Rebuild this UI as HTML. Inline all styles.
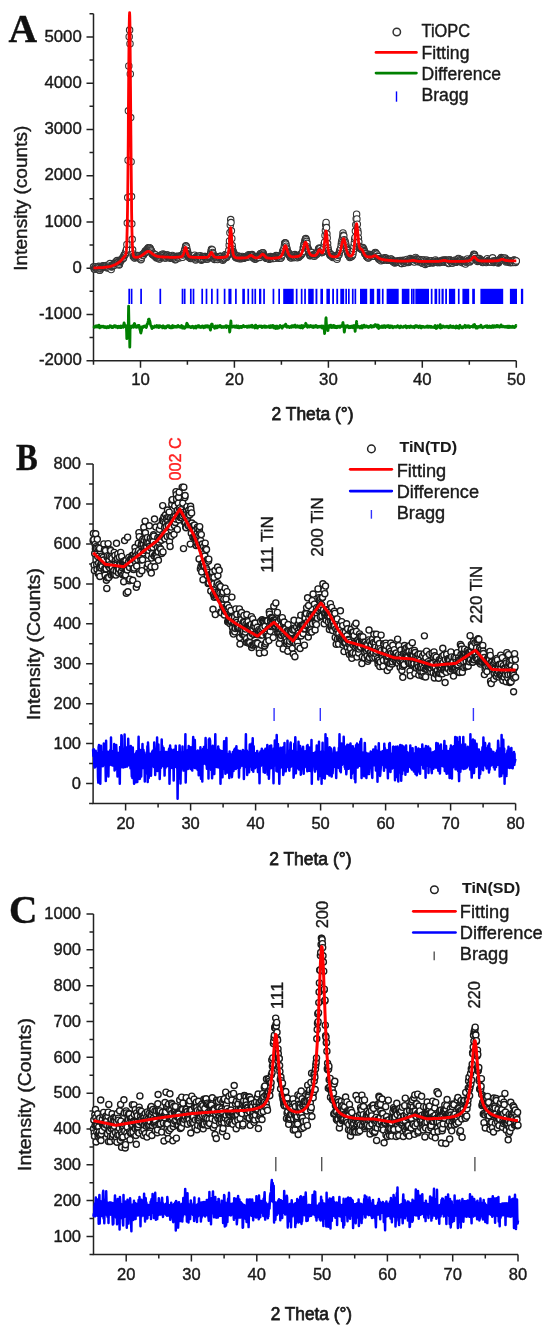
<!DOCTYPE html>
<html><head><meta charset="utf-8"><title>XRD Rietveld refinement</title>
<style>
html,body{margin:0;padding:0;background:#fff;}
svg{display:block;}
text{font-family:"Liberation Sans",Arial,sans-serif;stroke-width:0.4px;}
.ax{fill:none;stroke:#222;stroke-width:1.5;}
.oa circle{fill:#fff;stroke:#333;stroke-width:1.1;}
.ob circle{fill:#fff;stroke:#1a1a1a;stroke-width:1.35;}
.fitA{fill:none;stroke:#ff0000;stroke-width:2.8;stroke-linejoin:round;}
.fitB,.fitC{fill:none;stroke:#ff0000;stroke-width:3;stroke-linejoin:round;}
.difA{fill:none;stroke:#008000;stroke-width:2.8;stroke-linejoin:round;}
.difB{fill:none;stroke:#0000ff;stroke-width:2.5;stroke-linejoin:round;}
.bgA{stroke:#0000ff;stroke-width:1.7;}
</style></head>
<body><svg width="550" height="1330" viewBox="0 0 550 1330">
<rect width="550" height="1330" fill="#fff"/>
<g id="A"><path class="ax" d="M93.5,13.8V360.7H516.3"/><path class="ax" d="M86.5,360.7H93.5M86.5,314.5H93.5M86.5,268.2H93.5M86.5,221.9H93.5M86.5,175.7H93.5M86.5,129.4H93.5M86.5,83.2H93.5M86.5,36.9H93.5M89.5,337.6H93.5M89.5,291.3H93.5M89.5,245.1H93.5M89.5,198.8H93.5M89.5,152.5H93.5M89.5,106.3H93.5M89.5,60H93.5M89.5,13.8H93.5M140.5,360.7V367.7M234.4,360.7V367.7M328.4,360.7V367.7M422.3,360.7V367.7M516.3,360.7V367.7M93.5,360.7V364.7M187.4,360.7V364.7M281.4,360.7V364.7M375.3,360.7V364.7M469.3,360.7V364.7"/><text x="81.8" y="365.3" font-size="16.8" text-anchor="end" fill="#1a1a1a" stroke="#1a1a1a" >-2000</text><text x="81.8" y="319.1" font-size="16.8" text-anchor="end" fill="#1a1a1a" stroke="#1a1a1a" >-1000</text><text x="81.8" y="272.8" font-size="16.8" text-anchor="end" fill="#1a1a1a" stroke="#1a1a1a" >0</text><text x="81.8" y="226.5" font-size="16.8" text-anchor="end" fill="#1a1a1a" stroke="#1a1a1a" >1000</text><text x="81.8" y="180.3" font-size="16.8" text-anchor="end" fill="#1a1a1a" stroke="#1a1a1a" >2000</text><text x="81.8" y="134" font-size="16.8" text-anchor="end" fill="#1a1a1a" stroke="#1a1a1a" >3000</text><text x="81.8" y="87.8" font-size="16.8" text-anchor="end" fill="#1a1a1a" stroke="#1a1a1a" >4000</text><text x="81.8" y="41.5" font-size="16.8" text-anchor="end" fill="#1a1a1a" stroke="#1a1a1a" >5000</text><text x="140.5" y="384.8" font-size="16.8" text-anchor="middle" fill="#1a1a1a" stroke="#1a1a1a" >10</text><text x="234.4" y="384.8" font-size="16.8" text-anchor="middle" fill="#1a1a1a" stroke="#1a1a1a" >20</text><text x="328.4" y="384.8" font-size="16.8" text-anchor="middle" fill="#1a1a1a" stroke="#1a1a1a" >30</text><text x="422.3" y="384.8" font-size="16.8" text-anchor="middle" fill="#1a1a1a" stroke="#1a1a1a" >40</text><text x="516.3" y="384.8" font-size="16.8" text-anchor="middle" fill="#1a1a1a" stroke="#1a1a1a" >50</text><g class="oa"><circle cx="93.5" cy="267" r="3.2"/><circle cx="93.9" cy="266.8" r="3.2"/><circle cx="94.3" cy="269" r="3.2"/><circle cx="94.6" cy="268.9" r="3.2"/><circle cx="95" cy="269.1" r="3.2"/><circle cx="95.4" cy="267.7" r="3.2"/><circle cx="95.8" cy="266.7" r="3.2"/><circle cx="96.1" cy="266.8" r="3.2"/><circle cx="96.5" cy="268.1" r="3.2"/><circle cx="96.9" cy="268.7" r="3.2"/><circle cx="97.3" cy="268.4" r="3.2"/><circle cx="97.6" cy="268.3" r="3.2"/><circle cx="98" cy="267.8" r="3.2"/><circle cx="98.4" cy="267" r="3.2"/><circle cx="98.8" cy="266.3" r="3.2"/><circle cx="99.1" cy="267.2" r="3.2"/><circle cx="99.5" cy="270.3" r="3.2"/><circle cx="99.9" cy="270.3" r="3.2"/><circle cx="100.3" cy="269" r="3.2"/><circle cx="100.6" cy="268.3" r="3.2"/><circle cx="101" cy="267" r="3.2"/><circle cx="101.4" cy="267" r="3.2"/><circle cx="101.8" cy="266.5" r="3.2"/><circle cx="102.1" cy="266.3" r="3.2"/><circle cx="102.5" cy="266.6" r="3.2"/><circle cx="102.9" cy="266.4" r="3.2"/><circle cx="103.3" cy="266.1" r="3.2"/><circle cx="103.6" cy="265.9" r="3.2"/><circle cx="104" cy="266.9" r="3.2"/><circle cx="104.4" cy="266.7" r="3.2"/><circle cx="104.8" cy="265.7" r="3.2"/><circle cx="105.1" cy="265.9" r="3.2"/><circle cx="105.5" cy="266.5" r="3.2"/><circle cx="105.9" cy="267.1" r="3.2"/><circle cx="106.3" cy="265.4" r="3.2"/><circle cx="106.7" cy="266.3" r="3.2"/><circle cx="107" cy="266.2" r="3.2"/><circle cx="107.4" cy="268.1" r="3.2"/><circle cx="107.8" cy="267" r="3.2"/><circle cx="108.2" cy="267.5" r="3.2"/><circle cx="108.5" cy="266.5" r="3.2"/><circle cx="108.9" cy="267.5" r="3.2"/><circle cx="109.3" cy="265.7" r="3.2"/><circle cx="109.7" cy="265.1" r="3.2"/><circle cx="110" cy="263.6" r="3.2"/><circle cx="110.4" cy="265.7" r="3.2"/><circle cx="110.8" cy="267.2" r="3.2"/><circle cx="111.2" cy="269.5" r="3.2"/><circle cx="111.5" cy="267" r="3.2"/><circle cx="111.9" cy="266.4" r="3.2"/><circle cx="112.3" cy="265" r="3.2"/><circle cx="112.7" cy="266.3" r="3.2"/><circle cx="113" cy="265.4" r="3.2"/><circle cx="113.4" cy="265.3" r="3.2"/><circle cx="113.8" cy="264.8" r="3.2"/><circle cx="114.2" cy="264.6" r="3.2"/><circle cx="114.5" cy="265.2" r="3.2"/><circle cx="114.9" cy="264.1" r="3.2"/><circle cx="115.3" cy="262.7" r="3.2"/><circle cx="115.7" cy="262.1" r="3.2"/><circle cx="116" cy="263.3" r="3.2"/><circle cx="116.4" cy="262.5" r="3.2"/><circle cx="116.8" cy="261" r="3.2"/><circle cx="117.2" cy="260.6" r="3.2"/><circle cx="117.6" cy="261.7" r="3.2"/><circle cx="117.9" cy="263.3" r="3.2"/><circle cx="118.3" cy="262.3" r="3.2"/><circle cx="118.7" cy="264.3" r="3.2"/><circle cx="119.1" cy="265.1" r="3.2"/><circle cx="119.4" cy="264.3" r="3.2"/><circle cx="119.8" cy="262.8" r="3.2"/><circle cx="120.2" cy="261.4" r="3.2"/><circle cx="120.6" cy="260.5" r="3.2"/><circle cx="120.9" cy="259.7" r="3.2"/><circle cx="121.3" cy="260" r="3.2"/><circle cx="121.7" cy="259.2" r="3.2"/><circle cx="122.1" cy="259" r="3.2"/><circle cx="122.4" cy="258.8" r="3.2"/><circle cx="122.8" cy="257.8" r="3.2"/><circle cx="123.2" cy="258.4" r="3.2"/><circle cx="123.6" cy="257.7" r="3.2"/><circle cx="123.9" cy="255.9" r="3.2"/><circle cx="124.3" cy="254.9" r="3.2"/><circle cx="124.7" cy="255.1" r="3.2"/><circle cx="125.1" cy="254.4" r="3.2"/><circle cx="125.4" cy="253.1" r="3.2"/><circle cx="125.8" cy="252.5" r="3.2"/><circle cx="126.2" cy="250.5" r="3.2"/><circle cx="126.6" cy="249.2" r="3.2"/><circle cx="126.9" cy="244.4" r="3.2"/><circle cx="127.3" cy="223.1" r="3.2"/><circle cx="127.7" cy="197.6" r="3.2"/><circle cx="128.1" cy="160.2" r="3.2"/><circle cx="128.4" cy="110.8" r="3.2"/><circle cx="128.8" cy="65.9" r="3.2"/><circle cx="129.2" cy="36.7" r="3.2"/><circle cx="129.6" cy="30.1" r="3.2"/><circle cx="130" cy="43.7" r="3.2"/><circle cx="130.3" cy="73.9" r="3.2"/><circle cx="130.7" cy="117.6" r="3.2"/><circle cx="131.1" cy="161.7" r="3.2"/><circle cx="131.5" cy="196.6" r="3.2"/><circle cx="131.8" cy="223.8" r="3.2"/><circle cx="132.2" cy="239.3" r="3.2"/><circle cx="132.6" cy="249.8" r="3.2"/><circle cx="133" cy="254" r="3.2"/><circle cx="133.3" cy="256.4" r="3.2"/><circle cx="133.7" cy="256.4" r="3.2"/><circle cx="134.1" cy="257" r="3.2"/><circle cx="134.5" cy="257.7" r="3.2"/><circle cx="134.8" cy="258.1" r="3.2"/><circle cx="135.2" cy="256.9" r="3.2"/><circle cx="135.6" cy="255.9" r="3.2"/><circle cx="136" cy="255.5" r="3.2"/><circle cx="136.3" cy="257.2" r="3.2"/><circle cx="136.7" cy="256.7" r="3.2"/><circle cx="137.1" cy="257.1" r="3.2"/><circle cx="137.5" cy="255.6" r="3.2"/><circle cx="137.8" cy="257.3" r="3.2"/><circle cx="138.2" cy="256.3" r="3.2"/><circle cx="138.6" cy="256.4" r="3.2"/><circle cx="139" cy="255.9" r="3.2"/><circle cx="139.3" cy="256.9" r="3.2"/><circle cx="139.7" cy="258.2" r="3.2"/><circle cx="140.1" cy="258.1" r="3.2"/><circle cx="140.5" cy="259.1" r="3.2"/><circle cx="140.9" cy="259.8" r="3.2"/><circle cx="141.2" cy="258.9" r="3.2"/><circle cx="141.6" cy="257.2" r="3.2"/><circle cx="142" cy="254.9" r="3.2"/><circle cx="142.4" cy="254.5" r="3.2"/><circle cx="142.7" cy="255.1" r="3.2"/><circle cx="143.1" cy="254.8" r="3.2"/><circle cx="143.5" cy="255" r="3.2"/><circle cx="143.9" cy="253.4" r="3.2"/><circle cx="144.2" cy="253.4" r="3.2"/><circle cx="144.6" cy="252.9" r="3.2"/><circle cx="145" cy="251.7" r="3.2"/><circle cx="145.4" cy="251" r="3.2"/><circle cx="145.7" cy="251.1" r="3.2"/><circle cx="146.1" cy="251.9" r="3.2"/><circle cx="146.5" cy="251.6" r="3.2"/><circle cx="146.9" cy="249.7" r="3.2"/><circle cx="147.2" cy="249.5" r="3.2"/><circle cx="147.6" cy="249.4" r="3.2"/><circle cx="148" cy="248.3" r="3.2"/><circle cx="148.4" cy="247.8" r="3.2"/><circle cx="148.7" cy="248.4" r="3.2"/><circle cx="149.1" cy="247.9" r="3.2"/><circle cx="149.5" cy="247.9" r="3.2"/><circle cx="149.9" cy="247.9" r="3.2"/><circle cx="150.2" cy="248.8" r="3.2"/><circle cx="150.6" cy="250.1" r="3.2"/><circle cx="151" cy="250.2" r="3.2"/><circle cx="151.4" cy="251" r="3.2"/><circle cx="151.7" cy="252.2" r="3.2"/><circle cx="152.1" cy="254" r="3.2"/><circle cx="152.5" cy="254.3" r="3.2"/><circle cx="152.9" cy="254.3" r="3.2"/><circle cx="153.3" cy="253.5" r="3.2"/><circle cx="153.6" cy="254.7" r="3.2"/><circle cx="154" cy="255.1" r="3.2"/><circle cx="154.4" cy="255.9" r="3.2"/><circle cx="154.8" cy="254.5" r="3.2"/><circle cx="155.1" cy="254.9" r="3.2"/><circle cx="155.5" cy="255" r="3.2"/><circle cx="155.9" cy="256.9" r="3.2"/><circle cx="156.3" cy="257.3" r="3.2"/><circle cx="156.6" cy="258.1" r="3.2"/><circle cx="157" cy="257.1" r="3.2"/><circle cx="157.4" cy="257.4" r="3.2"/><circle cx="157.8" cy="257.3" r="3.2"/><circle cx="158.1" cy="256.9" r="3.2"/><circle cx="158.5" cy="258" r="3.2"/><circle cx="158.9" cy="258.3" r="3.2"/><circle cx="159.3" cy="258.9" r="3.2"/><circle cx="159.6" cy="257.8" r="3.2"/><circle cx="160" cy="258.8" r="3.2"/><circle cx="160.4" cy="257.4" r="3.2"/><circle cx="160.8" cy="256.3" r="3.2"/><circle cx="161.1" cy="255" r="3.2"/><circle cx="161.5" cy="254.9" r="3.2"/><circle cx="161.9" cy="255.3" r="3.2"/><circle cx="162.3" cy="255.1" r="3.2"/><circle cx="162.6" cy="254.8" r="3.2"/><circle cx="163" cy="254" r="3.2"/><circle cx="163.4" cy="254.8" r="3.2"/><circle cx="163.8" cy="255.4" r="3.2"/><circle cx="164.2" cy="256.7" r="3.2"/><circle cx="164.5" cy="257.5" r="3.2"/><circle cx="164.9" cy="257.5" r="3.2"/><circle cx="165.3" cy="257.9" r="3.2"/><circle cx="165.7" cy="258.1" r="3.2"/><circle cx="166" cy="256.9" r="3.2"/><circle cx="166.4" cy="255.4" r="3.2"/><circle cx="166.8" cy="255.3" r="3.2"/><circle cx="167.2" cy="255.6" r="3.2"/><circle cx="167.5" cy="255.1" r="3.2"/><circle cx="167.9" cy="255.5" r="3.2"/><circle cx="168.3" cy="257.2" r="3.2"/><circle cx="168.7" cy="256.7" r="3.2"/><circle cx="169" cy="256.5" r="3.2"/><circle cx="169.4" cy="256.3" r="3.2"/><circle cx="169.8" cy="257.2" r="3.2"/><circle cx="170.2" cy="258.3" r="3.2"/><circle cx="170.5" cy="257.6" r="3.2"/><circle cx="170.9" cy="257.5" r="3.2"/><circle cx="171.3" cy="257" r="3.2"/><circle cx="171.7" cy="256.6" r="3.2"/><circle cx="172" cy="256" r="3.2"/><circle cx="172.4" cy="255.4" r="3.2"/><circle cx="172.8" cy="256.4" r="3.2"/><circle cx="173.2" cy="256.9" r="3.2"/><circle cx="173.5" cy="257" r="3.2"/><circle cx="173.9" cy="257.2" r="3.2"/><circle cx="174.3" cy="258" r="3.2"/><circle cx="174.7" cy="258.6" r="3.2"/><circle cx="175" cy="259.5" r="3.2"/><circle cx="175.4" cy="259.7" r="3.2"/><circle cx="175.8" cy="259" r="3.2"/><circle cx="176.2" cy="259" r="3.2"/><circle cx="176.6" cy="257.5" r="3.2"/><circle cx="176.9" cy="256.2" r="3.2"/><circle cx="177.3" cy="256.6" r="3.2"/><circle cx="177.7" cy="256.7" r="3.2"/><circle cx="178.1" cy="257.6" r="3.2"/><circle cx="178.4" cy="258.1" r="3.2"/><circle cx="178.8" cy="256.6" r="3.2"/><circle cx="179.2" cy="256.6" r="3.2"/><circle cx="179.6" cy="256.5" r="3.2"/><circle cx="179.9" cy="257.7" r="3.2"/><circle cx="180.3" cy="256" r="3.2"/><circle cx="180.7" cy="255.9" r="3.2"/><circle cx="181.1" cy="256.2" r="3.2"/><circle cx="181.4" cy="256.1" r="3.2"/><circle cx="181.8" cy="256" r="3.2"/><circle cx="182.2" cy="257" r="3.2"/><circle cx="182.6" cy="257.3" r="3.2"/><circle cx="182.9" cy="255" r="3.2"/><circle cx="183.3" cy="253.7" r="3.2"/><circle cx="183.7" cy="253.6" r="3.2"/><circle cx="184.1" cy="252.9" r="3.2"/><circle cx="184.4" cy="251.6" r="3.2"/><circle cx="184.8" cy="250.1" r="3.2"/><circle cx="185.2" cy="248.7" r="3.2"/><circle cx="185.6" cy="246.6" r="3.2"/><circle cx="185.9" cy="245.7" r="3.2"/><circle cx="186.3" cy="246.4" r="3.2"/><circle cx="186.7" cy="248" r="3.2"/><circle cx="187.1" cy="250.4" r="3.2"/><circle cx="187.5" cy="251.6" r="3.2"/><circle cx="187.8" cy="253.8" r="3.2"/><circle cx="188.2" cy="254.3" r="3.2"/><circle cx="188.6" cy="254.6" r="3.2"/><circle cx="189" cy="255.8" r="3.2"/><circle cx="189.3" cy="257.4" r="3.2"/><circle cx="189.7" cy="257.7" r="3.2"/><circle cx="190.1" cy="257.8" r="3.2"/><circle cx="190.5" cy="258.3" r="3.2"/><circle cx="190.8" cy="258.5" r="3.2"/><circle cx="191.2" cy="257.6" r="3.2"/><circle cx="191.6" cy="257.7" r="3.2"/><circle cx="192" cy="256.1" r="3.2"/><circle cx="192.3" cy="257.2" r="3.2"/><circle cx="192.7" cy="257.6" r="3.2"/><circle cx="193.1" cy="258.4" r="3.2"/><circle cx="193.5" cy="258.2" r="3.2"/><circle cx="193.8" cy="257.5" r="3.2"/><circle cx="194.2" cy="256.7" r="3.2"/><circle cx="194.6" cy="255.2" r="3.2"/><circle cx="195" cy="257.7" r="3.2"/><circle cx="195.3" cy="258.5" r="3.2"/><circle cx="195.7" cy="260" r="3.2"/><circle cx="196.1" cy="259" r="3.2"/><circle cx="196.5" cy="257.8" r="3.2"/><circle cx="196.8" cy="256.2" r="3.2"/><circle cx="197.2" cy="257.5" r="3.2"/><circle cx="197.6" cy="256.6" r="3.2"/><circle cx="198" cy="258.3" r="3.2"/><circle cx="198.3" cy="256.9" r="3.2"/><circle cx="198.7" cy="257.2" r="3.2"/><circle cx="199.1" cy="256.6" r="3.2"/><circle cx="199.5" cy="256.6" r="3.2"/><circle cx="199.9" cy="256.5" r="3.2"/><circle cx="200.2" cy="255.8" r="3.2"/><circle cx="200.6" cy="257.2" r="3.2"/><circle cx="201" cy="258.4" r="3.2"/><circle cx="201.4" cy="260.2" r="3.2"/><circle cx="201.7" cy="259.4" r="3.2"/><circle cx="202.1" cy="258.9" r="3.2"/><circle cx="202.5" cy="256.5" r="3.2"/><circle cx="202.9" cy="256.8" r="3.2"/><circle cx="203.2" cy="257.2" r="3.2"/><circle cx="203.6" cy="258.8" r="3.2"/><circle cx="204" cy="256.8" r="3.2"/><circle cx="204.4" cy="256.9" r="3.2"/><circle cx="204.7" cy="256.5" r="3.2"/><circle cx="205.1" cy="256.9" r="3.2"/><circle cx="205.5" cy="256.6" r="3.2"/><circle cx="205.9" cy="257.6" r="3.2"/><circle cx="206.2" cy="259.1" r="3.2"/><circle cx="206.6" cy="259" r="3.2"/><circle cx="207" cy="258.8" r="3.2"/><circle cx="207.4" cy="257.9" r="3.2"/><circle cx="207.7" cy="259" r="3.2"/><circle cx="208.1" cy="258" r="3.2"/><circle cx="208.5" cy="257.6" r="3.2"/><circle cx="208.9" cy="257.1" r="3.2"/><circle cx="209.2" cy="256.8" r="3.2"/><circle cx="209.6" cy="256.8" r="3.2"/><circle cx="210" cy="256.4" r="3.2"/><circle cx="210.4" cy="255.3" r="3.2"/><circle cx="210.7" cy="253.2" r="3.2"/><circle cx="211.1" cy="250.9" r="3.2"/><circle cx="211.5" cy="249.3" r="3.2"/><circle cx="211.9" cy="249.7" r="3.2"/><circle cx="212.3" cy="249.9" r="3.2"/><circle cx="212.6" cy="252.4" r="3.2"/><circle cx="213" cy="253.5" r="3.2"/><circle cx="213.4" cy="255.2" r="3.2"/><circle cx="213.8" cy="256.8" r="3.2"/><circle cx="214.1" cy="258.4" r="3.2"/><circle cx="214.5" cy="259.4" r="3.2"/><circle cx="214.9" cy="258.8" r="3.2"/><circle cx="215.3" cy="257.2" r="3.2"/><circle cx="215.6" cy="257" r="3.2"/><circle cx="216" cy="256.8" r="3.2"/><circle cx="216.4" cy="257.4" r="3.2"/><circle cx="216.8" cy="257.8" r="3.2"/><circle cx="217.1" cy="259.3" r="3.2"/><circle cx="217.5" cy="259.5" r="3.2"/><circle cx="217.9" cy="258.1" r="3.2"/><circle cx="218.3" cy="257.1" r="3.2"/><circle cx="218.6" cy="257" r="3.2"/><circle cx="219" cy="256.9" r="3.2"/><circle cx="219.4" cy="257.4" r="3.2"/><circle cx="219.8" cy="256.5" r="3.2"/><circle cx="220.1" cy="256.4" r="3.2"/><circle cx="220.5" cy="256.3" r="3.2"/><circle cx="220.9" cy="256.6" r="3.2"/><circle cx="221.3" cy="258.3" r="3.2"/><circle cx="221.6" cy="258" r="3.2"/><circle cx="222" cy="259.1" r="3.2"/><circle cx="222.4" cy="258.7" r="3.2"/><circle cx="222.8" cy="260.3" r="3.2"/><circle cx="223.2" cy="259.2" r="3.2"/><circle cx="223.5" cy="258.6" r="3.2"/><circle cx="223.9" cy="257.6" r="3.2"/><circle cx="224.3" cy="257.5" r="3.2"/><circle cx="224.7" cy="258" r="3.2"/><circle cx="225" cy="256.2" r="3.2"/><circle cx="225.4" cy="254.7" r="3.2"/><circle cx="225.8" cy="254.4" r="3.2"/><circle cx="226.2" cy="255.7" r="3.2"/><circle cx="226.5" cy="257.4" r="3.2"/><circle cx="226.9" cy="256.2" r="3.2"/><circle cx="227.3" cy="255.8" r="3.2"/><circle cx="227.7" cy="254.7" r="3.2"/><circle cx="228" cy="254.6" r="3.2"/><circle cx="228.4" cy="253.2" r="3.2"/><circle cx="228.8" cy="250.3" r="3.2"/><circle cx="229.2" cy="245.1" r="3.2"/><circle cx="229.5" cy="240.9" r="3.2"/><circle cx="229.9" cy="232.7" r="3.2"/><circle cx="230.3" cy="225" r="3.2"/><circle cx="230.7" cy="219.6" r="3.2"/><circle cx="231" cy="222.6" r="3.2"/><circle cx="231.4" cy="230.8" r="3.2"/><circle cx="231.8" cy="238.5" r="3.2"/><circle cx="232.2" cy="245.6" r="3.2"/><circle cx="232.5" cy="249.1" r="3.2"/><circle cx="232.9" cy="251.2" r="3.2"/><circle cx="233.3" cy="252.1" r="3.2"/><circle cx="233.7" cy="252.8" r="3.2"/><circle cx="234" cy="253.7" r="3.2"/><circle cx="234.4" cy="254.4" r="3.2"/><circle cx="234.8" cy="255.3" r="3.2"/><circle cx="235.2" cy="256.2" r="3.2"/><circle cx="235.6" cy="257.1" r="3.2"/><circle cx="235.9" cy="257.5" r="3.2"/><circle cx="236.3" cy="257.2" r="3.2"/><circle cx="236.7" cy="258" r="3.2"/><circle cx="237.1" cy="257.6" r="3.2"/><circle cx="237.4" cy="257.3" r="3.2"/><circle cx="237.8" cy="256.1" r="3.2"/><circle cx="238.2" cy="256.2" r="3.2"/><circle cx="238.6" cy="257.4" r="3.2"/><circle cx="238.9" cy="258.3" r="3.2"/><circle cx="239.3" cy="258.7" r="3.2"/><circle cx="239.7" cy="257.9" r="3.2"/><circle cx="240.1" cy="256.5" r="3.2"/><circle cx="240.4" cy="256.9" r="3.2"/><circle cx="240.8" cy="257.6" r="3.2"/><circle cx="241.2" cy="258.7" r="3.2"/><circle cx="241.6" cy="257.4" r="3.2"/><circle cx="241.9" cy="257.9" r="3.2"/><circle cx="242.3" cy="256.4" r="3.2"/><circle cx="242.7" cy="257.8" r="3.2"/><circle cx="243.1" cy="257.3" r="3.2"/><circle cx="243.4" cy="258" r="3.2"/><circle cx="243.8" cy="258.2" r="3.2"/><circle cx="244.2" cy="257.7" r="3.2"/><circle cx="244.6" cy="257.6" r="3.2"/><circle cx="244.9" cy="257.2" r="3.2"/><circle cx="245.3" cy="257.3" r="3.2"/><circle cx="245.7" cy="257.6" r="3.2"/><circle cx="246.1" cy="256.4" r="3.2"/><circle cx="246.5" cy="257.1" r="3.2"/><circle cx="246.8" cy="256.8" r="3.2"/><circle cx="247.2" cy="256.9" r="3.2"/><circle cx="247.6" cy="256.7" r="3.2"/><circle cx="248" cy="255.4" r="3.2"/><circle cx="248.3" cy="256" r="3.2"/><circle cx="248.7" cy="254.7" r="3.2"/><circle cx="249.1" cy="256.1" r="3.2"/><circle cx="249.5" cy="255.7" r="3.2"/><circle cx="249.8" cy="256.7" r="3.2"/><circle cx="250.2" cy="254.8" r="3.2"/><circle cx="250.6" cy="254.9" r="3.2"/><circle cx="251" cy="254.7" r="3.2"/><circle cx="251.3" cy="255.8" r="3.2"/><circle cx="251.7" cy="255.6" r="3.2"/><circle cx="252.1" cy="254.6" r="3.2"/><circle cx="252.5" cy="255.3" r="3.2"/><circle cx="252.8" cy="255.8" r="3.2"/><circle cx="253.2" cy="257.2" r="3.2"/><circle cx="253.6" cy="258.3" r="3.2"/><circle cx="254" cy="257.8" r="3.2"/><circle cx="254.3" cy="256.8" r="3.2"/><circle cx="254.7" cy="257.6" r="3.2"/><circle cx="255.1" cy="259.3" r="3.2"/><circle cx="255.5" cy="258.5" r="3.2"/><circle cx="255.8" cy="258.8" r="3.2"/><circle cx="256.2" cy="257.9" r="3.2"/><circle cx="256.6" cy="257.6" r="3.2"/><circle cx="257" cy="257.1" r="3.2"/><circle cx="257.3" cy="257.6" r="3.2"/><circle cx="257.7" cy="256.2" r="3.2"/><circle cx="258.1" cy="256.4" r="3.2"/><circle cx="258.5" cy="256.3" r="3.2"/><circle cx="258.9" cy="257" r="3.2"/><circle cx="259.2" cy="257.2" r="3.2"/><circle cx="259.6" cy="257.4" r="3.2"/><circle cx="260" cy="255.8" r="3.2"/><circle cx="260.4" cy="253.8" r="3.2"/><circle cx="260.7" cy="253.7" r="3.2"/><circle cx="261.1" cy="255.1" r="3.2"/><circle cx="261.5" cy="255" r="3.2"/><circle cx="261.9" cy="255.1" r="3.2"/><circle cx="262.2" cy="253.5" r="3.2"/><circle cx="262.6" cy="252.8" r="3.2"/><circle cx="263" cy="252.8" r="3.2"/><circle cx="263.4" cy="254.1" r="3.2"/><circle cx="263.7" cy="255.3" r="3.2"/><circle cx="264.1" cy="255.9" r="3.2"/><circle cx="264.5" cy="256.3" r="3.2"/><circle cx="264.9" cy="257.1" r="3.2"/><circle cx="265.2" cy="257.2" r="3.2"/><circle cx="265.6" cy="257.2" r="3.2"/><circle cx="266" cy="258.2" r="3.2"/><circle cx="266.4" cy="258" r="3.2"/><circle cx="266.7" cy="257.7" r="3.2"/><circle cx="267.1" cy="258.1" r="3.2"/><circle cx="267.5" cy="258" r="3.2"/><circle cx="267.9" cy="257.9" r="3.2"/><circle cx="268.2" cy="257.6" r="3.2"/><circle cx="268.6" cy="258.4" r="3.2"/><circle cx="269" cy="259" r="3.2"/><circle cx="269.4" cy="259.3" r="3.2"/><circle cx="269.8" cy="258.6" r="3.2"/><circle cx="270.1" cy="257.4" r="3.2"/><circle cx="270.5" cy="256.5" r="3.2"/><circle cx="270.9" cy="256.7" r="3.2"/><circle cx="271.3" cy="257.5" r="3.2"/><circle cx="271.6" cy="258.2" r="3.2"/><circle cx="272" cy="257.7" r="3.2"/><circle cx="272.4" cy="258.4" r="3.2"/><circle cx="272.8" cy="257.7" r="3.2"/><circle cx="273.1" cy="257.7" r="3.2"/><circle cx="273.5" cy="258.6" r="3.2"/><circle cx="273.9" cy="257.3" r="3.2"/><circle cx="274.3" cy="256.8" r="3.2"/><circle cx="274.6" cy="257.2" r="3.2"/><circle cx="275" cy="257.9" r="3.2"/><circle cx="275.4" cy="258.3" r="3.2"/><circle cx="275.8" cy="256.5" r="3.2"/><circle cx="276.1" cy="255.5" r="3.2"/><circle cx="276.5" cy="256.1" r="3.2"/><circle cx="276.9" cy="256.1" r="3.2"/><circle cx="277.3" cy="256.1" r="3.2"/><circle cx="277.6" cy="257.1" r="3.2"/><circle cx="278" cy="257.6" r="3.2"/><circle cx="278.4" cy="258.1" r="3.2"/><circle cx="278.8" cy="257.5" r="3.2"/><circle cx="279.1" cy="257.8" r="3.2"/><circle cx="279.5" cy="258" r="3.2"/><circle cx="279.9" cy="257.8" r="3.2"/><circle cx="280.3" cy="257.9" r="3.2"/><circle cx="280.6" cy="257.9" r="3.2"/><circle cx="281" cy="258" r="3.2"/><circle cx="281.4" cy="256.7" r="3.2"/><circle cx="281.8" cy="255.3" r="3.2"/><circle cx="282.2" cy="254.8" r="3.2"/><circle cx="282.5" cy="252.6" r="3.2"/><circle cx="282.9" cy="251.1" r="3.2"/><circle cx="283.3" cy="250.2" r="3.2"/><circle cx="283.7" cy="250.9" r="3.2"/><circle cx="284" cy="248.5" r="3.2"/><circle cx="284.4" cy="245.9" r="3.2"/><circle cx="284.8" cy="242.9" r="3.2"/><circle cx="285.2" cy="243" r="3.2"/><circle cx="285.5" cy="243.1" r="3.2"/><circle cx="285.9" cy="244.2" r="3.2"/><circle cx="286.3" cy="246.2" r="3.2"/><circle cx="286.7" cy="247.9" r="3.2"/><circle cx="287" cy="249.2" r="3.2"/><circle cx="287.4" cy="251.2" r="3.2"/><circle cx="287.8" cy="251.9" r="3.2"/><circle cx="288.2" cy="252.6" r="3.2"/><circle cx="288.5" cy="253.4" r="3.2"/><circle cx="288.9" cy="253.9" r="3.2"/><circle cx="289.3" cy="255.2" r="3.2"/><circle cx="289.7" cy="255.3" r="3.2"/><circle cx="290" cy="256.1" r="3.2"/><circle cx="290.4" cy="257.4" r="3.2"/><circle cx="290.8" cy="257.5" r="3.2"/><circle cx="291.2" cy="258.1" r="3.2"/><circle cx="291.5" cy="257" r="3.2"/><circle cx="291.9" cy="256.1" r="3.2"/><circle cx="292.3" cy="255.2" r="3.2"/><circle cx="292.7" cy="255.7" r="3.2"/><circle cx="293" cy="255.5" r="3.2"/><circle cx="293.4" cy="256.5" r="3.2"/><circle cx="293.8" cy="257.6" r="3.2"/><circle cx="294.2" cy="257.6" r="3.2"/><circle cx="294.6" cy="257.1" r="3.2"/><circle cx="294.9" cy="254.6" r="3.2"/><circle cx="295.3" cy="255.8" r="3.2"/><circle cx="295.7" cy="256.4" r="3.2"/><circle cx="296.1" cy="256" r="3.2"/><circle cx="296.4" cy="255.8" r="3.2"/><circle cx="296.8" cy="256.7" r="3.2"/><circle cx="297.2" cy="257.8" r="3.2"/><circle cx="297.6" cy="255.6" r="3.2"/><circle cx="297.9" cy="256.2" r="3.2"/><circle cx="298.3" cy="256" r="3.2"/><circle cx="298.7" cy="257.2" r="3.2"/><circle cx="299.1" cy="256.7" r="3.2"/><circle cx="299.4" cy="256.3" r="3.2"/><circle cx="299.8" cy="255.4" r="3.2"/><circle cx="300.2" cy="255.1" r="3.2"/><circle cx="300.6" cy="255.1" r="3.2"/><circle cx="300.9" cy="255.3" r="3.2"/><circle cx="301.3" cy="254.2" r="3.2"/><circle cx="301.7" cy="253.7" r="3.2"/><circle cx="302.1" cy="252.7" r="3.2"/><circle cx="302.4" cy="252.9" r="3.2"/><circle cx="302.8" cy="251.5" r="3.2"/><circle cx="303.2" cy="247.9" r="3.2"/><circle cx="303.6" cy="247.1" r="3.2"/><circle cx="303.9" cy="244.5" r="3.2"/><circle cx="304.3" cy="244.3" r="3.2"/><circle cx="304.7" cy="241.8" r="3.2"/><circle cx="305.1" cy="240.2" r="3.2"/><circle cx="305.5" cy="239" r="3.2"/><circle cx="305.8" cy="238.6" r="3.2"/><circle cx="306.2" cy="239.7" r="3.2"/><circle cx="306.6" cy="241.3" r="3.2"/><circle cx="307" cy="243.3" r="3.2"/><circle cx="307.3" cy="246.7" r="3.2"/><circle cx="307.7" cy="248.2" r="3.2"/><circle cx="308.1" cy="248.8" r="3.2"/><circle cx="308.5" cy="250.1" r="3.2"/><circle cx="308.8" cy="251.5" r="3.2"/><circle cx="309.2" cy="253.4" r="3.2"/><circle cx="309.6" cy="254.1" r="3.2"/><circle cx="310" cy="255.4" r="3.2"/><circle cx="310.3" cy="255.8" r="3.2"/><circle cx="310.7" cy="255.3" r="3.2"/><circle cx="311.1" cy="253.6" r="3.2"/><circle cx="311.5" cy="252.3" r="3.2"/><circle cx="311.8" cy="252.7" r="3.2"/><circle cx="312.2" cy="255" r="3.2"/><circle cx="312.6" cy="255.5" r="3.2"/><circle cx="313" cy="255.3" r="3.2"/><circle cx="313.3" cy="255.4" r="3.2"/><circle cx="313.7" cy="255.7" r="3.2"/><circle cx="314.1" cy="255.6" r="3.2"/><circle cx="314.5" cy="256.3" r="3.2"/><circle cx="314.8" cy="255" r="3.2"/><circle cx="315.2" cy="254.5" r="3.2"/><circle cx="315.6" cy="253.5" r="3.2"/><circle cx="316" cy="253.4" r="3.2"/><circle cx="316.3" cy="254.4" r="3.2"/><circle cx="316.7" cy="254.2" r="3.2"/><circle cx="317.1" cy="253.2" r="3.2"/><circle cx="317.5" cy="252.5" r="3.2"/><circle cx="317.9" cy="252.3" r="3.2"/><circle cx="318.2" cy="250.8" r="3.2"/><circle cx="318.6" cy="248.8" r="3.2"/><circle cx="319" cy="249" r="3.2"/><circle cx="319.4" cy="248" r="3.2"/><circle cx="319.7" cy="249.5" r="3.2"/><circle cx="320.1" cy="248.6" r="3.2"/><circle cx="320.5" cy="250.9" r="3.2"/><circle cx="320.9" cy="251.1" r="3.2"/><circle cx="321.2" cy="252.5" r="3.2"/><circle cx="321.6" cy="251.3" r="3.2"/><circle cx="322" cy="252.7" r="3.2"/><circle cx="322.4" cy="251.6" r="3.2"/><circle cx="322.7" cy="252" r="3.2"/><circle cx="323.1" cy="251.5" r="3.2"/><circle cx="323.5" cy="250.6" r="3.2"/><circle cx="323.9" cy="247.2" r="3.2"/><circle cx="324.2" cy="243.9" r="3.2"/><circle cx="324.6" cy="242.2" r="3.2"/><circle cx="325" cy="235.5" r="3.2"/><circle cx="325.4" cy="230.5" r="3.2"/><circle cx="325.7" cy="225.1" r="3.2"/><circle cx="326.1" cy="222.4" r="3.2"/><circle cx="326.5" cy="227.6" r="3.2"/><circle cx="326.9" cy="233.8" r="3.2"/><circle cx="327.2" cy="238" r="3.2"/><circle cx="327.6" cy="243.6" r="3.2"/><circle cx="328" cy="247.8" r="3.2"/><circle cx="328.4" cy="250.3" r="3.2"/><circle cx="328.8" cy="252.4" r="3.2"/><circle cx="329.1" cy="252.9" r="3.2"/><circle cx="329.5" cy="253.1" r="3.2"/><circle cx="329.9" cy="254.8" r="3.2"/><circle cx="330.3" cy="255.6" r="3.2"/><circle cx="330.6" cy="254.9" r="3.2"/><circle cx="331" cy="254.8" r="3.2"/><circle cx="331.4" cy="254.7" r="3.2"/><circle cx="331.8" cy="255.2" r="3.2"/><circle cx="332.1" cy="256.4" r="3.2"/><circle cx="332.5" cy="256.8" r="3.2"/><circle cx="332.9" cy="257.5" r="3.2"/><circle cx="333.3" cy="256.2" r="3.2"/><circle cx="333.6" cy="256.8" r="3.2"/><circle cx="334" cy="257.3" r="3.2"/><circle cx="334.4" cy="256.8" r="3.2"/><circle cx="334.8" cy="256.5" r="3.2"/><circle cx="335.1" cy="256.3" r="3.2"/><circle cx="335.5" cy="256.4" r="3.2"/><circle cx="335.9" cy="256.5" r="3.2"/><circle cx="336.3" cy="257.2" r="3.2"/><circle cx="336.6" cy="258.4" r="3.2"/><circle cx="337" cy="259.2" r="3.2"/><circle cx="337.4" cy="257.3" r="3.2"/><circle cx="337.8" cy="255.2" r="3.2"/><circle cx="338.1" cy="254.7" r="3.2"/><circle cx="338.5" cy="254.7" r="3.2"/><circle cx="338.9" cy="254.7" r="3.2"/><circle cx="339.3" cy="252.8" r="3.2"/><circle cx="339.6" cy="251.3" r="3.2"/><circle cx="340" cy="249.9" r="3.2"/><circle cx="340.4" cy="250.1" r="3.2"/><circle cx="340.8" cy="248" r="3.2"/><circle cx="341.2" cy="244.9" r="3.2"/><circle cx="341.5" cy="242.5" r="3.2"/><circle cx="341.9" cy="241" r="3.2"/><circle cx="342.3" cy="239.2" r="3.2"/><circle cx="342.7" cy="236.8" r="3.2"/><circle cx="343" cy="232.9" r="3.2"/><circle cx="343.4" cy="235.2" r="3.2"/><circle cx="343.8" cy="235.8" r="3.2"/><circle cx="344.2" cy="239.7" r="3.2"/><circle cx="344.5" cy="241.5" r="3.2"/><circle cx="344.9" cy="241" r="3.2"/><circle cx="345.3" cy="242.5" r="3.2"/><circle cx="345.7" cy="243.9" r="3.2"/><circle cx="346" cy="245.9" r="3.2"/><circle cx="346.4" cy="247.8" r="3.2"/><circle cx="346.8" cy="249.4" r="3.2"/><circle cx="347.2" cy="250.5" r="3.2"/><circle cx="347.5" cy="252.6" r="3.2"/><circle cx="347.9" cy="253" r="3.2"/><circle cx="348.3" cy="255" r="3.2"/><circle cx="348.7" cy="255.2" r="3.2"/><circle cx="349" cy="255.7" r="3.2"/><circle cx="349.4" cy="255.6" r="3.2"/><circle cx="349.8" cy="257.6" r="3.2"/><circle cx="350.2" cy="257.1" r="3.2"/><circle cx="350.5" cy="256.6" r="3.2"/><circle cx="350.9" cy="256.5" r="3.2"/><circle cx="351.3" cy="255.6" r="3.2"/><circle cx="351.7" cy="256.5" r="3.2"/><circle cx="352.1" cy="255.4" r="3.2"/><circle cx="352.4" cy="255.2" r="3.2"/><circle cx="352.8" cy="254.3" r="3.2"/><circle cx="353.2" cy="251.7" r="3.2"/><circle cx="353.6" cy="249" r="3.2"/><circle cx="353.9" cy="246.2" r="3.2"/><circle cx="354.3" cy="243" r="3.2"/><circle cx="354.7" cy="238.9" r="3.2"/><circle cx="355.1" cy="237.5" r="3.2"/><circle cx="355.4" cy="231.1" r="3.2"/><circle cx="355.8" cy="224.7" r="3.2"/><circle cx="356.2" cy="218.7" r="3.2"/><circle cx="356.6" cy="214.2" r="3.2"/><circle cx="356.9" cy="218.9" r="3.2"/><circle cx="357.3" cy="224.2" r="3.2"/><circle cx="357.7" cy="230.3" r="3.2"/><circle cx="358.1" cy="232.9" r="3.2"/><circle cx="358.4" cy="237.9" r="3.2"/><circle cx="358.8" cy="241.8" r="3.2"/><circle cx="359.2" cy="246.3" r="3.2"/><circle cx="359.6" cy="247.4" r="3.2"/><circle cx="359.9" cy="248.3" r="3.2"/><circle cx="360.3" cy="248.4" r="3.2"/><circle cx="360.7" cy="248.3" r="3.2"/><circle cx="361.1" cy="248.3" r="3.2"/><circle cx="361.4" cy="249" r="3.2"/><circle cx="361.8" cy="249.6" r="3.2"/><circle cx="362.2" cy="249.8" r="3.2"/><circle cx="362.6" cy="249.3" r="3.2"/><circle cx="362.9" cy="247.6" r="3.2"/><circle cx="363.3" cy="249" r="3.2"/><circle cx="363.7" cy="249.1" r="3.2"/><circle cx="364.1" cy="250.6" r="3.2"/><circle cx="364.5" cy="251.6" r="3.2"/><circle cx="364.8" cy="253.7" r="3.2"/><circle cx="365.2" cy="253.1" r="3.2"/><circle cx="365.6" cy="254.2" r="3.2"/><circle cx="366" cy="253.6" r="3.2"/><circle cx="366.3" cy="255.3" r="3.2"/><circle cx="366.7" cy="256.4" r="3.2"/><circle cx="367.1" cy="257.1" r="3.2"/><circle cx="367.5" cy="257.1" r="3.2"/><circle cx="367.8" cy="257.5" r="3.2"/><circle cx="368.2" cy="258" r="3.2"/><circle cx="368.6" cy="257.7" r="3.2"/><circle cx="369" cy="256.7" r="3.2"/><circle cx="369.3" cy="254.5" r="3.2"/><circle cx="369.7" cy="254.4" r="3.2"/><circle cx="370.1" cy="254.9" r="3.2"/><circle cx="370.5" cy="255.8" r="3.2"/><circle cx="370.8" cy="254.7" r="3.2"/><circle cx="371.2" cy="254.9" r="3.2"/><circle cx="371.6" cy="255.1" r="3.2"/><circle cx="372" cy="255.5" r="3.2"/><circle cx="372.3" cy="255.3" r="3.2"/><circle cx="372.7" cy="256.1" r="3.2"/><circle cx="373.1" cy="255.4" r="3.2"/><circle cx="373.5" cy="255.9" r="3.2"/><circle cx="373.8" cy="256.2" r="3.2"/><circle cx="374.2" cy="255.9" r="3.2"/><circle cx="374.6" cy="254.2" r="3.2"/><circle cx="375" cy="252.8" r="3.2"/><circle cx="375.4" cy="252.4" r="3.2"/><circle cx="375.7" cy="253.3" r="3.2"/><circle cx="376.1" cy="254.7" r="3.2"/><circle cx="376.5" cy="254.9" r="3.2"/><circle cx="376.9" cy="254.2" r="3.2"/><circle cx="377.2" cy="256.3" r="3.2"/><circle cx="377.6" cy="256.2" r="3.2"/><circle cx="378" cy="256.9" r="3.2"/><circle cx="378.4" cy="256.6" r="3.2"/><circle cx="378.7" cy="258.9" r="3.2"/><circle cx="379.1" cy="258.8" r="3.2"/><circle cx="379.5" cy="259.4" r="3.2"/><circle cx="379.9" cy="259.1" r="3.2"/><circle cx="380.2" cy="259.7" r="3.2"/><circle cx="380.6" cy="259.4" r="3.2"/><circle cx="381" cy="260.8" r="3.2"/><circle cx="381.4" cy="259.3" r="3.2"/><circle cx="381.7" cy="259" r="3.2"/><circle cx="382.1" cy="258.4" r="3.2"/><circle cx="382.5" cy="259.1" r="3.2"/><circle cx="382.9" cy="260.1" r="3.2"/><circle cx="383.2" cy="260.2" r="3.2"/><circle cx="383.6" cy="259.8" r="3.2"/><circle cx="384" cy="259.4" r="3.2"/><circle cx="384.4" cy="258.1" r="3.2"/><circle cx="384.7" cy="257.7" r="3.2"/><circle cx="385.1" cy="258.3" r="3.2"/><circle cx="385.5" cy="258.7" r="3.2"/><circle cx="385.9" cy="258.4" r="3.2"/><circle cx="386.2" cy="258.3" r="3.2"/><circle cx="386.6" cy="259.4" r="3.2"/><circle cx="387" cy="260.1" r="3.2"/><circle cx="387.4" cy="259.9" r="3.2"/><circle cx="387.8" cy="259.8" r="3.2"/><circle cx="388.1" cy="259.9" r="3.2"/><circle cx="388.5" cy="260.2" r="3.2"/><circle cx="388.9" cy="260.2" r="3.2"/><circle cx="389.3" cy="260" r="3.2"/><circle cx="389.6" cy="260.2" r="3.2"/><circle cx="390" cy="260.1" r="3.2"/><circle cx="390.4" cy="260" r="3.2"/><circle cx="390.8" cy="259" r="3.2"/><circle cx="391.1" cy="259.5" r="3.2"/><circle cx="391.5" cy="259.2" r="3.2"/><circle cx="391.9" cy="260.6" r="3.2"/><circle cx="392.3" cy="260.2" r="3.2"/><circle cx="392.6" cy="261.2" r="3.2"/><circle cx="393" cy="261.3" r="3.2"/><circle cx="393.4" cy="261.5" r="3.2"/><circle cx="393.8" cy="261.3" r="3.2"/><circle cx="394.1" cy="262.5" r="3.2"/><circle cx="394.5" cy="262.1" r="3.2"/><circle cx="394.9" cy="263.1" r="3.2"/><circle cx="395.3" cy="262.2" r="3.2"/><circle cx="395.6" cy="261.9" r="3.2"/><circle cx="396" cy="261.5" r="3.2"/><circle cx="396.4" cy="261.3" r="3.2"/><circle cx="396.8" cy="261.2" r="3.2"/><circle cx="397.1" cy="262.1" r="3.2"/><circle cx="397.5" cy="261.6" r="3.2"/><circle cx="397.9" cy="261.6" r="3.2"/><circle cx="398.3" cy="261.3" r="3.2"/><circle cx="398.6" cy="261.4" r="3.2"/><circle cx="399" cy="262" r="3.2"/><circle cx="399.4" cy="261" r="3.2"/><circle cx="399.8" cy="261" r="3.2"/><circle cx="400.2" cy="260.4" r="3.2"/><circle cx="400.5" cy="261.3" r="3.2"/><circle cx="400.9" cy="261.4" r="3.2"/><circle cx="401.3" cy="263.4" r="3.2"/><circle cx="401.7" cy="262.4" r="3.2"/><circle cx="402" cy="263.4" r="3.2"/><circle cx="402.4" cy="261" r="3.2"/><circle cx="402.8" cy="261.4" r="3.2"/><circle cx="403.2" cy="260.3" r="3.2"/><circle cx="403.5" cy="260.9" r="3.2"/><circle cx="403.9" cy="262" r="3.2"/><circle cx="404.3" cy="262.9" r="3.2"/><circle cx="404.7" cy="262.8" r="3.2"/><circle cx="405" cy="261.4" r="3.2"/><circle cx="405.4" cy="260.6" r="3.2"/><circle cx="405.8" cy="261" r="3.2"/><circle cx="406.2" cy="261.1" r="3.2"/><circle cx="406.5" cy="261" r="3.2"/><circle cx="406.9" cy="259.5" r="3.2"/><circle cx="407.3" cy="261.1" r="3.2"/><circle cx="407.7" cy="261.9" r="3.2"/><circle cx="408" cy="262.6" r="3.2"/><circle cx="408.4" cy="261.5" r="3.2"/><circle cx="408.8" cy="262" r="3.2"/><circle cx="409.2" cy="261.7" r="3.2"/><circle cx="409.5" cy="261.4" r="3.2"/><circle cx="409.9" cy="259.8" r="3.2"/><circle cx="410.3" cy="258.6" r="3.2"/><circle cx="410.7" cy="259.8" r="3.2"/><circle cx="411.1" cy="260" r="3.2"/><circle cx="411.4" cy="261.4" r="3.2"/><circle cx="411.8" cy="260.7" r="3.2"/><circle cx="412.2" cy="260.6" r="3.2"/><circle cx="412.6" cy="260.5" r="3.2"/><circle cx="412.9" cy="259.6" r="3.2"/><circle cx="413.3" cy="260.4" r="3.2"/><circle cx="413.7" cy="260.7" r="3.2"/><circle cx="414.1" cy="261.5" r="3.2"/><circle cx="414.4" cy="262" r="3.2"/><circle cx="414.8" cy="259.9" r="3.2"/><circle cx="415.2" cy="259" r="3.2"/><circle cx="415.6" cy="257.5" r="3.2"/><circle cx="415.9" cy="259.1" r="3.2"/><circle cx="416.3" cy="259.3" r="3.2"/><circle cx="416.7" cy="260.5" r="3.2"/><circle cx="417.1" cy="259.5" r="3.2"/><circle cx="417.4" cy="260.6" r="3.2"/><circle cx="417.8" cy="261.3" r="3.2"/><circle cx="418.2" cy="261.7" r="3.2"/><circle cx="418.6" cy="261.4" r="3.2"/><circle cx="418.9" cy="260.1" r="3.2"/><circle cx="419.3" cy="259.4" r="3.2"/><circle cx="419.7" cy="259.7" r="3.2"/><circle cx="420.1" cy="261" r="3.2"/><circle cx="420.4" cy="261.8" r="3.2"/><circle cx="420.8" cy="261.4" r="3.2"/><circle cx="421.2" cy="260.9" r="3.2"/><circle cx="421.6" cy="260.1" r="3.2"/><circle cx="421.9" cy="261.6" r="3.2"/><circle cx="422.3" cy="263.2" r="3.2"/><circle cx="422.7" cy="263" r="3.2"/><circle cx="423.1" cy="261.7" r="3.2"/><circle cx="423.5" cy="259.9" r="3.2"/><circle cx="423.8" cy="260.2" r="3.2"/><circle cx="424.2" cy="261.4" r="3.2"/><circle cx="424.6" cy="263" r="3.2"/><circle cx="425" cy="263.6" r="3.2"/><circle cx="425.3" cy="264.4" r="3.2"/><circle cx="425.7" cy="263.2" r="3.2"/><circle cx="426.1" cy="262.6" r="3.2"/><circle cx="426.5" cy="260.1" r="3.2"/><circle cx="426.8" cy="261.2" r="3.2"/><circle cx="427.2" cy="262.2" r="3.2"/><circle cx="427.6" cy="263.2" r="3.2"/><circle cx="428" cy="261.6" r="3.2"/><circle cx="428.3" cy="262" r="3.2"/><circle cx="428.7" cy="262.7" r="3.2"/><circle cx="429.1" cy="263.3" r="3.2"/><circle cx="429.5" cy="261.9" r="3.2"/><circle cx="429.8" cy="261.1" r="3.2"/><circle cx="430.2" cy="261.3" r="3.2"/><circle cx="430.6" cy="261.7" r="3.2"/><circle cx="431" cy="261.4" r="3.2"/><circle cx="431.3" cy="262" r="3.2"/><circle cx="431.7" cy="260.7" r="3.2"/><circle cx="432.1" cy="262" r="3.2"/><circle cx="432.5" cy="262" r="3.2"/><circle cx="432.8" cy="263.1" r="3.2"/><circle cx="433.2" cy="262.4" r="3.2"/><circle cx="433.6" cy="261.9" r="3.2"/><circle cx="434" cy="261.4" r="3.2"/><circle cx="434.4" cy="262.3" r="3.2"/><circle cx="434.7" cy="261.4" r="3.2"/><circle cx="435.1" cy="261.1" r="3.2"/><circle cx="435.5" cy="259.9" r="3.2"/><circle cx="435.9" cy="261.2" r="3.2"/><circle cx="436.2" cy="261.4" r="3.2"/><circle cx="436.6" cy="261.4" r="3.2"/><circle cx="437" cy="262.1" r="3.2"/><circle cx="437.4" cy="262.6" r="3.2"/><circle cx="437.7" cy="262.6" r="3.2"/><circle cx="438.1" cy="261.8" r="3.2"/><circle cx="438.5" cy="262" r="3.2"/><circle cx="438.9" cy="261.5" r="3.2"/><circle cx="439.2" cy="262" r="3.2"/><circle cx="439.6" cy="262.4" r="3.2"/><circle cx="440" cy="262.4" r="3.2"/><circle cx="440.4" cy="261.7" r="3.2"/><circle cx="440.7" cy="262.1" r="3.2"/><circle cx="441.1" cy="261.5" r="3.2"/><circle cx="441.5" cy="260.6" r="3.2"/><circle cx="441.9" cy="261.8" r="3.2"/><circle cx="442.2" cy="260.4" r="3.2"/><circle cx="442.6" cy="261.6" r="3.2"/><circle cx="443" cy="260.9" r="3.2"/><circle cx="443.4" cy="260.9" r="3.2"/><circle cx="443.7" cy="260.1" r="3.2"/><circle cx="444.1" cy="260.6" r="3.2"/><circle cx="444.5" cy="262.2" r="3.2"/><circle cx="444.9" cy="261.6" r="3.2"/><circle cx="445.2" cy="261.4" r="3.2"/><circle cx="445.6" cy="260.1" r="3.2"/><circle cx="446" cy="260.4" r="3.2"/><circle cx="446.4" cy="260.4" r="3.2"/><circle cx="446.8" cy="261.5" r="3.2"/><circle cx="447.1" cy="261.3" r="3.2"/><circle cx="447.5" cy="260.3" r="3.2"/><circle cx="447.9" cy="260.8" r="3.2"/><circle cx="448.3" cy="262.3" r="3.2"/><circle cx="448.6" cy="263.5" r="3.2"/><circle cx="449" cy="263" r="3.2"/><circle cx="449.4" cy="260.3" r="3.2"/><circle cx="449.8" cy="260.1" r="3.2"/><circle cx="450.1" cy="259.9" r="3.2"/><circle cx="450.5" cy="261" r="3.2"/><circle cx="450.9" cy="260.7" r="3.2"/><circle cx="451.3" cy="262.1" r="3.2"/><circle cx="451.6" cy="261.4" r="3.2"/><circle cx="452" cy="262.9" r="3.2"/><circle cx="452.4" cy="262.2" r="3.2"/><circle cx="452.8" cy="262.9" r="3.2"/><circle cx="453.1" cy="261.6" r="3.2"/><circle cx="453.5" cy="261.2" r="3.2"/><circle cx="453.9" cy="261.4" r="3.2"/><circle cx="454.3" cy="261.1" r="3.2"/><circle cx="454.6" cy="260.5" r="3.2"/><circle cx="455" cy="260.2" r="3.2"/><circle cx="455.4" cy="260.9" r="3.2"/><circle cx="455.8" cy="262.2" r="3.2"/><circle cx="456.1" cy="262.3" r="3.2"/><circle cx="456.5" cy="261.8" r="3.2"/><circle cx="456.9" cy="261.1" r="3.2"/><circle cx="457.3" cy="261.3" r="3.2"/><circle cx="457.7" cy="260.1" r="3.2"/><circle cx="458" cy="260.7" r="3.2"/><circle cx="458.4" cy="258.5" r="3.2"/><circle cx="458.8" cy="258.9" r="3.2"/><circle cx="459.2" cy="260.3" r="3.2"/><circle cx="459.5" cy="260.8" r="3.2"/><circle cx="459.9" cy="260.6" r="3.2"/><circle cx="460.3" cy="260.3" r="3.2"/><circle cx="460.7" cy="259.4" r="3.2"/><circle cx="461" cy="260.6" r="3.2"/><circle cx="461.4" cy="261.7" r="3.2"/><circle cx="461.8" cy="262.5" r="3.2"/><circle cx="462.2" cy="261.8" r="3.2"/><circle cx="462.5" cy="261.7" r="3.2"/><circle cx="462.9" cy="262.8" r="3.2"/><circle cx="463.3" cy="261.7" r="3.2"/><circle cx="463.7" cy="261.4" r="3.2"/><circle cx="464" cy="261.3" r="3.2"/><circle cx="464.4" cy="260.2" r="3.2"/><circle cx="464.8" cy="261.1" r="3.2"/><circle cx="465.2" cy="261.5" r="3.2"/><circle cx="465.5" cy="264" r="3.2"/><circle cx="465.9" cy="262.1" r="3.2"/><circle cx="466.3" cy="261.9" r="3.2"/><circle cx="466.7" cy="261.3" r="3.2"/><circle cx="467" cy="260.8" r="3.2"/><circle cx="467.4" cy="259" r="3.2"/><circle cx="467.8" cy="260.7" r="3.2"/><circle cx="468.2" cy="260.7" r="3.2"/><circle cx="468.5" cy="261.4" r="3.2"/><circle cx="468.9" cy="260.4" r="3.2"/><circle cx="469.3" cy="260.4" r="3.2"/><circle cx="469.7" cy="262" r="3.2"/><circle cx="470.1" cy="261" r="3.2"/><circle cx="470.4" cy="260.7" r="3.2"/><circle cx="470.8" cy="258.9" r="3.2"/><circle cx="471.2" cy="259.5" r="3.2"/><circle cx="471.6" cy="259.4" r="3.2"/><circle cx="471.9" cy="259.8" r="3.2"/><circle cx="472.3" cy="257.6" r="3.2"/><circle cx="472.7" cy="257.8" r="3.2"/><circle cx="473.1" cy="257" r="3.2"/><circle cx="473.4" cy="257" r="3.2"/><circle cx="473.8" cy="254.2" r="3.2"/><circle cx="474.2" cy="254.4" r="3.2"/><circle cx="474.6" cy="255.1" r="3.2"/><circle cx="474.9" cy="256.5" r="3.2"/><circle cx="475.3" cy="258.8" r="3.2"/><circle cx="475.7" cy="258.4" r="3.2"/><circle cx="476.1" cy="259.2" r="3.2"/><circle cx="476.4" cy="258.6" r="3.2"/><circle cx="476.8" cy="260.1" r="3.2"/><circle cx="477.2" cy="260.5" r="3.2"/><circle cx="477.6" cy="261.4" r="3.2"/><circle cx="477.9" cy="260" r="3.2"/><circle cx="478.3" cy="260.8" r="3.2"/><circle cx="478.7" cy="259" r="3.2"/><circle cx="479.1" cy="260.2" r="3.2"/><circle cx="479.4" cy="258.6" r="3.2"/><circle cx="479.8" cy="260.6" r="3.2"/><circle cx="480.2" cy="259.8" r="3.2"/><circle cx="480.6" cy="261.1" r="3.2"/><circle cx="480.9" cy="260.1" r="3.2"/><circle cx="481.3" cy="260.7" r="3.2"/><circle cx="481.7" cy="261.3" r="3.2"/><circle cx="482.1" cy="261.1" r="3.2"/><circle cx="482.5" cy="262.3" r="3.2"/><circle cx="482.8" cy="262.6" r="3.2"/><circle cx="483.2" cy="262.2" r="3.2"/><circle cx="483.6" cy="262" r="3.2"/><circle cx="484" cy="260.7" r="3.2"/><circle cx="484.3" cy="260.4" r="3.2"/><circle cx="484.7" cy="260.9" r="3.2"/><circle cx="485.1" cy="261.2" r="3.2"/><circle cx="485.5" cy="261" r="3.2"/><circle cx="485.8" cy="261.3" r="3.2"/><circle cx="486.2" cy="262.6" r="3.2"/><circle cx="486.6" cy="261.7" r="3.2"/><circle cx="487" cy="260.6" r="3.2"/><circle cx="487.3" cy="258.7" r="3.2"/><circle cx="487.7" cy="261.1" r="3.2"/><circle cx="488.1" cy="261.6" r="3.2"/><circle cx="488.5" cy="261.3" r="3.2"/><circle cx="488.8" cy="260.9" r="3.2"/><circle cx="489.2" cy="260.1" r="3.2"/><circle cx="489.6" cy="261.1" r="3.2"/><circle cx="490" cy="262.1" r="3.2"/><circle cx="490.3" cy="261.6" r="3.2"/><circle cx="490.7" cy="262.1" r="3.2"/><circle cx="491.1" cy="261.1" r="3.2"/><circle cx="491.5" cy="262.2" r="3.2"/><circle cx="491.8" cy="259.5" r="3.2"/><circle cx="492.2" cy="259.4" r="3.2"/><circle cx="492.6" cy="257.8" r="3.2"/><circle cx="493" cy="261" r="3.2"/><circle cx="493.4" cy="261.4" r="3.2"/><circle cx="493.7" cy="262.5" r="3.2"/><circle cx="494.1" cy="261.6" r="3.2"/><circle cx="494.5" cy="262.2" r="3.2"/><circle cx="494.9" cy="261.7" r="3.2"/><circle cx="495.2" cy="261.1" r="3.2"/><circle cx="495.6" cy="260.9" r="3.2"/><circle cx="496" cy="261.3" r="3.2"/><circle cx="496.4" cy="261.9" r="3.2"/><circle cx="496.7" cy="261.8" r="3.2"/><circle cx="497.1" cy="261.2" r="3.2"/><circle cx="497.5" cy="262" r="3.2"/><circle cx="497.9" cy="262.1" r="3.2"/><circle cx="498.2" cy="263" r="3.2"/><circle cx="498.6" cy="262.4" r="3.2"/><circle cx="499" cy="261.4" r="3.2"/><circle cx="499.4" cy="260.6" r="3.2"/><circle cx="499.7" cy="259.6" r="3.2"/><circle cx="500.1" cy="259.9" r="3.2"/><circle cx="500.5" cy="259.3" r="3.2"/><circle cx="500.9" cy="258.5" r="3.2"/><circle cx="501.2" cy="257.6" r="3.2"/><circle cx="501.6" cy="258.6" r="3.2"/><circle cx="502" cy="259.3" r="3.2"/><circle cx="502.4" cy="259.7" r="3.2"/><circle cx="502.7" cy="258.6" r="3.2"/><circle cx="503.1" cy="258.6" r="3.2"/><circle cx="503.5" cy="258.6" r="3.2"/><circle cx="503.9" cy="259.1" r="3.2"/><circle cx="504.2" cy="258.8" r="3.2"/><circle cx="504.6" cy="258.2" r="3.2"/><circle cx="505" cy="258" r="3.2"/><circle cx="505.4" cy="259.1" r="3.2"/><circle cx="505.8" cy="260.6" r="3.2"/><circle cx="506.1" cy="261.9" r="3.2"/><circle cx="506.5" cy="261" r="3.2"/><circle cx="506.9" cy="261.2" r="3.2"/><circle cx="507.3" cy="260.2" r="3.2"/><circle cx="507.6" cy="260.6" r="3.2"/><circle cx="508" cy="260.8" r="3.2"/><circle cx="508.4" cy="260.7" r="3.2"/><circle cx="508.8" cy="262.3" r="3.2"/><circle cx="509.1" cy="261.8" r="3.2"/><circle cx="509.5" cy="261.1" r="3.2"/><circle cx="509.9" cy="261" r="3.2"/><circle cx="510.3" cy="262.1" r="3.2"/><circle cx="510.6" cy="262.7" r="3.2"/><circle cx="511" cy="261.9" r="3.2"/><circle cx="511.4" cy="261.4" r="3.2"/><circle cx="511.8" cy="261.8" r="3.2"/><circle cx="512.1" cy="261.4" r="3.2"/><circle cx="512.5" cy="261.5" r="3.2"/><circle cx="512.9" cy="262" r="3.2"/><circle cx="513.3" cy="262.6" r="3.2"/><circle cx="513.6" cy="260.4" r="3.2"/><circle cx="514" cy="260" r="3.2"/><circle cx="514.4" cy="260.3" r="3.2"/><circle cx="514.8" cy="261.8" r="3.2"/><circle cx="515.1" cy="262.1" r="3.2"/><circle cx="515.5" cy="262.4" r="3.2"/><circle cx="515.9" cy="261.1" r="3.2"/><circle cx="516.3" cy="260.9" r="3.2"/></g><polyline class="fitA" points="93.5,267.9 93.7,267.9 93.9,267.9 94.1,267.9 94.3,267.9 94.4,267.9 94.6,267.9 94.8,267.9 95,267.9 95.2,267.9 95.4,267.8 95.6,267.8 95.8,267.8 95.9,267.8 96.1,267.8 96.3,267.8 96.5,267.8 96.7,267.8 96.9,267.8 97.1,267.8 97.3,267.8 97.4,267.8 97.6,267.8 97.8,267.8 98,267.7 98.2,267.7 98.4,267.7 98.6,267.7 98.8,267.7 98.9,267.7 99.1,267.7 99.3,267.7 99.5,267.7 99.7,267.7 99.9,267.7 100.1,267.7 100.3,267.7 100.5,267.7 100.6,267.6 100.8,267.6 101,267.6 101.2,267.6 101.4,267.6 101.6,267.6 101.8,267.6 102,267.6 102.1,267.6 102.3,267.6 102.5,267.6 102.7,267.6 102.9,267.6 103.1,267.5 103.3,267.5 103.5,267.5 103.6,267.5 103.8,267.4 104,267.4 104.2,267.4 104.4,267.4 104.6,267.3 104.8,267.3 105,267.3 105.1,267.3 105.3,267.2 105.5,267.2 105.7,267.2 105.9,267.1 106.1,267.1 106.3,267.1 106.5,267.1 106.7,267 106.8,267 107,267 107.2,267 107.4,266.9 107.6,266.9 107.8,266.9 108,266.9 108.2,266.8 108.3,266.8 108.5,266.8 108.7,266.8 108.9,266.7 109.1,266.7 109.3,266.7 109.5,266.7 109.7,266.6 109.8,266.6 110,266.6 110.2,266.5 110.4,266.4 110.6,266.4 110.8,266.3 111,266.2 111.2,266.2 111.4,266.1 111.5,266 111.7,266 111.9,265.9 112.1,265.8 112.3,265.8 112.5,265.7 112.7,265.6 112.9,265.6 113,265.5 113.2,265.4 113.4,265.4 113.6,265.3 113.8,265.2 114,265.1 114.2,265.1 114.4,265 114.5,264.9 114.7,264.9 114.9,264.8 115.1,264.7 115.3,264.6 115.5,264.5 115.7,264.4 115.9,264.3 116,264.2 116.2,264 116.4,263.9 116.6,263.8 116.8,263.7 117,263.6 117.2,263.5 117.4,263.3 117.6,263.2 117.7,263.1 117.9,263 118.1,262.9 118.3,262.7 118.5,262.6 118.7,262.5 118.9,262.4 119.1,262.3 119.2,262.1 119.4,262 119.6,261.9 119.8,261.8 120,261.6 120.2,261.4 120.4,261.2 120.6,261 120.7,260.8 120.9,260.6 121.1,260.4 121.3,260.2 121.5,260 121.7,259.8 121.9,259.6 122.1,259.4 122.2,259.2 122.4,259 122.6,258.8 122.8,258.6 123,258.4 123.2,258.1 123.4,257.9 123.6,257.7 123.8,257.4 123.9,257.2 124.1,257 124.3,256.7 124.5,256.5 124.7,256.3 124.9,256.1 125.1,255.8 125.3,255.6 125.4,255.2 125.6,254.8 125.8,254.2 126,253.3 126.2,252 126.4,250.2 126.6,247.6 126.8,243.9 126.9,238.6 127.1,231.6 127.3,222.2 127.5,210.2 127.7,195.4 127.9,177.6 128.1,157 128.3,134.2 128.4,110.1 128.6,85.7 128.8,62.5 129,42 129.2,26.1 129.4,16 129.6,12.6 129.8,16.2 130,26.6 130.1,42.7 130.3,63.2 130.5,86.4 130.7,110.8 130.9,135 131.1,157.8 131.3,178.4 131.5,196.2 131.6,211.1 131.8,223.1 132,232.5 132.2,239.6 132.4,244.8 132.6,248.6 132.8,251.2 133,253.1 133.1,254.3 133.3,255.2 133.5,255.9 133.7,256.3 133.9,256.7 134.1,256.8 134.3,256.9 134.5,257 134.7,257.1 134.8,257.1 135,257.2 135.2,257.2 135.4,257.2 135.6,257.3 135.8,257.3 136,257.3 136.2,257.3 136.3,257.3 136.5,257.3 136.7,257.3 136.9,257.3 137.1,257.2 137.3,257.2 137.5,257.2 137.7,257.2 137.8,257.2 138,257.1 138.2,257.1 138.4,257.1 138.6,257 138.8,257 139,256.9 139.2,256.8 139.3,256.8 139.5,256.7 139.7,256.6 139.9,256.6 140.1,256.5 140.3,256.4 140.5,256.3 140.7,256.2 140.9,256.1 141,256 141.2,255.9 141.4,255.8 141.6,255.7 141.8,255.5 142,255.4 142.2,255.3 142.4,255.1 142.5,255 142.7,254.9 142.9,254.7 143.1,254.5 143.3,254.4 143.5,254.3 143.7,254.1 143.9,254 144,253.9 144.2,253.8 144.4,253.6 144.6,253.5 144.8,253.3 145,253.2 145.2,253 145.4,252.9 145.5,252.7 145.7,252.6 145.9,252.5 146.1,252.3 146.3,252.2 146.5,252 146.7,251.9 146.9,251.8 147.1,251.7 147.2,251.6 147.4,251.5 147.6,251.4 147.8,251.4 148,251.3 148.2,251.3 148.4,251.3 148.6,251.3 148.7,251.3 148.9,251.4 149.1,251.4 149.3,251.5 149.5,251.6 149.7,251.7 149.9,251.8 150.1,251.9 150.2,252 150.4,252.2 150.6,252.3 150.8,252.5 151,252.6 151.2,252.8 151.4,252.9 151.6,253.1 151.7,253.2 151.9,253.4 152.1,253.6 152.3,253.7 152.5,253.9 152.7,254 152.9,254.2 153.1,254.3 153.3,254.4 153.4,254.6 153.6,254.7 153.8,254.8 154,255 154.2,255.1 154.4,255.2 154.6,255.3 154.8,255.4 154.9,255.5 155.1,255.6 155.3,255.7 155.5,255.8 155.7,255.8 155.9,255.9 156.1,256 156.3,256 156.4,256.1 156.6,256.2 156.8,256.2 157,256.3 157.2,256.3 157.4,256.4 157.6,256.4 157.8,256.4 157.9,256.5 158.1,256.5 158.3,256.6 158.5,256.6 158.7,256.6 158.9,256.6 159.1,256.7 159.3,256.7 159.5,256.7 159.6,256.7 159.8,256.8 160,256.8 160.2,256.8 160.4,256.8 160.6,256.8 160.8,256.8 161,256.9 161.1,256.9 161.3,256.9 161.5,256.9 161.7,256.9 161.9,256.9 162.1,256.9 162.3,257 162.5,257 162.6,257 162.8,257 163,257 163.2,257 163.4,257 163.6,257 163.8,257 164,257.1 164.2,257.1 164.3,257.1 164.5,257.1 164.7,257.1 164.9,257.1 165.1,257.1 165.3,257.1 165.5,257.1 165.7,257.1 165.8,257.1 166,257.1 166.2,257.2 166.4,257.2 166.6,257.2 166.8,257.2 167,257.2 167.2,257.2 167.3,257.2 167.5,257.2 167.7,257.2 167.9,257.2 168.1,257.2 168.3,257.2 168.5,257.2 168.7,257.2 168.8,257.2 169,257.2 169.2,257.3 169.4,257.3 169.6,257.3 169.8,257.3 170,257.3 170.2,257.3 170.4,257.3 170.5,257.3 170.7,257.3 170.9,257.3 171.1,257.3 171.3,257.3 171.5,257.3 171.7,257.3 171.9,257.3 172,257.3 172.2,257.3 172.4,257.3 172.6,257.3 172.8,257.3 173,257.3 173.2,257.3 173.4,257.3 173.5,257.3 173.7,257.3 173.9,257.3 174.1,257.3 174.3,257.3 174.5,257.3 174.7,257.3 174.9,257.3 175,257.3 175.2,257.3 175.4,257.3 175.6,257.3 175.8,257.3 176,257.3 176.2,257.2 176.4,257.2 176.6,257.2 176.7,257.2 176.9,257.2 177.1,257.2 177.3,257.2 177.5,257.2 177.7,257.2 177.9,257.2 178.1,257.2 178.2,257.2 178.4,257.2 178.6,257.2 178.8,257.1 179,257.1 179.2,257.1 179.4,257.1 179.6,257.1 179.7,257.1 179.9,257 180.1,257 180.3,257 180.5,257 180.7,256.9 180.9,256.9 181.1,256.8 181.2,256.8 181.4,256.7 181.6,256.6 181.8,256.5 182,256.4 182.2,256.2 182.4,256 182.6,255.8 182.8,255.5 182.9,255.2 183.1,254.8 183.3,254.3 183.5,253.8 183.7,253.2 183.9,252.6 184.1,251.9 184.3,251.1 184.4,250.3 184.6,249.6 184.8,248.9 185,248.2 185.2,247.7 185.4,247.4 185.6,247.3 185.8,247.4 185.9,247.7 186.1,248.2 186.3,248.9 186.5,249.6 186.7,250.4 186.9,251.1 187.1,251.9 187.3,252.6 187.4,253.2 187.6,253.8 187.8,254.4 188,254.8 188.2,255.2 188.4,255.6 188.6,255.8 188.8,256.1 189,256.3 189.1,256.4 189.3,256.6 189.5,256.7 189.7,256.8 189.9,256.8 190.1,256.9 190.3,256.9 190.5,257 190.6,257 190.8,257.1 191,257.1 191.2,257.1 191.4,257.1 191.6,257.2 191.8,257.2 192,257.2 192.1,257.2 192.3,257.2 192.5,257.3 192.7,257.3 192.9,257.3 193.1,257.3 193.3,257.3 193.5,257.3 193.7,257.3 193.8,257.3 194,257.3 194.2,257.4 194.4,257.4 194.6,257.4 194.8,257.4 195,257.4 195.2,257.4 195.3,257.4 195.5,257.4 195.7,257.4 195.9,257.4 196.1,257.4 196.3,257.4 196.5,257.4 196.7,257.4 196.8,257.4 197,257.4 197.2,257.4 197.4,257.4 197.6,257.5 197.8,257.5 198,257.5 198.2,257.5 198.3,257.5 198.5,257.5 198.7,257.5 198.9,257.5 199.1,257.5 199.3,257.5 199.5,257.5 199.7,257.5 199.9,257.5 200,257.5 200.2,257.5 200.4,257.5 200.6,257.5 200.8,257.5 201,257.5 201.2,257.5 201.4,257.5 201.5,257.5 201.7,257.5 201.9,257.5 202.1,257.5 202.3,257.5 202.5,257.5 202.7,257.5 202.9,257.5 203,257.5 203.2,257.5 203.4,257.5 203.6,257.5 203.8,257.5 204,257.5 204.2,257.5 204.4,257.5 204.5,257.5 204.7,257.5 204.9,257.4 205.1,257.4 205.3,257.4 205.5,257.4 205.7,257.4 205.9,257.4 206.1,257.4 206.2,257.4 206.4,257.4 206.6,257.3 206.8,257.3 207,257.3 207.2,257.3 207.4,257.2 207.6,257.2 207.7,257.1 207.9,257 208.1,256.9 208.3,256.8 208.5,256.7 208.7,256.5 208.9,256.3 209.1,256.1 209.2,255.9 209.4,255.6 209.6,255.2 209.8,254.9 210,254.5 210.2,254.1 210.4,253.7 210.6,253.3 210.7,253 210.9,252.7 211.1,252.5 211.3,252.3 211.5,252.3 211.7,252.5 211.9,252.7 212.1,253 212.3,253.3 212.4,253.7 212.6,254.1 212.8,254.5 213,254.9 213.2,255.3 213.4,255.6 213.6,255.9 213.8,256.1 213.9,256.4 214.1,256.6 214.3,256.7 214.5,256.8 214.7,257 214.9,257.1 215.1,257.1 215.3,257.2 215.4,257.2 215.6,257.3 215.8,257.3 216,257.3 216.2,257.4 216.4,257.4 216.6,257.4 216.8,257.4 217,257.4 217.1,257.4 217.3,257.4 217.5,257.5 217.7,257.5 217.9,257.5 218.1,257.5 218.3,257.5 218.5,257.5 218.6,257.5 218.8,257.5 219,257.5 219.2,257.5 219.4,257.5 219.6,257.5 219.8,257.5 220,257.5 220.1,257.5 220.3,257.5 220.5,257.5 220.7,257.5 220.9,257.5 221.1,257.5 221.3,257.5 221.5,257.5 221.6,257.4 221.8,257.4 222,257.4 222.2,257.4 222.4,257.4 222.6,257.4 222.8,257.4 223,257.4 223.2,257.3 223.3,257.3 223.5,257.3 223.7,257.3 223.9,257.2 224.1,257.2 224.3,257.2 224.5,257.2 224.7,257.1 224.8,257.1 225,257 225.2,257 225.4,257 225.6,256.9 225.8,256.8 226,256.8 226.2,256.7 226.3,256.6 226.5,256.5 226.7,256.4 226.9,256.3 227.1,256.1 227.3,255.8 227.5,255.5 227.7,255.2 227.8,254.7 228,254 228.2,253.2 228.4,252.2 228.6,250.9 228.8,249.4 229,247.5 229.2,245.4 229.4,242.9 229.5,240.2 229.7,237.4 229.9,234.5 230.1,231.9 230.3,229.7 230.5,228.2 230.7,227.7 230.9,228.3 231,229.7 231.2,232 231.4,234.6 231.6,237.5 231.8,240.4 232,243.1 232.2,245.6 232.4,247.8 232.5,249.7 232.7,251.3 232.9,252.6 233.1,253.6 233.3,254.4 233.5,255.1 233.7,255.6 233.9,256 234,256.3 234.2,256.6 234.4,256.8 234.6,257 234.8,257.1 235,257.3 235.2,257.4 235.4,257.5 235.6,257.6 235.7,257.6 235.9,257.7 236.1,257.7 236.3,257.8 236.5,257.8 236.7,257.8 236.9,257.9 237.1,257.9 237.2,257.9 237.4,257.9 237.6,257.9 237.8,258 238,258 238.2,258 238.4,258 238.6,258 238.7,258 238.9,258 239.1,258 239.3,258 239.5,258 239.7,258 239.9,258 240.1,258 240.2,258 240.4,258 240.6,258 240.8,258 241,258 241.2,258 241.4,258 241.6,258 241.8,258 241.9,258 242.1,258 242.3,257.9 242.5,257.9 242.7,257.9 242.9,257.9 243.1,257.9 243.3,257.9 243.4,257.9 243.6,257.9 243.8,257.9 244,257.9 244.2,257.9 244.4,257.9 244.6,257.8 244.8,257.8 244.9,257.8 245.1,257.8 245.3,257.8 245.5,257.8 245.7,257.8 245.9,257.7 246.1,257.7 246.3,257.7 246.5,257.6 246.6,257.6 246.8,257.6 247,257.5 247.2,257.4 247.4,257.4 247.6,257.3 247.8,257.2 248,257.1 248.1,257 248.3,256.9 248.5,256.7 248.7,256.6 248.9,256.5 249.1,256.3 249.3,256.2 249.5,256 249.6,255.9 249.8,255.8 250,255.6 250.2,255.5 250.4,255.5 250.6,255.4 250.8,255.4 251,255.4 251.1,255.4 251.3,255.5 251.5,255.5 251.7,255.7 251.9,255.8 252.1,255.9 252.3,256 252.5,256.2 252.7,256.3 252.8,256.5 253,256.6 253.2,256.8 253.4,256.9 253.6,257 253.8,257.1 254,257.2 254.2,257.3 254.3,257.4 254.5,257.5 254.7,257.5 254.9,257.6 255.1,257.6 255.3,257.7 255.5,257.7 255.7,257.7 255.8,257.8 256,257.8 256.2,257.8 256.4,257.8 256.6,257.8 256.8,257.8 257,257.8 257.2,257.8 257.3,257.8 257.5,257.7 257.7,257.7 257.9,257.7 258.1,257.6 258.3,257.6 258.5,257.5 258.7,257.4 258.9,257.3 259,257.2 259.2,257.1 259.4,257 259.6,256.8 259.8,256.7 260,256.5 260.2,256.3 260.4,256.1 260.5,255.9 260.7,255.7 260.9,255.5 261.1,255.3 261.3,255.1 261.5,254.9 261.7,254.7 261.9,254.5 262,254.4 262.2,254.3 262.4,254.2 262.6,254.2 262.8,254.2 263,254.3 263.2,254.4 263.4,254.5 263.5,254.7 263.7,254.9 263.9,255.1 264.1,255.3 264.3,255.6 264.5,255.8 264.7,256 264.9,256.2 265.1,256.4 265.2,256.6 265.4,256.8 265.6,256.9 265.8,257.1 266,257.2 266.2,257.4 266.4,257.5 266.6,257.6 266.7,257.7 266.9,257.7 267.1,257.8 267.3,257.9 267.5,257.9 267.7,258 267.9,258 268.1,258 268.2,258.1 268.4,258.1 268.6,258.1 268.8,258.2 269,258.2 269.2,258.2 269.4,258.2 269.6,258.2 269.8,258.2 269.9,258.2 270.1,258.2 270.3,258.3 270.5,258.3 270.7,258.3 270.9,258.3 271.1,258.3 271.3,258.3 271.4,258.3 271.6,258.3 271.8,258.3 272,258.3 272.2,258.3 272.4,258.3 272.6,258.3 272.8,258.3 272.9,258.2 273.1,258.2 273.3,258.2 273.5,258.2 273.7,258.2 273.9,258.2 274.1,258.2 274.3,258.2 274.4,258.1 274.6,258.1 274.8,258.1 275,258.1 275.2,258.1 275.4,258.1 275.6,258 275.8,258 276,258 276.1,258 276.3,258 276.5,257.9 276.7,257.9 276.9,257.9 277.1,257.9 277.3,257.8 277.5,257.8 277.6,257.8 277.8,257.7 278,257.7 278.2,257.7 278.4,257.6 278.6,257.6 278.8,257.5 279,257.5 279.1,257.4 279.3,257.4 279.5,257.3 279.7,257.2 279.9,257.1 280.1,257 280.3,256.9 280.5,256.8 280.6,256.7 280.8,256.5 281,256.3 281.2,256.1 281.4,255.8 281.6,255.5 281.8,255.2 282,254.9 282.2,254.5 282.3,254 282.5,253.5 282.7,253 282.9,252.5 283.1,251.9 283.3,251.2 283.5,250.6 283.7,249.9 283.8,249.2 284,248.5 284.2,247.9 284.4,247.3 284.6,246.7 284.8,246.3 285,245.9 285.2,245.7 285.3,245.6 285.5,245.7 285.7,245.9 285.9,246.2 286.1,246.6 286.3,247.1 286.5,247.7 286.7,248.4 286.8,249 287,249.7 287.2,250.3 287.4,251 287.6,251.6 287.8,252.2 288,252.7 288.2,253.2 288.4,253.7 288.5,254.1 288.7,254.5 288.9,254.8 289.1,255.1 289.3,255.4 289.5,255.6 289.7,255.8 289.9,256 290,256.1 290.2,256.2 290.4,256.3 290.6,256.4 290.8,256.5 291,256.6 291.2,256.6 291.4,256.6 291.5,256.7 291.7,256.7 291.9,256.7 292.1,256.8 292.3,256.8 292.5,256.8 292.7,256.8 292.9,256.8 293,256.8 293.2,256.8 293.4,256.8 293.6,256.8 293.8,256.8 294,256.8 294.2,256.8 294.4,256.8 294.6,256.8 294.7,256.8 294.9,256.8 295.1,256.8 295.3,256.7 295.5,256.7 295.7,256.7 295.9,256.7 296.1,256.7 296.2,256.7 296.4,256.6 296.6,256.6 296.8,256.6 297,256.6 297.2,256.5 297.4,256.5 297.6,256.5 297.7,256.4 297.9,256.4 298.1,256.4 298.3,256.3 298.5,256.3 298.7,256.2 298.9,256.1 299.1,256.1 299.3,256 299.4,255.9 299.6,255.8 299.8,255.7 300,255.5 300.2,255.4 300.4,255.2 300.6,255 300.8,254.8 300.9,254.5 301.1,254.3 301.3,254 301.5,253.6 301.7,253.2 301.9,252.8 302.1,252.4 302.3,251.9 302.4,251.3 302.6,250.8 302.8,250.1 303,249.5 303.2,248.8 303.4,248.1 303.6,247.4 303.8,246.7 303.9,246 304.1,245.3 304.3,244.6 304.5,244 304.7,243.5 304.9,243 305.1,242.6 305.3,242.3 305.5,242.2 305.6,242.2 305.8,242.3 306,242.6 306.2,242.9 306.4,243.4 306.6,243.9 306.8,244.5 307,245.2 307.1,245.9 307.3,246.6 307.5,247.3 307.7,248 307.9,248.6 308.1,249.3 308.3,249.9 308.5,250.5 308.6,251.1 308.8,251.6 309,252.1 309.2,252.5 309.4,252.9 309.6,253.3 309.8,253.6 310,253.9 310.1,254.1 310.3,254.4 310.5,254.6 310.7,254.7 310.9,254.9 311.1,255 311.3,255.1 311.5,255.2 311.7,255.3 311.8,255.4 312,255.5 312.2,255.5 312.4,255.6 312.6,255.6 312.8,255.6 313,255.6 313.2,255.7 313.3,255.7 313.5,255.7 313.7,255.7 313.9,255.7 314.1,255.7 314.3,255.6 314.5,255.6 314.7,255.6 314.8,255.6 315,255.5 315.2,255.5 315.4,255.4 315.6,255.3 315.8,255.2 316,255.1 316.2,254.9 316.3,254.8 316.5,254.6 316.7,254.3 316.9,254.1 317.1,253.8 317.3,253.5 317.5,253.1 317.7,252.8 317.9,252.4 318,251.9 318.2,251.5 318.4,251.1 318.6,250.7 318.8,250.4 319,250.1 319.2,249.9 319.4,249.7 319.5,249.7 319.7,249.8 319.9,250 320.1,250.2 320.3,250.5 320.5,250.8 320.7,251.2 320.9,251.5 321,251.8 321.2,252.1 321.4,252.4 321.6,252.6 321.8,252.8 322,252.9 322.2,252.9 322.4,252.9 322.6,252.8 322.7,252.5 322.9,252.2 323.1,251.7 323.3,251.1 323.5,250.3 323.7,249.3 323.9,248.2 324.1,246.8 324.2,245.3 324.4,243.6 324.6,241.8 324.8,239.8 325,237.9 325.2,235.9 325.4,234.1 325.6,232.7 325.7,231.6 325.9,231 326.1,231 326.3,231.6 326.5,232.8 326.7,234.3 326.9,236.2 327.1,238.1 327.2,240.2 327.4,242.2 327.6,244.1 327.8,245.8 328,247.4 328.2,248.9 328.4,250.1 328.6,251.2 328.8,252.1 328.9,252.9 329.1,253.5 329.3,254 329.5,254.4 329.7,254.8 329.9,255.1 330.1,255.3 330.3,255.5 330.4,255.7 330.6,255.8 330.8,255.9 331,256 331.2,256.1 331.4,256.2 331.6,256.3 331.8,256.4 331.9,256.4 332.1,256.5 332.3,256.5 332.5,256.6 332.7,256.6 332.9,256.6 333.1,256.7 333.3,256.7 333.4,256.7 333.6,256.8 333.8,256.8 334,256.8 334.2,256.8 334.4,256.8 334.6,256.8 334.8,256.8 335,256.8 335.1,256.8 335.3,256.8 335.5,256.8 335.7,256.8 335.9,256.7 336.1,256.7 336.3,256.7 336.5,256.6 336.6,256.6 336.8,256.5 337,256.4 337.2,256.3 337.4,256.2 337.6,256.1 337.8,256 338,255.9 338.1,255.7 338.3,255.5 338.5,255.3 338.7,255 338.9,254.7 339.1,254.4 339.3,254 339.5,253.6 339.6,253.1 339.8,252.6 340,252.1 340.2,251.5 340.4,250.8 340.6,250.1 340.8,249.3 341,248.5 341.2,247.7 341.3,246.8 341.5,245.9 341.7,245 341.9,244.1 342.1,243.1 342.3,242.2 342.5,241.4 342.7,240.6 342.8,240 343,239.4 343.2,239 343.4,238.7 343.6,238.7 343.8,238.7 344,239 344.2,239.4 344.3,240 344.5,240.6 344.7,241.4 344.9,242.2 345.1,243.1 345.3,244.1 345.5,245 345.7,245.9 345.8,246.8 346,247.7 346.2,248.5 346.4,249.3 346.6,250.1 346.8,250.8 347,251.4 347.2,252 347.4,252.6 347.5,253.1 347.7,253.5 347.9,253.9 348.1,254.3 348.3,254.6 348.5,254.9 348.7,255.1 348.9,255.3 349,255.5 349.2,255.6 349.4,255.8 349.6,255.9 349.8,255.9 350,256 350.2,256 350.4,256 350.5,256 350.7,256 350.9,256 351.1,255.9 351.3,255.9 351.5,255.7 351.7,255.6 351.9,255.5 352.1,255.3 352.2,255 352.4,254.7 352.6,254.4 352.8,253.9 353,253.4 353.2,252.7 353.4,252 353.6,251.1 353.7,250 353.9,248.8 354.1,247.3 354.3,245.7 354.5,243.9 354.7,242 354.9,239.8 355.1,237.6 355.2,235.2 355.4,232.9 355.6,230.5 355.8,228.4 356,226.5 356.2,225 356.4,224.1 356.6,223.7 356.7,224 356.9,224.8 357.1,226.1 357.3,227.9 357.5,229.8 357.7,232 357.9,234.2 358.1,236.3 358.3,238.4 358.4,240.3 358.6,242 358.8,243.5 359,244.8 359.2,246 359.4,246.9 359.6,247.6 359.8,248.1 359.9,248.6 360.1,248.8 360.3,249 360.5,249.1 360.7,249.1 360.9,249.1 361.1,249.1 361.3,249.1 361.4,249.2 361.6,249.3 361.8,249.4 362,249.6 362.2,249.8 362.4,250.1 362.6,250.5 362.8,250.8 362.9,251.2 363.1,251.6 363.3,252.1 363.5,252.5 363.7,252.9 363.9,253.3 364.1,253.6 364.3,254 364.5,254.3 364.6,254.6 364.8,254.9 365,255.2 365.2,255.4 365.4,255.6 365.6,255.8 365.8,256 366,256.1 366.1,256.3 366.3,256.4 366.5,256.5 366.7,256.6 366.9,256.6 367.1,256.7 367.3,256.8 367.5,256.8 367.6,256.9 367.8,256.9 368,256.9 368.2,256.9 368.4,256.9 368.6,257 368.8,257 369,257 369.1,257 369.3,257 369.5,256.9 369.7,256.9 369.9,257 370.1,257 370.3,257 370.5,257 370.7,257 370.8,257 371,256.9 371.2,256.9 371.4,256.9 371.6,256.8 371.8,256.8 372,256.8 372.2,256.7 372.3,256.6 372.5,256.6 372.7,256.5 372.9,256.4 373.1,256.3 373.3,256.2 373.5,256.2 373.7,256.1 373.8,256 374,255.9 374.2,255.9 374.4,255.8 374.6,255.7 374.8,255.7 375,255.7 375.2,255.7 375.3,255.7 375.5,255.8 375.7,255.8 375.9,255.9 376.1,256 376.3,256.1 376.5,256.3 376.7,256.4 376.9,256.5 377,256.7 377.2,256.9 377.4,257 377.6,257.2 377.8,257.3 378,257.5 378.2,257.6 378.4,257.7 378.5,257.9 378.7,258 378.9,258.1 379.1,258.2 379.3,258.4 379.5,258.5 379.7,258.6 379.9,258.7 380,258.7 380.2,258.8 380.4,258.9 380.6,259 380.8,259 381,259.1 381.2,259.2 381.4,259.2 381.6,259.3 381.7,259.3 381.9,259.4 382.1,259.4 382.3,259.5 382.5,259.5 382.7,259.5 382.9,259.6 383.1,259.6 383.2,259.7 383.4,259.7 383.6,259.7 383.8,259.8 384,259.8 384.2,259.8 384.4,259.9 384.6,259.9 384.7,260 384.9,260 385.1,260 385.3,260 385.5,260 385.7,260 385.9,260.1 386.1,260.1 386.2,260.1 386.4,260.1 386.6,260.1 386.8,260.2 387,260.2 387.2,260.2 387.4,260.2 387.6,260.2 387.8,260.2 387.9,260.3 388.1,260.3 388.3,260.3 388.5,260.3 388.7,260.3 388.9,260.3 389.1,260.4 389.3,260.4 389.4,260.4 389.6,260.4 389.8,260.4 390,260.4 390.2,260.5 390.4,260.5 390.6,260.5 390.8,260.5 390.9,260.5 391.1,260.5 391.3,260.5 391.5,260.6 391.7,260.6 391.9,260.6 392.1,260.6 392.3,260.6 392.4,260.6 392.6,260.7 392.8,260.7 393,260.7 393.2,260.7 393.4,260.7 393.6,260.7 393.8,260.7 394,260.8 394.1,260.8 394.3,260.8 394.5,260.8 394.7,260.8 394.9,260.8 395.1,260.8 395.3,260.9 395.5,260.9 395.6,260.9 395.8,260.9 396,260.9 396.2,260.9 396.4,260.9 396.6,261 396.8,261 397,261 397.1,261 397.3,261 397.5,261 397.7,261 397.9,261.1 398.1,261.1 398.3,261.1 398.5,261.1 398.6,261.1 398.8,261.1 399,261.1 399.2,261.1 399.4,261.1 399.6,261.1 399.8,261.1 400,261.1 400.2,261.1 400.3,261.2 400.5,261.2 400.7,261.2 400.9,261.2 401.1,261.2 401.3,261.2 401.5,261.2 401.7,261.2 401.8,261.2 402,261.2 402.2,261.2 402.4,261.2 402.6,261.2 402.8,261.2 403,261.2 403.2,261.2 403.3,261.2 403.5,261.2 403.7,261.2 403.9,261.2 404.1,261.2 404.3,261.2 404.5,261.2 404.7,261.2 404.9,261.2 405,261.2 405.2,261.2 405.4,261.2 405.6,261.2 405.8,261.2 406,261.2 406.2,261.2 406.4,261.2 406.5,261.2 406.7,261.2 406.9,261.2 407.1,261.2 407.3,261.1 407.5,261.1 407.7,261.1 407.9,261.1 408,261.1 408.2,261.1 408.4,261.1 408.6,261.1 408.8,261 409,261 409.2,261 409.4,261 409.5,260.9 409.7,260.9 409.9,260.9 410.1,260.8 410.3,260.8 410.5,260.8 410.7,260.7 410.9,260.7 411.1,260.6 411.2,260.6 411.4,260.6 411.6,260.5 411.8,260.5 412,260.5 412.2,260.5 412.4,260.4 412.6,260.4 412.7,260.4 412.9,260.4 413.1,260.4 413.3,260.4 413.5,260.4 413.7,260.5 413.9,260.5 414.1,260.5 414.2,260.6 414.4,260.6 414.6,260.7 414.8,260.7 415,260.7 415.2,260.8 415.4,260.8 415.6,260.9 415.7,260.9 415.9,260.9 416.1,261 416.3,261 416.5,261 416.7,261.1 416.9,261.1 417.1,261.1 417.3,261.2 417.4,261.2 417.6,261.2 417.8,261.2 418,261.2 418.2,261.2 418.4,261.3 418.6,261.3 418.8,261.3 418.9,261.3 419.1,261.3 419.3,261.3 419.5,261.3 419.7,261.3 419.9,261.3 420.1,261.3 420.3,261.3 420.4,261.4 420.6,261.4 420.8,261.4 421,261.4 421.2,261.4 421.4,261.4 421.6,261.4 421.8,261.4 421.9,261.4 422.1,261.4 422.3,261.4 422.5,261.4 422.7,261.4 422.9,261.4 423.1,261.4 423.3,261.4 423.5,261.4 423.6,261.4 423.8,261.4 424,261.4 424.2,261.4 424.4,261.4 424.6,261.4 424.8,261.4 425,261.4 425.1,261.4 425.3,261.4 425.5,261.4 425.7,261.4 425.9,261.4 426.1,261.4 426.3,261.4 426.5,261.4 426.6,261.4 426.8,261.4 427,261.4 427.2,261.4 427.4,261.4 427.6,261.4 427.8,261.4 428,261.4 428.1,261.4 428.3,261.4 428.5,261.4 428.7,261.4 428.9,261.4 429.1,261.4 429.3,261.4 429.5,261.4 429.7,261.4 429.8,261.4 430,261.4 430.2,261.4 430.4,261.4 430.6,261.4 430.8,261.4 431,261.4 431.2,261.4 431.3,261.4 431.5,261.4 431.7,261.4 431.9,261.4 432.1,261.4 432.3,261.4 432.5,261.4 432.7,261.4 432.8,261.4 433,261.4 433.2,261.4 433.4,261.4 433.6,261.4 433.8,261.4 434,261.4 434.2,261.4 434.4,261.4 434.5,261.4 434.7,261.4 434.9,261.4 435.1,261.4 435.3,261.4 435.5,261.4 435.7,261.4 435.9,261.4 436,261.4 436.2,261.4 436.4,261.4 436.6,261.4 436.8,261.4 437,261.4 437.2,261.4 437.4,261.4 437.5,261.4 437.7,261.3 437.9,261.3 438.1,261.3 438.3,261.3 438.5,261.3 438.7,261.3 438.9,261.3 439,261.3 439.2,261.3 439.4,261.2 439.6,261.2 439.8,261.2 440,261.2 440.2,261.1 440.4,261.1 440.6,261.1 440.7,261.1 440.9,261 441.1,261 441.3,260.9 441.5,260.9 441.7,260.9 441.9,260.8 442.1,260.8 442.2,260.7 442.4,260.7 442.6,260.7 442.8,260.6 443,260.6 443.2,260.6 443.4,260.6 443.6,260.5 443.7,260.5 443.9,260.5 444.1,260.5 444.3,260.5 444.5,260.6 444.7,260.6 444.9,260.6 445.1,260.6 445.2,260.7 445.4,260.7 445.6,260.7 445.8,260.8 446,260.8 446.2,260.9 446.4,260.9 446.6,260.9 446.8,261 446.9,261 447.1,261.1 447.3,261.1 447.5,261.1 447.7,261.1 447.9,261.2 448.1,261.2 448.3,261.2 448.4,261.2 448.6,261.3 448.8,261.3 449,261.3 449.2,261.3 449.4,261.3 449.6,261.3 449.8,261.3 449.9,261.3 450.1,261.3 450.3,261.4 450.5,261.4 450.7,261.4 450.9,261.4 451.1,261.4 451.3,261.4 451.4,261.4 451.6,261.4 451.8,261.4 452,261.4 452.2,261.4 452.4,261.4 452.6,261.4 452.8,261.4 453,261.4 453.1,261.4 453.3,261.4 453.5,261.4 453.7,261.4 453.9,261.4 454.1,261.4 454.3,261.4 454.5,261.4 454.6,261.4 454.8,261.4 455,261.4 455.2,261.4 455.4,261.4 455.6,261.4 455.8,261.4 456,261.4 456.1,261.4 456.3,261.4 456.5,261.4 456.7,261.4 456.9,261.4 457.1,261.4 457.3,261.4 457.5,261.4 457.7,261.4 457.8,261.4 458,261.4 458.2,261.4 458.4,261.4 458.6,261.4 458.8,261.4 459,261.4 459.2,261.4 459.3,261.4 459.5,261.4 459.7,261.4 459.9,261.4 460.1,261.4 460.3,261.4 460.5,261.4 460.7,261.4 460.8,261.4 461,261.4 461.2,261.4 461.4,261.4 461.6,261.4 461.8,261.4 462,261.3 462.2,261.3 462.3,261.3 462.5,261.3 462.7,261.3 462.9,261.3 463.1,261.3 463.3,261.3 463.5,261.3 463.7,261.3 463.9,261.3 464,261.3 464.2,261.3 464.4,261.3 464.6,261.3 464.8,261.3 465,261.3 465.2,261.2 465.4,261.2 465.5,261.2 465.7,261.2 465.9,261.2 466.1,261.2 466.3,261.2 466.5,261.2 466.7,261.2 466.9,261.1 467,261.1 467.2,261.1 467.4,261.1 467.6,261.1 467.8,261.1 468,261 468.2,261 468.4,261 468.5,260.9 468.7,260.9 468.9,260.9 469.1,260.8 469.3,260.8 469.5,260.7 469.7,260.6 469.9,260.5 470.1,260.4 470.2,260.3 470.4,260.2 470.6,260.1 470.8,259.9 471,259.8 471.2,259.6 471.4,259.4 471.6,259.2 471.7,259 471.9,258.8 472.1,258.5 472.3,258.3 472.5,258.1 472.7,257.8 472.9,257.6 473.1,257.4 473.2,257.2 473.4,257.1 473.6,257 473.8,256.9 474,256.9 474.2,256.9 474.4,257 474.6,257.1 474.7,257.2 474.9,257.4 475.1,257.6 475.3,257.8 475.5,258 475.7,258.3 475.9,258.5 476.1,258.7 476.3,258.9 476.4,259.1 476.6,259.3 476.8,259.5 477,259.7 477.2,259.8 477.4,260 477.6,260.1 477.8,260.2 477.9,260.3 478.1,260.4 478.3,260.5 478.5,260.6 478.7,260.6 478.9,260.7 479.1,260.7 479.3,260.8 479.4,260.8 479.6,260.8 479.8,260.9 480,260.9 480.2,260.9 480.4,260.9 480.6,260.9 480.8,260.9 480.9,260.9 481.1,261 481.3,261 481.5,261 481.7,261 481.9,261 482.1,261 482.3,261 482.5,261 482.6,261 482.8,261 483,261 483.2,261 483.4,261 483.6,261 483.8,261 484,261 484.1,261 484.3,261 484.5,261 484.7,261 484.9,261 485.1,261 485.3,261 485.5,261 485.6,261 485.8,261 486,261 486.2,261 486.4,261 486.6,261 486.8,261 487,261 487.2,261 487.3,261 487.5,261 487.7,261 487.9,261 488.1,261 488.3,261 488.5,261 488.7,261 488.8,261 489,261 489.2,261 489.4,261 489.6,261 489.8,261 490,261 490.2,261 490.3,261 490.5,261 490.7,261 490.9,261 491.1,261 491.3,261 491.5,261 491.7,261 491.8,261 492,261 492.2,261 492.4,261 492.6,261 492.8,261 493,261 493.2,261 493.4,261 493.5,261 493.7,260.9 493.9,260.9 494.1,260.9 494.3,260.9 494.5,260.9 494.7,260.9 494.9,260.9 495,260.9 495.2,260.9 495.4,260.9 495.6,260.9 495.8,260.9 496,260.9 496.2,260.9 496.4,260.9 496.5,260.8 496.7,260.8 496.9,260.8 497.1,260.8 497.3,260.8 497.5,260.8 497.7,260.7 497.9,260.7 498,260.7 498.2,260.6 498.4,260.6 498.6,260.6 498.8,260.5 499,260.5 499.2,260.4 499.4,260.3 499.6,260.3 499.7,260.2 499.9,260.1 500.1,260 500.3,259.9 500.5,259.8 500.7,259.8 500.9,259.7 501.1,259.6 501.2,259.5 501.4,259.4 501.6,259.4 501.8,259.3 502,259.3 502.2,259.3 502.4,259.3 502.6,259.3 502.7,259.4 502.9,259.4 503.1,259.5 503.3,259.6 503.5,259.6 503.7,259.7 503.9,259.8 504.1,259.9 504.2,260 504.4,260.1 504.6,260.1 504.8,260.2 505,260.3 505.2,260.3 505.4,260.4 505.6,260.4 505.8,260.5 505.9,260.5 506.1,260.6 506.3,260.6 506.5,260.6 506.7,260.6 506.9,260.7 507.1,260.7 507.3,260.7 507.4,260.7 507.6,260.7 507.8,260.7 508,260.7 508.2,260.8 508.4,260.8 508.6,260.8 508.8,260.8 508.9,260.8 509.1,260.8 509.3,260.8 509.5,260.8 509.7,260.8 509.9,260.8 510.1,260.8 510.3,260.8 510.5,260.8 510.6,260.8 510.8,260.8 511,260.8 511.2,260.8 511.4,260.8 511.6,260.8 511.8,260.8 512,260.8 512.1,260.8 512.3,260.8 512.5,260.8 512.7,260.8 512.9,260.8 513.1,260.8 513.3,260.8 513.5,260.8 513.6,260.8 513.8,260.8 514,260.8 514.2,260.8 514.4,260.8 514.6,260.8 514.8,260.8 515,260.8 515.1,260.8 515.3,260.8 515.5,260.8 515.7,260.8 515.9,260.8 516.1,260.8 516.3,260.8"/><path class="bgA" d="M129.2,288.8V304M131.6,288.8V304M141.1,288.8V304M160.3,288.8V304M182.5,288.8V304M184.7,288.8V304M190.8,288.8V304M193.5,288.8V304M202.2,288.8V304M206.5,288.8V304M211.9,288.8V304M217.5,288.8V304M224.6,288.8V304M235.9,288.8V304"/><rect x="228.4" y="288.8" width="3.1" height="15.2" fill="#0000ff"/><rect x="242.3" y="288.8" width="2.6" height="15.2" fill="#0000ff"/><rect x="247.4" y="288.8" width="1.7" height="15.2" fill="#0000ff"/><rect x="251.6" y="288.8" width="1.7" height="15.2" fill="#0000ff"/><rect x="254.4" y="288.8" width="1.7" height="15.2" fill="#0000ff"/><rect x="259" y="288.8" width="2.3" height="15.2" fill="#0000ff"/><rect x="263.2" y="288.8" width="1.7" height="15.2" fill="#0000ff"/><rect x="272.6" y="288.8" width="1.7" height="15.2" fill="#0000ff"/><rect x="278.3" y="288.8" width="1.7" height="15.2" fill="#0000ff"/><rect x="283.2" y="288.8" width="10.5" height="15.2" fill="#0000ff"/><rect x="295.8" y="288.8" width="1.7" height="15.2" fill="#0000ff"/><rect x="300.8" y="288.8" width="1.7" height="15.2" fill="#0000ff"/><rect x="304.2" y="288.8" width="1.7" height="15.2" fill="#0000ff"/><rect x="308.2" y="288.8" width="5.5" height="15.2" fill="#0000ff"/><rect x="315.5" y="288.8" width="1.9" height="15.2" fill="#0000ff"/><rect x="320.4" y="288.8" width="2.6" height="15.2" fill="#0000ff"/><rect x="326.4" y="288.8" width="3.5" height="15.2" fill="#0000ff"/><rect x="332.2" y="288.8" width="1.8" height="15.2" fill="#0000ff"/><rect x="336.3" y="288.8" width="1.8" height="15.2" fill="#0000ff"/><rect x="340.3" y="288.8" width="3.9" height="15.2" fill="#0000ff"/><rect x="345.3" y="288.8" width="1.7" height="15.2" fill="#0000ff"/><rect x="348" y="288.8" width="1.7" height="15.2" fill="#0000ff"/><rect x="351.9" y="288.8" width="1.7" height="15.2" fill="#0000ff"/><rect x="354.5" y="288.8" width="1.7" height="15.2" fill="#0000ff"/><rect x="360" y="288.8" width="7.2" height="15.2" fill="#0000ff"/><rect x="369.8" y="288.8" width="4.4" height="15.2" fill="#0000ff"/><rect x="376.8" y="288.8" width="3.5" height="15.2" fill="#0000ff"/><rect x="381.9" y="288.8" width="1.7" height="15.2" fill="#0000ff"/><rect x="386.6" y="288.8" width="12.1" height="15.2" fill="#0000ff"/><rect x="401.8" y="288.8" width="7.6" height="15.2" fill="#0000ff"/><rect x="411" y="288.8" width="1.7" height="15.2" fill="#0000ff"/><rect x="412.9" y="288.8" width="1.7" height="15.2" fill="#0000ff"/><rect x="415.3" y="288.8" width="13.7" height="15.2" fill="#0000ff"/><rect x="430.8" y="288.8" width="1.7" height="15.2" fill="#0000ff"/><rect x="434.5" y="288.8" width="2.7" height="15.2" fill="#0000ff"/><rect x="438.5" y="288.8" width="1.7" height="15.2" fill="#0000ff"/><rect x="441.5" y="288.8" width="2.2" height="15.2" fill="#0000ff"/><rect x="445.2" y="288.8" width="1.8" height="15.2" fill="#0000ff"/><rect x="448.9" y="288.8" width="6.3" height="15.2" fill="#0000ff"/><rect x="457.9" y="288.8" width="1.7" height="15.2" fill="#0000ff"/><rect x="462.4" y="288.8" width="6.8" height="15.2" fill="#0000ff"/><rect x="472.2" y="288.8" width="2.7" height="15.2" fill="#0000ff"/><rect x="480.4" y="288.8" width="22.8" height="15.2" fill="#0000ff"/><rect x="509.9" y="288.8" width="7.1" height="15.2" fill="#0000ff"/><rect x="520.9" y="288.8" width="2.3" height="15.2" fill="#0000ff"/><polyline class="difA" points="93.5,326.8 93.7,327 93.9,326.7 94.1,327.1 94.3,327.1 94.4,327.4 94.6,327.2 94.8,326.8 95,327 95.2,326.5 95.4,326.3 95.6,325.9 95.8,326.4 95.9,326.8 96.1,326.6 96.3,326.6 96.5,326.9 96.7,326.7 96.9,326.5 97.1,325.7 97.3,326 97.4,326.1 97.6,327 97.8,327 98,327.1 98.2,327 98.4,327 98.6,326.6 98.8,325.4 98.9,325.1 99.1,325.4 99.3,326.5 99.5,327.1 99.7,327.8 99.9,327.4 100.1,326.8 100.3,326.5 100.5,327.1 100.6,327.2 100.8,326.9 101,326.6 101.2,326.3 101.4,326.4 101.6,326.4 101.8,327.1 102,327 102.1,326.6 102.3,326.2 102.5,326.3 102.7,326.5 102.9,326.5 103.1,326.3 103.3,326.3 103.5,326.2 103.6,326.6 103.8,326.7 104,327.4 104.2,327 104.4,327.5 104.6,327.1 104.8,327 105,326.7 105.1,326.7 105.3,327.3 105.5,327.5 105.7,327.3 105.9,327.1 106.1,326.7 106.3,327.3 106.5,327.2 106.7,327.8 106.8,327.3 107,326.9 107.2,326.9 107.4,326.9 107.6,326.6 107.8,326.4 108,326.6 108.2,327 108.3,326.9 108.5,326.9 108.7,327.6 108.9,327.2 109.1,327.2 109.3,326.6 109.5,327.2 109.7,326.6 109.8,326.4 110,325.8 110.2,326.2 110.4,326.3 110.6,326.3 110.8,326 111,326 111.2,326.3 111.4,326.8 111.5,327.1 111.7,327.4 111.9,327.1 112.1,327 112.3,327.3 112.5,327.5 112.7,327.1 112.9,326.5 113,327.1 113.2,327.4 113.4,327.1 113.6,326.4 113.8,326.5 114,326.2 114.2,325.7 114.4,325.6 114.5,325.9 114.7,326.4 114.9,326.1 115.1,325.9 115.3,325.8 115.5,326 115.7,326.6 115.9,327.2 116,327.2 116.2,326.6 116.4,326.3 116.6,326.2 116.8,326.5 117,326.6 117.2,326.5 117.4,326.9 117.6,327.5 117.7,327.8 117.9,327.8 118.1,326.7 118.3,326.6 118.5,326.3 118.7,327.3 118.9,327.2 119.1,327.3 119.2,326.5 119.4,326.3 119.6,326.3 119.8,326.6 120,327.7 120.2,327.7 120.4,327.4 120.6,326.3 120.7,326 120.9,326.4 121.1,327.1 121.3,327.6 121.5,327.5 121.7,326.5 121.9,326.8 122.1,326.6 122.2,327 122.4,326 122.6,326.5 122.8,326.9 123,327.1 123.2,327.1 123.4,327.2 123.6,326.9 123.8,325.6 123.9,323.8 124.1,322.9 124.3,323.5 124.5,325.1 124.7,326.4 124.9,326.6 125.1,326.6 125.3,326.4 125.4,326.5 125.6,326.1 125.8,325.6 126,325.8 126.2,326.3 126.4,327.4 126.6,331.7 126.8,338.6 126.9,338.6 127.1,331.1 127.3,327.3 127.5,326.2 127.7,326.9 127.9,326.8 128.1,327 128.3,325.5 128.4,316 128.6,306.1 128.8,316 129,325.9 129.2,326.8 129.4,328 129.6,336.7 129.8,347.1 130,336.8 130.1,327.3 130.3,326.1 130.5,326.6 130.7,327.1 130.9,327.9 131.1,327.8 131.3,327.4 131.5,326.6 131.6,326.4 131.8,326.7 132,326.4 132.2,326.2 132.4,325.8 132.6,326.2 132.8,326.5 133,326.3 133.1,326.8 133.3,326.9 133.5,327.3 133.7,326.6 133.9,325.6 134.1,324.8 134.3,323.6 134.5,323.4 134.7,323.8 134.8,325.5 135,326.5 135.2,326.8 135.4,326.9 135.6,326.4 135.8,327 136,326.6 136.2,327.2 136.3,326.8 136.5,327.2 136.7,327 136.9,326.6 137.1,326.4 137.3,325.7 137.5,326.3 137.7,326.6 137.8,327.2 138,327.2 138.2,326.3 138.4,326 138.6,325.5 138.8,325.9 139,325.4 139.2,325.7 139.3,325.9 139.5,327.3 139.7,328.5 139.9,329.5 140.1,330 140.3,330.6 140.5,331.9 140.7,332.7 140.9,333 141,332.4 141.2,331.4 141.4,331 141.6,329.5 141.8,328 142,327 142.2,326.6 142.4,327.8 142.5,327.6 142.7,327.3 142.9,327.1 143.1,326.8 143.3,327.2 143.5,327 143.7,326.9 143.9,326.6 144,326.1 144.2,325.9 144.4,326.2 144.6,326.2 144.8,326.1 145,326.4 145.2,326.6 145.4,326.7 145.5,325.9 145.7,325.9 145.9,326.6 146.1,326.9 146.3,327.6 146.5,327.1 146.7,326.1 146.9,324.9 147.1,324.2 147.2,324.4 147.4,324.3 147.6,324 147.8,322.9 148,321.9 148.2,320.9 148.4,319.7 148.6,319.3 148.7,319.1 148.9,319.5 149.1,319.1 149.3,319.2 149.5,320.1 149.7,320.9 149.9,321.8 150.1,322.2 150.2,323.5 150.4,324.2 150.6,324.9 150.8,325.4 151,326 151.2,326.5 151.4,326.1 151.6,327.2 151.7,327.6 151.9,328.6 152.1,327.8 152.3,327.6 152.5,327.2 152.7,326.8 152.9,327.1 153.1,327.3 153.3,327.6 153.4,327.4 153.6,327.1 153.8,326.9 154,326.7 154.2,327.4 154.4,327 154.6,326.6 154.8,325.9 154.9,326.4 155.1,326.6 155.3,326.4 155.5,326.5 155.7,326.7 155.9,326.7 156.1,326.7 156.3,326.7 156.4,327.2 156.6,326.9 156.8,326.4 157,325.5 157.2,326.1 157.4,326.5 157.6,327 157.8,326.4 157.9,326 158.1,326 158.3,325.8 158.5,326.2 158.7,326.8 158.9,327.6 159.1,327.4 159.3,326.9 159.5,326.4 159.6,326.2 159.8,325.8 160,326.4 160.2,325.9 160.4,326.6 160.6,326 160.8,326.9 161,326.5 161.1,326.9 161.3,326.4 161.5,326.3 161.7,326.4 161.9,326.6 162.1,326.7 162.3,327.1 162.5,327.3 162.6,327.9 162.8,327.5 163,326.5 163.2,325.8 163.4,326.1 163.6,327 163.8,326.9 164,326.8 164.2,327.1 164.3,327.7 164.5,327.9 164.7,327.7 164.9,327.2 165.1,326.8 165.3,327 165.5,327.3 165.7,327.7 165.8,327.6 166,327.9 166.2,327 166.4,326.7 166.6,326.1 166.8,326.4 167,326.4 167.2,326.4 167.3,326.5 167.5,326.3 167.7,325.8 167.9,325.9 168.1,326 168.3,326.5 168.5,326 168.7,325.6 168.8,326 169,326.8 169.2,327.4 169.4,327.5 169.6,327.1 169.8,326.5 170,327 170.2,327.2 170.4,327.8 170.5,326.9 170.7,326.6 170.9,326.5 171.1,326.8 171.3,327.4 171.5,327 171.7,327.4 171.9,327.5 172,327.8 172.2,326.9 172.4,325.8 172.6,325.6 172.8,326.3 173,327.1 173.2,327.4 173.4,326.8 173.5,327.2 173.7,327 173.9,327.2 174.1,326.7 174.3,326.6 174.5,326.2 174.7,326.3 174.9,326.9 175,327 175.2,327.1 175.4,326.7 175.6,326.5 175.8,326.8 176,326.5 176.2,327.2 176.4,326.5 176.6,326.6 176.7,326.3 176.9,327.2 177.1,326.6 177.3,327 177.5,326.3 177.7,326.4 177.9,325.7 178.1,325.4 178.2,326.1 178.4,326.4 178.6,326.9 178.8,326.4 179,326.2 179.2,326.2 179.4,326.6 179.6,327 179.7,326.5 179.9,326.6 180.1,326.6 180.3,327.4 180.5,326.7 180.7,327.2 180.9,327 181.1,327.4 181.2,326.8 181.4,326 181.6,325.5 181.8,325.8 182,325.9 182.2,326.7 182.4,327 182.6,328.2 182.8,327.7 182.9,327 183.1,327.2 183.3,327.1 183.5,327.4 183.7,326.6 183.9,327 184.1,327 184.3,327.6 184.4,328.3 184.6,328.3 184.8,328.2 185,327.2 185.2,326.7 185.4,326.7 185.6,326.8 185.8,327.3 185.9,327.2 186.1,326.9 186.3,326.1 186.5,324.7 186.7,323.6 186.9,323.2 187.1,323.9 187.3,323.8 187.4,323.9 187.6,324.4 187.8,326.1 188,327.1 188.2,327 188.4,326.4 188.6,326 188.8,325.9 189,326.4 189.1,326.6 189.3,326.8 189.5,326.7 189.7,326.8 189.9,326.6 190.1,327.2 190.3,327.3 190.5,327.5 190.6,327.3 190.8,327.2 191,327.5 191.2,327.3 191.4,327.4 191.6,327.1 191.8,327.1 192,326.6 192.1,326.5 192.3,326.2 192.5,326.5 192.7,326.8 192.9,327.1 193.1,326.9 193.3,326.8 193.5,327.1 193.7,328.1 193.8,327.9 194,327.6 194.2,326.9 194.4,327.1 194.6,327 194.8,327.1 195,327.3 195.2,327.2 195.3,326.8 195.5,326.2 195.7,326.7 195.9,327.5 196.1,328.1 196.3,327.6 196.5,326.9 196.7,326.4 196.8,326.9 197,327.2 197.2,327 197.4,326.6 197.6,326 197.8,326.5 198,326 198.2,325.8 198.3,326 198.5,326.5 198.7,327 198.9,325.6 199.1,326.1 199.3,326.1 199.5,327 199.7,326.6 199.9,327 200,327.3 200.2,327.2 200.4,327.4 200.6,326.7 200.8,327 201,326.7 201.2,327.4 201.4,327.2 201.5,327 201.7,327.1 201.9,327 202.1,326.5 202.3,325.9 202.5,325.9 202.7,326.2 202.9,326.8 203,326.6 203.2,327.3 203.4,327.5 203.6,327.8 203.8,327 204,326.5 204.2,326.1 204.4,326.4 204.5,326.4 204.7,326.4 204.9,326.2 205.1,326.3 205.3,326.7 205.5,327.2 205.7,326.9 205.9,326.1 206.1,325.7 206.2,326.6 206.4,326.6 206.6,326.6 206.8,326.1 207,326.6 207.2,326.9 207.4,326.3 207.6,325.8 207.7,326 207.9,326.6 208.1,327 208.3,326.3 208.5,327 208.7,326.8 208.9,326.7 209.1,326 209.2,326.3 209.4,326.5 209.6,326.5 209.8,327.2 210,328.6 210.2,329.6 210.4,330.1 210.6,329.7 210.7,329.1 210.9,327.9 211.1,326.8 211.3,325.2 211.5,324.2 211.7,324.2 211.9,324 212.1,324.4 212.3,324.2 212.4,325.5 212.6,325.9 212.8,326.6 213,326.6 213.2,326.4 213.4,326.5 213.6,326.5 213.8,326.8 213.9,326.7 214.1,327.5 214.3,327.4 214.5,328.2 214.7,328 214.9,328.2 215.1,327.2 215.3,326.5 215.4,326.1 215.6,326 215.8,326.4 216,326.3 216.2,326.6 216.4,326.1 216.6,327.2 216.8,327.4 217,327.9 217.1,327.2 217.3,327.7 217.5,327.2 217.7,326.9 217.9,325.9 218.1,326.3 218.3,326.2 218.5,326.6 218.6,326.2 218.8,326.6 219,326.5 219.2,326.8 219.4,326.8 219.6,326.4 219.8,325.9 220,325.5 220.1,325.5 220.3,325.8 220.5,326.1 220.7,325.8 220.9,326.2 221.1,326.5 221.3,327.1 221.5,327.4 221.6,327.3 221.8,327.4 222,327.2 222.2,327.3 222.4,327 222.6,326.8 222.8,326.6 223,326.5 223.2,326.6 223.3,327 223.5,327.3 223.7,327 223.9,327.2 224.1,327 224.3,327.2 224.5,326.8 224.7,327.2 224.8,327.2 225,326.8 225.2,326.3 225.4,326 225.6,326.4 225.8,326.1 226,325.9 226.2,325.8 226.3,327.2 226.5,327.5 226.7,326.7 226.9,325.9 227.1,326.2 227.3,326.5 227.5,326.7 227.7,326.2 227.8,326.5 228,326.8 228.2,326.9 228.4,326.8 228.6,326.4 228.8,326.2 229,326.7 229.2,326.5 229.4,327.4 229.5,330.2 229.7,332.1 229.9,331.1 230.1,328.5 230.3,327 230.5,325.5 230.7,322.6 230.9,320.9 231,322.3 231.2,324.7 231.4,325.7 231.6,326 231.8,325.9 232,326.6 232.2,326.8 232.4,327.1 232.5,326.5 232.7,327 232.9,326.5 233.1,326.9 233.3,326.3 233.5,326.7 233.7,326.1 233.9,326.4 234,326.8 234.2,327 234.4,326.6 234.6,326.1 234.8,326.3 235,326.7 235.2,327.4 235.4,326.8 235.6,327 235.7,326.4 235.9,326.8 236.1,326.2 236.3,326.1 236.5,325.8 236.7,326 236.9,326.2 237.1,327.2 237.2,327.2 237.4,327.6 237.6,327 237.8,326.7 238,326.3 238.2,325.9 238.4,326.4 238.6,326.3 238.7,326.8 238.9,327.5 239.1,327.9 239.3,327.8 239.5,327 239.7,326.7 239.9,326.7 240.1,326.5 240.2,326.3 240.4,326.3 240.6,326.4 240.8,327.2 241,327.2 241.2,327.5 241.4,326.4 241.6,326.5 241.8,326.9 241.9,327.3 242.1,326.6 242.3,326.2 242.5,326.3 242.7,326.9 242.9,326.8 243.1,326.3 243.3,325.7 243.4,325.5 243.6,326 243.8,326 244,326.1 244.2,326.1 244.4,326.8 244.6,326.9 244.8,326.8 244.9,326.8 245.1,326.6 245.3,326.6 245.5,326.4 245.7,326.6 245.9,326.7 246.1,326.8 246.3,326.7 246.5,326.6 246.6,326.3 246.8,326.6 247,327.3 247.2,327.4 247.4,327.2 247.6,326.1 247.8,326.4 248,326.7 248.1,326.4 248.3,326.3 248.5,326 248.7,327 248.9,326.9 249.1,327 249.3,326.6 249.5,326.4 249.6,326.7 249.8,326.9 250,327.1 250.2,326.1 250.4,325.7 250.6,326 250.8,326.1 251,326.5 251.1,326.4 251.3,326.8 251.5,327 251.7,326 251.9,325.7 252.1,325.3 252.3,326.4 252.5,327.2 252.7,327.1 252.8,326.7 253,326.5 253.2,326.7 253.4,326.7 253.6,326.6 253.8,327.1 254,327.1 254.2,327 254.3,326.2 254.5,326.6 254.7,327.4 254.9,328 255.1,327.7 255.3,326.4 255.5,325.2 255.7,325.2 255.8,326.3 256,327.2 256.2,327.1 256.4,326.5 256.6,326.4 256.8,326.1 257,326.5 257.2,327.3 257.3,328 257.5,328 257.7,326.7 257.9,326.4 258.1,326.5 258.3,327 258.5,326.7 258.7,326.2 258.9,326.3 259,326.3 259.2,326.2 259.4,326.5 259.6,326.6 259.8,326.5 260,326.1 260.2,326 260.4,326.1 260.5,326.3 260.7,326.7 260.9,326.6 261.1,326.7 261.3,326.3 261.5,326.1 261.7,326.6 261.9,327 262,327.6 262.2,327.2 262.4,327.1 262.6,326.9 262.8,326.5 263,326.5 263.2,326.3 263.4,326.7 263.5,327 263.7,326.6 263.9,327.1 264.1,326.5 264.3,327.1 264.5,326 264.7,327.3 264.9,327.3 265.1,327.4 265.2,326.5 265.4,326.1 265.6,326.6 265.8,326.8 266,327.4 266.2,326.9 266.4,326.6 266.6,326.5 266.7,326.7 266.9,326.9 267.1,326.9 267.3,327.1 267.5,327 267.7,327.1 267.9,327 268.1,327.1 268.2,326.6 268.4,326.6 268.6,326.3 268.8,326.4 269,325.9 269.2,326 269.4,326.2 269.6,326.8 269.8,327.2 269.9,327.7 270.1,327.3 270.3,326.9 270.5,326.2 270.7,325.6 270.9,325.6 271.1,326.1 271.3,326.9 271.4,326.8 271.6,327.3 271.8,326.6 272,326.9 272.2,326.3 272.4,327.1 272.6,326.5 272.8,326.5 272.9,325.5 273.1,325.9 273.3,326.6 273.5,327.5 273.7,327.9 273.9,326.9 274.1,326.8 274.3,326.7 274.4,327 274.6,326.7 274.8,326.3 275,326.6 275.2,327.3 275.4,327.9 275.6,328.5 275.8,327.4 276,326.7 276.1,326.1 276.3,326.4 276.5,326.4 276.7,326.1 276.9,326.1 277.1,326.1 277.3,326.2 277.5,327.1 277.6,328.3 277.8,327.9 278,327 278.2,326.9 278.4,327.3 278.6,327.7 278.8,327.1 279,328 279.1,327.5 279.3,327.3 279.5,326.2 279.7,326.1 279.9,325.7 280.1,325.4 280.3,325.7 280.5,326 280.6,326.8 280.8,326.7 281,326.8 281.2,327 281.4,326.8 281.6,326.5 281.8,327 282,327.9 282.2,328.2 282.3,327.8 282.5,326.8 282.7,326.7 282.9,326.1 283.1,326.2 283.3,325.8 283.5,326.1 283.7,326.2 283.8,326.5 284,326.2 284.2,326.2 284.4,325.8 284.6,325.8 284.8,326 285,326.1 285.2,326 285.3,325.1 285.5,324.2 285.7,324.1 285.9,325.1 286.1,326.3 286.3,326.8 286.5,326.6 286.7,327 286.8,326.8 287,327.2 287.2,326.5 287.4,326.6 287.6,326.1 287.8,326.4 288,326.3 288.2,326.4 288.4,326.7 288.5,326.8 288.7,327 288.9,326.8 289.1,327 289.3,327.2 289.5,327.6 289.7,327.4 289.9,326.8 290,326.5 290.2,326.4 290.4,326.8 290.6,326.4 290.8,326.6 291,326.3 291.2,327.3 291.4,327.4 291.5,327.2 291.7,326 291.9,325.7 292.1,326.3 292.3,326.5 292.5,326.7 292.7,326.1 292.9,326 293,325.6 293.2,326.3 293.4,326.4 293.6,326.7 293.8,326.5 294,327 294.2,326.9 294.4,326.7 294.6,326.3 294.7,326 294.9,325.1 295.1,325.4 295.3,325.3 295.5,326.6 295.7,326.6 295.9,327.3 296.1,326.7 296.2,326.6 296.4,326.2 296.6,326.6 296.8,326.4 297,326.6 297.2,326.4 297.4,325.9 297.6,325.8 297.7,326.1 297.9,327.2 298.1,326.9 298.3,326.7 298.5,326.6 298.7,327.1 298.9,327.1 299.1,327.2 299.3,326.3 299.4,326.4 299.6,326.1 299.8,326.8 300,327.3 300.2,327.7 300.4,327.8 300.6,327.2 300.8,327.2 300.9,326.5 301.1,326.4 301.3,325.6 301.5,325.7 301.7,325.9 301.9,325.6 302.1,325.9 302.3,326.4 302.4,327.9 302.6,328 302.8,327.1 303,326.3 303.2,325.8 303.4,326.2 303.6,326 303.8,326.3 303.9,326.6 304.1,326.6 304.3,326.8 304.5,326.1 304.7,325.7 304.9,325.4 305.1,325.7 305.3,325.3 305.5,324.5 305.6,323.6 305.8,323.3 306,323.7 306.2,324 306.4,325 306.6,325.6 306.8,326.2 307,326.4 307.1,326.7 307.3,326.9 307.5,327.3 307.7,327.2 307.9,326.8 308.1,326.3 308.3,326 308.5,326.3 308.6,326 308.8,326.4 309,326.1 309.2,326.4 309.4,326.5 309.6,327 309.8,326.9 310,326.6 310.1,326.3 310.3,325.6 310.5,325.4 310.7,325.5 310.9,326.2 311.1,326.6 311.3,326.7 311.5,326.8 311.7,326.8 311.8,326.8 312,327 312.2,326.7 312.4,327.2 312.6,326.6 312.8,326.7 313,325.9 313.2,326.8 313.3,327.2 313.5,327.4 313.7,327.2 313.9,326.5 314.1,326.8 314.3,327 314.5,327.1 314.7,326.6 314.8,326 315,326.1 315.2,326.3 315.4,326.8 315.6,326.4 315.8,326.1 316,325.5 316.2,326.4 316.3,326.5 316.5,327.1 316.7,326.4 316.9,326.6 317.1,326 317.3,326.2 317.5,326.4 317.7,327.1 317.9,327.4 318,327.2 318.2,327.1 318.4,326.5 318.6,326.8 318.8,326.7 319,326.7 319.2,326.3 319.4,326.4 319.5,326.8 319.7,327 319.9,326.5 320.1,326.7 320.3,326.8 320.5,327.1 320.7,326.6 320.9,326.2 321,326.3 321.2,326 321.4,326.2 321.6,326.2 321.8,327.3 322,327.6 322.2,328.1 322.4,327.5 322.6,327.2 322.7,326 322.9,325.9 323.1,326.7 323.3,327.1 323.5,327.1 323.7,327.2 323.9,327.4 324.1,327.8 324.2,328.5 324.4,331.5 324.6,333.5 324.8,331.9 325,327.9 325.2,326.5 325.4,326.3 325.6,325.7 325.7,322.4 325.9,318.2 326.1,317.8 326.3,321.7 326.5,325.4 326.7,326.9 326.9,327.1 327.1,326.4 327.2,326.2 327.4,327 327.6,328.7 327.8,330.6 328,330.5 328.2,328.4 328.4,327.1 328.6,326.4 328.8,326.6 328.9,326.4 329.1,325.6 329.3,325.4 329.5,326.1 329.7,327 329.9,327.3 330.1,326.8 330.3,326.8 330.4,325.8 330.6,325.7 330.8,325.1 331,326.1 331.2,326.4 331.4,326.3 331.6,326.6 331.8,326.5 331.9,327.6 332.1,326.6 332.3,327.1 332.5,326.7 332.7,327.3 332.9,327.3 333.1,326.5 333.3,326.5 333.4,325.4 333.6,326.4 333.8,326.8 334,327.3 334.2,327 334.4,325.6 334.6,326 334.8,326.6 335,327.7 335.1,327.3 335.3,326.6 335.5,326.6 335.7,326.8 335.9,326.8 336.1,326.3 336.3,326.3 336.5,326.5 336.6,327.7 336.8,327.8 337,327.7 337.2,326.9 337.4,326.6 337.6,326.2 337.8,326.3 338,326.6 338.1,327.1 338.3,326.9 338.5,326.9 338.7,326.7 338.9,326.2 339.1,326 339.3,326.6 339.5,327.2 339.6,326.6 339.8,326.5 340,326.7 340.2,327.3 340.4,327 340.6,326.7 340.8,326.6 341,326.3 341.2,325.6 341.3,325.8 341.5,325.8 341.7,326.4 341.9,325.3 342.1,325.9 342.3,325.8 342.5,325.9 342.7,324.4 342.8,322.8 343,322.6 343.2,324.2 343.4,325.8 343.6,326.4 343.8,326.8 344,328.3 344.2,331.3 344.3,332 344.5,331.3 344.7,328.7 344.9,327 345.1,325.9 345.3,326.3 345.5,326.6 345.7,326.9 345.8,327 346,327.3 346.2,327.1 346.4,326.9 346.6,326.6 346.8,326 347,325.6 347.2,325.6 347.4,326.5 347.5,326.2 347.7,326.4 347.9,325.8 348.1,326.5 348.3,326.5 348.5,327.6 348.7,327.5 348.9,327.8 349,327.4 349.2,326.7 349.4,326.9 349.6,326.7 349.8,327.3 350,326.6 350.2,326.3 350.4,326.7 350.5,327.1 350.7,327.6 350.9,326.9 351.1,326.4 351.3,326.3 351.5,326.7 351.7,327.3 351.9,327.1 352.1,326.4 352.2,325.9 352.4,326.3 352.6,327.1 352.8,327.4 353,327.7 353.2,326.9 353.4,326.7 353.6,326.2 353.7,326.1 353.9,326 354.1,325.5 354.3,326.1 354.5,325.9 354.7,327 354.9,329 355.1,331.4 355.2,331.2 355.4,328.6 355.6,326.8 355.8,326.5 356,326.5 356.2,325.2 356.4,322.8 356.6,321.3 356.7,322.7 356.9,324.8 357.1,325.8 357.3,326.6 357.5,327.2 357.7,327.3 357.9,327 358.1,326.7 358.3,326.7 358.4,326.5 358.6,326.4 358.8,326.4 359,327 359.2,327 359.4,327.3 359.6,327.5 359.8,327.3 359.9,327.9 360.1,327.5 360.3,327.4 360.5,326.4 360.7,326.8 360.9,327 361.1,327.7 361.3,327.5 361.4,327.1 361.6,326.5 361.8,325.8 362,326.6 362.2,327.3 362.4,328 362.6,327.2 362.8,326.3 362.9,325.7 363.1,326.1 363.3,326.5 363.5,326.9 363.7,325.9 363.9,325.8 364.1,325.2 364.3,326.2 364.5,325.8 364.6,326.7 364.8,326.8 365,327.1 365.2,326.9 365.4,326.9 365.6,327.1 365.8,327.1 366,326.4 366.1,326 366.3,326.3 366.5,326.2 366.7,326.6 366.9,326.2 367.1,326.8 367.3,326.5 367.5,326.3 367.6,326.4 367.8,326.6 368,327.3 368.2,326.5 368.4,326.8 368.6,326.7 368.8,327.5 369,327.2 369.1,326.6 369.3,326.5 369.5,326.6 369.7,326.9 369.9,326.4 370.1,326.3 370.3,326.7 370.5,326.7 370.7,326.7 370.8,325.5 371,326.2 371.2,326.4 371.4,327.1 371.6,327.3 371.8,327.3 372,326.9 372.2,326.2 372.3,326.8 372.5,326.8 372.7,326.9 372.9,325.9 373.1,326.3 373.3,326.3 373.5,326.6 373.7,326.5 373.8,326.9 374,326.5 374.2,326.2 374.4,325.5 374.6,325.3 374.8,325.1 375,324.8 375.2,325 375.3,324.7 375.5,324.7 375.7,324.7 375.9,325.7 376.1,325.8 376.3,326.2 376.5,325.9 376.7,326.6 376.9,326.9 377,327.1 377.2,327.3 377.4,327.3 377.6,326.6 377.8,325.8 378,325 378.2,325.9 378.4,326.8 378.5,327.9 378.7,328.5 378.9,327.6 379.1,326.8 379.3,325.9 379.5,326.1 379.7,326.4 379.9,326.5 380,326.4 380.2,326.8 380.4,326.9 380.6,327.2 380.8,327.4 381,327.6 381.2,327.4 381.4,326.8 381.6,327.2 381.7,327.1 381.9,327.1 382.1,326 382.3,326.4 382.5,326.3 382.7,326.9 382.9,327 383.1,327.5 383.2,327.3 383.4,326.8 383.6,326 383.8,325.8 384,326.3 384.2,326.6 384.4,326.4 384.6,325.7 384.7,325.7 384.9,326.6 385.1,327.2 385.3,327.5 385.5,327 385.7,327 385.9,326.9 386.1,326.7 386.2,326.3 386.4,326.2 386.6,326 386.8,326.4 387,326.1 387.2,326.6 387.4,326.3 387.6,326.7 387.8,325.9 387.9,325.8 388.1,325.6 388.3,326.2 388.5,326.6 388.7,326.6 388.9,326.9 389.1,327.1 389.3,327.5 389.4,326.6 389.6,325.9 389.8,325.9 390,326.5 390.2,327.5 390.4,327.2 390.6,326.8 390.8,325.8 390.9,326.3 391.1,326.2 391.3,326.8 391.5,326.7 391.7,327.1 391.9,327.3 392.1,326.9 392.3,326.8 392.4,326.2 392.6,326.5 392.8,327.1 393,327.8 393.2,327.5 393.4,327.4 393.6,327.3 393.8,327.2 394,327.2 394.1,326.7 394.3,326.8 394.5,326.5 394.7,326.8 394.9,327 395.1,327 395.3,327.1 395.5,326.9 395.6,326.8 395.8,327 396,327.3 396.2,326.6 396.4,326.7 396.6,326.4 396.8,326.7 397,326.1 397.1,326.2 397.3,326 397.5,325.7 397.7,325.6 397.9,326.6 398.1,327 398.3,326.9 398.5,326.6 398.6,327.1 398.8,327.2 399,327.1 399.2,326.6 399.4,327 399.6,327.8 399.8,327.8 400,327.4 400.2,326.4 400.3,326.7 400.5,326.1 400.7,326 400.9,326.1 401.1,326.5 401.3,326.7 401.5,326.4 401.7,326.6 401.8,327.1 402,327.3 402.2,327.2 402.4,326.7 402.6,327.1 402.8,326.9 403,327.4 403.2,327.2 403.3,327 403.5,326.8 403.7,326.5 403.9,326.8 404.1,326.3 404.3,326.9 404.5,326.8 404.7,326.9 404.9,326.2 405,326.4 405.2,326.4 405.4,326.2 405.6,325.8 405.8,326.4 406,327.1 406.2,327.6 406.4,327.7 406.5,327 406.7,327.2 406.9,326.3 407.1,326.7 407.3,326.5 407.5,327 407.7,327.2 407.9,327.1 408,326.5 408.2,326.5 408.4,326.6 408.6,327 408.8,326.5 409,326.3 409.2,326.4 409.4,327.2 409.5,327.4 409.7,327.5 409.9,327.2 410.1,326.7 410.3,326.2 410.5,326 410.7,326.3 410.9,325.9 411.1,326.4 411.2,326.4 411.4,327 411.6,326.6 411.8,326.7 412,326.7 412.2,326.6 412.4,327.3 412.6,327.1 412.7,327.1 412.9,326.7 413.1,327.1 413.3,326.7 413.5,326.7 413.7,326.5 413.9,327.3 414.1,327.2 414.2,327.3 414.4,327.7 414.6,326.8 414.8,326.8 415,326 415.2,326.8 415.4,326.2 415.6,326.1 415.7,325.7 415.9,325.8 416.1,325.7 416.3,326 416.5,326.1 416.7,326.9 416.9,326.6 417.1,326.7 417.3,326.1 417.4,326.8 417.6,326.6 417.8,326.9 418,326.3 418.2,327.3 418.4,327.1 418.6,327.5 418.8,327.2 418.9,327.3 419.1,326.6 419.3,326.4 419.5,326 419.7,325.9 419.9,326.4 420.1,326 420.3,326.8 420.4,326.5 420.6,327.1 420.8,327.6 421,327.9 421.2,328.1 421.4,327.7 421.6,327 421.8,326.3 421.9,326.2 422.1,326.4 422.3,326.6 422.5,326.5 422.7,326.6 422.9,326.9 423.1,326.6 423.3,326.8 423.5,326.6 423.6,326.7 423.8,326.6 424,326.8 424.2,327.3 424.4,327.4 424.6,327.3 424.8,327.1 425,327.1 425.1,327.1 425.3,326.8 425.5,326.7 425.7,326.7 425.9,326.7 426.1,327.2 426.3,326.7 426.5,326.6 426.6,326.3 426.8,326.2 427,326.1 427.2,326 427.4,326.8 427.6,327.1 427.8,327.2 428,326.3 428.1,326.7 428.3,326.5 428.5,326.7 428.7,326.2 428.9,326.9 429.1,327.2 429.3,327 429.5,326.4 429.7,326.1 429.8,326.1 430,326.3 430.2,326.4 430.4,327.3 430.6,327 430.8,326.9 431,326.4 431.2,327.2 431.3,327.4 431.5,327.4 431.7,326.9 431.9,326.9 432.1,327.4 432.3,327.2 432.5,327.1 432.7,326.9 432.8,327 433,327.1 433.2,327.1 433.4,327.2 433.6,327 433.8,327.3 434,327.5 434.2,327.5 434.4,327.1 434.5,326.7 434.7,326.1 434.9,325.8 435.1,325.5 435.3,326 435.5,326.3 435.7,326.9 435.9,327.6 436,328 436.2,328.5 436.4,328.2 436.6,328.3 436.8,327.9 437,327.5 437.2,327.2 437.4,326.6 437.5,326.3 437.7,325.8 437.9,325.9 438.1,326.1 438.3,326.5 438.5,326.7 438.7,326.8 438.9,326.7 439,326.7 439.2,327 439.4,327.4 439.6,327.5 439.8,326.6 440,325.7 440.2,324.6 440.4,325.6 440.6,326.2 440.7,328.1 440.9,327.9 441.1,327.1 441.3,325.9 441.5,325.9 441.7,326.6 441.9,327.4 442.1,327.5 442.2,327.5 442.4,327.3 442.6,326.9 442.8,326.7 443,326.4 443.2,326 443.4,326.1 443.6,326.4 443.7,326.8 443.9,326.6 444.1,326.6 444.3,326.9 444.5,327.2 444.7,327 444.9,327 445.1,326.6 445.2,327.2 445.4,326.7 445.6,326.8 445.8,326.4 446,326.6 446.2,326.9 446.4,326.3 446.6,326.4 446.8,326.6 446.9,327 447.1,326.5 447.3,326.2 447.5,326.3 447.7,326.3 447.9,326.7 448.1,326.9 448.3,327.6 448.4,327 448.6,327.4 448.8,327.4 449,327.7 449.2,326.9 449.4,326 449.6,325.9 449.8,326.2 449.9,326.3 450.1,326.1 450.3,325.6 450.5,325.7 450.7,325.9 450.9,326.7 451.1,327.3 451.3,326.9 451.4,326.4 451.6,326.7 451.8,327.3 452,327 452.2,326.3 452.4,326.3 452.6,327.3 452.8,327.4 453,327.5 453.1,326.2 453.3,326.2 453.5,326.2 453.7,326.9 453.9,326.9 454.1,326.8 454.3,326.8 454.5,327.1 454.6,327.5 454.8,327.3 455,327.2 455.2,326.9 455.4,327.4 455.6,327.5 455.8,328 456,327.3 456.1,326.7 456.3,325.9 456.5,326.3 456.7,326.5 456.9,327.1 457.1,327.5 457.3,327.2 457.5,327.1 457.7,326.7 457.8,327.3 458,327.7 458.2,327.9 458.4,327.4 458.6,326.3 458.8,326.9 459,327.6 459.2,328.2 459.3,327.1 459.5,326.2 459.7,325.5 459.9,325.3 460.1,325.8 460.3,326.6 460.5,326.9 460.7,326.8 460.8,326.5 461,326.9 461.2,327 461.4,326.7 461.6,326.9 461.8,327.3 462,327.8 462.2,327.5 462.3,327 462.5,326.8 462.7,327.5 462.9,327.7 463.1,327.3 463.3,326.7 463.5,326.7 463.7,326.7 463.9,326.8 464,326.3 464.2,326.6 464.4,326.3 464.6,326.2 464.8,325.6 465,325.3 465.2,325.9 465.4,327 465.5,327.5 465.7,327.3 465.9,326.7 466.1,326.6 466.3,326.5 466.5,327.2 466.7,327.2 466.9,327.1 467,326.1 467.2,325.8 467.4,326 467.6,326.9 467.8,327.1 468,327.1 468.2,326.8 468.4,326.8 468.5,326.6 468.7,326.4 468.9,325.8 469.1,326.2 469.3,326.9 469.5,327.4 469.7,327.5 469.9,327.1 470.1,327.2 470.2,327.1 470.4,326.8 470.6,326.6 470.8,326.3 471,326.3 471.2,326.3 471.4,326.4 471.6,326.4 471.7,326.6 471.9,326.5 472.1,326.8 472.3,326.2 472.5,326 472.7,326.2 472.9,326.5 473.1,327.2 473.2,326.4 473.4,326.2 473.6,324.8 473.8,324.7 474,325.1 474.2,325 474.4,324.8 474.6,324.4 474.7,325.2 474.9,325.6 475.1,326.7 475.3,326.6 475.5,327.6 475.7,327.5 475.9,328.1 476.1,327.2 476.3,326.6 476.4,326.3 476.6,326.3 476.8,326.6 477,327 477.2,327.5 477.4,328.1 477.6,327.4 477.8,327.2 477.9,326.9 478.1,326.6 478.3,326.4 478.5,326.5 478.7,326.6 478.9,326.9 479.1,326.7 479.3,326.4 479.4,326.6 479.6,326.6 479.8,327.1 480,326.7 480.2,326.4 480.4,326.7 480.6,326.4 480.8,326.1 480.9,325.1 481.1,325.5 481.3,326.3 481.5,327.2 481.7,327.2 481.9,327 482.1,326.7 482.3,327 482.5,327.7 482.6,327.8 482.8,327.6 483,327 483.2,327.4 483.4,327.4 483.6,327.4 483.8,327.3 484,327 484.1,326.9 484.3,326.5 484.5,326.6 484.7,326.7 484.9,326.7 485.1,326.7 485.3,326.4 485.5,326.1 485.6,326.3 485.8,326.3 486,326.2 486.2,326.6 486.4,327 486.6,327.3 486.8,326.9 487,326.2 487.2,325.8 487.3,325.9 487.5,326.5 487.7,327.3 487.9,327.5 488.1,327.1 488.3,327.2 488.5,326.7 488.7,327.3 488.8,326.9 489,327.1 489.2,326.3 489.4,326.1 489.6,325.9 489.8,326.2 490,327 490.2,326.5 490.3,327.4 490.5,326.9 490.7,327.3 490.9,327.1 491.1,327.5 491.3,327.3 491.5,327 491.7,326.2 491.8,326.4 492,326.3 492.2,326.1 492.4,326.3 492.6,325.6 492.8,326.5 493,326.7 493.2,327.5 493.4,327.2 493.5,327.2 493.7,327.2 493.9,326.9 494.1,326.4 494.3,325.8 494.5,326.2 494.7,326.4 494.9,327 495,327.1 495.2,326.9 495.4,326.8 495.6,327 495.8,326.6 496,326.1 496.2,325.8 496.4,326.4 496.5,326.9 496.7,326.3 496.9,326.4 497.1,325.5 497.3,326.4 497.5,326.7 497.7,326.8 497.9,326.6 498,325.6 498.2,326.1 498.4,326.2 498.6,326.4 498.8,326.6 499,326.4 499.2,326.7 499.4,327.2 499.6,327.2 499.7,327.3 499.9,326.7 500.1,326.6 500.3,326.8 500.5,326.4 500.7,326.2 500.9,325 501.1,324.8 501.2,324.8 501.4,325.7 501.6,326.1 501.8,326.8 502,326.6 502.2,326.8 502.4,326.6 502.6,326.8 502.7,326.7 502.9,326.5 503.1,326.9 503.3,326.6 503.5,326.7 503.7,326.2 503.9,326.6 504.1,326.9 504.2,326.9 504.4,327.1 504.6,327 504.8,327.1 505,326.7 505.2,326.3 505.4,326.3 505.6,326.7 505.8,327 505.9,327.1 506.1,327.3 506.3,327 506.5,326.9 506.7,326.9 506.9,326.6 507.1,326.1 507.3,326.1 507.4,326.6 507.6,327.5 507.8,326.8 508,327.2 508.2,326.8 508.4,326.9 508.6,326.1 508.8,326.9 508.9,327.2 509.1,327.6 509.3,326.8 509.5,326.5 509.7,326.2 509.9,326.3 510.1,326.7 510.3,326.9 510.5,327.2 510.6,327 510.8,327.3 511,326.9 511.2,326.7 511.4,327 511.6,327 511.8,327.3 512,327.2 512.1,327 512.3,326.8 512.5,326.3 512.7,326.7 512.9,326.7 513.1,327.4 513.3,327.1 513.5,327.3 513.6,326.7 513.8,327 514,327.1 514.2,327.5 514.4,327.5 514.6,326.8 514.8,326.6 515,326.8 515.1,327.1 515.3,327.1 515.5,326.5 515.7,326.4 515.9,325.4 516.1,325.8 516.3,325.9"/><text x="271.6" y="419.5" font-size="18" fill="#1a1a1a" stroke="#1a1a1a" textLength="82" lengthAdjust="spacingAndGlyphs" style="stroke-width:0.75px">2 Theta (°)</text><text x="27.2" y="198.2" font-size="18" text-anchor="middle" fill="#1a1a1a" stroke="#1a1a1a" textLength="145" lengthAdjust="spacingAndGlyphs" transform="rotate(-90 27.2 198.2)" >Intensity (counts)</text><text x="8.4" y="42.4" font-size="40" fill="#111" stroke="#111" font-weight="bold" textLength="28.6" lengthAdjust="spacingAndGlyphs" style="font-family:'Liberation Serif',serif">A</text><circle cx="396.8" cy="32" r="3.7" fill="none" stroke="#333" stroke-width="1.5"/><path d="M376,52.4H416.4" stroke="#ff0000" stroke-width="2.7" stroke-linecap="round"/><path d="M376,73.1H416.4" stroke="#008000" stroke-width="2.7" stroke-linecap="round"/><path d="M396.5,91.4V101.7" stroke="#0000ff" stroke-width="1.4"/><text x="421.5" y="37.3" font-size="17.6" fill="#1a1a1a" stroke="#1a1a1a" textLength="48.5" lengthAdjust="spacingAndGlyphs" >TiOPC</text><text x="421.5" y="58.7" font-size="17.6" fill="#1a1a1a" stroke="#1a1a1a" >Fitting</text><text x="421.5" y="80.3" font-size="17.6" fill="#1a1a1a" stroke="#1a1a1a" textLength="79.4" lengthAdjust="spacingAndGlyphs" >Difference</text><text x="421.5" y="101" font-size="17.6" fill="#1a1a1a" stroke="#1a1a1a" >Bragg</text></g><g id="B"><path class="ax" d="M93.1,464V803.6H515.6"/><path class="ax" d="M86.1,783.6H93.1M86.1,743.6H93.1M86.1,703.7H93.1M86.1,663.8H93.1M86.1,623.8H93.1M86.1,583.9H93.1M86.1,543.9H93.1M86.1,503.9H93.1M86.1,464H93.1M89.1,803.6H93.1M89.1,763.6H93.1M89.1,723.7H93.1M89.1,683.7H93.1M89.1,643.8H93.1M89.1,603.8H93.1M89.1,563.9H93.1M89.1,523.9H93.1M89.1,484H93.1M125.6,803.6V810.6M190.6,803.6V810.6M255.6,803.6V810.6M320.6,803.6V810.6M385.6,803.6V810.6M450.6,803.6V810.6M515.6,803.6V810.6M158.1,803.6V807.6M223.1,803.6V807.6M288.1,803.6V807.6M353.1,803.6V807.6M418.1,803.6V807.6M483.1,803.6V807.6"/><text x="81" y="788.8" font-size="16.5" text-anchor="end" fill="#1a1a1a" stroke="#1a1a1a" >0</text><text x="81" y="748.9" font-size="16.5" text-anchor="end" fill="#1a1a1a" stroke="#1a1a1a" >100</text><text x="81" y="708.9" font-size="16.5" text-anchor="end" fill="#1a1a1a" stroke="#1a1a1a" >200</text><text x="81" y="669" font-size="16.5" text-anchor="end" fill="#1a1a1a" stroke="#1a1a1a" >300</text><text x="81" y="629" font-size="16.5" text-anchor="end" fill="#1a1a1a" stroke="#1a1a1a" >400</text><text x="81" y="589.1" font-size="16.5" text-anchor="end" fill="#1a1a1a" stroke="#1a1a1a" >500</text><text x="81" y="549.1" font-size="16.5" text-anchor="end" fill="#1a1a1a" stroke="#1a1a1a" >600</text><text x="81" y="509.1" font-size="16.5" text-anchor="end" fill="#1a1a1a" stroke="#1a1a1a" >700</text><text x="81" y="469.2" font-size="16.5" text-anchor="end" fill="#1a1a1a" stroke="#1a1a1a" >800</text><text x="125.6" y="828.5" font-size="16.5" text-anchor="middle" fill="#1a1a1a" stroke="#1a1a1a" >20</text><text x="190.6" y="828.5" font-size="16.5" text-anchor="middle" fill="#1a1a1a" stroke="#1a1a1a" >30</text><text x="255.6" y="828.5" font-size="16.5" text-anchor="middle" fill="#1a1a1a" stroke="#1a1a1a" >40</text><text x="320.6" y="828.5" font-size="16.5" text-anchor="middle" fill="#1a1a1a" stroke="#1a1a1a" >50</text><text x="385.6" y="828.5" font-size="16.5" text-anchor="middle" fill="#1a1a1a" stroke="#1a1a1a" >60</text><text x="450.6" y="828.5" font-size="16.5" text-anchor="middle" fill="#1a1a1a" stroke="#1a1a1a" >70</text><text x="515.6" y="828.5" font-size="16.5" text-anchor="middle" fill="#1a1a1a" stroke="#1a1a1a" >80</text><g class="ob"><circle cx="93.1" cy="540.5" r="3.05"/><circle cx="93.4" cy="533.5" r="3.05"/><circle cx="93.8" cy="539.7" r="3.05"/><circle cx="94.1" cy="565.1" r="3.05"/><circle cx="94.4" cy="570.4" r="3.05"/><circle cx="94.7" cy="553.4" r="3.05"/><circle cx="95.1" cy="544.4" r="3.05"/><circle cx="95.4" cy="548.8" r="3.05"/><circle cx="95.7" cy="533.8" r="3.05"/><circle cx="96" cy="546.6" r="3.05"/><circle cx="96.4" cy="548.2" r="3.05"/><circle cx="96.7" cy="564.7" r="3.05"/><circle cx="97" cy="569.4" r="3.05"/><circle cx="97.3" cy="539.3" r="3.05"/><circle cx="97.7" cy="556.4" r="3.05"/><circle cx="98" cy="547.8" r="3.05"/><circle cx="98.3" cy="573.7" r="3.05"/><circle cx="98.6" cy="563" r="3.05"/><circle cx="99" cy="573.3" r="3.05"/><circle cx="99.3" cy="567.6" r="3.05"/><circle cx="99.6" cy="548.4" r="3.05"/><circle cx="99.9" cy="576.4" r="3.05"/><circle cx="100.3" cy="565.7" r="3.05"/><circle cx="100.6" cy="557.9" r="3.05"/><circle cx="100.9" cy="567.8" r="3.05"/><circle cx="101.2" cy="563.3" r="3.05"/><circle cx="101.6" cy="563.3" r="3.05"/><circle cx="101.9" cy="556.2" r="3.05"/><circle cx="102.2" cy="566.3" r="3.05"/><circle cx="102.5" cy="558.5" r="3.05"/><circle cx="102.9" cy="561.3" r="3.05"/><circle cx="103.2" cy="557.4" r="3.05"/><circle cx="103.5" cy="560" r="3.05"/><circle cx="103.8" cy="543.9" r="3.05"/><circle cx="104.2" cy="570.8" r="3.05"/><circle cx="104.5" cy="549.8" r="3.05"/><circle cx="104.8" cy="568.4" r="3.05"/><circle cx="105.1" cy="575" r="3.05"/><circle cx="105.5" cy="550.5" r="3.05"/><circle cx="105.8" cy="569.3" r="3.05"/><circle cx="106.1" cy="568.8" r="3.05"/><circle cx="106.4" cy="580.2" r="3.05"/><circle cx="106.8" cy="588.4" r="3.05"/><circle cx="107.1" cy="557.3" r="3.05"/><circle cx="107.4" cy="577.8" r="3.05"/><circle cx="107.7" cy="555.7" r="3.05"/><circle cx="108.1" cy="543.6" r="3.05"/><circle cx="108.4" cy="566" r="3.05"/><circle cx="108.7" cy="577.5" r="3.05"/><circle cx="109" cy="560.3" r="3.05"/><circle cx="109.4" cy="556.1" r="3.05"/><circle cx="109.7" cy="567.8" r="3.05"/><circle cx="110" cy="564.7" r="3.05"/><circle cx="110.3" cy="549.7" r="3.05"/><circle cx="110.7" cy="550.6" r="3.05"/><circle cx="111" cy="556.9" r="3.05"/><circle cx="111.3" cy="574.9" r="3.05"/><circle cx="111.6" cy="565.7" r="3.05"/><circle cx="112" cy="558.3" r="3.05"/><circle cx="112.3" cy="567.6" r="3.05"/><circle cx="112.6" cy="572.2" r="3.05"/><circle cx="112.9" cy="574" r="3.05"/><circle cx="113.3" cy="572.5" r="3.05"/><circle cx="113.6" cy="573" r="3.05"/><circle cx="113.9" cy="570.5" r="3.05"/><circle cx="114.2" cy="552.4" r="3.05"/><circle cx="114.6" cy="574.6" r="3.05"/><circle cx="114.9" cy="555.4" r="3.05"/><circle cx="115.2" cy="560.8" r="3.05"/><circle cx="115.5" cy="564" r="3.05"/><circle cx="115.9" cy="575" r="3.05"/><circle cx="116.2" cy="570.9" r="3.05"/><circle cx="116.5" cy="543.3" r="3.05"/><circle cx="116.8" cy="564.6" r="3.05"/><circle cx="117.2" cy="559.7" r="3.05"/><circle cx="117.5" cy="558.3" r="3.05"/><circle cx="117.8" cy="553.9" r="3.05"/><circle cx="118.1" cy="568.6" r="3.05"/><circle cx="118.5" cy="572.9" r="3.05"/><circle cx="118.8" cy="566.7" r="3.05"/><circle cx="119.1" cy="569" r="3.05"/><circle cx="119.4" cy="557.2" r="3.05"/><circle cx="119.8" cy="564" r="3.05"/><circle cx="120.1" cy="563.5" r="3.05"/><circle cx="120.4" cy="564.6" r="3.05"/><circle cx="120.7" cy="552.4" r="3.05"/><circle cx="121.1" cy="572.5" r="3.05"/><circle cx="121.4" cy="571.8" r="3.05"/><circle cx="121.7" cy="556.4" r="3.05"/><circle cx="122" cy="567.6" r="3.05"/><circle cx="122.4" cy="562.4" r="3.05"/><circle cx="122.7" cy="574.8" r="3.05"/><circle cx="123" cy="566.3" r="3.05"/><circle cx="123.3" cy="561.7" r="3.05"/><circle cx="123.7" cy="581.7" r="3.05"/><circle cx="124" cy="574.4" r="3.05"/><circle cx="124.3" cy="561.5" r="3.05"/><circle cx="124.6" cy="540.5" r="3.05"/><circle cx="125" cy="560.5" r="3.05"/><circle cx="125.3" cy="566.2" r="3.05"/><circle cx="125.6" cy="574.9" r="3.05"/><circle cx="125.9" cy="560.5" r="3.05"/><circle cx="126.3" cy="593.2" r="3.05"/><circle cx="126.6" cy="565.1" r="3.05"/><circle cx="126.9" cy="568" r="3.05"/><circle cx="127.2" cy="569.9" r="3.05"/><circle cx="127.6" cy="537.2" r="3.05"/><circle cx="127.9" cy="591.8" r="3.05"/><circle cx="128.2" cy="563.5" r="3.05"/><circle cx="128.5" cy="562.2" r="3.05"/><circle cx="128.9" cy="557.4" r="3.05"/><circle cx="129.2" cy="580.8" r="3.05"/><circle cx="129.5" cy="567.6" r="3.05"/><circle cx="129.8" cy="579.2" r="3.05"/><circle cx="130.2" cy="563.2" r="3.05"/><circle cx="130.5" cy="559.2" r="3.05"/><circle cx="130.8" cy="559.3" r="3.05"/><circle cx="131.1" cy="563.2" r="3.05"/><circle cx="131.5" cy="558.5" r="3.05"/><circle cx="131.8" cy="558.4" r="3.05"/><circle cx="132.1" cy="555.5" r="3.05"/><circle cx="132.4" cy="559.6" r="3.05"/><circle cx="132.8" cy="580.3" r="3.05"/><circle cx="133.1" cy="568.9" r="3.05"/><circle cx="133.4" cy="555.2" r="3.05"/><circle cx="133.7" cy="569.5" r="3.05"/><circle cx="134.1" cy="568" r="3.05"/><circle cx="134.4" cy="557.1" r="3.05"/><circle cx="134.7" cy="558.7" r="3.05"/><circle cx="135" cy="547.5" r="3.05"/><circle cx="135.4" cy="551.7" r="3.05"/><circle cx="135.7" cy="562.5" r="3.05"/><circle cx="136" cy="555.8" r="3.05"/><circle cx="136.3" cy="587.3" r="3.05"/><circle cx="136.7" cy="566" r="3.05"/><circle cx="137" cy="558.1" r="3.05"/><circle cx="137.3" cy="584.2" r="3.05"/><circle cx="137.6" cy="559.7" r="3.05"/><circle cx="138" cy="552.7" r="3.05"/><circle cx="138.3" cy="543.2" r="3.05"/><circle cx="138.6" cy="550.4" r="3.05"/><circle cx="138.9" cy="532.6" r="3.05"/><circle cx="139.3" cy="536.6" r="3.05"/><circle cx="139.6" cy="573.7" r="3.05"/><circle cx="139.9" cy="556.8" r="3.05"/><circle cx="140.2" cy="555.7" r="3.05"/><circle cx="140.6" cy="552.5" r="3.05"/><circle cx="140.9" cy="560.1" r="3.05"/><circle cx="141.2" cy="545.8" r="3.05"/><circle cx="141.5" cy="544" r="3.05"/><circle cx="141.9" cy="570.7" r="3.05"/><circle cx="142.2" cy="541.1" r="3.05"/><circle cx="142.5" cy="559.8" r="3.05"/><circle cx="142.8" cy="539.2" r="3.05"/><circle cx="143.2" cy="544.8" r="3.05"/><circle cx="143.5" cy="552.9" r="3.05"/><circle cx="143.8" cy="527.3" r="3.05"/><circle cx="144.1" cy="540.2" r="3.05"/><circle cx="144.5" cy="550.2" r="3.05"/><circle cx="144.8" cy="547.3" r="3.05"/><circle cx="145.1" cy="521.1" r="3.05"/><circle cx="145.4" cy="532.8" r="3.05"/><circle cx="145.8" cy="538.1" r="3.05"/><circle cx="146.1" cy="546.7" r="3.05"/><circle cx="146.4" cy="542.3" r="3.05"/><circle cx="146.7" cy="547" r="3.05"/><circle cx="147.1" cy="566.9" r="3.05"/><circle cx="147.4" cy="537.6" r="3.05"/><circle cx="147.7" cy="543" r="3.05"/><circle cx="148" cy="564.1" r="3.05"/><circle cx="148.4" cy="555.3" r="3.05"/><circle cx="148.7" cy="550.3" r="3.05"/><circle cx="149" cy="543.1" r="3.05"/><circle cx="149.3" cy="525.8" r="3.05"/><circle cx="149.7" cy="546.3" r="3.05"/><circle cx="150" cy="569.8" r="3.05"/><circle cx="150.3" cy="538.1" r="3.05"/><circle cx="150.6" cy="547.8" r="3.05"/><circle cx="151" cy="566.7" r="3.05"/><circle cx="151.3" cy="573" r="3.05"/><circle cx="151.6" cy="558" r="3.05"/><circle cx="151.9" cy="540.1" r="3.05"/><circle cx="152.3" cy="553.7" r="3.05"/><circle cx="152.6" cy="536.9" r="3.05"/><circle cx="152.9" cy="547.4" r="3.05"/><circle cx="153.2" cy="541.5" r="3.05"/><circle cx="153.6" cy="534.8" r="3.05"/><circle cx="153.9" cy="536.1" r="3.05"/><circle cx="154.2" cy="555.9" r="3.05"/><circle cx="154.5" cy="519" r="3.05"/><circle cx="154.9" cy="566.8" r="3.05"/><circle cx="155.2" cy="544.5" r="3.05"/><circle cx="155.5" cy="554.5" r="3.05"/><circle cx="155.8" cy="527" r="3.05"/><circle cx="156.2" cy="557.6" r="3.05"/><circle cx="156.5" cy="553.9" r="3.05"/><circle cx="156.8" cy="555" r="3.05"/><circle cx="157.1" cy="557.7" r="3.05"/><circle cx="157.5" cy="547.5" r="3.05"/><circle cx="157.8" cy="537.8" r="3.05"/><circle cx="158.1" cy="551.7" r="3.05"/><circle cx="158.4" cy="560.3" r="3.05"/><circle cx="158.8" cy="542.3" r="3.05"/><circle cx="159.1" cy="539" r="3.05"/><circle cx="159.4" cy="529.3" r="3.05"/><circle cx="159.7" cy="547.9" r="3.05"/><circle cx="160.1" cy="539.7" r="3.05"/><circle cx="160.4" cy="525.5" r="3.05"/><circle cx="160.7" cy="549" r="3.05"/><circle cx="161" cy="537.3" r="3.05"/><circle cx="161.4" cy="540.2" r="3.05"/><circle cx="161.7" cy="553.4" r="3.05"/><circle cx="162" cy="536.3" r="3.05"/><circle cx="162.3" cy="520.2" r="3.05"/><circle cx="162.7" cy="505.6" r="3.05"/><circle cx="163" cy="551.9" r="3.05"/><circle cx="163.3" cy="521.3" r="3.05"/><circle cx="163.6" cy="518.6" r="3.05"/><circle cx="164" cy="516.8" r="3.05"/><circle cx="164.3" cy="537.4" r="3.05"/><circle cx="164.6" cy="527.4" r="3.05"/><circle cx="164.9" cy="538.8" r="3.05"/><circle cx="165.3" cy="523.4" r="3.05"/><circle cx="165.6" cy="514.8" r="3.05"/><circle cx="165.9" cy="532.9" r="3.05"/><circle cx="166.2" cy="526.5" r="3.05"/><circle cx="166.6" cy="517.9" r="3.05"/><circle cx="166.9" cy="519.3" r="3.05"/><circle cx="167.2" cy="536.6" r="3.05"/><circle cx="167.5" cy="510" r="3.05"/><circle cx="167.9" cy="521" r="3.05"/><circle cx="168.2" cy="524.8" r="3.05"/><circle cx="168.5" cy="525.9" r="3.05"/><circle cx="168.8" cy="516.9" r="3.05"/><circle cx="169.2" cy="512.1" r="3.05"/><circle cx="169.5" cy="541.4" r="3.05"/><circle cx="169.8" cy="535.7" r="3.05"/><circle cx="170.1" cy="546.4" r="3.05"/><circle cx="170.5" cy="517.6" r="3.05"/><circle cx="170.8" cy="517.9" r="3.05"/><circle cx="171.1" cy="527" r="3.05"/><circle cx="171.4" cy="536.3" r="3.05"/><circle cx="171.8" cy="504.2" r="3.05"/><circle cx="172.1" cy="499.9" r="3.05"/><circle cx="172.4" cy="499.6" r="3.05"/><circle cx="172.7" cy="519.3" r="3.05"/><circle cx="173.1" cy="517.6" r="3.05"/><circle cx="173.4" cy="517.1" r="3.05"/><circle cx="173.7" cy="520.3" r="3.05"/><circle cx="174" cy="534.3" r="3.05"/><circle cx="174.4" cy="525.6" r="3.05"/><circle cx="174.7" cy="506.1" r="3.05"/><circle cx="175" cy="516.5" r="3.05"/><circle cx="175.3" cy="522.4" r="3.05"/><circle cx="175.7" cy="518.9" r="3.05"/><circle cx="176" cy="491.6" r="3.05"/><circle cx="176.3" cy="494.6" r="3.05"/><circle cx="176.6" cy="499.2" r="3.05"/><circle cx="177" cy="511.2" r="3.05"/><circle cx="177.3" cy="529.4" r="3.05"/><circle cx="177.6" cy="510" r="3.05"/><circle cx="177.9" cy="516.5" r="3.05"/><circle cx="178.3" cy="503.2" r="3.05"/><circle cx="178.6" cy="497.2" r="3.05"/><circle cx="178.9" cy="519.9" r="3.05"/><circle cx="179.2" cy="492.2" r="3.05"/><circle cx="179.6" cy="508.8" r="3.05"/><circle cx="179.9" cy="507.9" r="3.05"/><circle cx="180.2" cy="517.4" r="3.05"/><circle cx="180.5" cy="512.9" r="3.05"/><circle cx="180.9" cy="509.7" r="3.05"/><circle cx="181.2" cy="514.3" r="3.05"/><circle cx="181.5" cy="516.5" r="3.05"/><circle cx="181.8" cy="517.8" r="3.05"/><circle cx="182.2" cy="487.2" r="3.05"/><circle cx="182.5" cy="515.8" r="3.05"/><circle cx="182.8" cy="503.1" r="3.05"/><circle cx="183.1" cy="512.5" r="3.05"/><circle cx="183.5" cy="548.6" r="3.05"/><circle cx="183.8" cy="487.2" r="3.05"/><circle cx="184.1" cy="514.4" r="3.05"/><circle cx="184.4" cy="522" r="3.05"/><circle cx="184.8" cy="497.5" r="3.05"/><circle cx="185.1" cy="495.5" r="3.05"/><circle cx="185.4" cy="523" r="3.05"/><circle cx="185.7" cy="526.7" r="3.05"/><circle cx="186.1" cy="527.7" r="3.05"/><circle cx="186.4" cy="511.7" r="3.05"/><circle cx="186.7" cy="514.4" r="3.05"/><circle cx="187" cy="506.6" r="3.05"/><circle cx="187.4" cy="518.6" r="3.05"/><circle cx="187.7" cy="524.1" r="3.05"/><circle cx="188" cy="516.1" r="3.05"/><circle cx="188.3" cy="525.7" r="3.05"/><circle cx="188.7" cy="510.3" r="3.05"/><circle cx="189" cy="514.1" r="3.05"/><circle cx="189.3" cy="512.9" r="3.05"/><circle cx="189.6" cy="514.9" r="3.05"/><circle cx="190" cy="526.7" r="3.05"/><circle cx="190.3" cy="544.1" r="3.05"/><circle cx="190.6" cy="506.3" r="3.05"/><circle cx="190.9" cy="509.2" r="3.05"/><circle cx="191.3" cy="533.3" r="3.05"/><circle cx="191.6" cy="512.9" r="3.05"/><circle cx="191.9" cy="523" r="3.05"/><circle cx="192.2" cy="526.5" r="3.05"/><circle cx="192.6" cy="526.3" r="3.05"/><circle cx="192.9" cy="537.3" r="3.05"/><circle cx="193.2" cy="529" r="3.05"/><circle cx="193.5" cy="527.3" r="3.05"/><circle cx="193.9" cy="526.1" r="3.05"/><circle cx="194.2" cy="537.1" r="3.05"/><circle cx="194.5" cy="525" r="3.05"/><circle cx="194.8" cy="537.7" r="3.05"/><circle cx="195.2" cy="537.3" r="3.05"/><circle cx="195.5" cy="530.7" r="3.05"/><circle cx="195.8" cy="538" r="3.05"/><circle cx="196.1" cy="545.6" r="3.05"/><circle cx="196.5" cy="540" r="3.05"/><circle cx="196.8" cy="542.7" r="3.05"/><circle cx="197.1" cy="533.1" r="3.05"/><circle cx="197.4" cy="527.1" r="3.05"/><circle cx="197.8" cy="528.8" r="3.05"/><circle cx="198.1" cy="545" r="3.05"/><circle cx="198.4" cy="542" r="3.05"/><circle cx="198.7" cy="535.3" r="3.05"/><circle cx="199.1" cy="558.9" r="3.05"/><circle cx="199.4" cy="530" r="3.05"/><circle cx="199.7" cy="526.6" r="3.05"/><circle cx="200" cy="533.8" r="3.05"/><circle cx="200.4" cy="568.9" r="3.05"/><circle cx="200.7" cy="540.6" r="3.05"/><circle cx="201" cy="566.5" r="3.05"/><circle cx="201.3" cy="534.6" r="3.05"/><circle cx="201.7" cy="571.9" r="3.05"/><circle cx="202" cy="563.8" r="3.05"/><circle cx="202.3" cy="544" r="3.05"/><circle cx="202.6" cy="565.6" r="3.05"/><circle cx="203" cy="579.7" r="3.05"/><circle cx="203.3" cy="563.2" r="3.05"/><circle cx="203.6" cy="546.6" r="3.05"/><circle cx="203.9" cy="566.3" r="3.05"/><circle cx="204.3" cy="566.3" r="3.05"/><circle cx="204.6" cy="553" r="3.05"/><circle cx="204.9" cy="556" r="3.05"/><circle cx="205.2" cy="543.1" r="3.05"/><circle cx="205.6" cy="548.6" r="3.05"/><circle cx="205.9" cy="563" r="3.05"/><circle cx="206.2" cy="568.2" r="3.05"/><circle cx="206.5" cy="549.5" r="3.05"/><circle cx="206.9" cy="569.9" r="3.05"/><circle cx="207.2" cy="575.5" r="3.05"/><circle cx="207.5" cy="559.5" r="3.05"/><circle cx="207.8" cy="572.2" r="3.05"/><circle cx="208.2" cy="583.5" r="3.05"/><circle cx="208.5" cy="561.1" r="3.05"/><circle cx="208.8" cy="559.1" r="3.05"/><circle cx="209.1" cy="582.8" r="3.05"/><circle cx="209.5" cy="574.9" r="3.05"/><circle cx="209.8" cy="577.1" r="3.05"/><circle cx="210.1" cy="574.8" r="3.05"/><circle cx="210.4" cy="578.8" r="3.05"/><circle cx="210.8" cy="591" r="3.05"/><circle cx="211.1" cy="575.9" r="3.05"/><circle cx="211.4" cy="580.8" r="3.05"/><circle cx="211.7" cy="577" r="3.05"/><circle cx="212.1" cy="572.6" r="3.05"/><circle cx="212.4" cy="572.1" r="3.05"/><circle cx="212.7" cy="577.2" r="3.05"/><circle cx="213" cy="609.3" r="3.05"/><circle cx="213.4" cy="594.3" r="3.05"/><circle cx="213.7" cy="583.9" r="3.05"/><circle cx="214" cy="577.4" r="3.05"/><circle cx="214.3" cy="597.3" r="3.05"/><circle cx="214.7" cy="595.4" r="3.05"/><circle cx="215" cy="570.5" r="3.05"/><circle cx="215.3" cy="614.5" r="3.05"/><circle cx="215.6" cy="592.6" r="3.05"/><circle cx="216" cy="596.6" r="3.05"/><circle cx="216.3" cy="594.6" r="3.05"/><circle cx="216.6" cy="594.6" r="3.05"/><circle cx="216.9" cy="585.2" r="3.05"/><circle cx="217.3" cy="582.7" r="3.05"/><circle cx="217.6" cy="567" r="3.05"/><circle cx="217.9" cy="575.6" r="3.05"/><circle cx="218.2" cy="594.5" r="3.05"/><circle cx="218.6" cy="592" r="3.05"/><circle cx="218.9" cy="584.8" r="3.05"/><circle cx="219.2" cy="570.3" r="3.05"/><circle cx="219.5" cy="598.1" r="3.05"/><circle cx="219.9" cy="593" r="3.05"/><circle cx="220.2" cy="599.3" r="3.05"/><circle cx="220.5" cy="586.5" r="3.05"/><circle cx="220.8" cy="611.9" r="3.05"/><circle cx="221.2" cy="597.9" r="3.05"/><circle cx="221.5" cy="612.7" r="3.05"/><circle cx="221.8" cy="597.8" r="3.05"/><circle cx="222.1" cy="593.4" r="3.05"/><circle cx="222.5" cy="605.5" r="3.05"/><circle cx="222.8" cy="604.5" r="3.05"/><circle cx="223.1" cy="592.1" r="3.05"/><circle cx="223.4" cy="604.7" r="3.05"/><circle cx="223.8" cy="599.2" r="3.05"/><circle cx="224.1" cy="607.6" r="3.05"/><circle cx="224.4" cy="614.9" r="3.05"/><circle cx="224.7" cy="610.9" r="3.05"/><circle cx="225.1" cy="588.2" r="3.05"/><circle cx="225.4" cy="611.2" r="3.05"/><circle cx="225.7" cy="608.9" r="3.05"/><circle cx="226" cy="599.1" r="3.05"/><circle cx="226.4" cy="607.6" r="3.05"/><circle cx="226.7" cy="606.9" r="3.05"/><circle cx="227" cy="591.6" r="3.05"/><circle cx="227.3" cy="605" r="3.05"/><circle cx="227.7" cy="621.7" r="3.05"/><circle cx="228" cy="608.9" r="3.05"/><circle cx="228.3" cy="621.4" r="3.05"/><circle cx="228.6" cy="619.9" r="3.05"/><circle cx="229" cy="607.6" r="3.05"/><circle cx="229.3" cy="617.1" r="3.05"/><circle cx="229.6" cy="620.7" r="3.05"/><circle cx="229.9" cy="623.5" r="3.05"/><circle cx="230.3" cy="617.4" r="3.05"/><circle cx="230.6" cy="621.5" r="3.05"/><circle cx="230.9" cy="610.5" r="3.05"/><circle cx="231.2" cy="617.8" r="3.05"/><circle cx="231.6" cy="621.4" r="3.05"/><circle cx="231.9" cy="597.1" r="3.05"/><circle cx="232.2" cy="617.8" r="3.05"/><circle cx="232.5" cy="627.5" r="3.05"/><circle cx="232.9" cy="632.4" r="3.05"/><circle cx="233.2" cy="631.7" r="3.05"/><circle cx="233.5" cy="634.1" r="3.05"/><circle cx="233.8" cy="622.9" r="3.05"/><circle cx="234.2" cy="622.5" r="3.05"/><circle cx="234.5" cy="617.2" r="3.05"/><circle cx="234.8" cy="631.8" r="3.05"/><circle cx="235.1" cy="627.2" r="3.05"/><circle cx="235.5" cy="628.4" r="3.05"/><circle cx="235.8" cy="608.9" r="3.05"/><circle cx="236.1" cy="622.5" r="3.05"/><circle cx="236.4" cy="620.1" r="3.05"/><circle cx="236.8" cy="614.3" r="3.05"/><circle cx="237.1" cy="622.3" r="3.05"/><circle cx="237.4" cy="625" r="3.05"/><circle cx="237.7" cy="628.5" r="3.05"/><circle cx="238.1" cy="627.5" r="3.05"/><circle cx="238.4" cy="625.4" r="3.05"/><circle cx="238.7" cy="627.4" r="3.05"/><circle cx="239" cy="627.5" r="3.05"/><circle cx="239.4" cy="608.9" r="3.05"/><circle cx="239.7" cy="637.5" r="3.05"/><circle cx="240" cy="644.1" r="3.05"/><circle cx="240.3" cy="622.9" r="3.05"/><circle cx="240.7" cy="614.4" r="3.05"/><circle cx="241" cy="628.9" r="3.05"/><circle cx="241.3" cy="619.5" r="3.05"/><circle cx="241.6" cy="612.5" r="3.05"/><circle cx="242" cy="629.1" r="3.05"/><circle cx="242.3" cy="625.5" r="3.05"/><circle cx="242.6" cy="634.6" r="3.05"/><circle cx="242.9" cy="633.2" r="3.05"/><circle cx="243.3" cy="631.4" r="3.05"/><circle cx="243.6" cy="621.7" r="3.05"/><circle cx="243.9" cy="615.4" r="3.05"/><circle cx="244.2" cy="622.5" r="3.05"/><circle cx="244.6" cy="636.1" r="3.05"/><circle cx="244.9" cy="635.5" r="3.05"/><circle cx="245.2" cy="632.1" r="3.05"/><circle cx="245.5" cy="629.1" r="3.05"/><circle cx="245.9" cy="624.3" r="3.05"/><circle cx="246.2" cy="642.3" r="3.05"/><circle cx="246.5" cy="638.7" r="3.05"/><circle cx="246.8" cy="614.5" r="3.05"/><circle cx="247.2" cy="626" r="3.05"/><circle cx="247.5" cy="626.6" r="3.05"/><circle cx="247.8" cy="642.3" r="3.05"/><circle cx="248.1" cy="621.7" r="3.05"/><circle cx="248.5" cy="626" r="3.05"/><circle cx="248.8" cy="643.3" r="3.05"/><circle cx="249.1" cy="641.5" r="3.05"/><circle cx="249.4" cy="625.8" r="3.05"/><circle cx="249.8" cy="642.6" r="3.05"/><circle cx="250.1" cy="626.5" r="3.05"/><circle cx="250.4" cy="636.3" r="3.05"/><circle cx="250.7" cy="626.3" r="3.05"/><circle cx="251.1" cy="624.4" r="3.05"/><circle cx="251.4" cy="616.6" r="3.05"/><circle cx="251.7" cy="647.4" r="3.05"/><circle cx="252" cy="645.1" r="3.05"/><circle cx="252.4" cy="633.8" r="3.05"/><circle cx="252.7" cy="618.9" r="3.05"/><circle cx="253" cy="629" r="3.05"/><circle cx="253.3" cy="644.9" r="3.05"/><circle cx="253.7" cy="626" r="3.05"/><circle cx="254" cy="634.5" r="3.05"/><circle cx="254.3" cy="623.3" r="3.05"/><circle cx="254.6" cy="644" r="3.05"/><circle cx="255" cy="626.7" r="3.05"/><circle cx="255.3" cy="623" r="3.05"/><circle cx="255.6" cy="643.1" r="3.05"/><circle cx="255.9" cy="633.8" r="3.05"/><circle cx="256.3" cy="631.5" r="3.05"/><circle cx="256.6" cy="633.7" r="3.05"/><circle cx="256.9" cy="642.8" r="3.05"/><circle cx="257.2" cy="627.3" r="3.05"/><circle cx="257.6" cy="643.3" r="3.05"/><circle cx="257.9" cy="634.7" r="3.05"/><circle cx="258.2" cy="631.1" r="3.05"/><circle cx="258.5" cy="631.9" r="3.05"/><circle cx="258.9" cy="629.6" r="3.05"/><circle cx="259.2" cy="649.6" r="3.05"/><circle cx="259.5" cy="653.2" r="3.05"/><circle cx="259.8" cy="632" r="3.05"/><circle cx="260.2" cy="630.7" r="3.05"/><circle cx="260.5" cy="621.5" r="3.05"/><circle cx="260.8" cy="635" r="3.05"/><circle cx="261.1" cy="634.2" r="3.05"/><circle cx="261.5" cy="645.2" r="3.05"/><circle cx="261.8" cy="628.9" r="3.05"/><circle cx="262.1" cy="619.8" r="3.05"/><circle cx="262.4" cy="635.1" r="3.05"/><circle cx="262.8" cy="627.5" r="3.05"/><circle cx="263.1" cy="621.1" r="3.05"/><circle cx="263.4" cy="620.8" r="3.05"/><circle cx="263.7" cy="622.6" r="3.05"/><circle cx="264.1" cy="621.6" r="3.05"/><circle cx="264.4" cy="652.6" r="3.05"/><circle cx="264.7" cy="645.8" r="3.05"/><circle cx="265" cy="626.3" r="3.05"/><circle cx="265.4" cy="643.8" r="3.05"/><circle cx="265.7" cy="620.6" r="3.05"/><circle cx="266" cy="633.7" r="3.05"/><circle cx="266.3" cy="642" r="3.05"/><circle cx="266.7" cy="620.6" r="3.05"/><circle cx="267" cy="633.5" r="3.05"/><circle cx="267.3" cy="636.1" r="3.05"/><circle cx="267.6" cy="620.9" r="3.05"/><circle cx="268" cy="629" r="3.05"/><circle cx="268.3" cy="637.3" r="3.05"/><circle cx="268.6" cy="636.1" r="3.05"/><circle cx="268.9" cy="640.6" r="3.05"/><circle cx="269.3" cy="611.8" r="3.05"/><circle cx="269.6" cy="614.2" r="3.05"/><circle cx="269.9" cy="625.2" r="3.05"/><circle cx="270.2" cy="631.3" r="3.05"/><circle cx="270.6" cy="620.8" r="3.05"/><circle cx="270.9" cy="626.5" r="3.05"/><circle cx="271.2" cy="617.5" r="3.05"/><circle cx="271.5" cy="618.6" r="3.05"/><circle cx="271.9" cy="623.4" r="3.05"/><circle cx="272.2" cy="626.1" r="3.05"/><circle cx="272.5" cy="618" r="3.05"/><circle cx="272.8" cy="623.1" r="3.05"/><circle cx="273.2" cy="637.6" r="3.05"/><circle cx="273.5" cy="620" r="3.05"/><circle cx="273.8" cy="606.2" r="3.05"/><circle cx="274.1" cy="625.6" r="3.05"/><circle cx="274.5" cy="620.2" r="3.05"/><circle cx="274.8" cy="625.8" r="3.05"/><circle cx="275.1" cy="620.7" r="3.05"/><circle cx="275.4" cy="626.2" r="3.05"/><circle cx="275.8" cy="602.9" r="3.05"/><circle cx="276.1" cy="620" r="3.05"/><circle cx="276.4" cy="624.2" r="3.05"/><circle cx="276.7" cy="621.9" r="3.05"/><circle cx="277.1" cy="624.2" r="3.05"/><circle cx="277.4" cy="612.4" r="3.05"/><circle cx="277.7" cy="631.8" r="3.05"/><circle cx="278" cy="633.1" r="3.05"/><circle cx="278.4" cy="621.5" r="3.05"/><circle cx="278.7" cy="628.5" r="3.05"/><circle cx="279" cy="632.5" r="3.05"/><circle cx="279.3" cy="643.5" r="3.05"/><circle cx="279.7" cy="627.8" r="3.05"/><circle cx="280" cy="633" r="3.05"/><circle cx="280.3" cy="618.9" r="3.05"/><circle cx="280.6" cy="638" r="3.05"/><circle cx="281" cy="625.3" r="3.05"/><circle cx="281.3" cy="629.7" r="3.05"/><circle cx="281.6" cy="635.4" r="3.05"/><circle cx="281.9" cy="618.8" r="3.05"/><circle cx="282.3" cy="617.6" r="3.05"/><circle cx="282.6" cy="633" r="3.05"/><circle cx="282.9" cy="632.5" r="3.05"/><circle cx="283.2" cy="648.9" r="3.05"/><circle cx="283.6" cy="623.4" r="3.05"/><circle cx="283.9" cy="632.9" r="3.05"/><circle cx="284.2" cy="622" r="3.05"/><circle cx="284.5" cy="635.8" r="3.05"/><circle cx="284.9" cy="627.8" r="3.05"/><circle cx="285.2" cy="628.9" r="3.05"/><circle cx="285.5" cy="628.8" r="3.05"/><circle cx="285.8" cy="637.1" r="3.05"/><circle cx="286.2" cy="639.2" r="3.05"/><circle cx="286.5" cy="643.5" r="3.05"/><circle cx="286.8" cy="632.7" r="3.05"/><circle cx="287.1" cy="641.7" r="3.05"/><circle cx="287.5" cy="630.8" r="3.05"/><circle cx="287.8" cy="651.2" r="3.05"/><circle cx="288.1" cy="624.5" r="3.05"/><circle cx="288.4" cy="631.7" r="3.05"/><circle cx="288.8" cy="635.7" r="3.05"/><circle cx="289.1" cy="643.2" r="3.05"/><circle cx="289.4" cy="643.8" r="3.05"/><circle cx="289.7" cy="641.2" r="3.05"/><circle cx="290.1" cy="632.3" r="3.05"/><circle cx="290.4" cy="636.3" r="3.05"/><circle cx="290.7" cy="635" r="3.05"/><circle cx="291" cy="631.1" r="3.05"/><circle cx="291.4" cy="633.8" r="3.05"/><circle cx="291.7" cy="632.5" r="3.05"/><circle cx="292" cy="640" r="3.05"/><circle cx="292.3" cy="648.3" r="3.05"/><circle cx="292.7" cy="628.9" r="3.05"/><circle cx="293" cy="630" r="3.05"/><circle cx="293.3" cy="654" r="3.05"/><circle cx="293.6" cy="641.5" r="3.05"/><circle cx="294" cy="620.3" r="3.05"/><circle cx="294.3" cy="628.3" r="3.05"/><circle cx="294.6" cy="629.7" r="3.05"/><circle cx="294.9" cy="656.7" r="3.05"/><circle cx="295.3" cy="640.5" r="3.05"/><circle cx="295.6" cy="643.3" r="3.05"/><circle cx="295.9" cy="637.4" r="3.05"/><circle cx="296.2" cy="636.9" r="3.05"/><circle cx="296.6" cy="627.1" r="3.05"/><circle cx="296.9" cy="639.6" r="3.05"/><circle cx="297.2" cy="636.6" r="3.05"/><circle cx="297.5" cy="642.2" r="3.05"/><circle cx="297.9" cy="646.4" r="3.05"/><circle cx="298.2" cy="630.5" r="3.05"/><circle cx="298.5" cy="624" r="3.05"/><circle cx="298.8" cy="633" r="3.05"/><circle cx="299.2" cy="620.4" r="3.05"/><circle cx="299.5" cy="635.5" r="3.05"/><circle cx="299.8" cy="627" r="3.05"/><circle cx="300.1" cy="648.4" r="3.05"/><circle cx="300.5" cy="627.6" r="3.05"/><circle cx="300.8" cy="615.2" r="3.05"/><circle cx="301.1" cy="635.9" r="3.05"/><circle cx="301.4" cy="625.1" r="3.05"/><circle cx="301.8" cy="625.5" r="3.05"/><circle cx="302.1" cy="631.2" r="3.05"/><circle cx="302.4" cy="626" r="3.05"/><circle cx="302.7" cy="629.3" r="3.05"/><circle cx="303.1" cy="633.5" r="3.05"/><circle cx="303.4" cy="627" r="3.05"/><circle cx="303.7" cy="628.9" r="3.05"/><circle cx="304" cy="625.1" r="3.05"/><circle cx="304.4" cy="645.2" r="3.05"/><circle cx="304.7" cy="628.6" r="3.05"/><circle cx="305" cy="615.1" r="3.05"/><circle cx="305.3" cy="618.2" r="3.05"/><circle cx="305.7" cy="612.9" r="3.05"/><circle cx="306" cy="623.8" r="3.05"/><circle cx="306.3" cy="613.6" r="3.05"/><circle cx="306.6" cy="607.7" r="3.05"/><circle cx="307" cy="626.1" r="3.05"/><circle cx="307.3" cy="622.3" r="3.05"/><circle cx="307.6" cy="597.8" r="3.05"/><circle cx="307.9" cy="624.7" r="3.05"/><circle cx="308.3" cy="637.1" r="3.05"/><circle cx="308.6" cy="605.5" r="3.05"/><circle cx="308.9" cy="617.7" r="3.05"/><circle cx="309.2" cy="632.2" r="3.05"/><circle cx="309.6" cy="629.8" r="3.05"/><circle cx="309.9" cy="614.4" r="3.05"/><circle cx="310.2" cy="630.2" r="3.05"/><circle cx="310.5" cy="624.3" r="3.05"/><circle cx="310.9" cy="629.9" r="3.05"/><circle cx="311.2" cy="615.3" r="3.05"/><circle cx="311.5" cy="616.1" r="3.05"/><circle cx="311.8" cy="632" r="3.05"/><circle cx="312.2" cy="600.7" r="3.05"/><circle cx="312.5" cy="623.7" r="3.05"/><circle cx="312.8" cy="618" r="3.05"/><circle cx="313.1" cy="594" r="3.05"/><circle cx="313.5" cy="615" r="3.05"/><circle cx="313.8" cy="617.8" r="3.05"/><circle cx="314.1" cy="617.7" r="3.05"/><circle cx="314.4" cy="604.1" r="3.05"/><circle cx="314.8" cy="616.9" r="3.05"/><circle cx="315.1" cy="629.9" r="3.05"/><circle cx="315.4" cy="623" r="3.05"/><circle cx="315.7" cy="616.3" r="3.05"/><circle cx="316.1" cy="611.3" r="3.05"/><circle cx="316.4" cy="624.6" r="3.05"/><circle cx="316.7" cy="607.6" r="3.05"/><circle cx="317" cy="613.2" r="3.05"/><circle cx="317.4" cy="618.2" r="3.05"/><circle cx="317.7" cy="610.3" r="3.05"/><circle cx="318" cy="588.9" r="3.05"/><circle cx="318.3" cy="610.2" r="3.05"/><circle cx="318.7" cy="607.8" r="3.05"/><circle cx="319" cy="597.6" r="3.05"/><circle cx="319.3" cy="607.4" r="3.05"/><circle cx="319.6" cy="600.5" r="3.05"/><circle cx="320" cy="600.4" r="3.05"/><circle cx="320.3" cy="616.8" r="3.05"/><circle cx="320.6" cy="598.4" r="3.05"/><circle cx="320.9" cy="609.6" r="3.05"/><circle cx="321.3" cy="607.5" r="3.05"/><circle cx="321.6" cy="604.6" r="3.05"/><circle cx="321.9" cy="615.9" r="3.05"/><circle cx="322.2" cy="597.7" r="3.05"/><circle cx="322.6" cy="597.3" r="3.05"/><circle cx="322.9" cy="583.8" r="3.05"/><circle cx="323.2" cy="611.1" r="3.05"/><circle cx="323.5" cy="609.8" r="3.05"/><circle cx="323.9" cy="590.2" r="3.05"/><circle cx="324.2" cy="623.8" r="3.05"/><circle cx="324.5" cy="613.5" r="3.05"/><circle cx="324.8" cy="593.7" r="3.05"/><circle cx="325.2" cy="616.4" r="3.05"/><circle cx="325.5" cy="586" r="3.05"/><circle cx="325.8" cy="613.8" r="3.05"/><circle cx="326.1" cy="620" r="3.05"/><circle cx="326.5" cy="609.7" r="3.05"/><circle cx="326.8" cy="610.3" r="3.05"/><circle cx="327.1" cy="615.8" r="3.05"/><circle cx="327.4" cy="615.7" r="3.05"/><circle cx="327.8" cy="610.5" r="3.05"/><circle cx="328.1" cy="616.4" r="3.05"/><circle cx="328.4" cy="621.9" r="3.05"/><circle cx="328.7" cy="613.2" r="3.05"/><circle cx="329.1" cy="614.9" r="3.05"/><circle cx="329.4" cy="629.4" r="3.05"/><circle cx="329.7" cy="612.1" r="3.05"/><circle cx="330" cy="616.7" r="3.05"/><circle cx="330.4" cy="603.6" r="3.05"/><circle cx="330.7" cy="621.2" r="3.05"/><circle cx="331" cy="627.1" r="3.05"/><circle cx="331.3" cy="625.3" r="3.05"/><circle cx="331.7" cy="607.4" r="3.05"/><circle cx="332" cy="614.1" r="3.05"/><circle cx="332.3" cy="620.3" r="3.05"/><circle cx="332.6" cy="630.4" r="3.05"/><circle cx="333" cy="625.7" r="3.05"/><circle cx="333.3" cy="621" r="3.05"/><circle cx="333.6" cy="616.6" r="3.05"/><circle cx="333.9" cy="626.3" r="3.05"/><circle cx="334.3" cy="611.3" r="3.05"/><circle cx="334.6" cy="625.9" r="3.05"/><circle cx="334.9" cy="613.4" r="3.05"/><circle cx="335.2" cy="637.4" r="3.05"/><circle cx="335.6" cy="619.7" r="3.05"/><circle cx="335.9" cy="628.9" r="3.05"/><circle cx="336.2" cy="644.3" r="3.05"/><circle cx="336.5" cy="620.9" r="3.05"/><circle cx="336.9" cy="632.8" r="3.05"/><circle cx="337.2" cy="618.9" r="3.05"/><circle cx="337.5" cy="638.9" r="3.05"/><circle cx="337.8" cy="630" r="3.05"/><circle cx="338.2" cy="626.9" r="3.05"/><circle cx="338.5" cy="644.1" r="3.05"/><circle cx="338.8" cy="633.4" r="3.05"/><circle cx="339.1" cy="626.3" r="3.05"/><circle cx="339.5" cy="638.6" r="3.05"/><circle cx="339.8" cy="637.7" r="3.05"/><circle cx="340.1" cy="625.2" r="3.05"/><circle cx="340.4" cy="610.8" r="3.05"/><circle cx="340.8" cy="638.6" r="3.05"/><circle cx="341.1" cy="629.6" r="3.05"/><circle cx="341.4" cy="639.4" r="3.05"/><circle cx="341.7" cy="621.6" r="3.05"/><circle cx="342.1" cy="639.7" r="3.05"/><circle cx="342.4" cy="633.4" r="3.05"/><circle cx="342.7" cy="625.6" r="3.05"/><circle cx="343" cy="645" r="3.05"/><circle cx="343.4" cy="631.8" r="3.05"/><circle cx="343.7" cy="639.2" r="3.05"/><circle cx="344" cy="651.6" r="3.05"/><circle cx="344.3" cy="642.8" r="3.05"/><circle cx="344.7" cy="638.3" r="3.05"/><circle cx="345" cy="643.2" r="3.05"/><circle cx="345.3" cy="632" r="3.05"/><circle cx="345.6" cy="642.5" r="3.05"/><circle cx="346" cy="638.4" r="3.05"/><circle cx="346.3" cy="636.6" r="3.05"/><circle cx="346.6" cy="623.8" r="3.05"/><circle cx="346.9" cy="635.8" r="3.05"/><circle cx="347.3" cy="647.5" r="3.05"/><circle cx="347.6" cy="628.8" r="3.05"/><circle cx="347.9" cy="640.4" r="3.05"/><circle cx="348.2" cy="639.5" r="3.05"/><circle cx="348.6" cy="651.5" r="3.05"/><circle cx="348.9" cy="644.3" r="3.05"/><circle cx="349.2" cy="640" r="3.05"/><circle cx="349.5" cy="654.6" r="3.05"/><circle cx="349.9" cy="645.1" r="3.05"/><circle cx="350.2" cy="642.2" r="3.05"/><circle cx="350.5" cy="648.4" r="3.05"/><circle cx="350.8" cy="631.2" r="3.05"/><circle cx="351.2" cy="629.3" r="3.05"/><circle cx="351.5" cy="653.6" r="3.05"/><circle cx="351.8" cy="658.3" r="3.05"/><circle cx="352.1" cy="654.1" r="3.05"/><circle cx="352.5" cy="632.2" r="3.05"/><circle cx="352.8" cy="652.8" r="3.05"/><circle cx="353.1" cy="645" r="3.05"/><circle cx="353.4" cy="632.1" r="3.05"/><circle cx="353.8" cy="637.8" r="3.05"/><circle cx="354.1" cy="635.7" r="3.05"/><circle cx="354.4" cy="642.8" r="3.05"/><circle cx="354.7" cy="625.6" r="3.05"/><circle cx="355.1" cy="647.2" r="3.05"/><circle cx="355.4" cy="653.5" r="3.05"/><circle cx="355.7" cy="642.9" r="3.05"/><circle cx="356" cy="623.3" r="3.05"/><circle cx="356.4" cy="631.4" r="3.05"/><circle cx="356.7" cy="646.2" r="3.05"/><circle cx="357" cy="657.1" r="3.05"/><circle cx="357.3" cy="643.8" r="3.05"/><circle cx="357.7" cy="640.3" r="3.05"/><circle cx="358" cy="639.6" r="3.05"/><circle cx="358.3" cy="645.5" r="3.05"/><circle cx="358.6" cy="652.9" r="3.05"/><circle cx="359" cy="649.1" r="3.05"/><circle cx="359.3" cy="641.7" r="3.05"/><circle cx="359.6" cy="633.9" r="3.05"/><circle cx="359.9" cy="636.9" r="3.05"/><circle cx="360.3" cy="647.1" r="3.05"/><circle cx="360.6" cy="647" r="3.05"/><circle cx="360.9" cy="636" r="3.05"/><circle cx="361.2" cy="636.9" r="3.05"/><circle cx="361.6" cy="641.6" r="3.05"/><circle cx="361.9" cy="663.5" r="3.05"/><circle cx="362.2" cy="656.8" r="3.05"/><circle cx="362.5" cy="640.1" r="3.05"/><circle cx="362.9" cy="636.9" r="3.05"/><circle cx="363.2" cy="642.3" r="3.05"/><circle cx="363.5" cy="645.3" r="3.05"/><circle cx="363.8" cy="646.3" r="3.05"/><circle cx="364.2" cy="643.5" r="3.05"/><circle cx="364.5" cy="657.9" r="3.05"/><circle cx="364.8" cy="652.2" r="3.05"/><circle cx="365.1" cy="642.3" r="3.05"/><circle cx="365.5" cy="649.3" r="3.05"/><circle cx="365.8" cy="648.4" r="3.05"/><circle cx="366.1" cy="647.5" r="3.05"/><circle cx="366.4" cy="644.5" r="3.05"/><circle cx="366.8" cy="651.7" r="3.05"/><circle cx="367.1" cy="656" r="3.05"/><circle cx="367.4" cy="645.4" r="3.05"/><circle cx="367.7" cy="661.3" r="3.05"/><circle cx="368.1" cy="649.3" r="3.05"/><circle cx="368.4" cy="659.2" r="3.05"/><circle cx="368.7" cy="639.9" r="3.05"/><circle cx="369" cy="630" r="3.05"/><circle cx="369.4" cy="657.6" r="3.05"/><circle cx="369.7" cy="641.6" r="3.05"/><circle cx="370" cy="652.6" r="3.05"/><circle cx="370.3" cy="653.7" r="3.05"/><circle cx="370.7" cy="652.6" r="3.05"/><circle cx="371" cy="646.4" r="3.05"/><circle cx="371.3" cy="644.5" r="3.05"/><circle cx="371.6" cy="654.9" r="3.05"/><circle cx="372" cy="654.5" r="3.05"/><circle cx="372.3" cy="641.2" r="3.05"/><circle cx="372.6" cy="639.2" r="3.05"/><circle cx="372.9" cy="658.1" r="3.05"/><circle cx="373.3" cy="652.6" r="3.05"/><circle cx="373.6" cy="642.5" r="3.05"/><circle cx="373.9" cy="634.3" r="3.05"/><circle cx="374.2" cy="648.6" r="3.05"/><circle cx="374.6" cy="646.8" r="3.05"/><circle cx="374.9" cy="657.5" r="3.05"/><circle cx="375.2" cy="643" r="3.05"/><circle cx="375.5" cy="647.2" r="3.05"/><circle cx="375.9" cy="653.8" r="3.05"/><circle cx="376.2" cy="651.2" r="3.05"/><circle cx="376.5" cy="634.3" r="3.05"/><circle cx="376.8" cy="639.8" r="3.05"/><circle cx="377.2" cy="639.9" r="3.05"/><circle cx="377.5" cy="658.5" r="3.05"/><circle cx="377.8" cy="661.1" r="3.05"/><circle cx="378.1" cy="663.9" r="3.05"/><circle cx="378.5" cy="647.2" r="3.05"/><circle cx="378.8" cy="661" r="3.05"/><circle cx="379.1" cy="660.2" r="3.05"/><circle cx="379.4" cy="643.5" r="3.05"/><circle cx="379.8" cy="666.5" r="3.05"/><circle cx="380.1" cy="648.6" r="3.05"/><circle cx="380.4" cy="661.9" r="3.05"/><circle cx="380.7" cy="652" r="3.05"/><circle cx="381.1" cy="635.1" r="3.05"/><circle cx="381.4" cy="650.4" r="3.05"/><circle cx="381.7" cy="655.1" r="3.05"/><circle cx="382" cy="654.9" r="3.05"/><circle cx="382.4" cy="655.1" r="3.05"/><circle cx="382.7" cy="657.6" r="3.05"/><circle cx="383" cy="666.3" r="3.05"/><circle cx="383.3" cy="660.3" r="3.05"/><circle cx="383.7" cy="643.6" r="3.05"/><circle cx="384" cy="644.6" r="3.05"/><circle cx="384.3" cy="649.3" r="3.05"/><circle cx="384.6" cy="654.5" r="3.05"/><circle cx="385" cy="649.6" r="3.05"/><circle cx="385.3" cy="652.5" r="3.05"/><circle cx="385.6" cy="650" r="3.05"/><circle cx="385.9" cy="643.1" r="3.05"/><circle cx="386.3" cy="645.4" r="3.05"/><circle cx="386.6" cy="657.4" r="3.05"/><circle cx="386.9" cy="661.5" r="3.05"/><circle cx="387.2" cy="670.5" r="3.05"/><circle cx="387.6" cy="660.7" r="3.05"/><circle cx="387.9" cy="656" r="3.05"/><circle cx="388.2" cy="656.4" r="3.05"/><circle cx="388.5" cy="655.8" r="3.05"/><circle cx="388.9" cy="652.6" r="3.05"/><circle cx="389.2" cy="648.3" r="3.05"/><circle cx="389.5" cy="667.2" r="3.05"/><circle cx="389.8" cy="663.3" r="3.05"/><circle cx="390.2" cy="663.4" r="3.05"/><circle cx="390.5" cy="651.2" r="3.05"/><circle cx="390.8" cy="643" r="3.05"/><circle cx="391.1" cy="654.9" r="3.05"/><circle cx="391.5" cy="653.3" r="3.05"/><circle cx="391.8" cy="660.4" r="3.05"/><circle cx="392.1" cy="663.9" r="3.05"/><circle cx="392.4" cy="661.8" r="3.05"/><circle cx="392.8" cy="645.3" r="3.05"/><circle cx="393.1" cy="657.4" r="3.05"/><circle cx="393.4" cy="658.8" r="3.05"/><circle cx="393.7" cy="652.7" r="3.05"/><circle cx="394.1" cy="656.8" r="3.05"/><circle cx="394.4" cy="649.6" r="3.05"/><circle cx="394.7" cy="657.5" r="3.05"/><circle cx="395" cy="655.4" r="3.05"/><circle cx="395.4" cy="653.8" r="3.05"/><circle cx="395.7" cy="661.9" r="3.05"/><circle cx="396" cy="660.5" r="3.05"/><circle cx="396.3" cy="653" r="3.05"/><circle cx="396.7" cy="656.7" r="3.05"/><circle cx="397" cy="661.8" r="3.05"/><circle cx="397.3" cy="657.7" r="3.05"/><circle cx="397.6" cy="639.2" r="3.05"/><circle cx="398" cy="659" r="3.05"/><circle cx="398.3" cy="663.4" r="3.05"/><circle cx="398.6" cy="654.7" r="3.05"/><circle cx="398.9" cy="645.7" r="3.05"/><circle cx="399.3" cy="659.2" r="3.05"/><circle cx="399.6" cy="659.6" r="3.05"/><circle cx="399.9" cy="661" r="3.05"/><circle cx="400.2" cy="667.4" r="3.05"/><circle cx="400.6" cy="658.7" r="3.05"/><circle cx="400.9" cy="650" r="3.05"/><circle cx="401.2" cy="654.9" r="3.05"/><circle cx="401.5" cy="657.2" r="3.05"/><circle cx="401.9" cy="670.4" r="3.05"/><circle cx="402.2" cy="660.7" r="3.05"/><circle cx="402.5" cy="666.3" r="3.05"/><circle cx="402.8" cy="677.3" r="3.05"/><circle cx="403.2" cy="662.6" r="3.05"/><circle cx="403.5" cy="653.8" r="3.05"/><circle cx="403.8" cy="665.2" r="3.05"/><circle cx="404.1" cy="664.5" r="3.05"/><circle cx="404.5" cy="645.5" r="3.05"/><circle cx="404.8" cy="653.4" r="3.05"/><circle cx="405.1" cy="649.1" r="3.05"/><circle cx="405.4" cy="648.8" r="3.05"/><circle cx="405.8" cy="653.6" r="3.05"/><circle cx="406.1" cy="658.8" r="3.05"/><circle cx="406.4" cy="655.1" r="3.05"/><circle cx="406.7" cy="647.8" r="3.05"/><circle cx="407.1" cy="656.6" r="3.05"/><circle cx="407.4" cy="657.4" r="3.05"/><circle cx="407.7" cy="657.1" r="3.05"/><circle cx="408" cy="651.9" r="3.05"/><circle cx="408.4" cy="662.3" r="3.05"/><circle cx="408.7" cy="646.4" r="3.05"/><circle cx="409" cy="651.7" r="3.05"/><circle cx="409.3" cy="663.4" r="3.05"/><circle cx="409.7" cy="645.8" r="3.05"/><circle cx="410" cy="671.1" r="3.05"/><circle cx="410.3" cy="675.7" r="3.05"/><circle cx="410.6" cy="654.4" r="3.05"/><circle cx="411" cy="664.4" r="3.05"/><circle cx="411.3" cy="663.4" r="3.05"/><circle cx="411.6" cy="655.1" r="3.05"/><circle cx="411.9" cy="651" r="3.05"/><circle cx="412.3" cy="642.7" r="3.05"/><circle cx="412.6" cy="655.6" r="3.05"/><circle cx="412.9" cy="664.4" r="3.05"/><circle cx="413.2" cy="655" r="3.05"/><circle cx="413.6" cy="661.8" r="3.05"/><circle cx="413.9" cy="663.5" r="3.05"/><circle cx="414.2" cy="651.7" r="3.05"/><circle cx="414.5" cy="650.4" r="3.05"/><circle cx="414.9" cy="673.4" r="3.05"/><circle cx="415.2" cy="652.5" r="3.05"/><circle cx="415.5" cy="659" r="3.05"/><circle cx="415.8" cy="656.4" r="3.05"/><circle cx="416.2" cy="667.5" r="3.05"/><circle cx="416.5" cy="668.1" r="3.05"/><circle cx="416.8" cy="664.1" r="3.05"/><circle cx="417.1" cy="656.8" r="3.05"/><circle cx="417.5" cy="662.1" r="3.05"/><circle cx="417.8" cy="663.6" r="3.05"/><circle cx="418.1" cy="654.5" r="3.05"/><circle cx="418.4" cy="667" r="3.05"/><circle cx="418.8" cy="675.1" r="3.05"/><circle cx="419.1" cy="658.1" r="3.05"/><circle cx="419.4" cy="670.1" r="3.05"/><circle cx="419.7" cy="660.4" r="3.05"/><circle cx="420.1" cy="654" r="3.05"/><circle cx="420.4" cy="668.1" r="3.05"/><circle cx="420.7" cy="666.2" r="3.05"/><circle cx="421" cy="672" r="3.05"/><circle cx="421.4" cy="662.8" r="3.05"/><circle cx="421.7" cy="668" r="3.05"/><circle cx="422" cy="675.7" r="3.05"/><circle cx="422.3" cy="664.5" r="3.05"/><circle cx="422.7" cy="655.8" r="3.05"/><circle cx="423" cy="672" r="3.05"/><circle cx="423.3" cy="661.5" r="3.05"/><circle cx="423.6" cy="668.1" r="3.05"/><circle cx="424" cy="676.5" r="3.05"/><circle cx="424.3" cy="653.6" r="3.05"/><circle cx="424.6" cy="660.3" r="3.05"/><circle cx="424.9" cy="662.7" r="3.05"/><circle cx="425.3" cy="669.1" r="3.05"/><circle cx="425.6" cy="676.9" r="3.05"/><circle cx="425.9" cy="657.6" r="3.05"/><circle cx="426.2" cy="669" r="3.05"/><circle cx="426.6" cy="651.2" r="3.05"/><circle cx="426.9" cy="669.3" r="3.05"/><circle cx="427.2" cy="666.8" r="3.05"/><circle cx="427.5" cy="665.5" r="3.05"/><circle cx="427.9" cy="666.3" r="3.05"/><circle cx="428.2" cy="661.6" r="3.05"/><circle cx="428.5" cy="665.2" r="3.05"/><circle cx="428.8" cy="663.8" r="3.05"/><circle cx="429.2" cy="669" r="3.05"/><circle cx="429.5" cy="654.4" r="3.05"/><circle cx="429.8" cy="664.5" r="3.05"/><circle cx="430.1" cy="667.4" r="3.05"/><circle cx="430.5" cy="664.6" r="3.05"/><circle cx="430.8" cy="672" r="3.05"/><circle cx="431.1" cy="668.3" r="3.05"/><circle cx="431.4" cy="663.8" r="3.05"/><circle cx="431.8" cy="663.7" r="3.05"/><circle cx="432.1" cy="653.3" r="3.05"/><circle cx="432.4" cy="666.1" r="3.05"/><circle cx="432.7" cy="663.3" r="3.05"/><circle cx="433.1" cy="672.6" r="3.05"/><circle cx="433.4" cy="657.1" r="3.05"/><circle cx="433.7" cy="667.5" r="3.05"/><circle cx="434" cy="651.9" r="3.05"/><circle cx="434.4" cy="677.9" r="3.05"/><circle cx="434.7" cy="655.8" r="3.05"/><circle cx="435" cy="667.1" r="3.05"/><circle cx="435.3" cy="667.1" r="3.05"/><circle cx="435.7" cy="673.4" r="3.05"/><circle cx="436" cy="661.2" r="3.05"/><circle cx="436.3" cy="657.1" r="3.05"/><circle cx="436.6" cy="674.6" r="3.05"/><circle cx="437" cy="663.8" r="3.05"/><circle cx="437.3" cy="670.4" r="3.05"/><circle cx="437.6" cy="663.3" r="3.05"/><circle cx="437.9" cy="663.3" r="3.05"/><circle cx="438.3" cy="674" r="3.05"/><circle cx="438.6" cy="678.2" r="3.05"/><circle cx="438.9" cy="666.5" r="3.05"/><circle cx="439.2" cy="659.8" r="3.05"/><circle cx="439.6" cy="673.6" r="3.05"/><circle cx="439.9" cy="665.5" r="3.05"/><circle cx="440.2" cy="660.9" r="3.05"/><circle cx="440.5" cy="669.7" r="3.05"/><circle cx="440.9" cy="673.5" r="3.05"/><circle cx="441.2" cy="667.8" r="3.05"/><circle cx="441.5" cy="659.6" r="3.05"/><circle cx="441.8" cy="665.2" r="3.05"/><circle cx="442.2" cy="656.1" r="3.05"/><circle cx="442.5" cy="673.8" r="3.05"/><circle cx="442.8" cy="648.3" r="3.05"/><circle cx="443.1" cy="662.7" r="3.05"/><circle cx="443.5" cy="669.9" r="3.05"/><circle cx="443.8" cy="655.1" r="3.05"/><circle cx="444.1" cy="668.1" r="3.05"/><circle cx="444.4" cy="669.7" r="3.05"/><circle cx="444.8" cy="668.2" r="3.05"/><circle cx="445.1" cy="682.5" r="3.05"/><circle cx="445.4" cy="659.7" r="3.05"/><circle cx="445.7" cy="666" r="3.05"/><circle cx="446.1" cy="667.9" r="3.05"/><circle cx="446.4" cy="672.3" r="3.05"/><circle cx="446.7" cy="654.3" r="3.05"/><circle cx="447" cy="665.1" r="3.05"/><circle cx="447.4" cy="667.6" r="3.05"/><circle cx="447.7" cy="659" r="3.05"/><circle cx="448" cy="668.5" r="3.05"/><circle cx="448.3" cy="668.4" r="3.05"/><circle cx="448.7" cy="658.4" r="3.05"/><circle cx="449" cy="659.5" r="3.05"/><circle cx="449.3" cy="660.3" r="3.05"/><circle cx="449.6" cy="660.2" r="3.05"/><circle cx="450" cy="664.4" r="3.05"/><circle cx="450.3" cy="671" r="3.05"/><circle cx="450.6" cy="664.9" r="3.05"/><circle cx="450.9" cy="651.9" r="3.05"/><circle cx="451.3" cy="666.3" r="3.05"/><circle cx="451.6" cy="656.9" r="3.05"/><circle cx="451.9" cy="669" r="3.05"/><circle cx="452.2" cy="661.9" r="3.05"/><circle cx="452.6" cy="669" r="3.05"/><circle cx="452.9" cy="662.4" r="3.05"/><circle cx="453.2" cy="667.6" r="3.05"/><circle cx="453.5" cy="676.1" r="3.05"/><circle cx="453.9" cy="666.2" r="3.05"/><circle cx="454.2" cy="657.2" r="3.05"/><circle cx="454.5" cy="668.4" r="3.05"/><circle cx="454.8" cy="667.5" r="3.05"/><circle cx="455.2" cy="666.9" r="3.05"/><circle cx="455.5" cy="667" r="3.05"/><circle cx="455.8" cy="657.9" r="3.05"/><circle cx="456.1" cy="662.4" r="3.05"/><circle cx="456.5" cy="665" r="3.05"/><circle cx="456.8" cy="671.1" r="3.05"/><circle cx="457.1" cy="652.7" r="3.05"/><circle cx="457.4" cy="663.6" r="3.05"/><circle cx="457.8" cy="664.7" r="3.05"/><circle cx="458.1" cy="671" r="3.05"/><circle cx="458.4" cy="657.8" r="3.05"/><circle cx="458.7" cy="660.1" r="3.05"/><circle cx="459.1" cy="661.4" r="3.05"/><circle cx="459.4" cy="672.6" r="3.05"/><circle cx="459.7" cy="672.2" r="3.05"/><circle cx="460" cy="663.1" r="3.05"/><circle cx="460.4" cy="644.4" r="3.05"/><circle cx="460.7" cy="661.1" r="3.05"/><circle cx="461" cy="654.5" r="3.05"/><circle cx="461.3" cy="646" r="3.05"/><circle cx="461.7" cy="649.3" r="3.05"/><circle cx="462" cy="657.9" r="3.05"/><circle cx="462.3" cy="672.2" r="3.05"/><circle cx="462.6" cy="656.9" r="3.05"/><circle cx="463" cy="653.5" r="3.05"/><circle cx="463.3" cy="655.3" r="3.05"/><circle cx="463.6" cy="661.6" r="3.05"/><circle cx="463.9" cy="667.5" r="3.05"/><circle cx="464.3" cy="653.4" r="3.05"/><circle cx="464.6" cy="649.1" r="3.05"/><circle cx="464.9" cy="657.2" r="3.05"/><circle cx="465.2" cy="658.5" r="3.05"/><circle cx="465.6" cy="654.3" r="3.05"/><circle cx="465.9" cy="666.8" r="3.05"/><circle cx="466.2" cy="661.3" r="3.05"/><circle cx="466.5" cy="656.8" r="3.05"/><circle cx="466.9" cy="666.3" r="3.05"/><circle cx="467.2" cy="650.6" r="3.05"/><circle cx="467.5" cy="655.3" r="3.05"/><circle cx="467.8" cy="650.4" r="3.05"/><circle cx="468.2" cy="666.2" r="3.05"/><circle cx="468.5" cy="652.7" r="3.05"/><circle cx="468.8" cy="661.6" r="3.05"/><circle cx="469.1" cy="652.1" r="3.05"/><circle cx="469.5" cy="661.7" r="3.05"/><circle cx="469.8" cy="652" r="3.05"/><circle cx="470.1" cy="635.7" r="3.05"/><circle cx="470.4" cy="659.5" r="3.05"/><circle cx="470.8" cy="650.8" r="3.05"/><circle cx="471.1" cy="649.9" r="3.05"/><circle cx="471.4" cy="644.5" r="3.05"/><circle cx="471.7" cy="647.1" r="3.05"/><circle cx="472.1" cy="646.3" r="3.05"/><circle cx="472.4" cy="662.2" r="3.05"/><circle cx="472.7" cy="655.5" r="3.05"/><circle cx="473" cy="662" r="3.05"/><circle cx="473.4" cy="659.6" r="3.05"/><circle cx="473.7" cy="641" r="3.05"/><circle cx="474" cy="652.7" r="3.05"/><circle cx="474.3" cy="659.7" r="3.05"/><circle cx="474.7" cy="653" r="3.05"/><circle cx="475" cy="642.7" r="3.05"/><circle cx="475.3" cy="656.7" r="3.05"/><circle cx="475.6" cy="652.8" r="3.05"/><circle cx="476" cy="657.6" r="3.05"/><circle cx="476.3" cy="658.3" r="3.05"/><circle cx="476.6" cy="647.9" r="3.05"/><circle cx="476.9" cy="641.7" r="3.05"/><circle cx="477.3" cy="657.2" r="3.05"/><circle cx="477.6" cy="640.1" r="3.05"/><circle cx="477.9" cy="659.4" r="3.05"/><circle cx="478.2" cy="638.8" r="3.05"/><circle cx="478.6" cy="651.9" r="3.05"/><circle cx="478.9" cy="639.4" r="3.05"/><circle cx="479.2" cy="662.2" r="3.05"/><circle cx="479.5" cy="648.4" r="3.05"/><circle cx="479.9" cy="648" r="3.05"/><circle cx="480.2" cy="662.7" r="3.05"/><circle cx="480.5" cy="664.1" r="3.05"/><circle cx="480.8" cy="657.6" r="3.05"/><circle cx="481.2" cy="662.2" r="3.05"/><circle cx="481.5" cy="649.3" r="3.05"/><circle cx="481.8" cy="661.3" r="3.05"/><circle cx="482.1" cy="659.2" r="3.05"/><circle cx="482.5" cy="657.7" r="3.05"/><circle cx="482.8" cy="645.4" r="3.05"/><circle cx="483.1" cy="651" r="3.05"/><circle cx="483.4" cy="653.5" r="3.05"/><circle cx="483.8" cy="659.2" r="3.05"/><circle cx="484.1" cy="657.5" r="3.05"/><circle cx="484.4" cy="674.5" r="3.05"/><circle cx="484.7" cy="662.3" r="3.05"/><circle cx="485.1" cy="668.8" r="3.05"/><circle cx="485.4" cy="661.3" r="3.05"/><circle cx="485.7" cy="662.7" r="3.05"/><circle cx="486" cy="666.8" r="3.05"/><circle cx="486.4" cy="662.2" r="3.05"/><circle cx="486.7" cy="662" r="3.05"/><circle cx="487" cy="671.5" r="3.05"/><circle cx="487.3" cy="659" r="3.05"/><circle cx="487.7" cy="661.8" r="3.05"/><circle cx="488" cy="665.8" r="3.05"/><circle cx="488.3" cy="662.4" r="3.05"/><circle cx="488.6" cy="656.7" r="3.05"/><circle cx="489" cy="657.9" r="3.05"/><circle cx="489.3" cy="659.7" r="3.05"/><circle cx="489.6" cy="664.8" r="3.05"/><circle cx="489.9" cy="651.4" r="3.05"/><circle cx="490.3" cy="655.4" r="3.05"/><circle cx="490.6" cy="681.2" r="3.05"/><circle cx="490.9" cy="662.4" r="3.05"/><circle cx="491.2" cy="683.5" r="3.05"/><circle cx="491.6" cy="662" r="3.05"/><circle cx="491.9" cy="662.2" r="3.05"/><circle cx="492.2" cy="668.6" r="3.05"/><circle cx="492.5" cy="669.2" r="3.05"/><circle cx="492.9" cy="665.9" r="3.05"/><circle cx="493.2" cy="664.1" r="3.05"/><circle cx="493.5" cy="667.7" r="3.05"/><circle cx="493.8" cy="679.1" r="3.05"/><circle cx="494.2" cy="673.2" r="3.05"/><circle cx="494.5" cy="662.1" r="3.05"/><circle cx="494.8" cy="668.3" r="3.05"/><circle cx="495.1" cy="669.1" r="3.05"/><circle cx="495.5" cy="660.4" r="3.05"/><circle cx="495.8" cy="671.2" r="3.05"/><circle cx="496.1" cy="675.8" r="3.05"/><circle cx="496.4" cy="676.3" r="3.05"/><circle cx="496.8" cy="658.4" r="3.05"/><circle cx="497.1" cy="673.5" r="3.05"/><circle cx="497.4" cy="659.9" r="3.05"/><circle cx="497.7" cy="668.8" r="3.05"/><circle cx="498.1" cy="671" r="3.05"/><circle cx="498.4" cy="666.3" r="3.05"/><circle cx="498.7" cy="671.7" r="3.05"/><circle cx="499" cy="677.1" r="3.05"/><circle cx="499.4" cy="664.3" r="3.05"/><circle cx="499.7" cy="664.6" r="3.05"/><circle cx="500" cy="674.2" r="3.05"/><circle cx="500.3" cy="675.3" r="3.05"/><circle cx="500.7" cy="655.1" r="3.05"/><circle cx="501" cy="667.9" r="3.05"/><circle cx="501.3" cy="664" r="3.05"/><circle cx="501.6" cy="675.3" r="3.05"/><circle cx="502" cy="676.1" r="3.05"/><circle cx="502.3" cy="657.7" r="3.05"/><circle cx="502.6" cy="678.4" r="3.05"/><circle cx="502.9" cy="680.4" r="3.05"/><circle cx="503.3" cy="665.7" r="3.05"/><circle cx="503.6" cy="671.3" r="3.05"/><circle cx="503.9" cy="676.6" r="3.05"/><circle cx="504.2" cy="677.3" r="3.05"/><circle cx="504.6" cy="668" r="3.05"/><circle cx="504.9" cy="668.8" r="3.05"/><circle cx="505.2" cy="671.1" r="3.05"/><circle cx="505.5" cy="674.5" r="3.05"/><circle cx="505.9" cy="661.1" r="3.05"/><circle cx="506.2" cy="681.7" r="3.05"/><circle cx="506.5" cy="662.9" r="3.05"/><circle cx="506.8" cy="652.6" r="3.05"/><circle cx="507.2" cy="672.4" r="3.05"/><circle cx="507.5" cy="666.7" r="3.05"/><circle cx="507.8" cy="677.9" r="3.05"/><circle cx="508.1" cy="674.8" r="3.05"/><circle cx="508.5" cy="654.6" r="3.05"/><circle cx="508.8" cy="665.9" r="3.05"/><circle cx="509.1" cy="662" r="3.05"/><circle cx="509.4" cy="663.7" r="3.05"/><circle cx="509.8" cy="682.5" r="3.05"/><circle cx="510.1" cy="681.6" r="3.05"/><circle cx="510.4" cy="674.3" r="3.05"/><circle cx="510.7" cy="665.2" r="3.05"/><circle cx="511.1" cy="681.7" r="3.05"/><circle cx="511.4" cy="665.7" r="3.05"/><circle cx="511.7" cy="670.1" r="3.05"/><circle cx="512" cy="660" r="3.05"/><circle cx="512.4" cy="672.4" r="3.05"/><circle cx="512.7" cy="674.9" r="3.05"/><circle cx="513" cy="673.6" r="3.05"/><circle cx="513.3" cy="673.3" r="3.05"/><circle cx="513.7" cy="675.4" r="3.05"/><circle cx="514" cy="678.1" r="3.05"/><circle cx="514.3" cy="668.3" r="3.05"/><circle cx="514.6" cy="653.7" r="3.05"/><circle cx="515" cy="666.9" r="3.05"/><circle cx="515.3" cy="659.5" r="3.05"/><circle cx="515.6" cy="677.3" r="3.05"/></g><g class="ob"><circle cx="424.4" cy="635.8" r="3.0"/><circle cx="513.6" cy="691.7" r="3.0"/></g><polyline class="fitB" points="93.1,552.7 93.4,553 93.8,553.3 94.1,553.6 94.4,553.9 94.7,554.2 95.1,554.5 95.4,554.8 95.7,555.2 96,555.5 96.4,555.8 96.7,556.1 97,556.4 97.3,556.7 97.7,557 98,557.3 98.3,557.6 98.6,557.9 99,558.2 99.3,558.5 99.6,558.9 99.9,559.2 100.3,559.5 100.6,559.8 100.9,560.1 101.2,560.4 101.6,560.7 101.9,561 102.2,561.3 102.5,561.6 102.9,561.9 103.2,562.2 103.5,562.5 103.8,562.9 104.2,563.2 104.5,563.5 104.8,563.8 105.1,564.1 105.5,564.3 105.8,564.3 106.1,564.4 106.4,564.4 106.8,564.5 107.1,564.5 107.4,564.5 107.7,564.6 108.1,564.6 108.4,564.7 108.7,564.7 109,564.8 109.4,564.8 109.7,564.8 110,564.9 110.3,564.9 110.7,565 111,565 111.3,565.1 111.6,565.1 112,565.1 112.3,565.2 112.6,565.2 112.9,565.3 113.3,565.3 113.6,565.3 113.9,565.4 114.2,565.4 114.6,565.5 114.9,565.5 115.2,565.6 115.5,565.6 115.9,565.6 116.2,565.7 116.5,565.7 116.8,565.8 117.2,565.8 117.5,565.9 117.8,565.9 118.1,565.9 118.5,566 118.8,566 119.1,566.1 119.4,566.1 119.8,566.1 120.1,566.2 120.4,566.2 120.7,566.3 121.1,566.3 121.4,566.4 121.7,566.4 122,566.4 122.4,566.5 122.7,566.5 123,566.6 123.3,566.6 123.7,566.7 124,566.5 124.3,566.3 124.6,566 125,565.8 125.3,565.5 125.6,565.3 125.9,565 126.3,564.7 126.6,564.5 126.9,564.2 127.2,564 127.6,563.7 127.9,563.5 128.2,563.2 128.5,563 128.9,562.7 129.2,562.5 129.5,562.2 129.8,562 130.2,561.7 130.5,561.4 130.8,561.2 131.1,560.9 131.5,560.7 131.8,560.4 132.1,560.2 132.4,559.9 132.8,559.7 133.1,559.4 133.4,559.2 133.7,558.9 134.1,558.7 134.4,558.4 134.7,558.2 135,557.9 135.4,557.6 135.7,557.4 136,557.1 136.3,556.9 136.7,556.6 137,556.4 137.3,556.1 137.6,555.9 138,555.6 138.3,555.4 138.6,555.1 138.9,554.9 139.3,554.6 139.6,554.3 139.9,554.1 140.2,553.8 140.6,553.6 140.9,553.3 141.2,553.1 141.5,552.8 141.9,552.6 142.2,552.3 142.5,552.1 142.8,551.8 143.2,551.6 143.5,551.3 143.8,551.1 144.1,550.8 144.5,550.5 144.8,550.3 145.1,550 145.4,549.8 145.8,549.5 146.1,549.3 146.4,549 146.7,548.8 147.1,548.5 147.4,548.3 147.7,548 148,547.8 148.4,547.5 148.7,547.3 149,547 149.3,546.7 149.7,546.5 150,546.2 150.3,546 150.6,545.7 151,545.5 151.3,545.2 151.6,545 151.9,544.7 152.3,544.5 152.6,544.2 152.9,544 153.2,543.7 153.6,543.4 153.9,543.2 154.2,542.9 154.5,542.7 154.9,542.4 155.2,542.2 155.5,541.9 155.8,541.7 156.2,541.4 156.5,541.2 156.8,540.9 157.1,540.7 157.5,540.4 157.8,540.1 158.1,539.6 158.4,539.2 158.8,538.8 159.1,538.4 159.4,538 159.7,537.6 160.1,537.1 160.4,536.7 160.7,536.3 161,535.9 161.4,535.5 161.7,535.1 162,534.6 162.3,534.2 162.7,533.8 163,533.4 163.3,533 163.6,532.6 164,532.1 164.3,531.7 164.6,531.3 164.9,530.9 165.3,530.5 165.6,530.1 165.9,529.7 166.2,529.2 166.6,528.8 166.9,528.4 167.2,528 167.5,527.6 167.9,527.2 168.2,526.7 168.5,526.3 168.8,525.8 169.2,525.3 169.5,524.8 169.8,524.4 170.1,523.9 170.5,523.4 170.8,522.9 171.1,522.4 171.4,521.9 171.8,521.4 172.1,520.9 172.4,520.4 172.7,519.9 173.1,519.5 173.4,519 173.7,518.5 174,518 174.4,517.5 174.7,517 175,516.5 175.3,516 175.7,515.5 176,515 176.3,514.5 176.6,514.1 177,513.6 177.3,513.1 177.6,512.6 177.9,512.1 178.3,511.6 178.6,511.1 178.9,510.6 179.2,510.1 179.6,509.6 179.9,509.1 180.2,509.8 180.5,510.4 180.9,511 181.2,511.6 181.5,512.2 181.8,512.8 182.2,513.4 182.5,514 182.8,514.6 183.1,515.2 183.5,515.8 183.8,516.4 184.1,517.1 184.4,517.7 184.8,518.3 185.1,518.9 185.4,519.5 185.7,520.1 186.1,520.7 186.4,521.3 186.7,521.9 187,522.5 187.4,523.1 187.7,523.7 188,524.4 188.3,525 188.7,525.6 189,526.2 189.3,526.8 189.6,527.4 190,528 190.3,528.6 190.6,529.2 190.9,529.8 191.3,530.4 191.6,531 191.9,531.7 192.2,532.3 192.6,532.9 192.9,533.5 193.2,534.1 193.5,534.7 193.9,535.3 194.2,535.9 194.5,536.8 194.8,537.6 195.2,538.5 195.5,539.4 195.8,540.2 196.1,541.1 196.5,541.9 196.8,542.8 197.1,543.7 197.4,544.5 197.8,545.4 198.1,546.3 198.4,547.1 198.7,548 199.1,548.8 199.4,549.7 199.7,550.6 200,551.5 200.4,552.6 200.7,553.7 201,554.7 201.3,555.8 201.7,556.9 202,557.9 202.3,559 202.6,560.1 203,561.2 203.3,562.2 203.6,563.3 203.9,564.4 204.3,565.4 204.6,566.5 204.9,567.6 205.2,568.7 205.6,569.7 205.9,570.8 206.2,571.9 206.5,572.9 206.9,574 207.2,575.1 207.5,576.2 207.8,577.2 208.2,578.3 208.5,579.4 208.8,580.4 209.1,581.5 209.5,582.6 209.8,583.6 210.1,584.7 210.4,585.8 210.8,586.8 211.1,587.4 211.4,588 211.7,588.6 212.1,589.2 212.4,589.8 212.7,590.4 213,591 213.4,591.6 213.7,592.2 214,592.8 214.3,593.4 214.7,594 215,594.6 215.3,595.2 215.6,595.8 216,596.4 216.3,597 216.6,597.6 216.9,598.2 217.3,598.8 217.6,599.4 217.9,600 218.2,600.6 218.6,601.2 218.9,601.8 219.2,602.4 219.5,603 219.9,603.6 220.2,604.2 220.5,604.8 220.8,605.4 221.2,606 221.5,606.6 221.8,607.2 222.1,607.8 222.5,608.4 222.8,609 223.1,609.6 223.4,610.2 223.8,610.8 224.1,611.4 224.4,612 224.7,612.6 225.1,613.2 225.4,613.8 225.7,614.4 226,615 226.4,615.6 226.7,616.2 227,616.8 227.3,617.4 227.7,617.6 228,617.9 228.3,618.1 228.6,618.4 229,618.6 229.3,618.8 229.6,619.1 229.9,619.3 230.3,619.5 230.6,619.8 230.9,620 231.2,620.2 231.6,620.5 231.9,620.7 232.2,621 232.5,621.2 232.9,621.4 233.2,621.7 233.5,621.9 233.8,622.1 234.2,622.4 234.5,622.6 234.8,622.9 235.1,623.1 235.5,623.3 235.8,623.6 236.1,623.8 236.4,624 236.8,624.2 237.1,624.4 237.4,624.6 237.7,624.7 238.1,624.9 238.4,625.1 238.7,625.3 239,625.5 239.4,625.7 239.7,625.9 240,626.1 240.3,626.3 240.7,626.4 241,626.6 241.3,626.8 241.6,627 242,627.2 242.3,627.4 242.6,627.6 242.9,627.8 243.3,628 243.6,628.1 243.9,628.3 244.2,628.5 244.6,628.7 244.9,628.9 245.2,629.1 245.5,629.3 245.9,629.5 246.2,629.7 246.5,629.8 246.8,630 247.2,630.2 247.5,630.4 247.8,630.6 248.1,630.8 248.5,631 248.8,631.2 249.1,631.4 249.4,631.5 249.8,631.7 250.1,631.9 250.4,632.1 250.7,632.3 251.1,632.5 251.4,632.7 251.7,632.9 252,633.1 252.4,633.2 252.7,633.4 253,633.6 253.3,633.8 253.7,634 254,634.2 254.3,634.4 254.6,634.6 255,634.7 255.3,634.9 255.6,635.1 255.9,635.3 256.3,635.5 256.6,635.7 256.9,635.9 257.2,636.1 257.6,636.1 257.9,635.8 258.2,635.5 258.5,635.3 258.9,635 259.2,634.7 259.5,634.4 259.8,634.2 260.2,633.9 260.5,633.6 260.8,633.3 261.1,633.1 261.5,632.8 261.8,632.5 262.1,632.2 262.4,632 262.8,631.7 263.1,631.4 263.4,631.1 263.7,630.9 264.1,630.6 264.4,630.3 264.7,630 265,629.8 265.4,629.5 265.7,629.2 266,628.9 266.3,628.7 266.7,628.4 267,628.1 267.3,627.8 267.6,627.6 268,627.3 268.3,627 268.6,626.8 268.9,626.5 269.3,626.2 269.6,625.9 269.9,625.7 270.2,625.4 270.6,625.1 270.9,624.8 271.2,624.6 271.5,624.3 271.9,624 272.2,623.7 272.5,623.5 272.8,623.2 273.2,622.9 273.5,622.6 273.8,622.4 274.1,622.3 274.5,622.7 274.8,623 275.1,623.3 275.4,623.6 275.8,623.9 276.1,624.3 276.4,624.6 276.7,624.9 277.1,625.2 277.4,625.5 277.7,625.9 278,626.2 278.4,626.5 278.7,626.8 279,627.2 279.3,627.5 279.7,627.8 280,628.1 280.3,628.4 280.6,628.8 281,629.1 281.3,629.4 281.6,629.7 281.9,630 282.3,630.4 282.6,630.7 282.9,631 283.2,631.3 283.6,631.7 283.9,632 284.2,632.3 284.5,632.6 284.9,632.9 285.2,633.3 285.5,633.6 285.8,633.9 286.2,634.2 286.5,634.5 286.8,634.9 287.1,635.2 287.5,635.5 287.8,635.8 288.1,636.2 288.4,636.5 288.8,636.8 289.1,637.1 289.4,637.4 289.7,637.8 290.1,638.1 290.4,638.4 290.7,638.7 291,639 291.4,639.4 291.7,639.7 292,640 292.3,640.3 292.7,640.7 293,641 293.3,640.5 293.6,640.1 294,639.7 294.3,639.2 294.6,638.8 294.9,638.3 295.3,637.9 295.6,637.4 295.9,637 296.2,636.6 296.6,636.1 296.9,635.7 297.2,635.2 297.5,634.8 297.9,634.4 298.2,633.9 298.5,633.5 298.8,633 299.2,632.6 299.5,632.2 299.8,631.7 300.1,631.3 300.5,630.8 300.8,630.4 301.1,629.9 301.4,629.5 301.8,629.1 302.1,628.6 302.4,628.2 302.7,627.7 303.1,627.3 303.4,626.9 303.7,626.4 304,626 304.4,625.5 304.7,625.1 305,624.7 305.3,624.2 305.7,623.8 306,623.3 306.3,622.9 306.6,622.4 307,622 307.3,621.6 307.6,621.1 307.9,620.7 308.3,620.2 308.6,619.8 308.9,619.4 309.2,618.9 309.6,618.5 309.9,618 310.2,617.6 310.5,617.1 310.9,616.7 311.2,616.3 311.5,615.8 311.8,615.4 312.2,614.9 312.5,614.5 312.8,614.1 313.1,613.6 313.5,613.2 313.8,612.7 314.1,612.3 314.4,611.9 314.8,611.4 315.1,611 315.4,610.5 315.7,610.1 316.1,609.6 316.4,609.2 316.7,608.8 317,608.3 317.4,607.9 317.7,607.4 318,607 318.3,606.6 318.7,606.1 319,605.7 319.3,605.2 319.6,604.8 320,604.3 320.3,603.9 320.6,603.5 320.9,603 321.3,603.4 321.6,603.8 321.9,604.2 322.2,604.6 322.6,605 322.9,605.4 323.2,605.8 323.5,606.3 323.9,606.7 324.2,607.1 324.5,607.5 324.8,607.9 325.2,608.3 325.5,608.7 325.8,609.1 326.1,609.5 326.5,609.9 326.8,610.3 327.1,610.7 327.4,611.1 327.8,611.5 328.1,611.9 328.4,612.5 328.7,613.1 329.1,613.7 329.4,614.2 329.7,614.8 330,615.4 330.4,616 330.7,616.5 331,617.1 331.3,617.7 331.7,618.3 332,618.8 332.3,619.4 332.6,620 333,620.6 333.3,621.1 333.6,621.7 333.9,622.3 334.3,622.9 334.6,623.5 334.9,624 335.2,624.6 335.6,625.2 335.9,625.8 336.2,626.3 336.5,626.9 336.9,627.5 337.2,628.1 337.5,628.6 337.8,629.2 338.2,629.8 338.5,630.2 338.8,630.6 339.1,631.1 339.5,631.5 339.8,631.9 340.1,632.3 340.4,632.8 340.8,633.2 341.1,633.6 341.4,634.1 341.7,634.5 342.1,634.9 342.4,635.3 342.7,635.8 343,636.2 343.4,636.6 343.7,637 344,637.5 344.3,637.9 344.7,638.3 345,638.7 345.3,639.2 345.6,639.6 346,640 346.3,640.4 346.6,640.9 346.9,641.3 347.3,641.5 347.6,641.5 347.9,641.6 348.2,641.7 348.6,641.8 348.9,641.9 349.2,642 349.5,642.1 349.9,642.2 350.2,642.3 350.5,642.4 350.8,642.5 351.2,642.6 351.5,642.7 351.8,642.8 352.1,642.9 352.5,643 352.8,643.1 353.1,643.2 353.4,643.2 353.8,643.3 354.1,643.4 354.4,643.5 354.7,643.6 355.1,643.7 355.4,643.8 355.7,643.9 356,644 356.4,644.1 356.7,644.2 357,644.3 357.3,644.4 357.7,644.5 358,644.6 358.3,644.7 358.6,644.8 359,644.9 359.3,644.9 359.6,645 359.9,645.1 360.3,645.2 360.6,645.3 360.9,645.4 361.2,645.5 361.6,645.6 361.9,645.7 362.2,645.8 362.5,645.9 362.9,646 363.2,646.1 363.5,646.2 363.8,646.3 364.2,646.4 364.5,646.6 364.8,646.7 365.1,646.8 365.5,647 365.8,647.1 366.1,647.2 366.4,647.4 366.8,647.5 367.1,647.6 367.4,647.8 367.7,647.9 368.1,648 368.4,648.1 368.7,648.3 369,648.4 369.4,648.5 369.7,648.7 370,648.8 370.3,648.9 370.7,649.1 371,649.2 371.3,649.3 371.6,649.5 372,649.6 372.3,649.7 372.6,649.9 372.9,650 373.3,650.1 373.6,650.3 373.9,650.4 374.2,650.5 374.6,650.7 374.9,650.8 375.2,650.9 375.5,651 375.9,651.2 376.2,651.3 376.5,651.4 376.8,651.6 377.2,651.7 377.5,651.8 377.8,651.9 378.1,652 378.5,652.1 378.8,652.3 379.1,652.4 379.4,652.5 379.8,652.6 380.1,652.7 380.4,652.8 380.7,653 381.1,653.1 381.4,653.2 381.7,653.3 382,653.4 382.4,653.5 382.7,653.7 383,653.8 383.3,653.9 383.7,654 384,654.1 384.3,654.2 384.6,654.4 385,654.5 385.3,654.6 385.6,654.7 385.9,654.8 386.3,654.9 386.6,655.1 386.9,655.2 387.2,655.3 387.6,655.4 387.9,655.5 388.2,655.7 388.5,655.8 388.9,655.9 389.2,656 389.5,656.1 389.8,656.2 390.2,656.4 390.5,656.5 390.8,656.6 391.1,656.7 391.5,656.8 391.8,656.9 392.1,657.1 392.4,657.2 392.8,657.3 393.1,657.4 393.4,657.5 393.7,657.6 394.1,657.8 394.4,657.8 394.7,657.8 395,657.8 395.4,657.8 395.7,657.9 396,657.9 396.3,657.9 396.7,657.9 397,658 397.3,658 397.6,658 398,658 398.3,658 398.6,658.1 398.9,658.1 399.3,658.1 399.6,658.1 399.9,658.1 400.2,658.2 400.6,658.2 400.9,658.2 401.2,658.2 401.5,658.3 401.9,658.3 402.2,658.3 402.5,658.3 402.8,658.3 403.2,658.4 403.5,658.4 403.8,658.4 404.1,658.4 404.5,658.5 404.8,658.5 405.1,658.5 405.4,658.5 405.8,658.5 406.1,658.6 406.4,658.6 406.7,658.6 407.1,658.6 407.4,658.6 407.7,658.7 408,658.7 408.4,658.7 408.7,658.7 409,658.8 409.3,658.8 409.7,658.8 410,658.8 410.3,658.8 410.6,658.9 411,658.9 411.3,658.9 411.6,658.9 411.9,659 412.3,659 412.6,659.1 412.9,659.2 413.2,659.3 413.6,659.4 413.9,659.5 414.2,659.6 414.5,659.7 414.9,659.8 415.2,659.9 415.5,660 415.8,660.1 416.2,660.2 416.5,660.3 416.8,660.4 417.1,660.5 417.5,660.6 417.8,660.7 418.1,660.8 418.4,660.9 418.8,661 419.1,661.1 419.4,661.2 419.7,661.3 420.1,661.4 420.4,661.5 420.7,661.6 421,661.7 421.4,661.8 421.7,661.9 422,662 422.3,662.1 422.7,662.2 423,662.3 423.3,662.4 423.6,662.5 424,662.6 424.3,662.7 424.6,662.8 424.9,662.9 425.3,663 425.6,663.1 425.9,663.2 426.2,663.3 426.6,663.4 426.9,663.5 427.2,663.6 427.5,663.7 427.9,663.8 428.2,663.9 428.5,664 428.8,664.1 429.2,664.2 429.5,664.3 429.8,664.4 430.1,664.5 430.5,664.6 430.8,664.7 431.1,664.8 431.4,664.9 431.8,665 432.1,665.1 432.4,665.2 432.7,665.3 433.1,665.3 433.4,665.3 433.7,665.3 434,665.3 434.4,665.2 434.7,665.2 435,665.2 435.3,665.1 435.7,665.1 436,665.1 436.3,665.1 436.6,665 437,665 437.3,665 437.6,664.9 437.9,664.9 438.3,664.9 438.6,664.9 438.9,664.8 439.2,664.8 439.6,664.8 439.9,664.7 440.2,664.7 440.5,664.7 440.9,664.7 441.2,664.6 441.5,664.6 441.8,664.6 442.2,664.5 442.5,664.5 442.8,664.5 443.1,664.5 443.5,664.4 443.8,664.4 444.1,664.4 444.4,664.3 444.8,664.3 445.1,664.3 445.4,664.3 445.7,664.2 446.1,664.2 446.4,664.2 446.7,664.1 447,664.1 447.4,664.1 447.7,664.1 448,664 448.3,664 448.7,664 449,663.9 449.3,663.9 449.6,663.9 450,663.9 450.3,663.8 450.6,663.8 450.9,663.8 451.3,663.7 451.6,663.7 451.9,663.7 452.2,663.7 452.6,663.6 452.9,663.6 453.2,663.6 453.5,663.5 453.9,663.5 454.2,663.5 454.5,663.5 454.8,663.4 455.2,663.4 455.5,663.4 455.8,663.4 456.1,663.1 456.5,662.9 456.8,662.7 457.1,662.5 457.4,662.3 457.8,662 458.1,661.8 458.4,661.6 458.7,661.4 459.1,661.2 459.4,661 459.7,660.7 460,660.5 460.4,660.3 460.7,660.1 461,659.9 461.3,659.7 461.7,659.4 462,659.2 462.3,659 462.6,658.8 463,658.6 463.3,658.3 463.6,658.1 463.9,657.9 464.3,657.7 464.6,657.5 464.9,657.3 465.2,657 465.6,656.8 465.9,656.6 466.2,656.4 466.5,656.2 466.9,656 467.2,655.7 467.5,655.5 467.8,655.3 468.2,655.1 468.5,654.9 468.8,654.6 469.1,654.4 469.5,654.2 469.8,654 470.1,653.8 470.4,653.6 470.8,653.3 471.1,653.1 471.4,652.9 471.7,652.7 472.1,652.5 472.4,652.3 472.7,652 473,651.8 473.4,651.6 473.7,651.4 474,651.2 474.3,651 474.7,650.7 475,650.5 475.3,650.3 475.6,650.3 476,650.7 476.3,651.1 476.6,651.5 476.9,651.8 477.3,652.2 477.6,652.6 477.9,653 478.2,653.4 478.6,653.8 478.9,654.1 479.2,654.5 479.5,654.9 479.9,655.3 480.2,655.7 480.5,656 480.8,656.4 481.2,656.8 481.5,657.2 481.8,657.6 482.1,658 482.5,658.3 482.8,658.7 483.1,659.1 483.4,659.5 483.8,659.9 484.1,660.3 484.4,660.6 484.7,661 485.1,661.4 485.4,661.8 485.7,662.2 486,662.5 486.4,662.9 486.7,663.3 487,663.7 487.3,664.1 487.7,664.5 488,664.8 488.3,665.2 488.6,665.6 489,666 489.3,666.4 489.6,666.7 489.9,667.1 490.3,667.5 490.6,667.9 490.9,668.3 491.2,668.7 491.6,669 491.9,669.3 492.2,669.4 492.5,669.4 492.9,669.4 493.2,669.4 493.5,669.5 493.8,669.5 494.2,669.5 494.5,669.5 494.8,669.5 495.1,669.6 495.5,669.6 495.8,669.6 496.1,669.6 496.4,669.7 496.8,669.7 497.1,669.7 497.4,669.7 497.7,669.7 498.1,669.8 498.4,669.8 498.7,669.8 499,669.8 499.4,669.8 499.7,669.9 500,669.9 500.3,669.9 500.7,669.9 501,670 501.3,670 501.6,670 502,670 502.3,670 502.6,670.1 502.9,670.1 503.3,670.1 503.6,670.1 503.9,670.1 504.2,670.1 504.6,670.1 504.9,670.1 505.2,670.1 505.5,670.1 505.9,670.1 506.2,670.1 506.5,670.1 506.8,670.1 507.2,670.1 507.5,670.1 507.8,670.1 508.1,670.1 508.5,670.1 508.8,670.1 509.1,670.1 509.4,670.1 509.8,670.1 510.1,670.1 510.4,670.1 510.7,670.1 511.1,670.1 511.4,670.1 511.7,670.1 512,670.1 512.4,670.1 512.7,670.1 513,670.1 513.3,670.1 513.7,670.1 514,670.1 514.3,670.1 514.6,670.1 515,670.1 515.3,670.1 515.6,670.1"/><polygon points="93.1,750.7 95,751 97,751.8 98.9,752.5 100.8,753.2 102.7,752.3 104.7,750.6 106.6,750.2 108.5,750.8 110.5,751.6 112.4,750.8 114.3,750.1 116.3,751.4 118.2,751.8 120.1,751.2 122,751.6 124,752 125.9,754.5 127.8,754.4 129.8,755.7 131.7,754.1 133.6,754.1 135.5,752.1 137.5,751.8 139.4,750.8 141.3,753.4 143.3,754 145.2,753.9 147.1,751.4 149,752.4 151,752.8 152.9,753.8 154.8,753.1 156.8,751.7 158.7,751.5 160.6,750.8 162.6,751 164.5,750.8 166.4,750.8 168.3,751.5 170.3,750.9 172.2,752 174.1,752 176.1,750.8 178,751.1 179.9,750.4 181.8,751.5 183.8,750.7 185.7,749.6 187.6,749 189.6,749.5 191.5,751.3 193.4,751.5 195.3,750.6 197.3,750 199.2,750.6 201.1,749.8 203.1,749.1 205,749.7 206.9,750.1 208.9,751.9 210.8,751.1 212.7,752.4 214.6,752.5 216.6,752.8 218.5,750.9 220.4,749.3 222.4,750.3 224.3,751.9 226.2,752.4 228.1,753 230.1,752.7 232,753.4 233.9,750.4 235.9,749.3 237.8,749.5 239.7,751 241.7,751.9 243.6,750.2 245.5,750.2 247.4,750.3 249.4,751.4 251.3,751.1 253.2,751 255.2,752.3 257.1,752.2 259,752.5 260.9,750.3 262.9,749.7 264.8,749.3 266.7,749.8 268.7,750.7 270.6,749.7 272.5,750.3 274.4,749.5 276.4,751.7 278.3,751.3 280.2,753.5 282.2,754.1 284.1,754.8 286,754 288,752 289.9,749.6 291.8,749.5 293.7,750.3 295.7,752.2 297.6,750.9 299.5,750.5 301.5,750.9 303.4,750.7 305.3,750.1 307.2,750.8 309.2,751.6 311.1,752 313,752 315,751.7 316.9,752.5 318.8,750.7 320.7,750.7 322.7,749.8 324.6,751.3 326.5,751.6 328.5,753.5 330.4,754 332.3,753.6 334.3,753.7 336.2,751.9 338.1,753.8 340,751.1 342,752.7 343.9,750.4 345.8,750.9 347.8,751.6 349.7,751.1 351.6,749.9 353.5,748.6 355.5,750 357.4,751.5 359.3,752.3 361.3,751 363.2,751.4 365.1,750.5 367,752.3 369,752.4 370.9,753.5 372.8,751.6 374.8,751.2 376.7,749.1 378.6,750.2 380.6,750.7 382.5,751.9 384.4,752.5 386.3,751.8 388.3,751.9 390.2,751.6 392.1,752.9 394.1,753.3 396,751.5 397.9,750.8 399.8,751.1 401.8,752.3 403.7,750.4 405.6,750.7 407.6,751.2 409.5,753.1 411.4,753.4 413.4,752.5 415.3,752 417.2,750.3 419.1,751.7 421.1,751.2 423,751.8 424.9,751.2 426.9,752.7 428.8,753.3 430.7,751.9 432.6,751.4 434.6,750 436.5,751.2 438.4,751.2 440.4,751.9 442.3,751.3 444.2,751.2 446.1,750.8 448.1,751.4 450,750 451.9,749.2 453.9,748.9 455.8,750.5 457.7,752.5 459.7,751.9 461.6,750.5 463.5,749.3 465.4,749.7 467.4,749.9 469.3,749 471.2,748.6 473.2,749.8 475.1,749.2 477,751.2 478.9,749.9 480.9,750.9 482.8,748.9 484.7,748 486.7,747.1 488.6,748.9 490.5,752.3 492.4,752.9 494.4,752.8 496.3,751.2 498.2,751.2 500.2,751.8 502.1,753.7 504,754.3 506,752.7 507.9,750.9 509.8,751.2 511.7,752 513.7,753.2 515.6,753.2 515.6,765.6 513.7,766.4 511.7,766.3 509.8,766.6 507.9,764.8 506,764.5 504,765 502.1,765.4 500.2,765.7 498.2,766 496.3,766 494.4,765.1 492.4,765.9 490.5,767.3 488.6,767.1 486.7,767.7 484.7,766.4 482.8,766 480.9,765.2 478.9,765 477,768 475.1,767.7 473.2,770.7 471.2,768.1 469.3,768 467.4,765.3 465.4,767.6 463.5,768.4 461.6,770 459.7,767 457.7,766.9 455.8,766.4 453.9,767.3 451.9,765.7 450,765.2 448.1,767 446.1,767.8 444.2,768 442.3,767.2 440.4,766.8 438.4,764.8 436.5,765.6 434.6,766.5 432.6,767.9 430.7,767.7 428.8,766.2 426.9,765.2 424.9,764.1 423,765.1 421.1,766.2 419.1,767 417.2,766.9 415.3,768 413.4,768.5 411.4,770 409.5,767.9 407.6,767.1 405.6,764.9 403.7,765.9 401.8,765.7 399.8,765.7 397.9,765.1 396,765.4 394.1,768.6 392.1,769.9 390.2,769 388.3,766.6 386.3,764.4 384.4,764.9 382.5,765.9 380.6,768.3 378.6,767.1 376.7,764.6 374.8,764.2 372.8,764 370.9,765.8 369,766 367,769.3 365.1,769.7 363.2,769.1 361.3,767.6 359.3,767.1 357.4,766.9 355.5,766.9 353.5,767.2 351.6,767.3 349.7,767.3 347.8,766.6 345.8,766 343.9,764.8 342,766.2 340,768.4 338.1,769.3 336.2,767.1 334.3,765.2 332.3,765 330.4,768.1 328.5,769.1 326.5,769.6 324.6,769.2 322.7,769.7 320.7,768.6 318.8,768.3 316.9,766.3 315,766 313,765.1 311.1,765.1 309.2,766.1 307.2,765.6 305.3,768.4 303.4,769 301.5,768.4 299.5,766.5 297.6,766.2 295.7,766.6 293.7,766.3 291.8,767.5 289.9,768.6 288,768.2 286,767.6 284.1,766.3 282.2,766.8 280.2,764.5 278.3,765.4 276.4,765.4 274.4,766.7 272.5,766.2 270.6,767.2 268.7,767.4 266.7,766.7 264.8,765.6 262.9,765.7 260.9,767.2 259,769 257.1,768.4 255.2,767.3 253.2,765.8 251.3,766.9 249.4,768.9 247.4,769 245.5,768.3 243.6,766.6 241.7,766.8 239.7,767 237.8,767.9 235.9,768.6 233.9,769.4 232,770.2 230.1,767.6 228.1,766.4 226.2,764.4 224.3,767.5 222.4,767.9 220.4,768.7 218.5,768.4 216.6,768.2 214.6,767.7 212.7,765.6 210.8,765.8 208.9,766 206.9,767.2 205,764.7 203.1,765.1 201.1,765.6 199.2,767.6 197.3,768.6 195.3,769.5 193.4,768.7 191.5,767.3 189.6,765.6 187.6,765.7 185.7,766.7 183.8,766.2 181.8,767.8 179.9,765.8 178,766.7 176.1,766.7 174.1,768.4 172.2,768.3 170.3,767.7 168.3,767 166.4,767.1 164.5,768.2 162.6,767.3 160.6,766.1 158.7,765.1 156.8,767.2 154.8,767.8 152.9,764.7 151,761.6 149,761.5 147.1,762.4 145.2,764.3 143.3,766 141.3,767.8 139.4,767.9 137.5,766.7 135.5,767.7 133.6,767.2 131.7,765.9 129.8,765.2 127.8,765.5 125.9,767.7 124,766.4 122,768.4 120.1,767.9 118.2,769.5 116.3,766.9 114.3,766.8 112.4,765.6 110.5,765.4 108.5,764.6 106.6,764.5 104.7,765.8 102.7,766.4 100.8,767.8 98.9,765.9 97,765 95,764.4 93.1,765.9" fill="#0000ff"/><polyline class="difB" points="93.1,749.1 93.4,756 93.8,749.3 94.1,754.8 94.4,766.2 94.7,767.6 95.1,755 95.4,763.9 95.7,750.8 96,766.4 96.4,759.5 96.7,754.1 97,756.4 97.3,756.1 97.7,756.6 98,777.3 98.3,782.6 98.6,747.1 99,744.9 99.3,751 99.6,749.3 99.9,762.3 100.3,783.8 100.6,762.6 100.9,745.8 101.2,762.8 101.6,763.1 101.9,752 102.2,763.6 102.5,762.4 102.9,766.3 103.2,761.3 103.5,754.7 103.8,743.5 104.2,744.1 104.5,763.6 104.8,760.8 105.1,752.5 105.5,763.3 105.8,781.1 106.1,740.7 106.4,768.8 106.8,757.5 107.1,760 107.4,757.5 107.7,763.2 108.1,757.4 108.4,776.4 108.7,757.4 109,765.8 109.4,761.8 109.7,751.6 110,759.1 110.3,750.1 110.7,762.2 111,737.5 111.3,764.5 111.6,764.9 112,762.7 112.3,754.3 112.6,765.4 112.9,751.1 113.3,762 113.6,756.7 113.9,764.7 114.2,744.1 114.6,770.4 114.9,769.8 115.2,748.5 115.5,759.4 115.9,752.1 116.2,744.9 116.5,751.1 116.8,766.5 117.2,758.3 117.5,776.5 117.8,763.8 118.1,765.2 118.5,767.3 118.8,766.9 119.1,760 119.4,756.2 119.8,783.8 120.1,747 120.4,762.2 120.7,761 121.1,754.5 121.4,735.3 121.7,736 122,765 122.4,748.8 122.7,755.7 123,759.1 123.3,767.5 123.7,762.6 124,753.8 124.3,756.7 124.6,734.6 125,767 125.3,758.5 125.6,758.1 125.9,747.2 126.3,756.6 126.6,753.1 126.9,766.6 127.2,754.4 127.6,761.9 127.9,753.7 128.2,738.7 128.5,750.4 128.9,765.3 129.2,764.1 129.5,759.4 129.8,754 130.2,752.2 130.5,768.3 130.8,746 131.1,758 131.5,767 131.8,776.4 132.1,769 132.4,777.9 132.8,747.6 133.1,757.6 133.4,755 133.7,770.7 134.1,783.8 134.4,760.8 134.7,762.4 135,763.1 135.4,759.6 135.7,761 136,782.2 136.3,757.7 136.7,751.2 137,761.5 137.3,782.1 137.6,760.4 138,768.2 138.3,755.4 138.6,736.7 138.9,774.9 139.3,779 139.6,751.4 139.9,778.8 140.2,750.1 140.6,759.3 140.9,765.9 141.2,776.4 141.5,763.4 141.9,763.1 142.2,755.6 142.5,744.1 142.8,767.9 143.2,750.9 143.5,750 143.8,764.9 144.1,765.7 144.5,752.4 144.8,781.6 145.1,756.1 145.4,773.7 145.8,764.4 146.1,759.1 146.4,765.8 146.7,764.3 147.1,762.3 147.4,746.3 147.7,781.9 148,742.6 148.4,750.4 148.7,778.1 149,753.9 149.3,764 149.7,769.3 150,758.5 150.3,754 150.6,755.1 151,775.7 151.3,767.2 151.6,766.3 151.9,755 152.3,751.4 152.6,761.8 152.9,750.5 153.2,757.8 153.6,754.7 153.9,767 154.2,742.6 154.5,748.8 154.9,754.1 155.2,775.1 155.5,753.9 155.8,751.3 156.2,753.2 156.5,769.4 156.8,765.8 157.1,737.6 157.5,770.9 157.8,769.6 158.1,755.9 158.4,744.4 158.8,760.1 159.1,755.7 159.4,752.5 159.7,778.9 160.1,766.7 160.4,764.9 160.7,762.6 161,767.8 161.4,761.2 161.7,739.6 162,756.8 162.3,746.1 162.7,758.3 163,757.2 163.3,759.2 163.6,748.1 164,763.6 164.3,760.6 164.6,775.6 164.9,752.2 165.3,768.3 165.6,752.7 165.9,753.4 166.2,757.5 166.6,759.6 166.9,766.4 167.2,764.2 167.5,764.3 167.9,752.3 168.2,755.3 168.5,761.4 168.8,750.2 169.2,748.6 169.5,783.8 169.8,767.7 170.1,745.6 170.5,752.7 170.8,762.9 171.1,752.1 171.4,749.5 171.8,750.2 172.1,768 172.4,764.6 172.7,752.9 173.1,757.1 173.4,755.4 173.7,780.5 174,749.7 174.4,759.4 174.7,766.3 175,763.3 175.3,766.5 175.7,745.7 176,766.8 176.3,754.7 176.6,765.5 177,768 177.3,761.5 177.6,798.8 177.9,768.4 178.3,778.6 178.6,755.2 178.9,770.7 179.2,758 179.6,745.4 179.9,753.1 180.2,753.7 180.5,783.4 180.9,761.5 181.2,753.7 181.5,758.9 181.8,757.8 182.2,767.3 182.5,746.6 182.8,768.4 183.1,762.7 183.5,770.6 183.8,755 184.1,753.9 184.4,761.9 184.8,764.6 185.1,760.7 185.4,734.2 185.7,782.5 186.1,762.3 186.4,751.6 186.7,757.2 187,762.6 187.4,757.8 187.7,764 188,769 188.3,764.1 188.7,746 189,750.7 189.3,763.8 189.6,758.9 190,757.7 190.3,751.4 190.6,769 190.9,747.3 191.3,765.6 191.6,753.1 191.9,755.2 192.2,770.6 192.6,753.5 192.9,747.2 193.2,737 193.5,753.1 193.9,762.3 194.2,760.7 194.5,746.3 194.8,740 195.2,754.3 195.5,757.9 195.8,752.1 196.1,753.1 196.5,759.6 196.8,765.8 197.1,765.6 197.4,769.7 197.8,750.6 198.1,757 198.4,751.3 198.7,775.2 199.1,760.9 199.4,759 199.7,755.9 200,766.4 200.4,747.3 200.7,766.8 201,778.8 201.3,770.7 201.7,763.1 202,753.4 202.3,781.6 202.6,760.2 203,749.1 203.3,749.2 203.6,760.9 203.9,747.1 204.3,760.1 204.6,755.4 204.9,761.4 205.2,759.2 205.6,738.1 205.9,752.5 206.2,750.1 206.5,761.3 206.9,768.8 207.2,762.6 207.5,756 207.8,766.1 208.2,749.7 208.5,778.5 208.8,739.5 209.1,760.4 209.5,738.5 209.8,739.4 210.1,740.9 210.4,759.2 210.8,753 211.1,769.9 211.4,757 211.7,759.3 212.1,778.2 212.4,767.7 212.7,745.7 213,771.2 213.4,749.4 213.7,758.9 214,760.8 214.3,773.9 214.7,754.8 215,752.4 215.3,734.2 215.6,761.3 216,765 216.3,752.9 216.6,757.8 216.9,764.6 217.3,750.6 217.6,756.9 217.9,756.4 218.2,746.6 218.6,767 218.9,749.3 219.2,766 219.5,754.7 219.9,759.6 220.2,760.5 220.5,783.8 220.8,761.4 221.2,769.8 221.5,760.5 221.8,761.5 222.1,754.1 222.5,777.3 222.8,761.5 223.1,750.9 223.4,768.7 223.8,757.3 224.1,741.3 224.4,757.4 224.7,753.6 225.1,763 225.4,773.7 225.7,766.8 226,753.4 226.4,737.9 226.7,771.9 227,768.6 227.3,761.7 227.7,772.6 228,760 228.3,755.2 228.6,757.7 229,763.5 229.3,777.9 229.6,751.5 229.9,766.6 230.3,758.9 230.6,764.7 230.9,769 231.2,765.7 231.6,765.3 231.9,777.2 232.2,773.6 232.5,757.1 232.9,751.9 233.2,760.9 233.5,771 233.8,762 234.2,750.1 234.5,766 234.8,748.7 235.1,763.4 235.5,759.7 235.8,768.9 236.1,755.6 236.4,746.3 236.8,764.4 237.1,756.4 237.4,767.8 237.7,756.3 238.1,755.1 238.4,750.7 238.7,762.9 239,777.4 239.4,758 239.7,760.5 240,767.8 240.3,751 240.7,762.6 241,757.3 241.3,758.9 241.6,754.2 242,752.5 242.3,765.5 242.6,755.6 242.9,749.9 243.3,751.1 243.6,751.4 243.9,779 244.2,765.5 244.6,760.4 244.9,761.6 245.2,765.8 245.5,758.9 245.9,734.2 246.2,763.7 246.5,762.3 246.8,750.5 247.2,774.9 247.5,768.3 247.8,770.7 248.1,758.7 248.5,768.7 248.8,762.9 249.1,772.2 249.4,757.5 249.8,744.5 250.1,760.9 250.4,764.3 250.7,759.9 251.1,761.3 251.4,750.3 251.7,743.6 252,770 252.4,756.3 252.7,738.2 253,752.7 253.3,771.8 253.7,746.2 254,766.3 254.3,766.2 254.6,762.7 255,768.2 255.3,758.2 255.6,756.7 255.9,753.3 256.3,756 256.6,756.8 256.9,756.4 257.2,750.9 257.6,755.9 257.9,772.1 258.2,772 258.5,766.6 258.9,761.4 259.2,757.5 259.5,783.2 259.8,760.3 260.2,754.8 260.5,751.4 260.8,762.5 261.1,763.4 261.5,755 261.8,748.8 262.1,751.2 262.4,759.5 262.8,756 263.1,755 263.4,765.5 263.7,772.1 264.1,770.2 264.4,755.6 264.7,752.5 265,772.8 265.4,748.8 265.7,756.2 266,760.7 266.3,764.5 266.7,759.9 267,768.5 267.3,744.9 267.6,774.5 268,759.8 268.3,768.1 268.6,752.3 268.9,778.8 269.3,767.7 269.6,765.6 269.9,746.1 270.2,752 270.6,753.3 270.9,768.2 271.2,745.4 271.5,765.7 271.9,757 272.2,753.9 272.5,761.4 272.8,763.3 273.2,758.9 273.5,783.3 273.8,748.5 274.1,763.6 274.5,765.3 274.8,740.6 275.1,754.7 275.4,752.8 275.8,750.4 276.1,745 276.4,771.1 276.7,735 277.1,754.3 277.4,771.5 277.7,757.5 278,744 278.4,766.7 278.7,758.2 279,765.5 279.3,783.8 279.7,766.2 280,768.3 280.3,767.4 280.6,747.7 281,761 281.3,750 281.6,752.1 281.9,765.9 282.3,764.9 282.6,767.9 282.9,747.6 283.2,775 283.6,772.7 283.9,755.9 284.2,763.6 284.5,743 284.9,769 285.2,759.9 285.5,758.7 285.8,771.2 286.2,760.5 286.5,757.6 286.8,761.2 287.1,764.4 287.5,740.7 287.8,761.1 288.1,766.6 288.4,757.1 288.8,751 289.1,769.1 289.4,770.7 289.7,751.7 290.1,760.6 290.4,744.1 290.7,742.5 291,763.3 291.4,763.9 291.7,759.9 292,757.9 292.3,751.9 292.7,759.2 293,752.3 293.3,756 293.6,777.7 294,771.1 294.3,743.8 294.6,755.4 294.9,768.7 295.3,737.3 295.6,745.6 295.9,773.2 296.2,760.3 296.6,755.9 296.9,762.3 297.2,768.2 297.5,751.8 297.9,761.3 298.2,761.3 298.5,741.7 298.8,759.3 299.2,769.6 299.5,759.9 299.8,752.6 300.1,745.9 300.5,754.8 300.8,774.8 301.1,769.6 301.4,764.5 301.8,766.6 302.1,753.4 302.4,767.7 302.7,748.8 303.1,746.7 303.4,759.2 303.7,773.8 304,751.6 304.4,754.8 304.7,762 305,763.2 305.3,762 305.7,766.1 306,763.4 306.3,751.6 306.6,764.3 307,745.9 307.3,771.3 307.6,745.1 307.9,752 308.3,756.8 308.6,764.3 308.9,770.7 309.2,747.5 309.6,761.5 309.9,769.9 310.2,755.3 310.5,771.1 310.9,755.6 311.2,756.9 311.5,739.9 311.8,783.8 312.2,753.1 312.5,762.7 312.8,757.9 313.1,757.4 313.5,757.8 313.8,760 314.1,756.9 314.4,765.4 314.8,770.7 315.1,771.6 315.4,755 315.7,751.8 316.1,755.9 316.4,768.9 316.7,745.4 317,766 317.4,767.5 317.7,764.6 318,755.2 318.3,779.5 318.7,771.2 319,741.8 319.3,767.5 319.6,770.9 320,770 320.3,776.1 320.6,758.5 320.9,762.7 321.3,754.4 321.6,783.8 321.9,752.1 322.2,765.6 322.6,742.7 322.9,777.8 323.2,756.6 323.5,768.3 323.9,769.5 324.2,761.3 324.5,760 324.8,778.5 325.2,765.5 325.5,734.2 325.8,764.4 326.1,745.9 326.5,773.6 326.8,759.4 327.1,738.2 327.4,753.9 327.8,768.7 328.1,773.9 328.4,755.5 328.7,762.9 329.1,762.2 329.4,775.4 329.7,747.3 330,773.4 330.4,760.7 330.7,759.5 331,748.4 331.3,766.9 331.7,776.6 332,757.9 332.3,762.8 332.6,773.5 333,765.9 333.3,758 333.6,752.7 333.9,749.9 334.3,747.8 334.6,751.6 334.9,766.8 335.2,759.1 335.6,762 335.9,768.2 336.2,778 336.5,762.5 336.9,752.4 337.2,767.4 337.5,752.3 337.8,763.7 338.2,757 338.5,760.1 338.8,748 339.1,763.1 339.5,734.2 339.8,755.2 340.1,771 340.4,761.5 340.8,772.2 341.1,761 341.4,765.1 341.7,743.4 342.1,747.2 342.4,753.6 342.7,762.9 343,756.6 343.4,760.9 343.7,736.7 344,753.6 344.3,755.4 344.7,766.9 345,766.9 345.3,769.1 345.6,758.5 346,746.4 346.3,774.2 346.6,769 346.9,766.6 347.3,744.7 347.6,748.3 347.9,754.1 348.2,761.6 348.6,768.8 348.9,745 349.2,767.8 349.5,757.1 349.9,754.2 350.2,761.6 350.5,743.5 350.8,753.6 351.2,778 351.5,752 351.8,774 352.1,773.2 352.5,757.8 352.8,746.2 353.1,755 353.4,760.3 353.8,759.9 354.1,759.7 354.4,760.9 354.7,778.9 355.1,748.5 355.4,782.3 355.7,762.7 356,745.2 356.4,752.7 356.7,766.3 357,743.4 357.3,745.1 357.7,767.4 358,760 358.3,759.5 358.6,761.5 359,759.8 359.3,757.7 359.6,744.5 359.9,758 360.3,741.4 360.6,763.8 360.9,761.2 361.2,738.9 361.6,778 361.9,765.4 362.2,764.7 362.5,755.3 362.9,754 363.2,771.3 363.5,756.2 363.8,773.4 364.2,776.3 364.5,755.4 364.8,742.9 365.1,752.7 365.5,765.4 365.8,765 366.1,758 366.4,778 366.8,762.3 367.1,766.9 367.4,757.2 367.7,754.6 368.1,773.9 368.4,755.3 368.7,768.3 369,773.9 369.4,756.2 369.7,756.9 370,760.6 370.3,754 370.7,751.6 371,752.3 371.3,755.3 371.6,768.4 372,774.4 372.3,777.9 372.6,752.2 372.9,761.1 373.3,749.4 373.6,757 373.9,765.2 374.2,764.1 374.6,755 374.9,761 375.2,758.5 375.5,746.6 375.9,770.4 376.2,757 376.5,755.8 376.8,759.4 377.2,754.9 377.5,781.7 377.8,753.3 378.1,759.2 378.5,756.6 378.8,743.3 379.1,761 379.4,759 379.8,762.9 380.1,775.9 380.4,772.5 380.7,768.7 381.1,760.2 381.4,760.2 381.7,756.8 382,753.5 382.4,751.3 382.7,762.1 383,750.9 383.3,764.3 383.7,761.5 384,770.8 384.3,743.8 384.6,753.9 385,748.2 385.3,764.2 385.6,755 385.9,766.2 386.3,767.5 386.6,756.3 386.9,764.5 387.2,750.2 387.6,767.1 387.9,778.3 388.2,755.1 388.5,754.9 388.9,768.2 389.2,743.7 389.5,752.6 389.8,743.1 390.2,756.1 390.5,771.9 390.8,755 391.1,760.3 391.5,758.1 391.8,755 392.1,759.2 392.4,761.9 392.8,767.6 393.1,746.8 393.4,746.6 393.7,758 394.1,758.9 394.4,760.1 394.7,759.9 395,780.3 395.4,763.3 395.7,746.8 396,756.1 396.3,747.7 396.7,762.9 397,777.1 397.3,753.4 397.6,746.6 398,753.3 398.3,781.6 398.6,762.1 398.9,752.2 399.3,772.4 399.6,763 399.9,767.4 400.2,745 400.6,771.6 400.9,755.1 401.2,780.7 401.5,762.7 401.9,745.5 402.2,773.9 402.5,747.8 402.8,750 403.2,754.3 403.5,746.6 403.8,758.2 404.1,754.8 404.5,770.4 404.8,765.6 405.1,754.4 405.4,774.8 405.8,754.9 406.1,745.5 406.4,765.9 406.7,766.9 407.1,754.9 407.4,752.3 407.7,771.8 408,761.9 408.4,754.9 408.7,759 409,754.4 409.3,756.9 409.7,755.7 410,761.1 410.3,745.5 410.6,761.4 411,755.7 411.3,762.7 411.6,758.8 411.9,769.5 412.3,758.6 412.6,748.2 412.9,762 413.2,764.5 413.6,769.2 413.9,771.5 414.2,766.6 414.5,765.5 414.9,756.4 415.2,758.2 415.5,773.9 415.8,747 416.2,766.4 416.5,755 416.8,775.3 417.1,773.5 417.5,750.2 417.8,755 418.1,758.8 418.4,748.4 418.8,752.2 419.1,768.2 419.4,771.8 419.7,752.2 420.1,773.7 420.4,749.3 420.7,757.3 421,762.7 421.4,755.5 421.7,759.5 422,760 422.3,744.5 422.7,754.9 423,755.5 423.3,768.4 423.6,750.9 424,752.8 424.3,764.8 424.6,764.2 424.9,748.5 425.3,760 425.6,777.7 425.9,745.9 426.2,764.4 426.6,753.7 426.9,750.2 427.2,753.2 427.5,761.6 427.9,766.1 428.2,746.4 428.5,772.9 428.8,752.7 429.2,753.8 429.5,758.2 429.8,766.6 430.1,748.5 430.5,754.8 430.8,761.7 431.1,756 431.4,769.8 431.8,773.2 432.1,758.7 432.4,760.5 432.7,752.4 433.1,753.7 433.4,768.7 433.7,754.2 434,758.5 434.4,765.2 434.7,753.9 435,756.7 435.3,759.2 435.7,767.4 436,762.7 436.3,742.9 436.6,762.3 437,767.7 437.3,762.7 437.6,760.2 437.9,743.5 438.3,770.8 438.6,764.9 438.9,746.1 439.2,753.8 439.6,764.3 439.9,773.5 440.2,766.9 440.5,745.7 440.9,744.5 441.2,762.4 441.5,751.4 441.8,757.9 442.2,751 442.5,763.6 442.8,753.9 443.1,761.6 443.5,757.3 443.8,761.2 444.1,749.1 444.4,740.9 444.8,770.9 445.1,753.2 445.4,756.9 445.7,766.4 446.1,745.9 446.4,772.8 446.7,773.8 447,752.5 447.4,767.2 447.7,762.9 448,751 448.3,760.7 448.7,773.5 449,765.3 449.3,759.7 449.6,778 450,769.8 450.3,748.5 450.6,759.5 450.9,745.6 451.3,757.4 451.6,754.4 451.9,778.6 452.2,754.8 452.6,766.3 452.9,767.6 453.2,747.4 453.5,746.3 453.9,756.8 454.2,758.1 454.5,749.2 454.8,766.5 455.2,736.9 455.5,769.2 455.8,760 456.1,769.3 456.5,760.2 456.8,737.6 457.1,752.8 457.4,753.2 457.8,742 458.1,770.9 458.4,757.5 458.7,766.4 459.1,781.1 459.4,749.3 459.7,737 460,753.8 460.4,771.7 460.7,744.6 461,767.8 461.3,751 461.7,752.4 462,759.4 462.3,748.4 462.6,758.8 463,753.9 463.3,737.1 463.6,769 463.9,762.7 464.3,765.4 464.6,760 464.9,763.2 465.2,744.4 465.6,768.6 465.9,751.2 466.2,751.8 466.5,753.1 466.9,767.6 467.2,750.8 467.5,760.3 467.8,746.8 468.2,752.6 468.5,751.3 468.8,762.6 469.1,757 469.5,747.8 469.8,758.8 470.1,769.4 470.4,734.2 470.8,768.3 471.1,759.4 471.4,770.2 471.7,777.6 472.1,767.2 472.4,752.7 472.7,743.9 473,739.6 473.4,753.2 473.7,741.7 474,772.9 474.3,766.8 474.7,740.5 475,750.1 475.3,762.4 475.6,763.6 476,753.5 476.3,751.6 476.6,743.7 476.9,758.5 477.3,754 477.6,758.6 477.9,749.6 478.2,750.3 478.6,763.9 478.9,749.4 479.2,778.1 479.5,757.2 479.9,763.7 480.2,774.2 480.5,768.5 480.8,769.3 481.2,762.5 481.5,756.8 481.8,765.2 482.1,755.2 482.5,747.3 482.8,766.5 483.1,770.2 483.4,737.6 483.8,757.7 484.1,763.5 484.4,764.5 484.7,755.7 485.1,743 485.4,748.9 485.7,754.5 486,759.9 486.4,766.6 486.7,768.5 487,753.2 487.3,761.4 487.7,754.6 488,748.9 488.3,745.5 488.6,762.6 489,772.5 489.3,743.5 489.6,769.8 489.9,758.5 490.3,760.6 490.6,748.9 490.9,749.7 491.2,750.3 491.6,761.4 491.9,759.1 492.2,751.8 492.5,764 492.9,754.9 493.2,756.9 493.5,751.9 493.8,767.3 494.2,766.8 494.5,754.3 494.8,769.6 495.1,761.6 495.5,766.3 495.8,765.7 496.1,767 496.4,755.2 496.8,759 497.1,750.4 497.4,757.9 497.7,757 498.1,740.8 498.4,745 498.7,761.5 499,758.3 499.4,748.3 499.7,776.4 500,760.8 500.3,762.5 500.7,770.8 501,760.1 501.3,775.9 501.6,735 502,759.8 502.3,758.9 502.6,773.3 502.9,757.2 503.3,739.7 503.6,761.3 503.9,750 504.2,748.5 504.6,783.8 504.9,763.1 505.2,761.9 505.5,766.1 505.9,773 506.2,766.5 506.5,775.9 506.8,756 507.2,754 507.5,750.6 507.8,762.1 508.1,767.4 508.5,746.8 508.8,760.8 509.1,755.8 509.4,748.7 509.8,767.9 510.1,757.7 510.4,748.8 510.7,757.5 511.1,760.7 511.4,747.9 511.7,767.1 512,767.9 512.4,756.2 512.7,768.3 513,759.8 513.3,765 513.7,762.6 514,752.1 514.3,754.6 514.6,762.5 515,761.2 515.3,759.2 515.6,758.7"/><path d="M274.1,708V721M320.3,708V721M473.4,708V721" stroke="#3333ff" stroke-width="1.4"/><text x="269.2" y="864.5" font-size="18" fill="#1a1a1a" stroke="#1a1a1a" textLength="82.3" lengthAdjust="spacingAndGlyphs" style="stroke-width:0.75px">2 Theta (°)</text><text x="40" y="644.1" font-size="17.5" text-anchor="middle" fill="#1a1a1a" stroke="#1a1a1a" textLength="152" lengthAdjust="spacingAndGlyphs" transform="rotate(-90 40 644.1)" >Intensity (Counts)</text><text x="15.9" y="470.3" font-size="38" fill="#111" stroke="#111" font-weight="bold" textLength="21.8" lengthAdjust="spacingAndGlyphs" style="font-family:'Liberation Serif',serif">B</text><text x="181.5" y="480.6" font-size="17" fill="#ff2020" stroke="#ff2020" textLength="43.4" lengthAdjust="spacingAndGlyphs" transform="rotate(-90 181.5 480.6)" >002 C</text><text x="273.2" y="572.8" font-size="17" fill="#1a1a1a" stroke="#1a1a1a" textLength="56.6" lengthAdjust="spacingAndGlyphs" transform="rotate(-90 273.2 572.8)" >111 TiN</text><text x="322.9" y="556.8" font-size="17" fill="#1a1a1a" stroke="#1a1a1a" textLength="59.4" lengthAdjust="spacingAndGlyphs" transform="rotate(-90 322.9 556.8)" >200 TiN</text><text x="482.5" y="623.6" font-size="17" fill="#1a1a1a" stroke="#1a1a1a" textLength="57.8" lengthAdjust="spacingAndGlyphs" transform="rotate(-90 482.5 623.6)" >220 TiN</text><circle cx="371.4" cy="448.9" r="3.8" fill="none" stroke="#222" stroke-width="1.5"/><path d="M350.2,469.3H391.8" stroke="#ff0000" stroke-width="2.7" stroke-linecap="round"/><path d="M350.2,491.1H391.8" stroke="#0000ff" stroke-width="2.7" stroke-linecap="round"/><path d="M371.4,510V518.7" stroke="#3333ff" stroke-width="1.4"/><text x="399.4" y="452.1" font-size="15.3" fill="#1a1a1a" stroke="#1a1a1a" font-weight="bold" textLength="57.6" lengthAdjust="spacingAndGlyphs" style="stroke-width:0.1px">TiN(TD)</text><text x="396.7" y="476.5" font-size="18.2" fill="#1a1a1a" stroke="#1a1a1a" >Fitting</text><text x="396.7" y="498.4" font-size="18.2" fill="#1a1a1a" stroke="#1a1a1a" textLength="82.3" lengthAdjust="spacingAndGlyphs" >Difference</text><text x="396.7" y="519.2" font-size="18.2" fill="#1a1a1a" stroke="#1a1a1a" >Bragg</text></g><g id="C"><path class="ax" d="M93.5,914V1254.4H518"/><path class="ax" d="M86.5,1236.5H93.5M86.5,1200.6H93.5M86.5,1164.8H93.5M86.5,1129H93.5M86.5,1093.2H93.5M86.5,1057.3H93.5M86.5,1021.5H93.5M86.5,985.7H93.5M86.5,949.8H93.5M86.5,914H93.5M89.5,1254.4H93.5M89.5,1218.6H93.5M89.5,1182.7H93.5M89.5,1146.9H93.5M89.5,1111.1H93.5M89.5,1075.2H93.5M89.5,1039.4H93.5M89.5,1003.6H93.5M89.5,967.7H93.5M89.5,931.9H93.5M126.2,1254.4V1261.4M191.4,1254.4V1261.4M256.8,1254.4V1261.4M322.1,1254.4V1261.4M387.4,1254.4V1261.4M452.7,1254.4V1261.4M518,1254.4V1261.4M158.8,1254.4V1258.4M224.1,1254.4V1258.4M289.4,1254.4V1258.4M354.7,1254.4V1258.4M420,1254.4V1258.4M485.3,1254.4V1258.4"/><text x="81" y="1241.7" font-size="16.5" text-anchor="end" fill="#1a1a1a" stroke="#1a1a1a" >100</text><text x="81" y="1205.8" font-size="16.5" text-anchor="end" fill="#1a1a1a" stroke="#1a1a1a" >200</text><text x="81" y="1170" font-size="16.5" text-anchor="end" fill="#1a1a1a" stroke="#1a1a1a" >300</text><text x="81" y="1134.2" font-size="16.5" text-anchor="end" fill="#1a1a1a" stroke="#1a1a1a" >400</text><text x="81" y="1098.4" font-size="16.5" text-anchor="end" fill="#1a1a1a" stroke="#1a1a1a" >500</text><text x="81" y="1062.5" font-size="16.5" text-anchor="end" fill="#1a1a1a" stroke="#1a1a1a" >600</text><text x="81" y="1026.7" font-size="16.5" text-anchor="end" fill="#1a1a1a" stroke="#1a1a1a" >700</text><text x="81" y="990.9" font-size="16.5" text-anchor="end" fill="#1a1a1a" stroke="#1a1a1a" >800</text><text x="81" y="955" font-size="16.5" text-anchor="end" fill="#1a1a1a" stroke="#1a1a1a" >900</text><text x="81" y="919.2" font-size="16.5" text-anchor="end" fill="#1a1a1a" stroke="#1a1a1a" >1000</text><text x="126.2" y="1280.2" font-size="16.5" text-anchor="middle" fill="#1a1a1a" stroke="#1a1a1a" >20</text><text x="191.4" y="1280.2" font-size="16.5" text-anchor="middle" fill="#1a1a1a" stroke="#1a1a1a" >30</text><text x="256.8" y="1280.2" font-size="16.5" text-anchor="middle" fill="#1a1a1a" stroke="#1a1a1a" >40</text><text x="322.1" y="1280.2" font-size="16.5" text-anchor="middle" fill="#1a1a1a" stroke="#1a1a1a" >50</text><text x="387.4" y="1280.2" font-size="16.5" text-anchor="middle" fill="#1a1a1a" stroke="#1a1a1a" >60</text><text x="452.7" y="1280.2" font-size="16.5" text-anchor="middle" fill="#1a1a1a" stroke="#1a1a1a" >70</text><text x="518" y="1280.2" font-size="16.5" text-anchor="middle" fill="#1a1a1a" stroke="#1a1a1a" >80</text><g class="ob"><circle cx="93.5" cy="1128.8" r="3.05"/><circle cx="93.8" cy="1120" r="3.05"/><circle cx="94.2" cy="1132.9" r="3.05"/><circle cx="94.5" cy="1136.2" r="3.05"/><circle cx="94.8" cy="1114.8" r="3.05"/><circle cx="95.1" cy="1125.5" r="3.05"/><circle cx="95.5" cy="1109.6" r="3.05"/><circle cx="95.8" cy="1117.5" r="3.05"/><circle cx="96.1" cy="1141.9" r="3.05"/><circle cx="96.4" cy="1125.3" r="3.05"/><circle cx="96.8" cy="1132.1" r="3.05"/><circle cx="97.1" cy="1124.9" r="3.05"/><circle cx="97.4" cy="1120.6" r="3.05"/><circle cx="97.7" cy="1113.8" r="3.05"/><circle cx="98.1" cy="1136.4" r="3.05"/><circle cx="98.4" cy="1134.1" r="3.05"/><circle cx="98.7" cy="1126.8" r="3.05"/><circle cx="99.1" cy="1133.7" r="3.05"/><circle cx="99.4" cy="1131.8" r="3.05"/><circle cx="99.7" cy="1118.3" r="3.05"/><circle cx="100" cy="1139" r="3.05"/><circle cx="100.4" cy="1135.5" r="3.05"/><circle cx="100.7" cy="1100" r="3.05"/><circle cx="101" cy="1140.5" r="3.05"/><circle cx="101.3" cy="1134.1" r="3.05"/><circle cx="101.7" cy="1122.6" r="3.05"/><circle cx="102" cy="1130.7" r="3.05"/><circle cx="102.3" cy="1119.5" r="3.05"/><circle cx="102.6" cy="1124.6" r="3.05"/><circle cx="103" cy="1114.7" r="3.05"/><circle cx="103.3" cy="1124.9" r="3.05"/><circle cx="103.6" cy="1112.4" r="3.05"/><circle cx="103.9" cy="1123.4" r="3.05"/><circle cx="104.3" cy="1125.2" r="3.05"/><circle cx="104.6" cy="1127.3" r="3.05"/><circle cx="104.9" cy="1122.4" r="3.05"/><circle cx="105.3" cy="1117.8" r="3.05"/><circle cx="105.6" cy="1124.4" r="3.05"/><circle cx="105.9" cy="1116.1" r="3.05"/><circle cx="106.2" cy="1117.9" r="3.05"/><circle cx="106.6" cy="1121.3" r="3.05"/><circle cx="106.9" cy="1125.3" r="3.05"/><circle cx="107.2" cy="1133.1" r="3.05"/><circle cx="107.5" cy="1133.9" r="3.05"/><circle cx="107.9" cy="1116.2" r="3.05"/><circle cx="108.2" cy="1112.2" r="3.05"/><circle cx="108.5" cy="1141.6" r="3.05"/><circle cx="108.8" cy="1104.4" r="3.05"/><circle cx="109.2" cy="1127.2" r="3.05"/><circle cx="109.5" cy="1130.9" r="3.05"/><circle cx="109.8" cy="1126.1" r="3.05"/><circle cx="110.2" cy="1141.4" r="3.05"/><circle cx="110.5" cy="1136.4" r="3.05"/><circle cx="110.8" cy="1119.8" r="3.05"/><circle cx="111.1" cy="1128.5" r="3.05"/><circle cx="111.5" cy="1119.4" r="3.05"/><circle cx="111.8" cy="1126.1" r="3.05"/><circle cx="112.1" cy="1113.8" r="3.05"/><circle cx="112.4" cy="1136.7" r="3.05"/><circle cx="112.8" cy="1126.2" r="3.05"/><circle cx="113.1" cy="1134.5" r="3.05"/><circle cx="113.4" cy="1128.4" r="3.05"/><circle cx="113.7" cy="1119.8" r="3.05"/><circle cx="114.1" cy="1117.6" r="3.05"/><circle cx="114.4" cy="1126.2" r="3.05"/><circle cx="114.7" cy="1121.3" r="3.05"/><circle cx="115" cy="1140.5" r="3.05"/><circle cx="115.4" cy="1132.6" r="3.05"/><circle cx="115.7" cy="1117.8" r="3.05"/><circle cx="116" cy="1117.5" r="3.05"/><circle cx="116.4" cy="1137.6" r="3.05"/><circle cx="116.7" cy="1121.9" r="3.05"/><circle cx="117" cy="1142.2" r="3.05"/><circle cx="117.3" cy="1113.5" r="3.05"/><circle cx="117.7" cy="1135" r="3.05"/><circle cx="118" cy="1131" r="3.05"/><circle cx="118.3" cy="1118.2" r="3.05"/><circle cx="118.6" cy="1120.2" r="3.05"/><circle cx="119" cy="1134.8" r="3.05"/><circle cx="119.3" cy="1128.2" r="3.05"/><circle cx="119.6" cy="1110.8" r="3.05"/><circle cx="119.9" cy="1123.2" r="3.05"/><circle cx="120.3" cy="1140.3" r="3.05"/><circle cx="120.6" cy="1104.4" r="3.05"/><circle cx="120.9" cy="1121.2" r="3.05"/><circle cx="121.3" cy="1132.4" r="3.05"/><circle cx="121.6" cy="1147.3" r="3.05"/><circle cx="121.9" cy="1137.7" r="3.05"/><circle cx="122.2" cy="1134.6" r="3.05"/><circle cx="122.6" cy="1127.5" r="3.05"/><circle cx="122.9" cy="1137" r="3.05"/><circle cx="123.2" cy="1125.7" r="3.05"/><circle cx="123.5" cy="1126.3" r="3.05"/><circle cx="123.9" cy="1099.8" r="3.05"/><circle cx="124.2" cy="1113" r="3.05"/><circle cx="124.5" cy="1124.3" r="3.05"/><circle cx="124.8" cy="1131.2" r="3.05"/><circle cx="125.2" cy="1147.9" r="3.05"/><circle cx="125.5" cy="1144.7" r="3.05"/><circle cx="125.8" cy="1122.5" r="3.05"/><circle cx="126.2" cy="1110.9" r="3.05"/><circle cx="126.5" cy="1112.9" r="3.05"/><circle cx="126.8" cy="1133.2" r="3.05"/><circle cx="127.1" cy="1127" r="3.05"/><circle cx="127.5" cy="1121.1" r="3.05"/><circle cx="127.8" cy="1136" r="3.05"/><circle cx="128.1" cy="1116.8" r="3.05"/><circle cx="128.4" cy="1119.6" r="3.05"/><circle cx="128.8" cy="1114" r="3.05"/><circle cx="129.1" cy="1113.6" r="3.05"/><circle cx="129.4" cy="1114.1" r="3.05"/><circle cx="129.7" cy="1131.7" r="3.05"/><circle cx="130.1" cy="1139.7" r="3.05"/><circle cx="130.4" cy="1118.8" r="3.05"/><circle cx="130.7" cy="1133.2" r="3.05"/><circle cx="131" cy="1132.6" r="3.05"/><circle cx="131.4" cy="1119.9" r="3.05"/><circle cx="131.7" cy="1125.5" r="3.05"/><circle cx="132" cy="1117.8" r="3.05"/><circle cx="132.4" cy="1104.7" r="3.05"/><circle cx="132.7" cy="1124.9" r="3.05"/><circle cx="133" cy="1132.1" r="3.05"/><circle cx="133.3" cy="1121.3" r="3.05"/><circle cx="133.7" cy="1121.6" r="3.05"/><circle cx="134" cy="1104.9" r="3.05"/><circle cx="134.3" cy="1114.6" r="3.05"/><circle cx="134.6" cy="1122.3" r="3.05"/><circle cx="135" cy="1128" r="3.05"/><circle cx="135.3" cy="1109.5" r="3.05"/><circle cx="135.6" cy="1129.1" r="3.05"/><circle cx="135.9" cy="1135.5" r="3.05"/><circle cx="136.3" cy="1144.3" r="3.05"/><circle cx="136.6" cy="1112.9" r="3.05"/><circle cx="136.9" cy="1122.4" r="3.05"/><circle cx="137.3" cy="1115.8" r="3.05"/><circle cx="137.6" cy="1128.8" r="3.05"/><circle cx="137.9" cy="1132" r="3.05"/><circle cx="138.2" cy="1127.2" r="3.05"/><circle cx="138.6" cy="1124.6" r="3.05"/><circle cx="138.9" cy="1133.1" r="3.05"/><circle cx="139.2" cy="1107.2" r="3.05"/><circle cx="139.5" cy="1110.3" r="3.05"/><circle cx="139.9" cy="1095.9" r="3.05"/><circle cx="140.2" cy="1121.7" r="3.05"/><circle cx="140.5" cy="1116.5" r="3.05"/><circle cx="140.8" cy="1112.1" r="3.05"/><circle cx="141.2" cy="1119.4" r="3.05"/><circle cx="141.5" cy="1111.4" r="3.05"/><circle cx="141.8" cy="1122.5" r="3.05"/><circle cx="142.1" cy="1131.3" r="3.05"/><circle cx="142.5" cy="1122.5" r="3.05"/><circle cx="142.8" cy="1116" r="3.05"/><circle cx="143.1" cy="1117.9" r="3.05"/><circle cx="143.5" cy="1135.5" r="3.05"/><circle cx="143.8" cy="1129.6" r="3.05"/><circle cx="144.1" cy="1117.4" r="3.05"/><circle cx="144.4" cy="1124.9" r="3.05"/><circle cx="144.8" cy="1120.7" r="3.05"/><circle cx="145.1" cy="1113.6" r="3.05"/><circle cx="145.4" cy="1133.5" r="3.05"/><circle cx="145.7" cy="1119.8" r="3.05"/><circle cx="146.1" cy="1123.2" r="3.05"/><circle cx="146.4" cy="1126.2" r="3.05"/><circle cx="146.7" cy="1117.3" r="3.05"/><circle cx="147" cy="1137.1" r="3.05"/><circle cx="147.4" cy="1111.9" r="3.05"/><circle cx="147.7" cy="1124.6" r="3.05"/><circle cx="148" cy="1119.1" r="3.05"/><circle cx="148.4" cy="1121.2" r="3.05"/><circle cx="148.7" cy="1125.8" r="3.05"/><circle cx="149" cy="1113.5" r="3.05"/><circle cx="149.3" cy="1133.2" r="3.05"/><circle cx="149.7" cy="1124.7" r="3.05"/><circle cx="150" cy="1121.4" r="3.05"/><circle cx="150.3" cy="1117.6" r="3.05"/><circle cx="150.6" cy="1108" r="3.05"/><circle cx="151" cy="1114.6" r="3.05"/><circle cx="151.3" cy="1106.6" r="3.05"/><circle cx="151.6" cy="1115.9" r="3.05"/><circle cx="151.9" cy="1135.4" r="3.05"/><circle cx="152.3" cy="1125.5" r="3.05"/><circle cx="152.6" cy="1111.7" r="3.05"/><circle cx="152.9" cy="1109.5" r="3.05"/><circle cx="153.2" cy="1118.3" r="3.05"/><circle cx="153.6" cy="1123.2" r="3.05"/><circle cx="153.9" cy="1120.3" r="3.05"/><circle cx="154.2" cy="1122.1" r="3.05"/><circle cx="154.6" cy="1122.3" r="3.05"/><circle cx="154.9" cy="1110.9" r="3.05"/><circle cx="155.2" cy="1130.8" r="3.05"/><circle cx="155.5" cy="1120.9" r="3.05"/><circle cx="155.9" cy="1114" r="3.05"/><circle cx="156.2" cy="1125.6" r="3.05"/><circle cx="156.5" cy="1111.1" r="3.05"/><circle cx="156.8" cy="1126.7" r="3.05"/><circle cx="157.2" cy="1132.7" r="3.05"/><circle cx="157.5" cy="1129.8" r="3.05"/><circle cx="157.8" cy="1103.8" r="3.05"/><circle cx="158.1" cy="1094.5" r="3.05"/><circle cx="158.5" cy="1110.9" r="3.05"/><circle cx="158.8" cy="1123.7" r="3.05"/><circle cx="159.1" cy="1124.6" r="3.05"/><circle cx="159.5" cy="1116.1" r="3.05"/><circle cx="159.8" cy="1111.8" r="3.05"/><circle cx="160.1" cy="1110.9" r="3.05"/><circle cx="160.4" cy="1124" r="3.05"/><circle cx="160.8" cy="1115.5" r="3.05"/><circle cx="161.1" cy="1117.9" r="3.05"/><circle cx="161.4" cy="1115.8" r="3.05"/><circle cx="161.7" cy="1132.1" r="3.05"/><circle cx="162.1" cy="1116" r="3.05"/><circle cx="162.4" cy="1112.3" r="3.05"/><circle cx="162.7" cy="1118.8" r="3.05"/><circle cx="163" cy="1119.7" r="3.05"/><circle cx="163.4" cy="1123.1" r="3.05"/><circle cx="163.7" cy="1116.3" r="3.05"/><circle cx="164" cy="1140.9" r="3.05"/><circle cx="164.4" cy="1115.6" r="3.05"/><circle cx="164.7" cy="1117.7" r="3.05"/><circle cx="165" cy="1102.5" r="3.05"/><circle cx="165.3" cy="1113.1" r="3.05"/><circle cx="165.7" cy="1111.8" r="3.05"/><circle cx="166" cy="1092.2" r="3.05"/><circle cx="166.3" cy="1123.8" r="3.05"/><circle cx="166.6" cy="1107" r="3.05"/><circle cx="167" cy="1129" r="3.05"/><circle cx="167.3" cy="1133.1" r="3.05"/><circle cx="167.6" cy="1124.1" r="3.05"/><circle cx="167.9" cy="1107.5" r="3.05"/><circle cx="168.3" cy="1138.7" r="3.05"/><circle cx="168.6" cy="1104.2" r="3.05"/><circle cx="168.9" cy="1130.6" r="3.05"/><circle cx="169.2" cy="1117.5" r="3.05"/><circle cx="169.6" cy="1109.8" r="3.05"/><circle cx="169.9" cy="1093.8" r="3.05"/><circle cx="170.2" cy="1119.3" r="3.05"/><circle cx="170.6" cy="1128.6" r="3.05"/><circle cx="170.9" cy="1110.5" r="3.05"/><circle cx="171.2" cy="1119.1" r="3.05"/><circle cx="171.5" cy="1103.3" r="3.05"/><circle cx="171.9" cy="1113.4" r="3.05"/><circle cx="172.2" cy="1104.7" r="3.05"/><circle cx="172.5" cy="1118.1" r="3.05"/><circle cx="172.8" cy="1140.8" r="3.05"/><circle cx="173.2" cy="1126.6" r="3.05"/><circle cx="173.5" cy="1123.4" r="3.05"/><circle cx="173.8" cy="1106.6" r="3.05"/><circle cx="174.1" cy="1111.3" r="3.05"/><circle cx="174.5" cy="1111.9" r="3.05"/><circle cx="174.8" cy="1121.1" r="3.05"/><circle cx="175.1" cy="1111.9" r="3.05"/><circle cx="175.5" cy="1106.5" r="3.05"/><circle cx="175.8" cy="1119.8" r="3.05"/><circle cx="176.1" cy="1113.6" r="3.05"/><circle cx="176.4" cy="1138.2" r="3.05"/><circle cx="176.8" cy="1114.5" r="3.05"/><circle cx="177.1" cy="1125.3" r="3.05"/><circle cx="177.4" cy="1117" r="3.05"/><circle cx="177.7" cy="1116.5" r="3.05"/><circle cx="178.1" cy="1114.7" r="3.05"/><circle cx="178.4" cy="1125.3" r="3.05"/><circle cx="178.7" cy="1114" r="3.05"/><circle cx="179" cy="1117.2" r="3.05"/><circle cx="179.4" cy="1118.4" r="3.05"/><circle cx="179.7" cy="1100.1" r="3.05"/><circle cx="180" cy="1122.2" r="3.05"/><circle cx="180.3" cy="1128.6" r="3.05"/><circle cx="180.7" cy="1121.2" r="3.05"/><circle cx="181" cy="1107.1" r="3.05"/><circle cx="181.3" cy="1127.6" r="3.05"/><circle cx="181.7" cy="1097.2" r="3.05"/><circle cx="182" cy="1108.8" r="3.05"/><circle cx="182.3" cy="1120.3" r="3.05"/><circle cx="182.6" cy="1109.5" r="3.05"/><circle cx="183" cy="1103.2" r="3.05"/><circle cx="183.3" cy="1119.1" r="3.05"/><circle cx="183.6" cy="1123.1" r="3.05"/><circle cx="183.9" cy="1116.7" r="3.05"/><circle cx="184.3" cy="1113.6" r="3.05"/><circle cx="184.6" cy="1119.6" r="3.05"/><circle cx="184.9" cy="1115.8" r="3.05"/><circle cx="185.2" cy="1116.5" r="3.05"/><circle cx="185.6" cy="1111.3" r="3.05"/><circle cx="185.9" cy="1109.3" r="3.05"/><circle cx="186.2" cy="1097.7" r="3.05"/><circle cx="186.6" cy="1109.1" r="3.05"/><circle cx="186.9" cy="1119.6" r="3.05"/><circle cx="187.2" cy="1111.5" r="3.05"/><circle cx="187.5" cy="1124.2" r="3.05"/><circle cx="187.9" cy="1116.9" r="3.05"/><circle cx="188.2" cy="1117.9" r="3.05"/><circle cx="188.5" cy="1102.9" r="3.05"/><circle cx="188.8" cy="1113.7" r="3.05"/><circle cx="189.2" cy="1119.7" r="3.05"/><circle cx="189.5" cy="1104.2" r="3.05"/><circle cx="189.8" cy="1100.8" r="3.05"/><circle cx="190.1" cy="1109.8" r="3.05"/><circle cx="190.5" cy="1122.9" r="3.05"/><circle cx="190.8" cy="1133" r="3.05"/><circle cx="191.1" cy="1110.8" r="3.05"/><circle cx="191.5" cy="1110.2" r="3.05"/><circle cx="191.8" cy="1096.2" r="3.05"/><circle cx="192.1" cy="1116.2" r="3.05"/><circle cx="192.4" cy="1121.9" r="3.05"/><circle cx="192.8" cy="1114.8" r="3.05"/><circle cx="193.1" cy="1116.7" r="3.05"/><circle cx="193.4" cy="1116.7" r="3.05"/><circle cx="193.7" cy="1123.1" r="3.05"/><circle cx="194.1" cy="1099.2" r="3.05"/><circle cx="194.4" cy="1106.6" r="3.05"/><circle cx="194.7" cy="1107.4" r="3.05"/><circle cx="195" cy="1127.7" r="3.05"/><circle cx="195.4" cy="1120.1" r="3.05"/><circle cx="195.7" cy="1112.2" r="3.05"/><circle cx="196" cy="1107.3" r="3.05"/><circle cx="196.3" cy="1102.2" r="3.05"/><circle cx="196.7" cy="1107.6" r="3.05"/><circle cx="197" cy="1129.7" r="3.05"/><circle cx="197.3" cy="1110.7" r="3.05"/><circle cx="197.7" cy="1125.3" r="3.05"/><circle cx="198" cy="1119.8" r="3.05"/><circle cx="198.3" cy="1119.7" r="3.05"/><circle cx="198.6" cy="1101.3" r="3.05"/><circle cx="199" cy="1120.2" r="3.05"/><circle cx="199.3" cy="1117.9" r="3.05"/><circle cx="199.6" cy="1111.4" r="3.05"/><circle cx="199.9" cy="1106.1" r="3.05"/><circle cx="200.3" cy="1116.2" r="3.05"/><circle cx="200.6" cy="1126.4" r="3.05"/><circle cx="200.9" cy="1108.1" r="3.05"/><circle cx="201.2" cy="1113" r="3.05"/><circle cx="201.6" cy="1114.2" r="3.05"/><circle cx="201.9" cy="1103.9" r="3.05"/><circle cx="202.2" cy="1124.7" r="3.05"/><circle cx="202.6" cy="1115.4" r="3.05"/><circle cx="202.9" cy="1105.7" r="3.05"/><circle cx="203.2" cy="1128.8" r="3.05"/><circle cx="203.5" cy="1124.7" r="3.05"/><circle cx="203.9" cy="1099.2" r="3.05"/><circle cx="204.2" cy="1124.1" r="3.05"/><circle cx="204.5" cy="1114.4" r="3.05"/><circle cx="204.8" cy="1108.5" r="3.05"/><circle cx="205.2" cy="1099.7" r="3.05"/><circle cx="205.5" cy="1100.7" r="3.05"/><circle cx="205.8" cy="1117.7" r="3.05"/><circle cx="206.1" cy="1098.8" r="3.05"/><circle cx="206.5" cy="1103.7" r="3.05"/><circle cx="206.8" cy="1123.1" r="3.05"/><circle cx="207.1" cy="1118.5" r="3.05"/><circle cx="207.4" cy="1103.2" r="3.05"/><circle cx="207.8" cy="1125.4" r="3.05"/><circle cx="208.1" cy="1104.7" r="3.05"/><circle cx="208.4" cy="1112.3" r="3.05"/><circle cx="208.8" cy="1122.5" r="3.05"/><circle cx="209.1" cy="1119.4" r="3.05"/><circle cx="209.4" cy="1105.7" r="3.05"/><circle cx="209.7" cy="1123.5" r="3.05"/><circle cx="210.1" cy="1105.9" r="3.05"/><circle cx="210.4" cy="1106.3" r="3.05"/><circle cx="210.7" cy="1110" r="3.05"/><circle cx="211" cy="1105.8" r="3.05"/><circle cx="211.4" cy="1105.1" r="3.05"/><circle cx="211.7" cy="1111.2" r="3.05"/><circle cx="212" cy="1118.7" r="3.05"/><circle cx="212.3" cy="1097.8" r="3.05"/><circle cx="212.7" cy="1109.9" r="3.05"/><circle cx="213" cy="1112.9" r="3.05"/><circle cx="213.3" cy="1127.7" r="3.05"/><circle cx="213.7" cy="1110.8" r="3.05"/><circle cx="214" cy="1108.8" r="3.05"/><circle cx="214.3" cy="1109.9" r="3.05"/><circle cx="214.6" cy="1125" r="3.05"/><circle cx="215" cy="1134.5" r="3.05"/><circle cx="215.3" cy="1120.3" r="3.05"/><circle cx="215.6" cy="1115.1" r="3.05"/><circle cx="215.9" cy="1114.5" r="3.05"/><circle cx="216.3" cy="1138.5" r="3.05"/><circle cx="216.6" cy="1100.3" r="3.05"/><circle cx="216.9" cy="1102" r="3.05"/><circle cx="217.2" cy="1106.6" r="3.05"/><circle cx="217.6" cy="1112.2" r="3.05"/><circle cx="217.9" cy="1118.5" r="3.05"/><circle cx="218.2" cy="1105.5" r="3.05"/><circle cx="218.5" cy="1101.4" r="3.05"/><circle cx="218.9" cy="1107.8" r="3.05"/><circle cx="219.2" cy="1116.4" r="3.05"/><circle cx="219.5" cy="1123" r="3.05"/><circle cx="219.9" cy="1112.4" r="3.05"/><circle cx="220.2" cy="1119.4" r="3.05"/><circle cx="220.5" cy="1099.7" r="3.05"/><circle cx="220.8" cy="1110.8" r="3.05"/><circle cx="221.2" cy="1122" r="3.05"/><circle cx="221.5" cy="1119.2" r="3.05"/><circle cx="221.8" cy="1108.9" r="3.05"/><circle cx="222.1" cy="1111.4" r="3.05"/><circle cx="222.5" cy="1131.8" r="3.05"/><circle cx="222.8" cy="1101.7" r="3.05"/><circle cx="223.1" cy="1128.4" r="3.05"/><circle cx="223.4" cy="1119.6" r="3.05"/><circle cx="223.8" cy="1099.8" r="3.05"/><circle cx="224.1" cy="1122.7" r="3.05"/><circle cx="224.4" cy="1098.8" r="3.05"/><circle cx="224.8" cy="1117.4" r="3.05"/><circle cx="225.1" cy="1118" r="3.05"/><circle cx="225.4" cy="1107.1" r="3.05"/><circle cx="225.7" cy="1092.2" r="3.05"/><circle cx="226.1" cy="1115.3" r="3.05"/><circle cx="226.4" cy="1104.7" r="3.05"/><circle cx="226.7" cy="1136.2" r="3.05"/><circle cx="227" cy="1108.7" r="3.05"/><circle cx="227.4" cy="1120.5" r="3.05"/><circle cx="227.7" cy="1100.4" r="3.05"/><circle cx="228" cy="1123.2" r="3.05"/><circle cx="228.3" cy="1111.5" r="3.05"/><circle cx="228.7" cy="1113.5" r="3.05"/><circle cx="229" cy="1096.2" r="3.05"/><circle cx="229.3" cy="1115.1" r="3.05"/><circle cx="229.7" cy="1122.2" r="3.05"/><circle cx="230" cy="1114.8" r="3.05"/><circle cx="230.3" cy="1112.3" r="3.05"/><circle cx="230.6" cy="1111.8" r="3.05"/><circle cx="231" cy="1110" r="3.05"/><circle cx="231.3" cy="1094.6" r="3.05"/><circle cx="231.6" cy="1123.3" r="3.05"/><circle cx="231.9" cy="1100" r="3.05"/><circle cx="232.3" cy="1114" r="3.05"/><circle cx="232.6" cy="1121.8" r="3.05"/><circle cx="232.9" cy="1124.3" r="3.05"/><circle cx="233.2" cy="1113.9" r="3.05"/><circle cx="233.6" cy="1093.4" r="3.05"/><circle cx="233.9" cy="1112.6" r="3.05"/><circle cx="234.2" cy="1085.5" r="3.05"/><circle cx="234.5" cy="1118.4" r="3.05"/><circle cx="234.9" cy="1115.6" r="3.05"/><circle cx="235.2" cy="1121.2" r="3.05"/><circle cx="235.5" cy="1103.8" r="3.05"/><circle cx="235.9" cy="1116.2" r="3.05"/><circle cx="236.2" cy="1128.7" r="3.05"/><circle cx="236.5" cy="1101.2" r="3.05"/><circle cx="236.8" cy="1112.3" r="3.05"/><circle cx="237.2" cy="1115.4" r="3.05"/><circle cx="237.5" cy="1114.7" r="3.05"/><circle cx="237.8" cy="1120.2" r="3.05"/><circle cx="238.1" cy="1104.1" r="3.05"/><circle cx="238.5" cy="1109.3" r="3.05"/><circle cx="238.8" cy="1125.1" r="3.05"/><circle cx="239.1" cy="1098.7" r="3.05"/><circle cx="239.4" cy="1111.4" r="3.05"/><circle cx="239.8" cy="1096.8" r="3.05"/><circle cx="240.1" cy="1118.4" r="3.05"/><circle cx="240.4" cy="1109" r="3.05"/><circle cx="240.8" cy="1110.7" r="3.05"/><circle cx="241.1" cy="1109.1" r="3.05"/><circle cx="241.4" cy="1109.6" r="3.05"/><circle cx="241.7" cy="1112.9" r="3.05"/><circle cx="242.1" cy="1113.6" r="3.05"/><circle cx="242.4" cy="1103.4" r="3.05"/><circle cx="242.7" cy="1125.8" r="3.05"/><circle cx="243" cy="1124.1" r="3.05"/><circle cx="243.4" cy="1101.6" r="3.05"/><circle cx="243.7" cy="1100.7" r="3.05"/><circle cx="244" cy="1105.9" r="3.05"/><circle cx="244.3" cy="1095.6" r="3.05"/><circle cx="244.7" cy="1095.8" r="3.05"/><circle cx="245" cy="1109" r="3.05"/><circle cx="245.3" cy="1105.7" r="3.05"/><circle cx="245.6" cy="1109.8" r="3.05"/><circle cx="246" cy="1097.1" r="3.05"/><circle cx="246.3" cy="1101" r="3.05"/><circle cx="246.6" cy="1105" r="3.05"/><circle cx="247" cy="1116.9" r="3.05"/><circle cx="247.3" cy="1113.4" r="3.05"/><circle cx="247.6" cy="1107.2" r="3.05"/><circle cx="247.9" cy="1107.8" r="3.05"/><circle cx="248.3" cy="1110.4" r="3.05"/><circle cx="248.6" cy="1097.1" r="3.05"/><circle cx="248.9" cy="1118.6" r="3.05"/><circle cx="249.2" cy="1118.1" r="3.05"/><circle cx="249.6" cy="1097.1" r="3.05"/><circle cx="249.9" cy="1112.1" r="3.05"/><circle cx="250.2" cy="1125.3" r="3.05"/><circle cx="250.5" cy="1099.4" r="3.05"/><circle cx="250.9" cy="1104.9" r="3.05"/><circle cx="251.2" cy="1099.7" r="3.05"/><circle cx="251.5" cy="1107.7" r="3.05"/><circle cx="251.9" cy="1104.1" r="3.05"/><circle cx="252.2" cy="1116.4" r="3.05"/><circle cx="252.5" cy="1106.6" r="3.05"/><circle cx="252.8" cy="1113" r="3.05"/><circle cx="253.2" cy="1115" r="3.05"/><circle cx="253.5" cy="1120.4" r="3.05"/><circle cx="253.8" cy="1112.2" r="3.05"/><circle cx="254.1" cy="1122.3" r="3.05"/><circle cx="254.5" cy="1103" r="3.05"/><circle cx="254.8" cy="1119.9" r="3.05"/><circle cx="255.1" cy="1109.4" r="3.05"/><circle cx="255.4" cy="1115.1" r="3.05"/><circle cx="255.8" cy="1106.3" r="3.05"/><circle cx="256.1" cy="1105.6" r="3.05"/><circle cx="256.4" cy="1101.8" r="3.05"/><circle cx="256.8" cy="1110.3" r="3.05"/><circle cx="257.1" cy="1109.6" r="3.05"/><circle cx="257.4" cy="1097.1" r="3.05"/><circle cx="257.7" cy="1109.2" r="3.05"/><circle cx="258.1" cy="1094" r="3.05"/><circle cx="258.4" cy="1128.6" r="3.05"/><circle cx="258.7" cy="1118.9" r="3.05"/><circle cx="259" cy="1103.3" r="3.05"/><circle cx="259.4" cy="1104.1" r="3.05"/><circle cx="259.7" cy="1102.5" r="3.05"/><circle cx="260" cy="1116.2" r="3.05"/><circle cx="260.3" cy="1114.2" r="3.05"/><circle cx="260.7" cy="1107.1" r="3.05"/><circle cx="261" cy="1112.5" r="3.05"/><circle cx="261.3" cy="1100.5" r="3.05"/><circle cx="261.6" cy="1101.1" r="3.05"/><circle cx="262" cy="1119.5" r="3.05"/><circle cx="262.3" cy="1104.8" r="3.05"/><circle cx="262.6" cy="1093.7" r="3.05"/><circle cx="263" cy="1098.9" r="3.05"/><circle cx="263.3" cy="1111.4" r="3.05"/><circle cx="263.6" cy="1102.9" r="3.05"/><circle cx="263.9" cy="1096.8" r="3.05"/><circle cx="264.3" cy="1087.3" r="3.05"/><circle cx="264.6" cy="1102.1" r="3.05"/><circle cx="264.9" cy="1086.1" r="3.05"/><circle cx="265.2" cy="1106.2" r="3.05"/><circle cx="265.6" cy="1107.1" r="3.05"/><circle cx="265.9" cy="1095.1" r="3.05"/><circle cx="266.2" cy="1103.3" r="3.05"/><circle cx="266.5" cy="1079" r="3.05"/><circle cx="266.9" cy="1107.5" r="3.05"/><circle cx="267.2" cy="1094.8" r="3.05"/><circle cx="267.5" cy="1110.3" r="3.05"/><circle cx="267.9" cy="1092.5" r="3.05"/><circle cx="268.2" cy="1079" r="3.05"/><circle cx="268.5" cy="1092.3" r="3.05"/><circle cx="268.8" cy="1079.2" r="3.05"/><circle cx="269.2" cy="1095.8" r="3.05"/><circle cx="269.5" cy="1081.2" r="3.05"/><circle cx="269.8" cy="1095.6" r="3.05"/><circle cx="270.1" cy="1089.7" r="3.05"/><circle cx="270.5" cy="1082.7" r="3.05"/><circle cx="270.8" cy="1087" r="3.05"/><circle cx="271.1" cy="1082.7" r="3.05"/><circle cx="271.4" cy="1074.7" r="3.05"/><circle cx="271.8" cy="1059.9" r="3.05"/><circle cx="272.1" cy="1072.6" r="3.05"/><circle cx="272.4" cy="1066.2" r="3.05"/><circle cx="272.7" cy="1057.9" r="3.05"/><circle cx="273.1" cy="1064.5" r="3.05"/><circle cx="273.4" cy="1043.4" r="3.05"/><circle cx="273.7" cy="1041.2" r="3.05"/><circle cx="274.1" cy="1037.5" r="3.05"/><circle cx="274.4" cy="1035.2" r="3.05"/><circle cx="274.7" cy="1027.8" r="3.05"/><circle cx="275" cy="1026.8" r="3.05"/><circle cx="275.4" cy="1028" r="3.05"/><circle cx="275.7" cy="1018.1" r="3.05"/><circle cx="276" cy="1024.2" r="3.05"/><circle cx="276.3" cy="1026.2" r="3.05"/><circle cx="276.7" cy="1022.4" r="3.05"/><circle cx="277" cy="1032.3" r="3.05"/><circle cx="277.3" cy="1038.9" r="3.05"/><circle cx="277.6" cy="1040.2" r="3.05"/><circle cx="278" cy="1048.9" r="3.05"/><circle cx="278.3" cy="1053.6" r="3.05"/><circle cx="278.6" cy="1066.9" r="3.05"/><circle cx="279" cy="1058.4" r="3.05"/><circle cx="279.3" cy="1058.6" r="3.05"/><circle cx="279.6" cy="1065.5" r="3.05"/><circle cx="279.9" cy="1071.4" r="3.05"/><circle cx="280.3" cy="1079.4" r="3.05"/><circle cx="280.6" cy="1088.8" r="3.05"/><circle cx="280.9" cy="1077" r="3.05"/><circle cx="281.2" cy="1080.7" r="3.05"/><circle cx="281.6" cy="1083.2" r="3.05"/><circle cx="281.9" cy="1084.6" r="3.05"/><circle cx="282.2" cy="1094.7" r="3.05"/><circle cx="282.5" cy="1083.2" r="3.05"/><circle cx="282.9" cy="1098.6" r="3.05"/><circle cx="283.2" cy="1095.9" r="3.05"/><circle cx="283.5" cy="1101.1" r="3.05"/><circle cx="283.8" cy="1103.9" r="3.05"/><circle cx="284.2" cy="1105.3" r="3.05"/><circle cx="284.5" cy="1105.7" r="3.05"/><circle cx="284.8" cy="1101.9" r="3.05"/><circle cx="285.2" cy="1100.4" r="3.05"/><circle cx="285.5" cy="1091.5" r="3.05"/><circle cx="285.8" cy="1091.7" r="3.05"/><circle cx="286.1" cy="1105.7" r="3.05"/><circle cx="286.5" cy="1118.4" r="3.05"/><circle cx="286.8" cy="1097.7" r="3.05"/><circle cx="287.1" cy="1113" r="3.05"/><circle cx="287.4" cy="1098.1" r="3.05"/><circle cx="287.8" cy="1111.4" r="3.05"/><circle cx="288.1" cy="1104" r="3.05"/><circle cx="288.4" cy="1119.3" r="3.05"/><circle cx="288.7" cy="1124.3" r="3.05"/><circle cx="289.1" cy="1107.3" r="3.05"/><circle cx="289.4" cy="1118.8" r="3.05"/><circle cx="289.7" cy="1119.3" r="3.05"/><circle cx="290.1" cy="1118" r="3.05"/><circle cx="290.4" cy="1114.8" r="3.05"/><circle cx="290.7" cy="1103.8" r="3.05"/><circle cx="291" cy="1108.2" r="3.05"/><circle cx="291.4" cy="1110.3" r="3.05"/><circle cx="291.7" cy="1114.6" r="3.05"/><circle cx="292" cy="1106.9" r="3.05"/><circle cx="292.3" cy="1108.9" r="3.05"/><circle cx="292.7" cy="1102.1" r="3.05"/><circle cx="293" cy="1098.9" r="3.05"/><circle cx="293.3" cy="1129.9" r="3.05"/><circle cx="293.6" cy="1118.9" r="3.05"/><circle cx="294" cy="1113.3" r="3.05"/><circle cx="294.3" cy="1103.8" r="3.05"/><circle cx="294.6" cy="1114.5" r="3.05"/><circle cx="295" cy="1129.5" r="3.05"/><circle cx="295.3" cy="1106.5" r="3.05"/><circle cx="295.6" cy="1116.1" r="3.05"/><circle cx="295.9" cy="1124.3" r="3.05"/><circle cx="296.3" cy="1114.5" r="3.05"/><circle cx="296.6" cy="1119.1" r="3.05"/><circle cx="296.9" cy="1118.4" r="3.05"/><circle cx="297.2" cy="1116.7" r="3.05"/><circle cx="297.6" cy="1124" r="3.05"/><circle cx="297.9" cy="1094.9" r="3.05"/><circle cx="298.2" cy="1134.5" r="3.05"/><circle cx="298.5" cy="1100.3" r="3.05"/><circle cx="298.9" cy="1104.3" r="3.05"/><circle cx="299.2" cy="1107.2" r="3.05"/><circle cx="299.5" cy="1112.9" r="3.05"/><circle cx="299.8" cy="1095.8" r="3.05"/><circle cx="300.2" cy="1104.9" r="3.05"/><circle cx="300.5" cy="1107.6" r="3.05"/><circle cx="300.8" cy="1116.1" r="3.05"/><circle cx="301.2" cy="1091.1" r="3.05"/><circle cx="301.5" cy="1112.9" r="3.05"/><circle cx="301.8" cy="1128.4" r="3.05"/><circle cx="302.1" cy="1098.8" r="3.05"/><circle cx="302.5" cy="1117.8" r="3.05"/><circle cx="302.8" cy="1105.9" r="3.05"/><circle cx="303.1" cy="1103.9" r="3.05"/><circle cx="303.4" cy="1121.4" r="3.05"/><circle cx="303.8" cy="1127.3" r="3.05"/><circle cx="304.1" cy="1102.8" r="3.05"/><circle cx="304.4" cy="1101.2" r="3.05"/><circle cx="304.7" cy="1101" r="3.05"/><circle cx="305.1" cy="1110.3" r="3.05"/><circle cx="305.4" cy="1104.4" r="3.05"/><circle cx="305.7" cy="1102.1" r="3.05"/><circle cx="306.1" cy="1120.9" r="3.05"/><circle cx="306.4" cy="1110" r="3.05"/><circle cx="306.7" cy="1111" r="3.05"/><circle cx="307" cy="1101.5" r="3.05"/><circle cx="307.4" cy="1125.4" r="3.05"/><circle cx="307.7" cy="1085.2" r="3.05"/><circle cx="308" cy="1092.9" r="3.05"/><circle cx="308.3" cy="1096.1" r="3.05"/><circle cx="308.7" cy="1096.3" r="3.05"/><circle cx="309" cy="1100.9" r="3.05"/><circle cx="309.3" cy="1091.8" r="3.05"/><circle cx="309.6" cy="1090" r="3.05"/><circle cx="310" cy="1099.9" r="3.05"/><circle cx="310.3" cy="1102.8" r="3.05"/><circle cx="310.6" cy="1109.9" r="3.05"/><circle cx="310.9" cy="1082.4" r="3.05"/><circle cx="311.3" cy="1107.4" r="3.05"/><circle cx="311.6" cy="1073.3" r="3.05"/><circle cx="311.9" cy="1116.5" r="3.05"/><circle cx="312.3" cy="1091.5" r="3.05"/><circle cx="312.6" cy="1088.2" r="3.05"/><circle cx="312.9" cy="1094.1" r="3.05"/><circle cx="313.2" cy="1097.8" r="3.05"/><circle cx="313.6" cy="1092.2" r="3.05"/><circle cx="313.9" cy="1074.2" r="3.05"/><circle cx="314.2" cy="1081" r="3.05"/><circle cx="314.5" cy="1074.7" r="3.05"/><circle cx="314.9" cy="1077.2" r="3.05"/><circle cx="315.2" cy="1089.5" r="3.05"/><circle cx="315.5" cy="1068.9" r="3.05"/><circle cx="315.8" cy="1064.9" r="3.05"/><circle cx="316.2" cy="1062.3" r="3.05"/><circle cx="316.5" cy="1057.9" r="3.05"/><circle cx="316.8" cy="1038.8" r="3.05"/><circle cx="317.2" cy="1029.6" r="3.05"/><circle cx="317.5" cy="1023.3" r="3.05"/><circle cx="317.8" cy="1013.8" r="3.05"/><circle cx="318.1" cy="1021.7" r="3.05"/><circle cx="318.5" cy="1012.6" r="3.05"/><circle cx="318.8" cy="1002.6" r="3.05"/><circle cx="319.1" cy="992" r="3.05"/><circle cx="319.4" cy="982.9" r="3.05"/><circle cx="319.8" cy="970" r="3.05"/><circle cx="320.1" cy="970.2" r="3.05"/><circle cx="320.4" cy="955.5" r="3.05"/><circle cx="320.7" cy="952.5" r="3.05"/><circle cx="321.1" cy="944.5" r="3.05"/><circle cx="321.4" cy="938.1" r="3.05"/><circle cx="321.7" cy="938.5" r="3.05"/><circle cx="322.1" cy="939.7" r="3.05"/><circle cx="322.4" cy="943.6" r="3.05"/><circle cx="322.7" cy="947.6" r="3.05"/><circle cx="323" cy="955.8" r="3.05"/><circle cx="323.4" cy="962" r="3.05"/><circle cx="323.7" cy="971.2" r="3.05"/><circle cx="324" cy="989.9" r="3.05"/><circle cx="324.3" cy="989.2" r="3.05"/><circle cx="324.7" cy="1001" r="3.05"/><circle cx="325" cy="1000.2" r="3.05"/><circle cx="325.3" cy="1025.2" r="3.05"/><circle cx="325.6" cy="1035.8" r="3.05"/><circle cx="326" cy="1037.2" r="3.05"/><circle cx="326.3" cy="1042.7" r="3.05"/><circle cx="326.6" cy="1042.5" r="3.05"/><circle cx="326.9" cy="1051.2" r="3.05"/><circle cx="327.3" cy="1068.7" r="3.05"/><circle cx="327.6" cy="1063.3" r="3.05"/><circle cx="327.9" cy="1069.8" r="3.05"/><circle cx="328.3" cy="1088.2" r="3.05"/><circle cx="328.6" cy="1069.1" r="3.05"/><circle cx="328.9" cy="1066.2" r="3.05"/><circle cx="329.2" cy="1079.7" r="3.05"/><circle cx="329.6" cy="1087.4" r="3.05"/><circle cx="329.9" cy="1086.8" r="3.05"/><circle cx="330.2" cy="1078.4" r="3.05"/><circle cx="330.5" cy="1097.2" r="3.05"/><circle cx="330.9" cy="1089.7" r="3.05"/><circle cx="331.2" cy="1090.7" r="3.05"/><circle cx="331.5" cy="1089.6" r="3.05"/><circle cx="331.8" cy="1093.4" r="3.05"/><circle cx="332.2" cy="1088.9" r="3.05"/><circle cx="332.5" cy="1099.2" r="3.05"/><circle cx="332.8" cy="1100.1" r="3.05"/><circle cx="333.2" cy="1100.1" r="3.05"/><circle cx="333.5" cy="1093.1" r="3.05"/><circle cx="333.8" cy="1113.9" r="3.05"/><circle cx="334.1" cy="1083.9" r="3.05"/><circle cx="334.5" cy="1113.3" r="3.05"/><circle cx="334.8" cy="1081.3" r="3.05"/><circle cx="335.1" cy="1099.4" r="3.05"/><circle cx="335.4" cy="1105.5" r="3.05"/><circle cx="335.8" cy="1111.5" r="3.05"/><circle cx="336.1" cy="1106" r="3.05"/><circle cx="336.4" cy="1119.3" r="3.05"/><circle cx="336.7" cy="1111.8" r="3.05"/><circle cx="337.1" cy="1120.3" r="3.05"/><circle cx="337.4" cy="1103" r="3.05"/><circle cx="337.7" cy="1099.7" r="3.05"/><circle cx="338" cy="1119.1" r="3.05"/><circle cx="338.4" cy="1102" r="3.05"/><circle cx="338.7" cy="1114.5" r="3.05"/><circle cx="339" cy="1105.1" r="3.05"/><circle cx="339.4" cy="1127.9" r="3.05"/><circle cx="339.7" cy="1114.7" r="3.05"/><circle cx="340" cy="1123.3" r="3.05"/><circle cx="340.3" cy="1114.8" r="3.05"/><circle cx="340.7" cy="1117" r="3.05"/><circle cx="341" cy="1119.3" r="3.05"/><circle cx="341.3" cy="1101.3" r="3.05"/><circle cx="341.6" cy="1106" r="3.05"/><circle cx="342" cy="1118" r="3.05"/><circle cx="342.3" cy="1120.7" r="3.05"/><circle cx="342.6" cy="1119.5" r="3.05"/><circle cx="342.9" cy="1105.5" r="3.05"/><circle cx="343.3" cy="1118.5" r="3.05"/><circle cx="343.6" cy="1110.3" r="3.05"/><circle cx="343.9" cy="1118.9" r="3.05"/><circle cx="344.3" cy="1114.2" r="3.05"/><circle cx="344.6" cy="1106.7" r="3.05"/><circle cx="344.9" cy="1101" r="3.05"/><circle cx="345.2" cy="1113.9" r="3.05"/><circle cx="345.6" cy="1097" r="3.05"/><circle cx="345.9" cy="1120.9" r="3.05"/><circle cx="346.2" cy="1114.7" r="3.05"/><circle cx="346.5" cy="1120.3" r="3.05"/><circle cx="346.9" cy="1101.9" r="3.05"/><circle cx="347.2" cy="1122.6" r="3.05"/><circle cx="347.5" cy="1110.7" r="3.05"/><circle cx="347.8" cy="1111.8" r="3.05"/><circle cx="348.2" cy="1112.8" r="3.05"/><circle cx="348.5" cy="1129.7" r="3.05"/><circle cx="348.8" cy="1124.4" r="3.05"/><circle cx="349.1" cy="1114.5" r="3.05"/><circle cx="349.5" cy="1104.4" r="3.05"/><circle cx="349.8" cy="1110.7" r="3.05"/><circle cx="350.1" cy="1130.6" r="3.05"/><circle cx="350.5" cy="1135.9" r="3.05"/><circle cx="350.8" cy="1110.1" r="3.05"/><circle cx="351.1" cy="1120.6" r="3.05"/><circle cx="351.4" cy="1121.2" r="3.05"/><circle cx="351.8" cy="1112.6" r="3.05"/><circle cx="352.1" cy="1131.7" r="3.05"/><circle cx="352.4" cy="1125.2" r="3.05"/><circle cx="352.7" cy="1126.2" r="3.05"/><circle cx="353.1" cy="1119.4" r="3.05"/><circle cx="353.4" cy="1122.2" r="3.05"/><circle cx="353.7" cy="1124" r="3.05"/><circle cx="354" cy="1131.5" r="3.05"/><circle cx="354.4" cy="1128.4" r="3.05"/><circle cx="354.7" cy="1129.6" r="3.05"/><circle cx="355" cy="1131.5" r="3.05"/><circle cx="355.4" cy="1120.5" r="3.05"/><circle cx="355.7" cy="1132" r="3.05"/><circle cx="356" cy="1095.6" r="3.05"/><circle cx="356.3" cy="1118.6" r="3.05"/><circle cx="356.7" cy="1124.9" r="3.05"/><circle cx="357" cy="1124.1" r="3.05"/><circle cx="357.3" cy="1116.2" r="3.05"/><circle cx="357.6" cy="1121.8" r="3.05"/><circle cx="358" cy="1099.5" r="3.05"/><circle cx="358.3" cy="1132.1" r="3.05"/><circle cx="358.6" cy="1121.9" r="3.05"/><circle cx="358.9" cy="1123.1" r="3.05"/><circle cx="359.3" cy="1128.1" r="3.05"/><circle cx="359.6" cy="1115.4" r="3.05"/><circle cx="359.9" cy="1130.7" r="3.05"/><circle cx="360.3" cy="1124.8" r="3.05"/><circle cx="360.6" cy="1107.7" r="3.05"/><circle cx="360.9" cy="1113.5" r="3.05"/><circle cx="361.2" cy="1109.7" r="3.05"/><circle cx="361.6" cy="1109.8" r="3.05"/><circle cx="361.9" cy="1095.2" r="3.05"/><circle cx="362.2" cy="1100.6" r="3.05"/><circle cx="362.5" cy="1125.7" r="3.05"/><circle cx="362.9" cy="1118.9" r="3.05"/><circle cx="363.2" cy="1114.7" r="3.05"/><circle cx="363.5" cy="1106.5" r="3.05"/><circle cx="363.8" cy="1122" r="3.05"/><circle cx="364.2" cy="1121.4" r="3.05"/><circle cx="364.5" cy="1099.9" r="3.05"/><circle cx="364.8" cy="1128.6" r="3.05"/><circle cx="365.1" cy="1126.8" r="3.05"/><circle cx="365.5" cy="1120" r="3.05"/><circle cx="365.8" cy="1118.1" r="3.05"/><circle cx="366.1" cy="1125.4" r="3.05"/><circle cx="366.5" cy="1115.2" r="3.05"/><circle cx="366.8" cy="1122.5" r="3.05"/><circle cx="367.1" cy="1111.4" r="3.05"/><circle cx="367.4" cy="1124.8" r="3.05"/><circle cx="367.8" cy="1114.2" r="3.05"/><circle cx="368.1" cy="1116" r="3.05"/><circle cx="368.4" cy="1120.1" r="3.05"/><circle cx="368.7" cy="1116.7" r="3.05"/><circle cx="369.1" cy="1112.4" r="3.05"/><circle cx="369.4" cy="1126" r="3.05"/><circle cx="369.7" cy="1119.5" r="3.05"/><circle cx="370" cy="1133.9" r="3.05"/><circle cx="370.4" cy="1107.6" r="3.05"/><circle cx="370.7" cy="1116.4" r="3.05"/><circle cx="371" cy="1117.7" r="3.05"/><circle cx="371.4" cy="1110.7" r="3.05"/><circle cx="371.7" cy="1115.9" r="3.05"/><circle cx="372" cy="1123.9" r="3.05"/><circle cx="372.3" cy="1106.2" r="3.05"/><circle cx="372.7" cy="1131" r="3.05"/><circle cx="373" cy="1105.2" r="3.05"/><circle cx="373.3" cy="1105.3" r="3.05"/><circle cx="373.6" cy="1108.4" r="3.05"/><circle cx="374" cy="1120.6" r="3.05"/><circle cx="374.3" cy="1132.8" r="3.05"/><circle cx="374.6" cy="1119.5" r="3.05"/><circle cx="374.9" cy="1131.5" r="3.05"/><circle cx="375.3" cy="1120.9" r="3.05"/><circle cx="375.6" cy="1127.6" r="3.05"/><circle cx="375.9" cy="1123.3" r="3.05"/><circle cx="376.2" cy="1117.4" r="3.05"/><circle cx="376.6" cy="1140.4" r="3.05"/><circle cx="376.9" cy="1121.5" r="3.05"/><circle cx="377.2" cy="1128" r="3.05"/><circle cx="377.6" cy="1106" r="3.05"/><circle cx="377.9" cy="1119.2" r="3.05"/><circle cx="378.2" cy="1103.9" r="3.05"/><circle cx="378.5" cy="1120.1" r="3.05"/><circle cx="378.9" cy="1096.2" r="3.05"/><circle cx="379.2" cy="1124.1" r="3.05"/><circle cx="379.5" cy="1097.3" r="3.05"/><circle cx="379.8" cy="1103.1" r="3.05"/><circle cx="380.2" cy="1117.6" r="3.05"/><circle cx="380.5" cy="1104.4" r="3.05"/><circle cx="380.8" cy="1111.1" r="3.05"/><circle cx="381.1" cy="1122" r="3.05"/><circle cx="381.5" cy="1128.5" r="3.05"/><circle cx="381.8" cy="1113.5" r="3.05"/><circle cx="382.1" cy="1099" r="3.05"/><circle cx="382.5" cy="1125.2" r="3.05"/><circle cx="382.8" cy="1113.7" r="3.05"/><circle cx="383.1" cy="1125.9" r="3.05"/><circle cx="383.4" cy="1129.9" r="3.05"/><circle cx="383.8" cy="1118.4" r="3.05"/><circle cx="384.1" cy="1142.8" r="3.05"/><circle cx="384.4" cy="1122.8" r="3.05"/><circle cx="384.7" cy="1123" r="3.05"/><circle cx="385.1" cy="1123.2" r="3.05"/><circle cx="385.4" cy="1122.8" r="3.05"/><circle cx="385.7" cy="1106.7" r="3.05"/><circle cx="386" cy="1134.9" r="3.05"/><circle cx="386.4" cy="1117.9" r="3.05"/><circle cx="386.7" cy="1116.5" r="3.05"/><circle cx="387" cy="1121.2" r="3.05"/><circle cx="387.4" cy="1136.5" r="3.05"/><circle cx="387.7" cy="1120.5" r="3.05"/><circle cx="388" cy="1130.9" r="3.05"/><circle cx="388.3" cy="1100.2" r="3.05"/><circle cx="388.7" cy="1120.1" r="3.05"/><circle cx="389" cy="1129.1" r="3.05"/><circle cx="389.3" cy="1123" r="3.05"/><circle cx="389.6" cy="1135.3" r="3.05"/><circle cx="390" cy="1130.9" r="3.05"/><circle cx="390.3" cy="1122.9" r="3.05"/><circle cx="390.6" cy="1130.1" r="3.05"/><circle cx="390.9" cy="1128.7" r="3.05"/><circle cx="391.3" cy="1122.7" r="3.05"/><circle cx="391.6" cy="1136.1" r="3.05"/><circle cx="391.9" cy="1117.2" r="3.05"/><circle cx="392.2" cy="1116.8" r="3.05"/><circle cx="392.6" cy="1118.3" r="3.05"/><circle cx="392.9" cy="1111.7" r="3.05"/><circle cx="393.2" cy="1128.8" r="3.05"/><circle cx="393.6" cy="1107.7" r="3.05"/><circle cx="393.9" cy="1129.5" r="3.05"/><circle cx="394.2" cy="1118.6" r="3.05"/><circle cx="394.5" cy="1109.3" r="3.05"/><circle cx="394.9" cy="1109.7" r="3.05"/><circle cx="395.2" cy="1117.2" r="3.05"/><circle cx="395.5" cy="1111.2" r="3.05"/><circle cx="395.8" cy="1123.4" r="3.05"/><circle cx="396.2" cy="1136.5" r="3.05"/><circle cx="396.5" cy="1110.5" r="3.05"/><circle cx="396.8" cy="1103.3" r="3.05"/><circle cx="397.1" cy="1114.6" r="3.05"/><circle cx="397.5" cy="1124.2" r="3.05"/><circle cx="397.8" cy="1121.5" r="3.05"/><circle cx="398.1" cy="1109.8" r="3.05"/><circle cx="398.5" cy="1128.7" r="3.05"/><circle cx="398.8" cy="1135.5" r="3.05"/><circle cx="399.1" cy="1121.4" r="3.05"/><circle cx="399.4" cy="1111.3" r="3.05"/><circle cx="399.8" cy="1108.4" r="3.05"/><circle cx="400.1" cy="1113" r="3.05"/><circle cx="400.4" cy="1121" r="3.05"/><circle cx="400.7" cy="1117.6" r="3.05"/><circle cx="401.1" cy="1121" r="3.05"/><circle cx="401.4" cy="1110.8" r="3.05"/><circle cx="401.7" cy="1122.1" r="3.05"/><circle cx="402" cy="1125.1" r="3.05"/><circle cx="402.4" cy="1107.3" r="3.05"/><circle cx="402.7" cy="1123.2" r="3.05"/><circle cx="403" cy="1120.6" r="3.05"/><circle cx="403.3" cy="1136.4" r="3.05"/><circle cx="403.7" cy="1116.2" r="3.05"/><circle cx="404" cy="1115.8" r="3.05"/><circle cx="404.3" cy="1127.6" r="3.05"/><circle cx="404.7" cy="1105.7" r="3.05"/><circle cx="405" cy="1120.4" r="3.05"/><circle cx="405.3" cy="1098.2" r="3.05"/><circle cx="405.6" cy="1130.4" r="3.05"/><circle cx="406" cy="1126.5" r="3.05"/><circle cx="406.3" cy="1115" r="3.05"/><circle cx="406.6" cy="1133.6" r="3.05"/><circle cx="406.9" cy="1111.6" r="3.05"/><circle cx="407.3" cy="1117.4" r="3.05"/><circle cx="407.6" cy="1126" r="3.05"/><circle cx="407.9" cy="1133.1" r="3.05"/><circle cx="408.2" cy="1125.6" r="3.05"/><circle cx="408.6" cy="1125.4" r="3.05"/><circle cx="408.9" cy="1118.4" r="3.05"/><circle cx="409.2" cy="1136.1" r="3.05"/><circle cx="409.6" cy="1110.5" r="3.05"/><circle cx="409.9" cy="1105.6" r="3.05"/><circle cx="410.2" cy="1117.5" r="3.05"/><circle cx="410.5" cy="1116" r="3.05"/><circle cx="410.9" cy="1105.3" r="3.05"/><circle cx="411.2" cy="1127.9" r="3.05"/><circle cx="411.5" cy="1118.5" r="3.05"/><circle cx="411.8" cy="1102.2" r="3.05"/><circle cx="412.2" cy="1111.3" r="3.05"/><circle cx="412.5" cy="1100" r="3.05"/><circle cx="412.8" cy="1124.2" r="3.05"/><circle cx="413.1" cy="1107.2" r="3.05"/><circle cx="413.5" cy="1124.3" r="3.05"/><circle cx="413.8" cy="1111.2" r="3.05"/><circle cx="414.1" cy="1097.7" r="3.05"/><circle cx="414.4" cy="1134.3" r="3.05"/><circle cx="414.8" cy="1094.9" r="3.05"/><circle cx="415.1" cy="1126" r="3.05"/><circle cx="415.4" cy="1111" r="3.05"/><circle cx="415.8" cy="1115.9" r="3.05"/><circle cx="416.1" cy="1104.2" r="3.05"/><circle cx="416.4" cy="1116.6" r="3.05"/><circle cx="416.7" cy="1103.8" r="3.05"/><circle cx="417.1" cy="1123.7" r="3.05"/><circle cx="417.4" cy="1113.8" r="3.05"/><circle cx="417.7" cy="1094.2" r="3.05"/><circle cx="418" cy="1132.8" r="3.05"/><circle cx="418.4" cy="1131.2" r="3.05"/><circle cx="418.7" cy="1112.6" r="3.05"/><circle cx="419" cy="1106" r="3.05"/><circle cx="419.3" cy="1113.2" r="3.05"/><circle cx="419.7" cy="1116.7" r="3.05"/><circle cx="420" cy="1110.9" r="3.05"/><circle cx="420.3" cy="1120.4" r="3.05"/><circle cx="420.7" cy="1127.5" r="3.05"/><circle cx="421" cy="1117.2" r="3.05"/><circle cx="421.3" cy="1123.5" r="3.05"/><circle cx="421.6" cy="1096.3" r="3.05"/><circle cx="422" cy="1115.2" r="3.05"/><circle cx="422.3" cy="1123.2" r="3.05"/><circle cx="422.6" cy="1120.6" r="3.05"/><circle cx="422.9" cy="1127.6" r="3.05"/><circle cx="423.3" cy="1130" r="3.05"/><circle cx="423.6" cy="1106.7" r="3.05"/><circle cx="423.9" cy="1116.8" r="3.05"/><circle cx="424.2" cy="1123.9" r="3.05"/><circle cx="424.6" cy="1114" r="3.05"/><circle cx="424.9" cy="1136.9" r="3.05"/><circle cx="425.2" cy="1122.8" r="3.05"/><circle cx="425.6" cy="1128.1" r="3.05"/><circle cx="425.9" cy="1113.9" r="3.05"/><circle cx="426.2" cy="1107.1" r="3.05"/><circle cx="426.5" cy="1113.1" r="3.05"/><circle cx="426.9" cy="1122" r="3.05"/><circle cx="427.2" cy="1102.1" r="3.05"/><circle cx="427.5" cy="1111.9" r="3.05"/><circle cx="427.8" cy="1113.2" r="3.05"/><circle cx="428.2" cy="1112.9" r="3.05"/><circle cx="428.5" cy="1129.7" r="3.05"/><circle cx="428.8" cy="1107.3" r="3.05"/><circle cx="429.1" cy="1110.5" r="3.05"/><circle cx="429.5" cy="1106.1" r="3.05"/><circle cx="429.8" cy="1120.2" r="3.05"/><circle cx="430.1" cy="1113.1" r="3.05"/><circle cx="430.4" cy="1125.1" r="3.05"/><circle cx="430.8" cy="1127.8" r="3.05"/><circle cx="431.1" cy="1125.7" r="3.05"/><circle cx="431.4" cy="1112.7" r="3.05"/><circle cx="431.8" cy="1136.1" r="3.05"/><circle cx="432.1" cy="1121.3" r="3.05"/><circle cx="432.4" cy="1120.9" r="3.05"/><circle cx="432.7" cy="1101.2" r="3.05"/><circle cx="433.1" cy="1116.6" r="3.05"/><circle cx="433.4" cy="1118.2" r="3.05"/><circle cx="433.7" cy="1121.4" r="3.05"/><circle cx="434" cy="1132" r="3.05"/><circle cx="434.4" cy="1118.1" r="3.05"/><circle cx="434.7" cy="1108" r="3.05"/><circle cx="435" cy="1115.4" r="3.05"/><circle cx="435.3" cy="1137.8" r="3.05"/><circle cx="435.7" cy="1102.4" r="3.05"/><circle cx="436" cy="1119.1" r="3.05"/><circle cx="436.3" cy="1118.6" r="3.05"/><circle cx="436.7" cy="1121.9" r="3.05"/><circle cx="437" cy="1091.8" r="3.05"/><circle cx="437.3" cy="1121.9" r="3.05"/><circle cx="437.6" cy="1128" r="3.05"/><circle cx="438" cy="1131.5" r="3.05"/><circle cx="438.3" cy="1093.7" r="3.05"/><circle cx="438.6" cy="1115.5" r="3.05"/><circle cx="438.9" cy="1113.4" r="3.05"/><circle cx="439.3" cy="1122.1" r="3.05"/><circle cx="439.6" cy="1111" r="3.05"/><circle cx="439.9" cy="1116.8" r="3.05"/><circle cx="440.2" cy="1117.4" r="3.05"/><circle cx="440.6" cy="1125.4" r="3.05"/><circle cx="440.9" cy="1110.7" r="3.05"/><circle cx="441.2" cy="1110" r="3.05"/><circle cx="441.5" cy="1143.1" r="3.05"/><circle cx="441.9" cy="1115.6" r="3.05"/><circle cx="442.2" cy="1130.7" r="3.05"/><circle cx="442.5" cy="1128.4" r="3.05"/><circle cx="442.9" cy="1116" r="3.05"/><circle cx="443.2" cy="1123.8" r="3.05"/><circle cx="443.5" cy="1110.8" r="3.05"/><circle cx="443.8" cy="1110.9" r="3.05"/><circle cx="444.2" cy="1111.9" r="3.05"/><circle cx="444.5" cy="1118.2" r="3.05"/><circle cx="444.8" cy="1104.9" r="3.05"/><circle cx="445.1" cy="1110.2" r="3.05"/><circle cx="445.5" cy="1111.5" r="3.05"/><circle cx="445.8" cy="1143.5" r="3.05"/><circle cx="446.1" cy="1109.2" r="3.05"/><circle cx="446.4" cy="1115.2" r="3.05"/><circle cx="446.8" cy="1105.7" r="3.05"/><circle cx="447.1" cy="1099.5" r="3.05"/><circle cx="447.4" cy="1115.5" r="3.05"/><circle cx="447.8" cy="1124.5" r="3.05"/><circle cx="448.1" cy="1115.2" r="3.05"/><circle cx="448.4" cy="1113.9" r="3.05"/><circle cx="448.7" cy="1113.2" r="3.05"/><circle cx="449.1" cy="1113.1" r="3.05"/><circle cx="449.4" cy="1121.6" r="3.05"/><circle cx="449.7" cy="1139.1" r="3.05"/><circle cx="450" cy="1127.6" r="3.05"/><circle cx="450.4" cy="1108.6" r="3.05"/><circle cx="450.7" cy="1112.3" r="3.05"/><circle cx="451" cy="1115.1" r="3.05"/><circle cx="451.3" cy="1125.6" r="3.05"/><circle cx="451.7" cy="1130.8" r="3.05"/><circle cx="452" cy="1120.9" r="3.05"/><circle cx="452.3" cy="1106.6" r="3.05"/><circle cx="452.7" cy="1117" r="3.05"/><circle cx="453" cy="1104.1" r="3.05"/><circle cx="453.3" cy="1116" r="3.05"/><circle cx="453.6" cy="1119.7" r="3.05"/><circle cx="454" cy="1104.7" r="3.05"/><circle cx="454.3" cy="1124.8" r="3.05"/><circle cx="454.6" cy="1118.4" r="3.05"/><circle cx="454.9" cy="1114.2" r="3.05"/><circle cx="455.3" cy="1122" r="3.05"/><circle cx="455.6" cy="1119" r="3.05"/><circle cx="455.9" cy="1121.8" r="3.05"/><circle cx="456.2" cy="1123.8" r="3.05"/><circle cx="456.6" cy="1116.9" r="3.05"/><circle cx="456.9" cy="1120" r="3.05"/><circle cx="457.2" cy="1099.9" r="3.05"/><circle cx="457.5" cy="1118.1" r="3.05"/><circle cx="457.9" cy="1097.5" r="3.05"/><circle cx="458.2" cy="1108" r="3.05"/><circle cx="458.5" cy="1122.2" r="3.05"/><circle cx="458.9" cy="1108.6" r="3.05"/><circle cx="459.2" cy="1115.6" r="3.05"/><circle cx="459.5" cy="1112.4" r="3.05"/><circle cx="459.8" cy="1132.4" r="3.05"/><circle cx="460.2" cy="1110.7" r="3.05"/><circle cx="460.5" cy="1130.7" r="3.05"/><circle cx="460.8" cy="1102.3" r="3.05"/><circle cx="461.1" cy="1100.6" r="3.05"/><circle cx="461.5" cy="1110.4" r="3.05"/><circle cx="461.8" cy="1119" r="3.05"/><circle cx="462.1" cy="1137.2" r="3.05"/><circle cx="462.4" cy="1113.6" r="3.05"/><circle cx="462.8" cy="1104" r="3.05"/><circle cx="463.1" cy="1109.4" r="3.05"/><circle cx="463.4" cy="1102.1" r="3.05"/><circle cx="463.8" cy="1102.6" r="3.05"/><circle cx="464.1" cy="1100.5" r="3.05"/><circle cx="464.4" cy="1100.5" r="3.05"/><circle cx="464.7" cy="1112" r="3.05"/><circle cx="465.1" cy="1117.1" r="3.05"/><circle cx="465.4" cy="1118.2" r="3.05"/><circle cx="465.7" cy="1092.4" r="3.05"/><circle cx="466" cy="1105.8" r="3.05"/><circle cx="466.4" cy="1104.7" r="3.05"/><circle cx="466.7" cy="1116.2" r="3.05"/><circle cx="467" cy="1108.8" r="3.05"/><circle cx="467.3" cy="1099.6" r="3.05"/><circle cx="467.7" cy="1104.5" r="3.05"/><circle cx="468" cy="1100.3" r="3.05"/><circle cx="468.3" cy="1088" r="3.05"/><circle cx="468.6" cy="1080.9" r="3.05"/><circle cx="469" cy="1077.3" r="3.05"/><circle cx="469.3" cy="1089.8" r="3.05"/><circle cx="469.6" cy="1095.8" r="3.05"/><circle cx="470" cy="1087.2" r="3.05"/><circle cx="470.3" cy="1084.4" r="3.05"/><circle cx="470.6" cy="1073.5" r="3.05"/><circle cx="470.9" cy="1083.7" r="3.05"/><circle cx="471.3" cy="1068.7" r="3.05"/><circle cx="471.6" cy="1080.1" r="3.05"/><circle cx="471.9" cy="1070.1" r="3.05"/><circle cx="472.2" cy="1064.2" r="3.05"/><circle cx="472.6" cy="1052.7" r="3.05"/><circle cx="472.9" cy="1053.7" r="3.05"/><circle cx="473.2" cy="1047" r="3.05"/><circle cx="473.5" cy="1035.3" r="3.05"/><circle cx="473.9" cy="1041.2" r="3.05"/><circle cx="474.2" cy="1031.4" r="3.05"/><circle cx="474.5" cy="1032" r="3.05"/><circle cx="474.9" cy="1029.4" r="3.05"/><circle cx="475.2" cy="1027.2" r="3.05"/><circle cx="475.5" cy="1034.5" r="3.05"/><circle cx="475.8" cy="1035.1" r="3.05"/><circle cx="476.2" cy="1041.4" r="3.05"/><circle cx="476.5" cy="1040.7" r="3.05"/><circle cx="476.8" cy="1053.2" r="3.05"/><circle cx="477.1" cy="1055.9" r="3.05"/><circle cx="477.5" cy="1050.2" r="3.05"/><circle cx="477.8" cy="1054.4" r="3.05"/><circle cx="478.1" cy="1070.9" r="3.05"/><circle cx="478.4" cy="1069.4" r="3.05"/><circle cx="478.8" cy="1067.5" r="3.05"/><circle cx="479.1" cy="1080.7" r="3.05"/><circle cx="479.4" cy="1078.7" r="3.05"/><circle cx="479.7" cy="1089.1" r="3.05"/><circle cx="480.1" cy="1089.6" r="3.05"/><circle cx="480.4" cy="1089.1" r="3.05"/><circle cx="480.7" cy="1089" r="3.05"/><circle cx="481.1" cy="1086.3" r="3.05"/><circle cx="481.4" cy="1078.7" r="3.05"/><circle cx="481.7" cy="1094.5" r="3.05"/><circle cx="482" cy="1105.6" r="3.05"/><circle cx="482.4" cy="1104.3" r="3.05"/><circle cx="482.7" cy="1102.3" r="3.05"/><circle cx="483" cy="1104.2" r="3.05"/><circle cx="483.3" cy="1113.9" r="3.05"/><circle cx="483.7" cy="1096.1" r="3.05"/><circle cx="484" cy="1122.7" r="3.05"/><circle cx="484.3" cy="1113.6" r="3.05"/><circle cx="484.6" cy="1104.7" r="3.05"/><circle cx="485" cy="1115" r="3.05"/><circle cx="485.3" cy="1128" r="3.05"/><circle cx="485.6" cy="1097" r="3.05"/><circle cx="486" cy="1107.1" r="3.05"/><circle cx="486.3" cy="1097.8" r="3.05"/><circle cx="486.6" cy="1106.2" r="3.05"/><circle cx="486.9" cy="1113.7" r="3.05"/><circle cx="487.3" cy="1104.2" r="3.05"/><circle cx="487.6" cy="1096.4" r="3.05"/><circle cx="487.9" cy="1112.4" r="3.05"/><circle cx="488.2" cy="1102.5" r="3.05"/><circle cx="488.6" cy="1102.3" r="3.05"/><circle cx="488.9" cy="1119.3" r="3.05"/><circle cx="489.2" cy="1115.8" r="3.05"/><circle cx="489.5" cy="1109" r="3.05"/><circle cx="489.9" cy="1129.3" r="3.05"/><circle cx="490.2" cy="1124.2" r="3.05"/><circle cx="490.5" cy="1111.4" r="3.05"/><circle cx="490.9" cy="1122.3" r="3.05"/><circle cx="491.2" cy="1110.7" r="3.05"/><circle cx="491.5" cy="1113" r="3.05"/><circle cx="491.8" cy="1122.4" r="3.05"/><circle cx="492.2" cy="1108.2" r="3.05"/><circle cx="492.5" cy="1127.7" r="3.05"/><circle cx="492.8" cy="1107.1" r="3.05"/><circle cx="493.1" cy="1114.6" r="3.05"/><circle cx="493.5" cy="1132" r="3.05"/><circle cx="493.8" cy="1098" r="3.05"/><circle cx="494.1" cy="1104.4" r="3.05"/><circle cx="494.4" cy="1113.9" r="3.05"/><circle cx="494.8" cy="1106" r="3.05"/><circle cx="495.1" cy="1108.1" r="3.05"/><circle cx="495.4" cy="1123.3" r="3.05"/><circle cx="495.7" cy="1114" r="3.05"/><circle cx="496.1" cy="1098.5" r="3.05"/><circle cx="496.4" cy="1100.6" r="3.05"/><circle cx="496.7" cy="1117.1" r="3.05"/><circle cx="497.1" cy="1119.2" r="3.05"/><circle cx="497.4" cy="1127.9" r="3.05"/><circle cx="497.7" cy="1122.2" r="3.05"/><circle cx="498" cy="1109.3" r="3.05"/><circle cx="498.4" cy="1116.5" r="3.05"/><circle cx="498.7" cy="1117.8" r="3.05"/><circle cx="499" cy="1125.5" r="3.05"/><circle cx="499.3" cy="1119.6" r="3.05"/><circle cx="499.7" cy="1119.1" r="3.05"/><circle cx="500" cy="1104.2" r="3.05"/><circle cx="500.3" cy="1112.2" r="3.05"/><circle cx="500.6" cy="1102.6" r="3.05"/><circle cx="501" cy="1111.2" r="3.05"/><circle cx="501.3" cy="1114.8" r="3.05"/><circle cx="501.6" cy="1099" r="3.05"/><circle cx="502" cy="1109.6" r="3.05"/><circle cx="502.3" cy="1114.7" r="3.05"/><circle cx="502.6" cy="1127.3" r="3.05"/><circle cx="502.9" cy="1121" r="3.05"/><circle cx="503.3" cy="1123.4" r="3.05"/><circle cx="503.6" cy="1113.7" r="3.05"/><circle cx="503.9" cy="1102.2" r="3.05"/><circle cx="504.2" cy="1104.6" r="3.05"/><circle cx="504.6" cy="1122.1" r="3.05"/><circle cx="504.9" cy="1093.4" r="3.05"/><circle cx="505.2" cy="1121" r="3.05"/><circle cx="505.5" cy="1112" r="3.05"/><circle cx="505.9" cy="1117.9" r="3.05"/><circle cx="506.2" cy="1130.1" r="3.05"/><circle cx="506.5" cy="1122.6" r="3.05"/><circle cx="506.8" cy="1125.1" r="3.05"/><circle cx="507.2" cy="1122.8" r="3.05"/><circle cx="507.5" cy="1123.4" r="3.05"/><circle cx="507.8" cy="1123.5" r="3.05"/><circle cx="508.2" cy="1139.8" r="3.05"/><circle cx="508.5" cy="1120.8" r="3.05"/><circle cx="508.8" cy="1133.5" r="3.05"/><circle cx="509.1" cy="1114.4" r="3.05"/><circle cx="509.5" cy="1127.8" r="3.05"/><circle cx="509.8" cy="1131.4" r="3.05"/><circle cx="510.1" cy="1122.6" r="3.05"/><circle cx="510.4" cy="1123" r="3.05"/><circle cx="510.8" cy="1102.3" r="3.05"/><circle cx="511.1" cy="1115.2" r="3.05"/><circle cx="511.4" cy="1115.8" r="3.05"/><circle cx="511.7" cy="1127.6" r="3.05"/><circle cx="512.1" cy="1113.8" r="3.05"/><circle cx="512.4" cy="1118.7" r="3.05"/><circle cx="512.7" cy="1116.5" r="3.05"/><circle cx="513.1" cy="1105.8" r="3.05"/><circle cx="513.4" cy="1118.6" r="3.05"/><circle cx="513.7" cy="1112.4" r="3.05"/><circle cx="514" cy="1107.3" r="3.05"/><circle cx="514.4" cy="1125" r="3.05"/><circle cx="514.7" cy="1112.8" r="3.05"/><circle cx="515" cy="1122.1" r="3.05"/><circle cx="515.3" cy="1110.1" r="3.05"/><circle cx="515.7" cy="1125.3" r="3.05"/><circle cx="516" cy="1119.1" r="3.05"/><circle cx="516.3" cy="1123.4" r="3.05"/><circle cx="516.6" cy="1116.2" r="3.05"/><circle cx="517" cy="1119.6" r="3.05"/><circle cx="517.3" cy="1125.8" r="3.05"/><circle cx="517.6" cy="1112.3" r="3.05"/><circle cx="518" cy="1125.2" r="3.05"/></g><polyline class="fitC" points="93.5,1120.6 93.8,1120.7 94.2,1120.8 94.5,1120.8 94.8,1120.9 95.1,1121 95.5,1121.1 95.8,1121.1 96.1,1121.2 96.4,1121.3 96.8,1121.3 97.1,1121.4 97.4,1121.5 97.7,1121.5 98.1,1121.6 98.4,1121.7 98.7,1121.7 99.1,1121.8 99.4,1121.9 99.7,1121.9 100,1122 100.4,1122.1 100.7,1122.1 101,1122.2 101.3,1122.3 101.7,1122.3 102,1122.4 102.3,1122.5 102.6,1122.6 103,1122.6 103.3,1122.7 103.6,1122.8 103.9,1122.8 104.3,1122.9 104.6,1123 104.9,1123 105.3,1123.1 105.6,1123.2 105.9,1123.2 106.2,1123.3 106.6,1123.4 106.9,1123.4 107.2,1123.5 107.5,1123.6 107.9,1123.6 108.2,1123.7 108.5,1123.8 108.8,1123.8 109.2,1123.9 109.5,1124 109.8,1124.1 110.2,1124.1 110.5,1124.2 110.8,1124.3 111.1,1124.3 111.5,1124.4 111.8,1124.5 112.1,1124.5 112.4,1124.6 112.8,1124.7 113.1,1124.7 113.4,1124.8 113.7,1124.9 114.1,1124.9 114.4,1125 114.7,1125.1 115,1125.1 115.4,1125.2 115.7,1125.3 116,1125.2 116.4,1125.2 116.7,1125.1 117,1125.1 117.3,1125 117.7,1124.9 118,1124.9 118.3,1124.8 118.6,1124.8 119,1124.7 119.3,1124.7 119.6,1124.6 119.9,1124.6 120.3,1124.5 120.6,1124.5 120.9,1124.4 121.3,1124.3 121.6,1124.3 121.9,1124.2 122.2,1124.2 122.6,1124.1 122.9,1124.1 123.2,1124 123.5,1124 123.9,1123.9 124.2,1123.9 124.5,1123.8 124.8,1123.7 125.2,1123.7 125.5,1123.6 125.8,1123.6 126.2,1123.5 126.5,1123.5 126.8,1123.4 127.1,1123.4 127.5,1123.3 127.8,1123.3 128.1,1123.2 128.4,1123.1 128.8,1123.1 129.1,1123 129.4,1123 129.7,1122.9 130.1,1122.9 130.4,1122.8 130.7,1122.8 131,1122.7 131.4,1122.6 131.7,1122.6 132,1122.5 132.4,1122.5 132.7,1122.4 133,1122.4 133.3,1122.3 133.7,1122.3 134,1122.2 134.3,1122.2 134.6,1122.1 135,1122 135.3,1122 135.6,1121.9 135.9,1121.9 136.3,1121.8 136.6,1121.8 136.9,1121.7 137.3,1121.7 137.6,1121.6 137.9,1121.6 138.2,1121.5 138.6,1121.4 138.9,1121.4 139.2,1121.3 139.5,1121.3 139.9,1121.2 140.2,1121.2 140.5,1121.1 140.8,1121.1 141.2,1121 141.5,1120.9 141.8,1120.9 142.1,1120.8 142.5,1120.8 142.8,1120.7 143.1,1120.7 143.5,1120.6 143.8,1120.6 144.1,1120.5 144.4,1120.5 144.8,1120.4 145.1,1120.3 145.4,1120.3 145.7,1120.2 146.1,1120.2 146.4,1120.1 146.7,1120.1 147,1120 147.4,1120 147.7,1119.9 148,1119.8 148.4,1119.8 148.7,1119.7 149,1119.7 149.3,1119.6 149.7,1119.6 150,1119.5 150.3,1119.5 150.6,1119.4 151,1119.4 151.3,1119.3 151.6,1119.2 151.9,1119.2 152.3,1119.1 152.6,1119.1 152.9,1119 153.2,1119 153.6,1118.9 153.9,1118.9 154.2,1118.8 154.6,1118.7 154.9,1118.7 155.2,1118.6 155.5,1118.6 155.9,1118.5 156.2,1118.5 156.5,1118.4 156.8,1118.4 157.2,1118.3 157.5,1118.2 157.8,1118.2 158.1,1118.1 158.5,1118.1 158.8,1118 159.1,1118 159.5,1117.9 159.8,1117.9 160.1,1117.9 160.4,1117.8 160.8,1117.8 161.1,1117.7 161.4,1117.7 161.7,1117.6 162.1,1117.6 162.4,1117.5 162.7,1117.5 163,1117.5 163.4,1117.4 163.7,1117.4 164,1117.3 164.4,1117.3 164.7,1117.2 165,1117.2 165.3,1117.1 165.7,1117.1 166,1117.1 166.3,1117 166.6,1117 167,1116.9 167.3,1116.9 167.6,1116.8 167.9,1116.8 168.3,1116.8 168.6,1116.7 168.9,1116.7 169.2,1116.6 169.6,1116.6 169.9,1116.5 170.2,1116.5 170.6,1116.4 170.9,1116.4 171.2,1116.4 171.5,1116.3 171.9,1116.3 172.2,1116.2 172.5,1116.2 172.8,1116.1 173.2,1116.1 173.5,1116 173.8,1116 174.1,1116 174.5,1115.9 174.8,1115.9 175.1,1115.8 175.5,1115.8 175.8,1115.7 176.1,1115.7 176.4,1115.6 176.8,1115.6 177.1,1115.6 177.4,1115.5 177.7,1115.5 178.1,1115.4 178.4,1115.4 178.7,1115.3 179,1115.3 179.4,1115.2 179.7,1115.2 180,1115.2 180.3,1115.1 180.7,1115.1 181,1115 181.3,1115 181.7,1114.9 182,1114.9 182.3,1114.8 182.6,1114.8 183,1114.8 183.3,1114.7 183.6,1114.7 183.9,1114.6 184.3,1114.6 184.6,1114.5 184.9,1114.5 185.2,1114.4 185.6,1114.4 185.9,1114.4 186.2,1114.3 186.6,1114.3 186.9,1114.2 187.2,1114.2 187.5,1114.1 187.9,1114.1 188.2,1114 188.5,1114 188.8,1114 189.2,1113.9 189.5,1113.9 189.8,1113.8 190.1,1113.8 190.5,1113.7 190.8,1113.7 191.1,1113.6 191.5,1113.6 191.8,1113.6 192.1,1113.5 192.4,1113.5 192.8,1113.5 193.1,1113.5 193.4,1113.4 193.7,1113.4 194.1,1113.4 194.4,1113.4 194.7,1113.4 195,1113.3 195.4,1113.3 195.7,1113.3 196,1113.3 196.3,1113.2 196.7,1113.2 197,1113.2 197.3,1113.2 197.7,1113.1 198,1113.1 198.3,1113.1 198.6,1113.1 199,1113 199.3,1113 199.6,1113 199.9,1113 200.3,1112.9 200.6,1112.9 200.9,1112.9 201.2,1112.9 201.6,1112.8 201.9,1112.8 202.2,1112.8 202.6,1112.8 202.9,1112.8 203.2,1112.7 203.5,1112.7 203.9,1112.7 204.2,1112.7 204.5,1112.6 204.8,1112.6 205.2,1112.6 205.5,1112.6 205.8,1112.5 206.1,1112.5 206.5,1112.5 206.8,1112.5 207.1,1112.4 207.4,1112.4 207.8,1112.4 208.1,1112.4 208.4,1112.3 208.8,1112.3 209.1,1112.3 209.4,1112.3 209.7,1112.2 210.1,1112.2 210.4,1112.2 210.7,1112.2 211,1112.1 211.4,1112.1 211.7,1112.1 212,1112 212.3,1112 212.7,1112 213,1112 213.3,1111.9 213.7,1111.9 214,1111.9 214.3,1111.9 214.6,1111.8 215,1111.8 215.3,1111.8 215.6,1111.8 215.9,1111.7 216.3,1111.7 216.6,1111.7 216.9,1111.7 217.2,1111.6 217.6,1111.6 217.9,1111.6 218.2,1111.5 218.5,1111.5 218.9,1111.5 219.2,1111.5 219.5,1111.4 219.9,1111.4 220.2,1111.4 220.5,1111.4 220.8,1111.3 221.2,1111.3 221.5,1111.3 221.8,1111.2 222.1,1111.2 222.5,1111.2 222.8,1111.2 223.1,1111.1 223.4,1111.1 223.8,1111.1 224.1,1111 224.4,1111 224.8,1111 225.1,1111 225.4,1111 225.7,1111 226.1,1111 226.4,1111 226.7,1111 227,1111 227.4,1111 227.7,1111 228,1111 228.3,1111 228.7,1111 229,1111 229.3,1111 229.7,1111 230,1111 230.3,1110.9 230.6,1110.9 231,1110.9 231.3,1110.9 231.6,1110.9 231.9,1110.9 232.3,1110.9 232.6,1110.9 232.9,1110.9 233.2,1110.9 233.6,1110.9 233.9,1110.9 234.2,1110.9 234.5,1110.8 234.9,1110.8 235.2,1110.8 235.5,1110.8 235.9,1110.8 236.2,1110.8 236.5,1110.8 236.8,1110.8 237.2,1110.8 237.5,1110.7 237.8,1110.7 238.1,1110.7 238.5,1110.7 238.8,1110.7 239.1,1110.7 239.4,1110.7 239.8,1110.6 240.1,1110.6 240.4,1110.6 240.8,1110.6 241.1,1110.6 241.4,1110.6 241.7,1110.5 242.1,1110.5 242.4,1110.5 242.7,1110.5 243,1110.5 243.4,1110.4 243.7,1110.4 244,1110.4 244.3,1110.4 244.7,1110.4 245,1110.3 245.3,1110.3 245.6,1110.3 246,1110.3 246.3,1110.2 246.6,1110.2 247,1110.2 247.3,1110.1 247.6,1110.1 247.9,1110.1 248.3,1110 248.6,1110 248.9,1110 249.2,1109.9 249.6,1109.9 249.9,1109.8 250.2,1109.8 250.5,1109.8 250.9,1109.7 251.2,1109.7 251.5,1109.6 251.9,1109.6 252.2,1109.5 252.5,1109.5 252.8,1109.4 253.2,1109.3 253.5,1109.3 253.8,1109.2 254.1,1109.1 254.5,1109.1 254.8,1109 255.1,1108.9 255.4,1108.8 255.8,1108.7 256.1,1108.7 256.4,1108.6 256.8,1108.5 257.1,1108.4 257.4,1108.3 257.7,1108.1 258.1,1108 258.4,1107.9 258.7,1107.8 259,1107.6 259.4,1107.5 259.7,1107.4 260,1107.2 260.3,1107.1 260.7,1107 261,1106.8 261.3,1106.7 261.6,1106.5 262,1106.3 262.3,1106.1 262.6,1105.9 263,1105.6 263.3,1105.4 263.6,1105.1 263.9,1104.8 264.3,1104.4 264.6,1104.1 264.9,1103.7 265.2,1103.3 265.6,1102.8 265.9,1102.3 266.2,1101.7 266.5,1101.1 266.9,1100.5 267.2,1099.7 267.5,1098.9 267.9,1098 268.2,1097.1 268.5,1096 268.8,1094.8 269.2,1093.5 269.5,1092.1 269.8,1090.4 270.1,1088.7 270.5,1086.7 270.8,1084.5 271.1,1082 271.4,1079.3 271.8,1076.3 272.1,1073.1 272.4,1069.5 272.7,1065.6 273.1,1061.5 273.4,1057.2 273.7,1052.8 274.1,1048.4 274.4,1044.3 274.7,1040.6 275,1037.6 275.4,1035.5 275.7,1034.4 276,1034.6 276.3,1035.9 276.7,1038.3 277,1041.5 277.3,1045.4 277.6,1049.7 278,1054.2 278.3,1058.7 278.6,1063 279,1067.2 279.3,1071 279.6,1074.6 279.9,1077.9 280.3,1080.9 280.6,1083.7 280.9,1086.1 281.2,1088.4 281.6,1090.4 281.9,1092.2 282.2,1093.9 282.5,1095.4 282.9,1096.7 283.2,1098 283.5,1099.1 283.8,1100.1 284.2,1101.1 284.5,1101.9 284.8,1102.7 285.2,1103.4 285.5,1104.1 285.8,1104.7 286.1,1105.3 286.5,1105.8 286.8,1106.3 287.1,1106.7 287.4,1107.1 287.8,1107.5 288.1,1107.9 288.4,1108.2 288.7,1108.6 289.1,1108.8 289.4,1109.1 289.7,1109.4 290.1,1109.6 290.4,1109.8 290.7,1110.1 291,1110.3 291.4,1110.4 291.7,1110.6 292,1110.8 292.3,1110.9 292.7,1111.1 293,1111.2 293.3,1111.3 293.6,1111.4 294,1111.5 294.3,1111.6 294.6,1111.7 295,1111.8 295.3,1111.9 295.6,1111.9 295.9,1112 296.3,1112 296.6,1112.1 296.9,1112.1 297.2,1112.1 297.6,1112.1 297.9,1112.1 298.2,1112.1 298.5,1112 298.9,1112 299.2,1111.9 299.5,1111.8 299.8,1111.7 300.2,1111.6 300.5,1111.5 300.8,1111.4 301.2,1111.3 301.5,1111.1 301.8,1111 302.1,1110.8 302.5,1110.6 302.8,1110.4 303.1,1110.2 303.4,1110 303.8,1109.8 304.1,1109.5 304.4,1109.3 304.7,1109 305.1,1108.7 305.4,1108.4 305.7,1108 306.1,1107.7 306.4,1107.3 306.7,1106.9 307,1106.4 307.4,1105.9 307.7,1105.4 308,1104.9 308.3,1104.3 308.7,1103.7 309,1103 309.3,1102.2 309.6,1101.5 310,1100.6 310.3,1099.7 310.6,1098.7 310.9,1097.7 311.3,1096.5 311.6,1095.3 311.9,1093.9 312.3,1092.5 312.6,1090.9 312.9,1089.2 313.2,1087.3 313.6,1085.2 313.9,1083 314.2,1080.5 314.5,1077.8 314.9,1074.9 315.2,1071.6 315.5,1068 315.8,1064.1 316.2,1059.8 316.5,1055 316.8,1049.8 317.2,1044 317.5,1037.8 317.8,1031 318.1,1023.6 318.5,1015.7 318.8,1007.4 319.1,998.6 319.4,989.6 319.8,980.7 320.1,972.1 320.4,964.1 320.7,957.2 321.1,951.7 321.4,948.1 321.7,946.6 322.1,947.3 322.4,950.2 322.7,955 323,961.4 323.4,969 323.7,977.5 324,986.4 324.3,995.5 324.7,1004.4 325,1013 325.3,1021.2 325.6,1028.8 326,1035.9 326.3,1042.4 326.6,1048.4 326.9,1053.9 327.3,1058.9 327.6,1063.4 327.9,1067.6 328.3,1071.4 328.6,1074.8 328.9,1078 329.2,1080.8 329.6,1083.4 329.9,1085.8 330.2,1088 330.5,1090 330.9,1091.9 331.2,1093.6 331.5,1095.2 331.8,1096.6 332.2,1098 332.5,1099.2 332.8,1100.4 333.2,1101.4 333.5,1102.4 333.8,1103.4 334.1,1104.2 334.5,1105 334.8,1105.8 335.1,1106.5 335.4,1107.2 335.8,1107.8 336.1,1108.3 336.4,1108.9 336.7,1109.3 337.1,1109.8 337.4,1110.3 337.7,1110.7 338,1111.1 338.4,1111.4 338.7,1111.8 339,1112.1 339.4,1112.4 339.7,1112.7 340,1113 340.3,1113.3 340.7,1113.5 341,1113.8 341.3,1114 341.6,1114.2 342,1114.4 342.3,1114.6 342.6,1114.8 342.9,1115 343.3,1115.2 343.6,1115.3 343.9,1115.5 344.3,1115.6 344.6,1115.8 344.9,1115.9 345.2,1116 345.6,1116.2 345.9,1116.3 346.2,1116.4 346.5,1116.5 346.9,1116.6 347.2,1116.7 347.5,1116.8 347.8,1116.9 348.2,1117 348.5,1117.1 348.8,1117.2 349.1,1117.2 349.5,1117.3 349.8,1117.4 350.1,1117.5 350.5,1117.5 350.8,1117.6 351.1,1117.7 351.4,1117.7 351.8,1117.8 352.1,1117.8 352.4,1117.9 352.7,1117.9 353.1,1118 353.4,1118 353.7,1118.1 354,1118.1 354.4,1118.2 354.7,1118.2 355,1118.2 355.4,1118.3 355.7,1118.3 356,1118.4 356.3,1118.4 356.7,1118.4 357,1118.5 357.3,1118.5 357.6,1118.5 358,1118.5 358.3,1118.6 358.6,1118.6 358.9,1118.6 359.3,1118.6 359.6,1118.7 359.9,1118.7 360.3,1118.7 360.6,1118.7 360.9,1118.8 361.2,1118.8 361.6,1118.8 361.9,1118.8 362.2,1118.8 362.5,1118.8 362.9,1118.9 363.2,1118.9 363.5,1118.9 363.8,1118.9 364.2,1118.9 364.5,1118.9 364.8,1118.9 365.1,1119 365.5,1119 365.8,1119 366.1,1119 366.5,1119 366.8,1119 367.1,1119 367.4,1119 367.8,1119 368.1,1119 368.4,1119 368.7,1119 369.1,1119.1 369.4,1119.1 369.7,1119.1 370,1119.1 370.4,1119.1 370.7,1119.1 371,1119.1 371.4,1119.1 371.7,1119.1 372,1119.1 372.3,1119.1 372.7,1119.1 373,1119.1 373.3,1119.1 373.6,1119.1 374,1119.1 374.3,1119.1 374.6,1119.2 374.9,1119.2 375.3,1119.3 375.6,1119.3 375.9,1119.4 376.2,1119.4 376.6,1119.5 376.9,1119.6 377.2,1119.6 377.6,1119.7 377.9,1119.7 378.2,1119.8 378.5,1119.8 378.9,1119.9 379.2,1119.9 379.5,1120 379.8,1120.1 380.2,1120.1 380.5,1120.2 380.8,1120.2 381.1,1120.3 381.5,1120.3 381.8,1120.4 382.1,1120.4 382.5,1120.5 382.8,1120.5 383.1,1120.6 383.4,1120.6 383.8,1120.7 384.1,1120.7 384.4,1120.8 384.7,1120.8 385.1,1120.9 385.4,1120.9 385.7,1121 386,1121.1 386.4,1121.1 386.7,1121.2 387,1121.2 387.4,1121.3 387.7,1121.3 388,1121.4 388.3,1121.4 388.7,1121.5 389,1121.5 389.3,1121.6 389.6,1121.6 390,1121.7 390.3,1121.7 390.6,1121.8 390.9,1121.8 391.3,1121.9 391.6,1121.9 391.9,1122 392.2,1122 392.6,1122.1 392.9,1122 393.2,1121.9 393.6,1121.8 393.9,1121.7 394.2,1121.6 394.5,1121.5 394.9,1121.4 395.2,1121.3 395.5,1121.2 395.8,1121.1 396.2,1121.1 396.5,1121 396.8,1120.9 397.1,1120.8 397.5,1120.7 397.8,1120.6 398.1,1120.5 398.5,1120.4 398.8,1120.3 399.1,1120.2 399.4,1120.1 399.8,1120 400.1,1120 400.4,1119.9 400.7,1119.8 401.1,1119.7 401.4,1119.6 401.7,1119.5 402,1119.4 402.4,1119.3 402.7,1119.2 403,1119.1 403.3,1119 403.7,1118.9 404,1118.8 404.3,1118.7 404.7,1118.6 405,1118.5 405.3,1118.4 405.6,1118.2 406,1118.1 406.3,1118 406.6,1117.9 406.9,1117.8 407.3,1117.7 407.6,1117.6 407.9,1117.4 408.2,1117.3 408.6,1117.2 408.9,1117.1 409.2,1117 409.6,1116.9 409.9,1116.7 410.2,1116.6 410.5,1116.5 410.9,1116.4 411.2,1116.3 411.5,1116.2 411.8,1116.1 412.2,1115.9 412.5,1115.8 412.8,1115.7 413.1,1115.6 413.5,1115.5 413.8,1115.4 414.1,1115.2 414.4,1115.1 414.8,1115 415.1,1115.1 415.4,1115.2 415.8,1115.3 416.1,1115.4 416.4,1115.5 416.7,1115.7 417.1,1115.8 417.4,1115.9 417.7,1116 418,1116.1 418.4,1116.2 418.7,1116.3 419,1116.4 419.3,1116.5 419.7,1116.6 420,1116.7 420.3,1116.8 420.7,1116.9 421,1117 421.3,1117.2 421.6,1117.3 422,1117.4 422.3,1117.5 422.6,1117.6 422.9,1117.7 423.3,1117.8 423.6,1117.9 423.9,1118 424.2,1118.1 424.6,1118.2 424.9,1118.3 425.2,1118.4 425.6,1118.5 425.9,1118.6 426.2,1118.7 426.5,1118.8 426.9,1118.8 427.2,1118.8 427.5,1118.8 427.8,1118.8 428.2,1118.8 428.5,1118.8 428.8,1118.8 429.1,1118.8 429.5,1118.8 429.8,1118.7 430.1,1118.7 430.4,1118.7 430.8,1118.7 431.1,1118.7 431.4,1118.7 431.8,1118.7 432.1,1118.7 432.4,1118.7 432.7,1118.6 433.1,1118.6 433.4,1118.6 433.7,1118.6 434,1118.6 434.4,1118.6 434.7,1118.6 435,1118.6 435.3,1118.5 435.7,1118.5 436,1118.5 436.3,1118.5 436.7,1118.5 437,1118.5 437.3,1118.4 437.6,1118.4 438,1118.4 438.3,1118.4 438.6,1118.4 438.9,1118.4 439.3,1118.3 439.6,1118.3 439.9,1118.3 440.2,1118.3 440.6,1118.3 440.9,1118.2 441.2,1118.2 441.5,1118.2 441.9,1118.2 442.2,1118.1 442.5,1118.1 442.9,1118.1 443.2,1118.1 443.5,1118 443.8,1118 444.2,1118 444.5,1118 444.8,1117.9 445.1,1117.9 445.5,1117.9 445.8,1117.8 446.1,1117.8 446.4,1117.8 446.8,1117.7 447.1,1117.7 447.4,1117.6 447.8,1117.6 448.1,1117.6 448.4,1117.5 448.7,1117.5 449.1,1117.4 449.4,1117.4 449.7,1117.3 450,1117.3 450.4,1117.2 450.7,1117.2 451,1117.1 451.3,1117.1 451.7,1117 452,1116.9 452.3,1116.9 452.7,1116.8 453,1116.7 453.3,1116.7 453.6,1116.6 454,1116.5 454.3,1116.4 454.6,1116.3 454.9,1116.2 455.3,1116.1 455.6,1116 455.9,1115.9 456.2,1115.8 456.6,1115.7 456.9,1115.6 457.2,1115.5 457.5,1115.3 457.9,1115.2 458.2,1115 458.5,1114.9 458.9,1114.7 459.2,1114.5 459.5,1114.3 459.8,1114.1 460.2,1113.9 460.5,1113.6 460.8,1113.4 461.1,1113.1 461.5,1112.8 461.8,1112.5 462.1,1112.2 462.4,1111.9 462.8,1111.5 463.1,1111.1 463.4,1110.7 463.8,1110.2 464.1,1109.8 464.4,1109.2 464.7,1108.7 465.1,1108.1 465.4,1107.4 465.7,1106.7 466,1105.9 466.4,1105.1 466.7,1104.2 467,1103.2 467.3,1102.1 467.7,1100.8 468,1099.5 468.3,1098.1 468.6,1096.5 469,1094.7 469.3,1092.7 469.6,1090.6 470,1088.2 470.3,1085.6 470.6,1082.8 470.9,1079.6 471.3,1076.3 471.6,1072.6 471.9,1068.7 472.2,1064.6 472.6,1060.4 472.9,1056.2 473.2,1052.2 473.5,1048.4 473.9,1045.2 474.2,1042.7 474.5,1041.1 474.9,1040.6 475.2,1041.1 475.5,1042.7 475.8,1045.1 476.2,1048.3 476.5,1052 476.8,1056.1 477.1,1060.2 477.5,1064.4 477.8,1068.4 478.1,1072.3 478.4,1075.9 478.8,1079.3 479.1,1082.4 479.4,1085.2 479.7,1087.8 480.1,1090.1 480.4,1092.2 480.7,1094.2 481.1,1095.9 481.4,1097.5 481.7,1098.9 482,1100.2 482.4,1101.4 482.7,1102.4 483,1103.4 483.3,1104.3 483.7,1105.1 484,1105.9 484.3,1106.5 484.6,1107.2 485,1107.7 485.3,1108.3 485.6,1108.8 486,1109.2 486.3,1109.6 486.6,1110 486.9,1110.4 487.3,1110.7 487.6,1111 487.9,1111.3 488.2,1111.6 488.6,1112 488.9,1112.2 489.2,1112.5 489.5,1112.8 489.9,1113 490.2,1113.3 490.5,1113.5 490.9,1113.7 491.2,1113.9 491.5,1114.1 491.8,1114.3 492.2,1114.5 492.5,1114.6 492.8,1114.8 493.1,1115 493.5,1115.1 493.8,1115.3 494.1,1115.4 494.4,1115.5 494.8,1115.7 495.1,1115.8 495.4,1115.9 495.7,1116 496.1,1116.2 496.4,1116.3 496.7,1116.4 497.1,1116.5 497.4,1116.6 497.7,1116.7 498,1116.8 498.4,1116.9 498.7,1117 499,1117.1 499.3,1117.2 499.7,1117.3 500,1117.4 500.3,1117.4 500.6,1117.5 501,1117.6 501.3,1117.7 501.6,1117.8 502,1117.8 502.3,1117.9 502.6,1118 502.9,1118.1 503.3,1118.1 503.6,1118.2 503.9,1118.3 504.2,1118.4 504.6,1118.4 504.9,1118.5 505.2,1118.6 505.5,1118.6 505.9,1118.7 506.2,1118.8 506.5,1118.8 506.8,1118.9 507.2,1118.9 507.5,1119 507.8,1119.1 508.2,1119.1 508.5,1119.2 508.8,1119.2 509.1,1119.3 509.5,1119.4 509.8,1119.4 510.1,1119.5 510.4,1119.5 510.8,1119.6 511.1,1119.6 511.4,1119.7 511.7,1119.7 512.1,1119.8 512.4,1119.9 512.7,1119.9 513.1,1120 513.4,1120 513.7,1120.1 514,1120.1 514.4,1120.2 514.7,1120.2 515,1120.3 515.3,1120.3 515.7,1120.4 516,1120.4 516.3,1120.5 516.6,1120.5 517,1120.6 517.3,1120.6 517.6,1120.7 518,1120.7"/><polygon points="93.5,1205.7 95.4,1206.7 97.4,1205.7 99.3,1206.4 101.3,1205.5 103.2,1206 105.1,1203.7 107.1,1202.9 109,1201.2 110.9,1201.3 112.9,1202 114.8,1202.4 116.8,1201.9 118.7,1202.3 120.6,1202.5 122.6,1203.6 124.5,1202.1 126.4,1203.1 128.4,1203.3 130.3,1204.1 132.3,1203.3 134.2,1204.2 136.1,1204.2 138.1,1204.5 140,1203.5 142,1203.9 143.9,1203.6 145.8,1204.8 147.8,1203.5 149.7,1204.3 151.6,1204.6 153.6,1205.8 155.5,1204.1 157.5,1202.9 159.4,1201.7 161.3,1201.7 163.3,1201.9 165.2,1204.8 167.1,1206.7 169.1,1205.3 171,1204.1 173,1204.3 174.9,1206.1 176.8,1205.5 178.8,1204.5 180.7,1202.9 182.7,1202.2 184.6,1202.8 186.5,1203.6 188.5,1205.1 190.4,1204.4 192.3,1205.1 194.3,1205.1 196.2,1203.7 198.2,1202.8 200.1,1201.5 202,1201.2 204,1200.7 205.9,1201.2 207.8,1203 209.8,1204.1 211.7,1203.2 213.7,1203.5 215.6,1201.7 217.5,1202.7 219.5,1202.8 221.4,1204.3 223.4,1203.6 225.3,1203.2 227.2,1202 229.2,1202.8 231.1,1202.7 233,1202.3 235,1202.1 236.9,1201.9 238.9,1202.2 240.8,1201.6 242.7,1202.4 244.7,1205 246.6,1203.7 248.6,1203 250.5,1200.6 252.4,1202.6 254.4,1201.7 256.3,1202.2 258.2,1201.8 260.2,1203.7 262.1,1203.9 264.1,1204.2 266,1203.7 267.9,1204.8 269.9,1198.2 271.8,1187 273.7,1198.1 275.7,1203.9 277.6,1203.9 279.6,1203.2 281.5,1203.7 283.4,1204.6 285.4,1203.7 287.3,1204.4 289.3,1204.1 291.2,1205.1 293.1,1203.9 295.1,1203.8 297,1204.2 298.9,1202.9 300.9,1202.7 302.8,1202.9 304.8,1205 306.7,1205 308.6,1203.6 310.6,1204 312.5,1203.5 314.4,1204.9 316.4,1204.5 318.3,1204.4 320.3,1202.3 322.2,1201.8 324.1,1202.6 326.1,1202.9 328,1203.6 330,1203.2 331.9,1203.9 333.8,1202.4 335.8,1202.4 337.7,1202.8 339.6,1203 341.6,1204.1 343.5,1203.3 345.5,1204.2 347.4,1204.1 349.3,1204.9 351.3,1204.4 353.2,1203.2 355.1,1203.1 357.1,1202.6 359,1202.4 361,1202.4 362.9,1203.6 364.8,1203.6 366.8,1203.4 368.7,1204.2 370.7,1205.5 372.6,1205.6 374.5,1205.1 376.5,1204.9 378.4,1206.2 380.3,1204.9 382.3,1204.3 384.2,1202.9 386.2,1202.2 388.1,1202.6 390,1202.9 392,1202.5 393.9,1203.2 395.8,1202.5 397.8,1204.8 399.7,1203.8 401.7,1202.8 403.6,1201.6 405.5,1202.4 407.5,1202.2 409.4,1202.7 411.4,1202.3 413.3,1203.8 415.2,1204.4 417.2,1203.5 419.1,1202.5 421,1201 423,1201.6 424.9,1202.8 426.9,1202.7 428.8,1205.2 430.7,1205.2 432.7,1205.7 434.6,1204.8 436.5,1204.4 438.5,1204.7 440.4,1203.3 442.4,1203.5 444.3,1203.1 446.2,1202.7 448.2,1203.5 450.1,1204 452.1,1204.5 454,1203.7 455.9,1204 457.9,1203.2 459.8,1202.3 461.7,1200.8 463.7,1200.1 465.6,1200 467.6,1201.4 469.5,1203.2 471.4,1204.6 473.4,1203.8 475.3,1203.5 477.2,1202.5 479.2,1201.7 481.1,1201.9 483.1,1201.9 485,1203.4 486.9,1204 488.9,1205.6 490.8,1205.5 492.8,1206 494.7,1204.7 496.6,1203.4 498.6,1202.9 500.5,1203.5 502.4,1203.5 504.4,1202.4 506.3,1202 508.3,1203.3 510.2,1202.8 512.1,1202.7 514.1,1203.3 516,1205.8 518,1206 518,1215.1 516,1215.3 514.1,1217 512.1,1217.6 510.2,1217.9 508.3,1216.9 506.3,1216 504.4,1216.2 502.4,1216.6 500.5,1217 498.6,1215.6 496.6,1216.4 494.7,1216.3 492.8,1216.9 490.8,1216.1 488.9,1215.1 486.9,1216.2 485,1215.5 483.1,1216.7 481.1,1215.7 479.2,1215.9 477.2,1216.2 475.3,1216.5 473.4,1217.9 471.4,1215.8 469.5,1213.7 467.6,1213.1 465.6,1215 463.7,1218.3 461.7,1217.6 459.8,1217.8 457.9,1216.5 455.9,1216.9 454,1216.3 452.1,1214.3 450.1,1214.2 448.2,1213.9 446.2,1216.1 444.3,1214.9 442.4,1214.7 440.4,1214.9 438.5,1215.8 436.5,1216.7 434.6,1216.5 432.7,1216.7 430.7,1215.1 428.8,1214.6 426.9,1213.7 424.9,1214.8 423,1214.8 421,1215.7 419.1,1216.8 417.2,1216.6 415.2,1216.6 413.3,1215.4 411.4,1217.5 409.4,1218.3 407.5,1217.4 405.5,1216.1 403.6,1217.1 401.7,1218.3 399.7,1218.7 397.8,1216.9 395.8,1216.4 393.9,1216.2 392,1216.8 390,1217 388.1,1215.5 386.2,1214.6 384.2,1214.2 382.3,1214.1 380.3,1214.3 378.4,1214.7 376.5,1216.4 374.5,1216.2 372.6,1216.1 370.7,1215.6 368.7,1216.4 366.8,1215.2 364.8,1216.2 362.9,1214.7 361,1214.6 359,1213.5 357.1,1214.7 355.1,1216.2 353.2,1216 351.3,1216 349.3,1216.1 347.4,1216.4 345.5,1216.1 343.5,1216.7 341.6,1217.9 339.6,1217.4 337.7,1216.8 335.8,1216.2 333.8,1217.2 331.9,1216.5 330,1215.4 328,1213.9 326.1,1214.2 324.1,1214.9 322.2,1216.8 320.3,1217.5 318.3,1218.2 316.4,1217.4 314.4,1216 312.5,1214.9 310.6,1214.1 308.6,1214.7 306.7,1215.6 304.8,1216.4 302.8,1216.1 300.9,1215 298.9,1213.9 297,1214.7 295.1,1214.3 293.1,1217.7 291.2,1216.7 289.3,1217.4 287.3,1214.2 285.4,1213.7 283.4,1213 281.5,1213.2 279.6,1213.7 277.6,1213.6 275.7,1214.2 273.7,1208.4 271.8,1196.8 269.9,1207.2 267.9,1213.1 266,1213.8 264.1,1213.6 262.1,1213.6 260.2,1214.6 258.2,1214.7 256.3,1215 254.4,1213.1 252.4,1214.3 250.5,1214.7 248.6,1216 246.6,1215.4 244.7,1214.6 242.7,1215 240.8,1215.7 238.9,1216.6 236.9,1216.8 235,1215.1 233,1215.1 231.1,1215.7 229.2,1216.3 227.2,1216.5 225.3,1216.5 223.4,1217.2 221.4,1216.9 219.5,1217.1 217.5,1216.4 215.6,1216.2 213.7,1213.7 211.7,1215 209.8,1215.4 207.8,1216.4 205.9,1216 204,1216.3 202,1217.4 200.1,1216.3 198.2,1216 196.2,1214.8 194.3,1215.3 192.3,1214.8 190.4,1215.7 188.5,1214.7 186.5,1215.9 184.6,1215.3 182.7,1215.6 180.7,1214.7 178.8,1214.2 176.8,1214.8 174.9,1214.9 173,1216.4 171,1216.2 169.1,1216.2 167.1,1214.7 165.2,1214.9 163.3,1214.6 161.3,1215.7 159.4,1215.8 157.5,1216.7 155.5,1215 153.6,1214.5 151.6,1213.7 149.7,1216 147.8,1216.1 145.8,1216.6 143.9,1214.7 142,1216.2 140,1215.7 138.1,1216.8 136.1,1216.4 134.2,1217.3 132.3,1217.6 130.3,1217.4 128.4,1217.5 126.4,1215.8 124.5,1214.2 122.6,1214 120.6,1215.8 118.7,1215.8 116.8,1214.4 114.8,1214.9 112.9,1215.3 110.9,1215.9 109,1215.5 107.1,1216.1 105.1,1215.8 103.2,1215.4 101.3,1216.2 99.3,1216.9 97.4,1217 95.4,1214.1 93.5,1214.3" fill="#0000ff"/><polyline class="difB" points="93.5,1216.7 93.8,1213.8 94.2,1216.2 94.5,1210.8 94.8,1203.5 95.1,1216.3 95.5,1205.1 95.8,1197.5 96.1,1211.6 96.4,1211.8 96.8,1211.5 97.1,1215.6 97.4,1213.5 97.7,1199.4 98.1,1215.9 98.4,1208.7 98.7,1223.8 99.1,1201.3 99.4,1195.1 99.7,1223.5 100,1210.4 100.4,1201.1 100.7,1202.2 101,1211.4 101.3,1216.1 101.7,1216 102,1210.3 102.3,1213.8 102.6,1205.4 103,1192.6 103.3,1190.8 103.6,1218.6 103.9,1199.8 104.3,1223.2 104.6,1207.7 104.9,1212.8 105.3,1208.7 105.6,1204.7 105.9,1202.2 106.2,1191.2 106.6,1206.7 106.9,1210.8 107.2,1202.4 107.5,1216.6 107.9,1206.4 108.2,1207.3 108.5,1223 108.8,1207.6 109.2,1212.4 109.5,1211.1 109.8,1208.6 110.2,1210.2 110.5,1205.3 110.8,1206.4 111.1,1204 111.5,1210.7 111.8,1211.5 112.1,1213.4 112.4,1214.7 112.8,1224.4 113.1,1203.4 113.4,1223.7 113.7,1204.3 114.1,1214.4 114.4,1207.7 114.7,1202.5 115,1195.4 115.4,1211.2 115.7,1207.5 116,1217.4 116.4,1211.7 116.7,1208.5 117,1224.3 117.3,1208.6 117.7,1198.9 118,1210.4 118.3,1214.2 118.6,1199.7 119,1200.5 119.3,1211.4 119.6,1229.4 119.9,1196.9 120.3,1202.7 120.6,1208.6 120.9,1207.3 121.3,1217.7 121.6,1212.4 121.9,1218.2 122.2,1210.6 122.6,1204.5 122.9,1222.9 123.2,1225.6 123.5,1194.9 123.9,1215.6 124.2,1203 124.5,1216.9 124.8,1213.7 125.2,1202.1 125.5,1201.5 125.8,1209.3 126.2,1212.1 126.5,1203.5 126.8,1227.7 127.1,1211.4 127.5,1199.8 127.8,1206.9 128.1,1202.3 128.4,1223.6 128.8,1208.3 129.1,1206 129.4,1213.5 129.7,1210.4 130.1,1198.2 130.4,1203.5 130.7,1215.2 131,1219.8 131.4,1231.2 131.7,1207.5 132,1215.9 132.4,1214.4 132.7,1206.6 133,1205.4 133.3,1220 133.7,1214.2 134,1200.8 134.3,1216.8 134.6,1218.9 135,1203 135.3,1219 135.6,1219 135.9,1205 136.3,1203.8 136.6,1206.9 136.9,1213.7 137.3,1204.7 137.6,1212.5 137.9,1212.3 138.2,1208.2 138.6,1199.9 138.9,1208.6 139.2,1207.1 139.5,1197.1 139.9,1211.9 140.2,1209.9 140.5,1226.3 140.8,1209.5 141.2,1216.8 141.5,1199.8 141.8,1212.8 142.1,1204.2 142.5,1201.8 142.8,1204.4 143.1,1206.5 143.5,1215.6 143.8,1212.1 144.1,1193.8 144.4,1211.9 144.8,1212.9 145.1,1221.4 145.4,1198.8 145.7,1198.1 146.1,1216.6 146.4,1202.6 146.7,1215 147,1218.6 147.4,1218.1 147.7,1210.6 148,1214.8 148.4,1207.2 148.7,1208.1 149,1210.6 149.3,1209.5 149.7,1204.9 150,1211.4 150.3,1211.4 150.6,1201.7 151,1219 151.3,1200.6 151.6,1199 151.9,1203.1 152.3,1205.3 152.6,1193.9 152.9,1210.4 153.2,1206.1 153.6,1205.7 153.9,1217.9 154.2,1203.5 154.6,1212 154.9,1206.7 155.2,1192.7 155.5,1203.7 155.9,1219.8 156.2,1212.2 156.5,1205.7 156.8,1203.3 157.2,1219.1 157.5,1211.6 157.8,1209.7 158.1,1214 158.5,1206.1 158.8,1198.2 159.1,1210.9 159.5,1203.6 159.8,1212.1 160.1,1204 160.4,1212.9 160.8,1208.8 161.1,1208.8 161.4,1209.1 161.7,1200.2 162.1,1197.8 162.4,1204.5 162.7,1206.1 163,1216.9 163.4,1213.3 163.7,1206.3 164,1211.4 164.4,1207.2 164.7,1209.1 165,1204.9 165.3,1204.2 165.7,1209.4 166,1205.1 166.3,1215 166.6,1203.2 167,1215.8 167.3,1197 167.6,1200.4 167.9,1210 168.3,1205 168.6,1215.4 168.9,1214 169.2,1206.5 169.6,1215.6 169.9,1204.9 170.2,1219.8 170.6,1208.9 170.9,1205.1 171.2,1202.7 171.5,1211.2 171.9,1208.8 172.2,1210.3 172.5,1214.4 172.8,1218.4 173.2,1222.2 173.5,1212.1 173.8,1204.3 174.1,1214 174.5,1212.1 174.8,1216.7 175.1,1202.6 175.5,1206.6 175.8,1230.4 176.1,1200.9 176.4,1201.6 176.8,1209.2 177.1,1217.9 177.4,1210.4 177.7,1216.3 178.1,1227.6 178.4,1220.9 178.7,1206.6 179,1202.2 179.4,1207.6 179.7,1219.8 180,1205.6 180.3,1221.1 180.7,1212.3 181,1209 181.3,1206.6 181.7,1207.4 182,1217.7 182.3,1221.6 182.6,1209.4 183,1216.4 183.3,1198.1 183.6,1205.1 183.9,1211.8 184.3,1198.7 184.6,1206.8 184.9,1199.8 185.2,1188.9 185.6,1200.3 185.9,1207.1 186.2,1209.4 186.6,1203.2 186.9,1221.4 187.2,1215 187.5,1193.3 187.9,1216.2 188.2,1203.7 188.5,1222.4 188.8,1213.1 189.2,1207.2 189.5,1213.4 189.8,1206.5 190.1,1219.1 190.5,1211.2 190.8,1200.4 191.1,1205 191.5,1212.9 191.8,1206 192.1,1209.5 192.4,1212.4 192.8,1211.6 193.1,1215.1 193.4,1206.1 193.7,1203.6 194.1,1221 194.4,1197.6 194.7,1211.5 195,1215.6 195.4,1212.5 195.7,1213 196,1207.5 196.3,1211.5 196.7,1219.1 197,1222.1 197.3,1206.5 197.7,1212.2 198,1216.4 198.3,1213.6 198.6,1206.9 199,1198.5 199.3,1215.2 199.6,1209.8 199.9,1205.2 200.3,1204.6 200.6,1207.4 200.9,1221.4 201.2,1214.8 201.6,1217.7 201.9,1210.3 202.2,1211.2 202.6,1213.4 202.9,1207.5 203.2,1207.9 203.5,1205.8 203.9,1206.4 204.2,1214.5 204.5,1202.3 204.8,1213.6 205.2,1216.5 205.5,1212.3 205.8,1212.4 206.1,1212.8 206.5,1212.3 206.8,1199.9 207.1,1211.4 207.4,1204.8 207.8,1200 208.1,1210.9 208.4,1216.3 208.8,1220.8 209.1,1215.3 209.4,1192.1 209.7,1217.2 210.1,1213.3 210.4,1202.1 210.7,1208.6 211,1224.2 211.4,1198.3 211.7,1203.3 212,1202.2 212.3,1200.2 212.7,1196.9 213,1191.4 213.3,1208.5 213.7,1205.9 214,1217.2 214.3,1206.5 214.6,1213.5 215,1206.3 215.3,1196.9 215.6,1207.1 215.9,1208.5 216.3,1217.8 216.6,1212.2 216.9,1202.5 217.2,1207.3 217.6,1209.5 217.9,1217.6 218.2,1213.8 218.5,1198.9 218.9,1199.1 219.2,1210.8 219.5,1205.4 219.9,1210.2 220.2,1214.9 220.5,1205.8 220.8,1212.2 221.2,1214.1 221.5,1208.4 221.8,1200.7 222.1,1203.6 222.5,1207.2 222.8,1205.6 223.1,1223 223.4,1208 223.8,1218.8 224.1,1195 224.4,1195.7 224.8,1226.6 225.1,1210.8 225.4,1202.5 225.7,1205.7 226.1,1225.4 226.4,1207.8 226.7,1210.6 227,1214.1 227.4,1222.1 227.7,1206.2 228,1199.6 228.3,1198.4 228.7,1201.4 229,1192.7 229.3,1205.7 229.7,1211.1 230,1215 230.3,1213 230.6,1213.5 231,1215.4 231.3,1208 231.6,1206.2 231.9,1211.9 232.3,1214.1 232.6,1205.5 232.9,1204.3 233.2,1209.8 233.6,1214.8 233.9,1219.7 234.2,1198.2 234.5,1206.2 234.9,1208.4 235.2,1207.3 235.5,1207.9 235.9,1198.8 236.2,1218.6 236.5,1205.4 236.8,1224.3 237.2,1219.2 237.5,1212.6 237.8,1202.8 238.1,1196 238.5,1213.8 238.8,1212.8 239.1,1217.5 239.4,1199.4 239.8,1209.7 240.1,1212.4 240.4,1217.4 240.8,1202.2 241.1,1209.5 241.4,1210.9 241.7,1210.5 242.1,1217.7 242.4,1210.7 242.7,1227.7 243,1227.5 243.4,1207.9 243.7,1212 244,1205 244.3,1216.6 244.7,1212.1 245,1206.7 245.3,1216.7 245.6,1218.8 246,1210.5 246.3,1216.8 246.6,1221.9 247,1199.4 247.3,1208.7 247.6,1214.6 247.9,1209.1 248.3,1214.2 248.6,1227.1 248.9,1217 249.2,1199.5 249.6,1207.6 249.9,1213.3 250.2,1199.5 250.5,1215.1 250.9,1205.1 251.2,1203 251.5,1215.7 251.9,1214.5 252.2,1199.5 252.5,1202.6 252.8,1208.5 253.2,1220.2 253.5,1207.1 253.8,1211.9 254.1,1210 254.5,1213.9 254.8,1213.3 255.1,1211 255.4,1216.4 255.8,1207.2 256.1,1217.5 256.4,1196.3 256.8,1217 257.1,1202.9 257.4,1213.4 257.7,1211.7 258.1,1209.1 258.4,1205.2 258.7,1219.3 259,1195.5 259.4,1209 259.7,1204 260,1213.6 260.3,1217.2 260.7,1201.1 261,1211.8 261.3,1212.2 261.6,1200.9 262,1211.5 262.3,1204.1 262.6,1200.9 263,1204.1 263.3,1215.9 263.6,1198.8 263.9,1206.1 264.3,1197.5 264.6,1192.2 264.9,1205.3 265.2,1219.6 265.6,1202.4 265.9,1208.8 266.2,1216.1 266.5,1203.8 266.9,1210.6 267.2,1208.6 267.5,1213.2 267.9,1218.3 268.2,1204.4 268.5,1215.9 268.8,1207.1 269.2,1204.4 269.5,1208.6 269.8,1202.7 270.1,1195.9 270.5,1193.3 270.8,1193.4 271.1,1191.9 271.4,1184.4 271.8,1180.1 272.1,1201.2 272.4,1186.5 272.7,1183 273.1,1189.3 273.4,1202.3 273.7,1185.7 274.1,1222.4 274.4,1202.1 274.7,1209.8 275,1205.2 275.4,1219.7 275.7,1210.2 276,1202.5 276.3,1208.3 276.7,1215.1 277,1208.7 277.3,1211.2 277.6,1205.9 278,1212.7 278.3,1200.5 278.6,1207.5 279,1199.2 279.3,1200.3 279.6,1214.3 279.9,1200.8 280.3,1220.3 280.6,1210.4 280.9,1200.3 281.2,1213.9 281.6,1203.9 281.9,1209.7 282.2,1218.1 282.5,1201.2 282.9,1207.3 283.2,1209.4 283.5,1212.7 283.8,1210.6 284.2,1191 284.5,1206.8 284.8,1201 285.2,1214.4 285.5,1203.8 285.8,1207.1 286.1,1209.6 286.5,1209 286.8,1195.7 287.1,1197.7 287.4,1210.7 287.8,1227.4 288.1,1206.5 288.4,1215.4 288.7,1213.5 289.1,1207.2 289.4,1221.3 289.7,1204 290.1,1206.8 290.4,1204 290.7,1205.7 291,1227.3 291.4,1210.6 291.7,1200.2 292,1210.7 292.3,1211.1 292.7,1211.7 293,1210.2 293.3,1204.7 293.6,1206.5 294,1212.5 294.3,1208.5 294.6,1203.7 295,1213.1 295.3,1226.9 295.6,1203.2 295.9,1223.4 296.3,1211.3 296.6,1215.6 296.9,1213 297.2,1199.1 297.6,1213.6 297.9,1210 298.2,1214.4 298.5,1222.4 298.9,1215 299.2,1203.1 299.5,1200 299.8,1214.2 300.2,1197.1 300.5,1222.1 300.8,1196.3 301.2,1220.3 301.5,1224 301.8,1213.6 302.1,1221.1 302.5,1211.2 302.8,1202.1 303.1,1201.9 303.4,1197 303.8,1201.1 304.1,1212 304.4,1202.4 304.7,1203.5 305.1,1212 305.4,1198.6 305.7,1192.6 306.1,1201.5 306.4,1221 306.7,1210.6 307,1205.2 307.4,1209.2 307.7,1220.8 308,1214.9 308.3,1216.8 308.7,1215.4 309,1213 309.3,1209.5 309.6,1216.2 310,1207.6 310.3,1206.2 310.6,1212.2 310.9,1214.8 311.3,1215.6 311.6,1213.6 311.9,1210.2 312.3,1205.3 312.6,1194.9 312.9,1214 313.2,1206.2 313.6,1212.7 313.9,1212.4 314.2,1201.1 314.5,1191.5 314.9,1214.1 315.2,1191.9 315.5,1202.7 315.8,1217.1 316.2,1211.9 316.5,1220.5 316.8,1213.4 317.2,1217.4 317.5,1213.4 317.8,1210.5 318.1,1213.4 318.5,1206.2 318.8,1209.9 319.1,1205.7 319.4,1203.6 319.8,1219.4 320.1,1213.3 320.4,1205.2 320.7,1220.5 321.1,1196.7 321.4,1210.5 321.7,1211.3 322.1,1200.2 322.4,1212.2 322.7,1204.2 323,1210.6 323.4,1225.9 323.7,1204.7 324,1203.7 324.3,1213.4 324.7,1218.4 325,1211.5 325.3,1204 325.6,1204.9 326,1207 326.3,1226.4 326.6,1192.8 326.9,1213.5 327.3,1206.8 327.6,1205.9 327.9,1207.7 328.3,1226.7 328.6,1215 328.9,1199.9 329.2,1213.9 329.6,1198.6 329.9,1214.9 330.2,1205.6 330.5,1228.6 330.9,1199.4 331.2,1198.8 331.5,1216.3 331.8,1221 332.2,1208.2 332.5,1211.4 332.8,1213.2 333.2,1197.2 333.5,1206.6 333.8,1206.2 334.1,1201.7 334.5,1206.4 334.8,1207.4 335.1,1212.4 335.4,1217.7 335.8,1210.4 336.1,1210.1 336.4,1215.9 336.7,1202.4 337.1,1225.1 337.4,1204 337.7,1209.1 338,1209.5 338.4,1202.9 338.7,1214.9 339,1205.2 339.4,1196.9 339.7,1207.6 340,1215.8 340.3,1205.7 340.7,1206.5 341,1213.3 341.3,1207.9 341.6,1205.7 342,1221 342.3,1215.3 342.6,1206 342.9,1211.7 343.3,1227.5 343.6,1198.7 343.9,1212.3 344.3,1225.1 344.6,1206.4 344.9,1214.4 345.2,1203.6 345.6,1213.6 345.9,1208.4 346.2,1198.7 346.5,1204.9 346.9,1208.4 347.2,1214.4 347.5,1221.3 347.8,1207.6 348.2,1197.4 348.5,1199 348.8,1211.7 349.1,1206.9 349.5,1213.4 349.8,1214.2 350.1,1218.7 350.5,1198 350.8,1198.8 351.1,1211.4 351.4,1199.5 351.8,1215.5 352.1,1205.7 352.4,1202.6 352.7,1200.5 353.1,1228.1 353.4,1207.9 353.7,1204.4 354,1207.2 354.4,1207 354.7,1214.3 355,1211.9 355.4,1205.5 355.7,1223.3 356,1213.2 356.3,1214.4 356.7,1217.8 357,1211.9 357.3,1203.2 357.6,1209.6 358,1210.2 358.3,1217.4 358.6,1199.5 358.9,1225.9 359.3,1207.6 359.6,1210.7 359.9,1213.8 360.3,1217.6 360.6,1208.7 360.9,1205 361.2,1212.4 361.6,1223 361.9,1205.2 362.2,1218.6 362.5,1208.8 362.9,1211.4 363.2,1205.5 363.5,1207.9 363.8,1207.7 364.2,1199 364.5,1208.2 364.8,1195.4 365.1,1217 365.5,1217.5 365.8,1204.1 366.1,1202 366.5,1196.8 366.8,1206.9 367.1,1209.4 367.4,1202.8 367.8,1210.3 368.1,1199.9 368.4,1212.5 368.7,1209.5 369.1,1210 369.4,1197.4 369.7,1207.6 370,1200.6 370.4,1214.6 370.7,1203.3 371,1215.5 371.4,1207 371.7,1214 372,1218.1 372.3,1214.9 372.7,1206.3 373,1200.1 373.3,1209.4 373.6,1205 374,1215.1 374.3,1210.2 374.6,1217.9 374.9,1209.1 375.3,1211 375.6,1221.8 375.9,1227.3 376.2,1215.7 376.6,1205.8 376.9,1214 377.2,1206.5 377.6,1205.8 377.9,1204.7 378.2,1202.5 378.5,1214.6 378.9,1199.1 379.2,1201.2 379.5,1211.5 379.8,1201.7 380.2,1219.3 380.5,1202.8 380.8,1203.2 381.1,1211.4 381.5,1206.4 381.8,1209.3 382.1,1212.7 382.5,1205 382.8,1201.9 383.1,1208 383.4,1206 383.8,1222 384.1,1203.4 384.4,1207.3 384.7,1212.1 385.1,1230.3 385.4,1205.4 385.7,1214.7 386,1205.9 386.4,1201.4 386.7,1216.6 387,1212.6 387.4,1206.3 387.7,1211 388,1214.7 388.3,1205.9 388.7,1205.3 389,1216 389.3,1206.4 389.6,1214.5 390,1201.5 390.3,1205.7 390.6,1218.4 390.9,1198.1 391.3,1210.9 391.6,1204 391.9,1222.3 392.2,1210.7 392.6,1212 392.9,1210.5 393.2,1206.5 393.6,1194.9 393.9,1211.2 394.2,1214.9 394.5,1216.8 394.9,1197.8 395.2,1198 395.5,1226.5 395.8,1220.3 396.2,1208.3 396.5,1212.3 396.8,1193.3 397.1,1202.4 397.5,1187.4 397.8,1205 398.1,1206.5 398.5,1220.6 398.8,1218 399.1,1224.9 399.4,1210.4 399.8,1208.3 400.1,1212.3 400.4,1209.8 400.7,1211.8 401.1,1207.5 401.4,1206.4 401.7,1206.5 402,1208.9 402.4,1216.4 402.7,1223.2 403,1200.5 403.3,1194.5 403.7,1211.6 404,1212 404.3,1200 404.7,1200.1 405,1218.3 405.3,1207.4 405.6,1205 406,1212 406.3,1215.2 406.6,1213.5 406.9,1203.4 407.3,1202.9 407.6,1201.5 407.9,1220.6 408.2,1216 408.6,1201.8 408.9,1208.5 409.2,1202.7 409.6,1226.9 409.9,1226.8 410.2,1216.9 410.5,1210.4 410.9,1210.5 411.2,1216.1 411.5,1203.2 411.8,1213.6 412.2,1221.8 412.5,1199.7 412.8,1220.7 413.1,1208.8 413.5,1203.6 413.8,1206.6 414.1,1201.5 414.4,1212.8 414.8,1200.7 415.1,1205.3 415.4,1209.4 415.8,1189.5 416.1,1207.3 416.4,1208.5 416.7,1212.6 417.1,1196.2 417.4,1215.2 417.7,1207.1 418,1191 418.4,1204.2 418.7,1218.7 419,1195.5 419.3,1214.5 419.7,1214.9 420,1200 420.3,1198.5 420.7,1210.3 421,1195.7 421.3,1212.5 421.6,1202.8 422,1210.7 422.3,1194.2 422.6,1208.1 422.9,1212.6 423.3,1212.6 423.6,1203.1 423.9,1206.8 424.2,1217.2 424.6,1211.9 424.9,1210.1 425.2,1210.4 425.6,1221.1 425.9,1200.7 426.2,1211.5 426.5,1212.2 426.9,1211.4 427.2,1210.4 427.5,1203.9 427.8,1210.5 428.2,1215.2 428.5,1218 428.8,1209.9 429.1,1206.7 429.5,1203.8 429.8,1205.6 430.1,1196.5 430.4,1208.3 430.8,1207.9 431.1,1207 431.4,1220.6 431.8,1197.8 432.1,1218 432.4,1198.2 432.7,1199 433.1,1214.3 433.4,1200.1 433.7,1197.6 434,1188.8 434.4,1213.5 434.7,1215.2 435,1207.9 435.3,1215.7 435.7,1199 436,1199.9 436.3,1218.7 436.7,1215.8 437,1189.8 437.3,1210.7 437.6,1207.9 438,1210.7 438.3,1215.8 438.6,1212.3 438.9,1216.5 439.3,1223.8 439.6,1205.2 439.9,1212.9 440.2,1206.2 440.6,1216.4 440.9,1211.6 441.2,1204.8 441.5,1200 441.9,1212.3 442.2,1198.6 442.5,1213 442.9,1198.7 443.2,1212.3 443.5,1202.9 443.8,1216.4 444.2,1210.8 444.5,1203.1 444.8,1207.6 445.1,1200.4 445.5,1211.3 445.8,1197.1 446.1,1213.3 446.4,1224 446.8,1202.5 447.1,1203.6 447.4,1201.6 447.8,1206.3 448.1,1194.4 448.4,1212 448.7,1206.9 449.1,1216.2 449.4,1207.2 449.7,1224.1 450,1198.9 450.4,1209.3 450.7,1227.4 451,1223.4 451.3,1220.7 451.7,1201.6 452,1218.9 452.3,1221.9 452.7,1215.7 453,1214.6 453.3,1214.4 453.6,1215.4 454,1220.9 454.3,1210.2 454.6,1195.6 454.9,1209.6 455.3,1205.1 455.6,1207.8 455.9,1203.7 456.2,1206.3 456.6,1208.1 456.9,1208.5 457.2,1200.8 457.5,1214 457.9,1228 458.2,1217 458.5,1211.3 458.9,1220.2 459.2,1205.9 459.5,1200.5 459.8,1222 460.2,1217.2 460.5,1212.3 460.8,1227.4 461.1,1209.5 461.5,1210.1 461.8,1210.2 462.1,1205.7 462.4,1199 462.8,1212.4 463.1,1209.8 463.4,1221.8 463.8,1206.9 464.1,1216.5 464.4,1207.7 464.7,1205 465.1,1214.1 465.4,1202.4 465.7,1216.3 466,1208.9 466.4,1203.9 466.7,1216.8 467,1201.1 467.3,1209.9 467.7,1200.6 468,1212 468.3,1207.3 468.6,1208.2 469,1214.6 469.3,1216.8 469.6,1215.2 470,1194.3 470.3,1212.5 470.6,1215.6 470.9,1214 471.3,1217.5 471.6,1223.3 471.9,1198.4 472.2,1196.7 472.6,1203.8 472.9,1211.3 473.2,1214.1 473.5,1202.6 473.9,1211.1 474.2,1199.1 474.5,1205.3 474.9,1207.6 475.2,1202.8 475.5,1203.4 475.8,1207.6 476.2,1214 476.5,1216.4 476.8,1201.5 477.1,1219.3 477.5,1200.8 477.8,1209.7 478.1,1203.7 478.4,1214.1 478.8,1207.5 479.1,1218.2 479.4,1220.5 479.7,1209.2 480.1,1218.6 480.4,1198.4 480.7,1203.9 481.1,1216.2 481.4,1204.7 481.7,1205.5 482,1206.2 482.4,1203 482.7,1210.9 483,1219.5 483.3,1206.8 483.7,1200 484,1209.4 484.3,1208.7 484.6,1212 485,1203.4 485.3,1222 485.6,1209.4 486,1211.4 486.3,1208.9 486.6,1212.3 486.9,1211.9 487.3,1223.1 487.6,1214 487.9,1212 488.2,1210.8 488.6,1199 488.9,1204.8 489.2,1200.5 489.5,1206.9 489.9,1203.1 490.2,1199 490.5,1208.6 490.9,1208 491.2,1211.1 491.5,1207.9 491.8,1199 492.2,1216.8 492.5,1198.6 492.8,1196.2 493.1,1205.2 493.5,1207.4 493.8,1200.5 494.1,1205.6 494.4,1198.6 494.8,1208.8 495.1,1222.8 495.4,1210.7 495.7,1209.7 496.1,1211.4 496.4,1198.3 496.7,1208.3 497.1,1198.4 497.4,1206 497.7,1216 498,1215.8 498.4,1197 498.7,1221.5 499,1210 499.3,1211.6 499.7,1226.3 500,1204.2 500.3,1216.9 500.6,1217.7 501,1206 501.3,1206.4 501.6,1209.8 502,1208.5 502.3,1203.5 502.6,1211 502.9,1211.1 503.3,1207.8 503.6,1203.5 503.9,1206 504.2,1214.8 504.6,1203.7 504.9,1208.2 505.2,1204.3 505.5,1224.9 505.9,1204.5 506.2,1207.6 506.5,1216.4 506.8,1215.8 507.2,1205.7 507.5,1214.6 507.8,1203.5 508.2,1208.2 508.5,1216.3 508.8,1208.8 509.1,1207.4 509.5,1196.7 509.8,1206.9 510.1,1213.4 510.4,1213.9 510.8,1205.3 511.1,1206.4 511.4,1213.1 511.7,1204.8 512.1,1199.2 512.4,1214.1 512.7,1214.9 513.1,1198.8 513.4,1216 513.7,1205.4 514,1228.1 514.4,1206.7 514.7,1208.7 515,1194.8 515.3,1208.8 515.7,1216.6 516,1228.9 516.3,1199.2 516.6,1220.4 517,1199.6 517.3,1217.8 517.6,1223.5 518,1220.6"/><path d="M275.8,1157V1171.3M321.7,1157V1171.3M474.9,1157V1171.3" stroke="#555" stroke-width="1.4"/><text x="270.7" y="1319.7" font-size="18" fill="#1a1a1a" stroke="#1a1a1a" textLength="81.4" lengthAdjust="spacingAndGlyphs" style="stroke-width:0.75px">2 Theta (°)</text><text x="30.6" y="1094.5" font-size="17.5" text-anchor="middle" fill="#1a1a1a" stroke="#1a1a1a" textLength="153" lengthAdjust="spacingAndGlyphs" transform="rotate(-90 30.6 1094.5)" >Intensity (Counts)</text><text x="8.9" y="923.2" font-size="40" fill="#111" stroke="#111" font-weight="bold" textLength="28.4" lengthAdjust="spacingAndGlyphs" style="font-family:'Liberation Serif',serif">C</text><text x="282.9" y="1009.2" font-size="17" fill="#1a1a1a" stroke="#1a1a1a" textLength="27.4" lengthAdjust="spacingAndGlyphs" transform="rotate(-90 282.9 1009.2)" >111</text><text x="328.3" y="928.3" font-size="17" fill="#1a1a1a" stroke="#1a1a1a" textLength="27.4" lengthAdjust="spacingAndGlyphs" transform="rotate(-90 328.3 928.3)" >200</text><text x="480.1" y="1008.6" font-size="17" fill="#1a1a1a" stroke="#1a1a1a" textLength="27.4" lengthAdjust="spacingAndGlyphs" transform="rotate(-90 480.1 1008.6)" >220</text><circle cx="434.4" cy="889.8" r="3.8" fill="none" stroke="#222" stroke-width="1.5"/><path d="M413.3,911.3H455.5" stroke="#ff0000" stroke-width="2.7" stroke-linecap="round"/><path d="M413.3,932.5H455.5" stroke="#0000ff" stroke-width="2.7" stroke-linecap="round"/><path d="M434.2,951.5V960.2" stroke="#555" stroke-width="1.4"/><text x="461.9" y="892.6" font-size="15.3" fill="#1a1a1a" stroke="#1a1a1a" font-weight="bold" textLength="58.4" lengthAdjust="spacingAndGlyphs" style="stroke-width:0.1px">TiN(SD)</text><text x="459.8" y="918" font-size="18.2" fill="#1a1a1a" stroke="#1a1a1a" >Fitting</text><text x="459.8" y="939.2" font-size="18.2" fill="#1a1a1a" stroke="#1a1a1a" textLength="82.9" lengthAdjust="spacingAndGlyphs" >Difference</text><text x="459.8" y="960.4" font-size="18.2" fill="#1a1a1a" stroke="#1a1a1a" >Bragg</text></g>
</svg></body></html>
